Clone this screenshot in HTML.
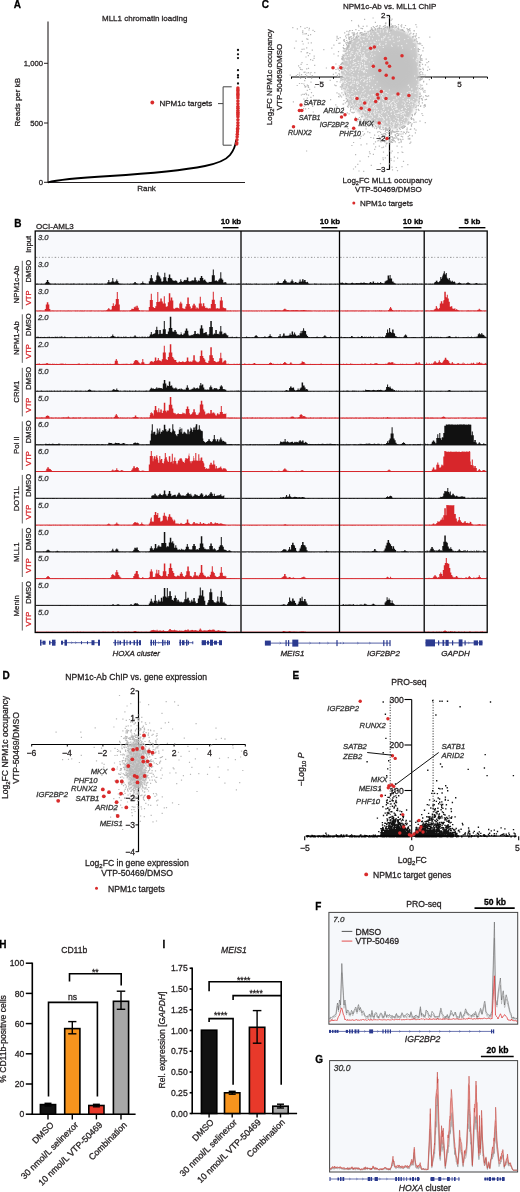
<!DOCTYPE html>
<html><head><meta charset="utf-8"><title>Figure</title>
<style>
html,body{margin:0;padding:0;background:#fff;}
body{width:520px;height:1192px;overflow:hidden;}
svg{display:block;font-family:"Liberation Sans", Arial, Helvetica, sans-serif;}
</style></head><body>
<svg width="520" height="1192" viewBox="0 0 520 1192">
<defs><filter id="blur3" x="-50%" y="-50%" width="200%" height="200%"><feGaussianBlur stdDeviation="3"/></filter><filter id="blur2" x="-50%" y="-50%" width="200%" height="200%"><feGaussianBlur stdDeviation="2"/></filter><filter id="blur1" x="-50%" y="-50%" width="200%" height="200%"><feGaussianBlur stdDeviation="1"/></filter></defs>
<rect width="520" height="1192" fill="#fff"/>
<text x="13.70" y="7.80" font-size="10" font-weight="bold" fill="#000" stroke="#000" stroke-width="0.28">A</text>
<text x="102.00" y="21.18" font-size="8" fill="#231f20" stroke="#231f20" stroke-width="0.28">MLL1 chromatin loading</text>
<line x1="48.00" y1="21.50" x2="48.00" y2="182.50" stroke="#231f20" stroke-width="1.1"/>
<line x1="47.50" y1="182.50" x2="245.00" y2="182.50" stroke="#231f20" stroke-width="1.1"/>
<line x1="44.00" y1="63.30" x2="48.00" y2="63.30" stroke="#231f20" stroke-width="1"/>
<text x="43.00" y="66.07" font-size="7.7" text-anchor="end" fill="#231f20" stroke="#231f20" stroke-width="0.28">1,000</text>
<line x1="44.00" y1="123.00" x2="48.00" y2="123.00" stroke="#231f20" stroke-width="1"/>
<text x="43.00" y="125.77" font-size="7.7" text-anchor="end" fill="#231f20" stroke="#231f20" stroke-width="0.28">500</text>
<line x1="44.00" y1="182.30" x2="48.00" y2="182.30" stroke="#231f20" stroke-width="1"/>
<text x="43.00" y="185.07" font-size="7.7" text-anchor="end" fill="#231f20" stroke="#231f20" stroke-width="0.28">0</text>
<text transform="translate(19.68,102.20) rotate(-90)" font-size="8" text-anchor="middle" fill="#231f20" stroke="#231f20" stroke-width="0.28">Reads per kB</text>
<text x="146.50" y="191.38" font-size="8" text-anchor="middle" fill="#231f20" stroke="#231f20" stroke-width="0.28">Rank</text>
<path d="M48,182.3 C60,179 80,177.8 110,176 C150,173.5 185,170 205,166 C218,163.3 226,160 230,155 C234,150 235.5,146 236.2,140" fill="none" stroke="#000" stroke-width="1.9"/>
<path d="M231.7,86.8 H223.1 V145.2 H231.7 M223.1,103.6 H218" fill="none" stroke="#444" stroke-width="1"/>
<circle cx="152.30" cy="102.50" r="1.9" fill="#d92b2b"/>
<text x="159.40" y="105.68" font-size="8" fill="#231f20" stroke="#231f20" stroke-width="0.28">NPM1c targets</text>
<circle cx="238.00" cy="50.00" r="1.15" fill="#111"/>
<circle cx="238.00" cy="54.30" r="1.15" fill="#111"/>
<circle cx="238.00" cy="58.10" r="1.15" fill="#111"/>
<circle cx="238.00" cy="70.20" r="1.15" fill="#111"/>
<circle cx="238.00" cy="75.20" r="1.15" fill="#111"/>
<circle cx="238.00" cy="77.40" r="1.15" fill="#111"/>
<circle cx="238.00" cy="83.50" r="1.15" fill="#111"/>
<circle cx="237.90" cy="88.00" r="1.75" fill="#d92b2b"/>
<circle cx="237.90" cy="89.67" r="1.75" fill="#d92b2b"/>
<circle cx="237.90" cy="91.08" r="1.75" fill="#d92b2b"/>
<circle cx="237.90" cy="93.07" r="1.75" fill="#d92b2b"/>
<circle cx="237.90" cy="94.58" r="1.75" fill="#d92b2b"/>
<circle cx="237.90" cy="95.91" r="1.75" fill="#d92b2b"/>
<circle cx="237.90" cy="97.92" r="1.75" fill="#d92b2b"/>
<circle cx="237.90" cy="100.95" r="1.75" fill="#d92b2b"/>
<circle cx="237.90" cy="103.75" r="1.75" fill="#d92b2b"/>
<circle cx="237.90" cy="106.48" r="1.75" fill="#d92b2b"/>
<circle cx="237.90" cy="108.13" r="1.75" fill="#d92b2b"/>
<circle cx="237.90" cy="110.40" r="1.75" fill="#d92b2b"/>
<circle cx="237.90" cy="112.15" r="1.75" fill="#d92b2b"/>
<circle cx="237.90" cy="113.70" r="1.75" fill="#d92b2b"/>
<circle cx="237.90" cy="115.11" r="1.75" fill="#d92b2b"/>
<circle cx="237.90" cy="116.74" r="1.75" fill="#d92b2b"/>
<circle cx="237.90" cy="119.80" r="1.75" fill="#d92b2b"/>
<circle cx="237.90" cy="122.65" r="1.75" fill="#d92b2b"/>
<circle cx="237.87" cy="125.47" r="1.75" fill="#d92b2b"/>
<circle cx="237.69" cy="128.27" r="1.75" fill="#d92b2b"/>
<circle cx="237.58" cy="129.85" r="1.75" fill="#d92b2b"/>
<circle cx="237.47" cy="131.67" r="1.75" fill="#d92b2b"/>
<circle cx="237.31" cy="134.13" r="1.75" fill="#d92b2b"/>
<circle cx="237.13" cy="136.79" r="1.75" fill="#d92b2b"/>
<circle cx="236.94" cy="139.70" r="1.75" fill="#d92b2b"/>
<circle cx="236.75" cy="142.66" r="1.75" fill="#d92b2b"/>
<circle cx="236.66" cy="144.04" r="1.75" fill="#d92b2b"/>
<text x="261.70" y="7.90" font-size="10" font-weight="bold" fill="#000" stroke="#000" stroke-width="0.28">C</text>
<text x="343.00" y="8.78" font-size="8" fill="#231f20" stroke="#231f20" stroke-width="0.28">NPM1c-Ab vs. MLL1 ChIP</text>
<line x1="389.50" y1="15.40" x2="389.50" y2="169.60" stroke="#000" stroke-width="1.2"/>
<line x1="291.00" y1="77.00" x2="487.50" y2="77.00" stroke="#000" stroke-width="1.2"/>
<line x1="291.50" y1="77.00" x2="291.50" y2="78.80" stroke="#000" stroke-width="1"/>
<line x1="305.50" y1="77.00" x2="305.50" y2="78.80" stroke="#000" stroke-width="1"/>
<line x1="319.50" y1="77.00" x2="319.50" y2="78.80" stroke="#000" stroke-width="1"/>
<line x1="333.50" y1="77.00" x2="333.50" y2="78.80" stroke="#000" stroke-width="1"/>
<line x1="347.50" y1="77.00" x2="347.50" y2="78.80" stroke="#000" stroke-width="1"/>
<line x1="361.50" y1="77.00" x2="361.50" y2="78.80" stroke="#000" stroke-width="1"/>
<line x1="375.50" y1="77.00" x2="375.50" y2="78.80" stroke="#000" stroke-width="1"/>
<line x1="389.50" y1="77.00" x2="389.50" y2="78.80" stroke="#000" stroke-width="1"/>
<line x1="403.50" y1="77.00" x2="403.50" y2="78.80" stroke="#000" stroke-width="1"/>
<line x1="417.50" y1="77.00" x2="417.50" y2="78.80" stroke="#000" stroke-width="1"/>
<line x1="431.50" y1="77.00" x2="431.50" y2="78.80" stroke="#000" stroke-width="1"/>
<line x1="445.50" y1="77.00" x2="445.50" y2="78.80" stroke="#000" stroke-width="1"/>
<line x1="459.50" y1="77.00" x2="459.50" y2="78.80" stroke="#000" stroke-width="1"/>
<line x1="473.50" y1="77.00" x2="473.50" y2="78.80" stroke="#000" stroke-width="1"/>
<line x1="487.50" y1="77.00" x2="487.50" y2="78.80" stroke="#000" stroke-width="1"/>
<line x1="386.50" y1="15.40" x2="389.50" y2="15.40" stroke="#000" stroke-width="1"/>
<line x1="386.50" y1="46.20" x2="389.50" y2="46.20" stroke="#000" stroke-width="1"/>
<line x1="386.50" y1="77.00" x2="389.50" y2="77.00" stroke="#000" stroke-width="1"/>
<line x1="386.50" y1="107.80" x2="389.50" y2="107.80" stroke="#000" stroke-width="1"/>
<line x1="386.50" y1="138.60" x2="389.50" y2="138.60" stroke="#000" stroke-width="1"/>
<line x1="386.50" y1="169.40" x2="389.50" y2="169.40" stroke="#000" stroke-width="1"/>
<g filter="url(#blur1)"><path d="M357,36.5 L376,29 L391.5,27 L407,32.7 L416.5,42 L418.5,60 L419,80 L418.5,100 L410.8,115 L407,123 L395,129 L384,127 L372,123 L361,115 L349,104 L343.5,88.5 L341.5,73 L343.5,57.7 L349,44 Z" fill="#c9c9c9"/></g>
<g filter="url(#blur3)"><ellipse cx="394" cy="69" rx="21" ry="23" fill="#c2c2c2"/></g>
<path d="M376.5 102.1h0M381.6 115.5h0M412.1 106.8h0M358.1 78.1h0M356.9 82.7h0M352.3 81.8h0M386.7 118.0h0M376.4 29.7h0M415.1 42.1h0M383.8 118.0h0M366.4 116.3h0M363.7 81.6h0M400.5 96.4h0M353.0 83.4h0M408.2 85.4h0M385.7 103.7h0M384.2 108.9h0M374.0 100.1h0M353.7 96.4h0M349.9 72.8h0M379.5 44.4h0M346.0 92.2h0M386.9 117.0h0M404.4 120.2h0M414.9 103.2h0M343.6 76.2h0M372.5 38.8h0M350.9 55.6h0M357.9 54.8h0M393.4 99.9h0M350.2 78.1h0M416.4 59.2h0M344.8 57.5h0M416.9 101.6h0M405.2 107.6h0M367.0 48.4h0M362.8 58.5h0M382.6 97.0h0M375.6 31.2h0M348.9 94.3h0M354.1 81.9h0M356.6 52.0h0M383.1 40.0h0M348.0 93.6h0M356.2 91.3h0M417.7 57.6h0M398.6 125.9h0M367.6 77.9h0M353.7 66.6h0M349.8 99.0h0M387.5 31.9h0M414.5 47.5h0M363.1 76.3h0M363.4 70.9h0M357.5 88.5h0M354.6 98.6h0M388.1 37.8h0M379.7 116.6h0M364.5 70.8h0M392.2 37.0h0M371.8 53.9h0M399.1 122.3h0M391.6 45.3h0M407.2 101.1h0M375.4 84.6h0M382.9 94.5h0M353.0 69.8h0M370.7 108.4h0M403.9 113.6h0M359.3 51.2h0M364.7 36.8h0M397.2 108.8h0M354.6 99.0h0M365.5 68.8h0M358.6 72.7h0M360.0 107.7h0M364.9 112.6h0M366.0 105.0h0M373.2 89.7h0M409.5 118.5h0M355.8 107.8h0M387.6 105.0h0M400.1 112.0h0M357.9 108.6h0M387.4 127.5h0M390.4 103.8h0M353.3 63.3h0M373.9 108.0h0M371.2 78.7h0M373.4 100.5h0M354.7 62.9h0M389.3 39.8h0M345.6 73.7h0M376.9 113.2h0M350.2 94.3h0M379.1 101.8h0M360.5 65.9h0M344.8 87.1h0M347.4 86.9h0M378.3 103.2h0M380.5 122.9h0M396.2 109.4h0M360.0 49.9h0M356.8 46.9h0M417.1 59.6h0M396.2 104.7h0M386.7 122.4h0M365.0 71.9h0M393.0 101.5h0M353.7 92.1h0M377.7 45.7h0M343.8 83.6h0M364.7 59.6h0M363.5 87.8h0M350.4 81.0h0M353.4 49.0h0M410.5 92.0h0M394.1 124.8h0M345.2 81.0h0M366.0 45.2h0M345.7 56.7h0M396.9 98.8h0M355.8 69.1h0M362.9 102.0h0M349.7 70.0h0M379.0 124.0h0M357.5 96.8h0M413.5 110.1h0M376.3 108.0h0M361.1 114.0h0M412.0 92.4h0M348.7 89.0h0M360.5 80.8h0M387.4 31.8h0M371.3 51.0h0M352.7 53.5h0M350.3 65.0h0M388.6 115.5h0M357.6 105.2h0M352.1 101.2h0M390.1 119.1h0M378.3 124.7h0M364.2 81.7h0M387.5 127.8h0M409.2 118.9h0M416.0 60.8h0M366.0 65.7h0M411.9 100.9h0M384.1 119.8h0M353.4 59.5h0M373.8 94.8h0M403.1 101.0h0M354.5 81.3h0M372.8 106.8h0M374.6 108.1h0M367.3 65.9h0M377.1 101.1h0M404.4 102.0h0M363.1 44.8h0M395.4 30.1h0M409.6 99.6h0M356.7 95.7h0M344.9 66.1h0M418.1 84.5h0M396.7 123.4h0M366.1 112.8h0M400.3 95.6h0M416.4 102.6h0M346.0 69.3h0M354.9 66.2h0M364.1 93.9h0M372.0 103.1h0M360.1 67.7h0M352.8 100.8h0M368.4 35.3h0M354.6 105.9h0M402.6 48.1h0M356.4 81.8h0M378.2 97.7h0M375.1 50.4h0M376.5 98.1h0M382.6 90.7h0M355.2 57.8h0M374.8 114.9h0M358.1 87.7h0M361.1 40.6h0M368.2 94.9h0M357.3 66.4h0M374.7 118.4h0M354.6 62.6h0M367.1 104.2h0M364.7 55.4h0M403.0 113.8h0M366.1 80.1h0M404.4 116.5h0M388.9 126.9h0M358.7 90.6h0M388.1 101.4h0M360.7 47.6h0M401.4 93.7h0M370.3 105.1h0M387.0 29.8h0M392.4 101.6h0M366.9 44.0h0M382.4 123.2h0M363.5 71.5h0M358.8 112.9h0M364.4 117.2h0M350.9 77.1h0M356.9 107.4h0M396.7 97.8h0M362.7 59.0h0M361.3 61.0h0M369.9 115.4h0M348.2 98.1h0M359.4 107.3h0M377.1 99.5h0M415.7 103.3h0M398.0 115.9h0M374.9 42.5h0M344.9 76.3h0M363.8 111.2h0M397.5 37.2h0M354.7 109.2h0M385.6 111.5h0M383.9 126.6h0M374.7 112.9h0M355.5 69.8h0M393.4 110.3h0M350.7 56.1h0M408.2 107.5h0M416.8 61.7h0M412.7 92.1h0M408.0 117.6h0M394.9 29.7h0M364.4 62.3h0M382.6 102.4h0M348.8 56.5h0M397.7 122.0h0M381.7 125.5h0M366.0 57.7h0M355.4 78.1h0M371.8 115.4h0M365.9 33.7h0M377.0 89.3h0M378.1 117.6h0M364.8 66.2h0M357.9 81.3h0M390.5 39.8h0M363.4 98.7h0M383.0 121.0h0M348.0 61.0h0M365.9 59.5h0M361.6 59.3h0M367.2 58.6h0M405.4 107.4h0M361.0 61.8h0M408.2 104.4h0M395.1 103.5h0M379.7 122.2h0M379.4 101.7h0M399.0 112.8h0M418.9 64.2h0M411.8 88.7h0M355.7 62.6h0M369.0 39.0h0M347.7 54.2h0M389.2 104.7h0M374.8 110.3h0M360.6 85.5h0M406.7 43.3h0M350.7 46.5h0M372.4 87.4h0M387.3 114.0h0M390.4 128.4h0M378.2 33.4h0M365.9 99.2h0M394.1 123.5h0M378.9 40.3h0M379.0 116.4h0M354.7 98.3h0M375.8 104.7h0M360.7 77.2h0M357.2 66.5h0M346.4 93.2h0M401.4 114.5h0M380.2 45.3h0M359.1 37.0h0M372.6 56.4h0M368.4 51.2h0M383.4 30.8h0M388.8 100.6h0M393.9 94.9h0M357.1 109.1h0M379.2 122.0h0M357.7 53.7h0M404.8 96.9h0M383.4 99.4h0M370.5 55.9h0M352.8 51.7h0M356.1 68.4h0M349.4 103.7h0M359.2 103.6h0M355.1 97.8h0M361.9 55.9h0M402.4 108.6h0M391.4 102.6h0M363.1 57.1h0M386.1 106.0h0M368.4 95.7h0M383.4 118.3h0M367.6 37.0h0M382.6 98.3h0M396.2 106.1h0M379.1 116.8h0M365.5 109.4h0M395.6 120.6h0M364.1 50.6h0M349.6 96.0h0M400.8 126.7h0M361.6 98.5h0M363.7 52.7h0M352.6 98.1h0M363.0 101.2h0M404.3 105.6h0M387.5 105.1h0M372.4 121.7h0M396.4 108.4h0M350.9 59.5h0M355.6 56.8h0M380.6 117.6h0M387.8 93.5h0M353.0 86.0h0M358.7 106.2h0M384.0 123.0h0M413.1 101.8h0M391.5 111.5h0M352.8 89.6h0M369.0 33.7h0M363.1 78.8h0M367.4 79.6h0M366.8 68.5h0M414.0 109.8h0M401.3 112.7h0M345.4 91.6h0M386.5 117.1h0M364.8 45.7h0M359.1 38.1h0M357.0 95.5h0M369.8 90.1h0M385.3 126.8h0M352.7 79.8h0M370.1 76.8h0M402.3 119.5h0M367.3 84.9h0M411.3 49.1h0M374.2 75.4h0M363.7 55.9h0M346.6 57.0h0M362.3 45.0h0M383.9 36.7h0M364.4 63.8h0M390.6 122.8h0M363.8 36.8h0M387.6 98.7h0M408.4 111.4h0M345.6 81.6h0M385.8 44.2h0M354.4 97.5h0M353.7 72.5h0M405.3 113.9h0M371.9 94.8h0M369.7 118.6h0M360.3 66.4h0M388.3 110.2h0M361.4 99.9h0M376.6 40.4h0M374.7 114.2h0M364.0 39.8h0M383.3 32.0h0M401.4 109.4h0M359.2 50.7h0M365.8 42.6h0M364.7 80.7h0M366.5 72.6h0M369.8 81.1h0M370.3 113.5h0M362.3 98.3h0M376.4 31.0h0M362.0 70.5h0M367.3 82.0h0M372.7 117.4h0M387.4 30.6h0M401.2 121.6h0M365.1 67.7h0M400.7 95.8h0M354.7 58.6h0M378.3 50.1h0M354.0 99.3h0M385.6 111.6h0M416.6 86.3h0M391.2 111.8h0M379.2 35.8h0M390.1 124.5h0M401.0 114.8h0M351.1 69.0h0M367.6 104.1h0M403.4 115.2h0M358.7 63.4h0M403.1 98.4h0M353.6 59.0h0M365.3 92.8h0M355.4 104.3h0M394.3 111.9h0M382.9 124.8h0M362.4 91.3h0M347.2 50.7h0M345.0 90.8h0M413.5 109.0h0M370.9 120.7h0M364.9 58.5h0M399.2 110.3h0M389.3 90.0h0M399.6 123.3h0M377.1 33.0h0M348.4 93.6h0M369.4 100.2h0M396.9 127.9h0M402.4 111.3h0M415.9 91.1h0M357.6 99.5h0M369.5 32.4h0M386.0 104.0h0M373.5 106.4h0M366.8 37.2h0M401.4 45.7h0M379.9 43.3h0M370.5 89.7h0M398.5 121.8h0M370.8 35.6h0M357.0 96.3h0M399.9 95.1h0M354.3 83.3h0M381.8 113.2h0M360.6 112.2h0M363.0 110.7h0M352.1 96.5h0M367.1 34.2h0M369.4 38.0h0M360.1 64.0h0M352.9 63.8h0M343.4 80.3h0M358.8 83.4h0M416.6 79.7h0M358.7 41.9h0M386.3 100.7h0M368.6 113.7h0M350.3 85.4h0M344.7 83.3h0M348.8 47.8h0M347.0 76.0h0M393.4 28.7h0M354.0 77.6h0M370.7 104.0h0M366.3 106.1h0M360.3 103.0h0M363.1 52.5h0M350.0 54.9h0M386.7 121.4h0M366.6 58.7h0M398.8 97.0h0M345.9 93.9h0M404.5 117.5h0M363.4 39.4h0M359.0 49.4h0M386.1 41.4h0M399.0 93.4h0M346.7 82.4h0M370.9 42.2h0M352.0 91.4h0M360.2 51.4h0M400.4 126.7h0M394.0 107.5h0M412.4 104.3h0M348.0 91.6h0M368.0 108.4h0M363.6 90.9h0M360.7 36.5h0M356.9 87.0h0M361.9 68.8h0M363.2 96.7h0M342.9 70.2h0M357.9 102.5h0M348.2 84.1h0M361.7 111.3h0M351.1 84.6h0M367.1 98.6h0M410.3 104.9h0M365.1 98.2h0M405.8 106.0h0M379.5 101.6h0M359.4 44.9h0M391.4 105.9h0M367.6 68.8h0M360.7 39.8h0M380.3 32.0h0M405.8 110.6h0M362.9 114.6h0M367.3 68.4h0M379.3 113.9h0M398.5 118.5h0M409.6 100.7h0M383.1 45.5h0M394.9 113.8h0M411.7 113.7h0M387.2 121.2h0M369.0 106.0h0M392.9 122.6h0M367.4 33.4h0M356.9 43.2h0M380.3 30.0h0M362.5 43.7h0M383.7 124.1h0M413.5 109.4h0M370.6 119.5h0M360.2 96.8h0M355.9 64.5h0M346.5 70.3h0M401.1 112.9h0M382.4 93.1h0M356.2 45.9h0M387.6 123.0h0M383.6 109.6h0M382.3 117.1h0M399.0 123.3h0M393.6 126.0h0M383.5 105.0h0M407.3 92.6h0M372.7 33.9h0M365.3 57.6h0M368.6 111.6h0M347.8 71.1h0M375.7 106.9h0M394.0 42.6h0M374.1 105.4h0M377.2 81.9h0M407.1 101.3h0M393.4 126.9h0M357.9 42.4h0M377.3 33.8h0M403.5 122.8h0M369.3 61.9h0M403.8 111.6h0M375.2 101.1h0M364.0 72.3h0M348.2 99.1h0M407.5 118.1h0M372.1 108.1h0M367.4 42.6h0M397.7 121.2h0M351.1 52.4h0M353.1 77.0h0M387.0 127.0h0M385.2 103.9h0M373.5 35.7h0M357.9 61.2h0M365.0 105.4h0M371.1 118.0h0M379.8 100.9h0M362.2 43.7h0M351.7 51.8h0M357.1 84.2h0M394.8 122.4h0M390.9 103.1h0M350.4 60.2h0M355.7 54.8h0M381.5 39.9h0M364.6 56.8h0M402.2 104.1h0M407.9 99.5h0M351.8 43.6h0M399.4 36.9h0M401.7 125.9h0M391.4 114.3h0M375.0 114.2h0M406.0 117.4h0M383.9 107.1h0M417.5 102.4h0M369.5 34.0h0M360.2 95.2h0M378.8 97.9h0M397.2 118.5h0M376.7 111.6h0M412.3 104.8h0M396.5 106.8h0M346.3 82.6h0M359.9 69.1h0M372.5 50.3h0M389.6 100.8h0M364.6 76.1h0M414.8 42.8h0M364.8 80.0h0M358.0 100.9h0M415.8 93.4h0M369.6 77.3h0M353.5 61.8h0M356.0 52.9h0M367.4 105.3h0M382.9 91.0h0M345.3 69.4h0M390.5 111.9h0M412.1 108.9h0M349.3 96.2h0M394.9 95.2h0M382.3 117.6h0M362.5 64.3h0M398.5 113.1h0M370.6 98.2h0M359.4 55.7h0M402.1 109.5h0M409.5 102.6h0M369.1 95.6h0M381.9 38.9h0M356.6 110.6h0M404.6 112.8h0M361.7 93.9h0M363.6 57.9h0M393.2 124.3h0M344.9 67.1h0M409.1 91.6h0M390.1 127.1h0M370.8 46.1h0M417.5 66.8h0M346.0 90.9h0M393.0 36.1h0M348.2 63.0h0M368.2 102.8h0M384.9 37.1h0M360.4 48.8h0M389.6 117.6h0M376.7 111.1h0M387.7 106.4h0M379.0 101.4h0M402.8 113.8h0M347.3 54.5h0M390.7 121.2h0M343.6 81.6h0M378.8 115.6h0M346.1 94.6h0M391.7 107.1h0M392.5 108.6h0M397.1 109.2h0M374.1 41.9h0M364.4 112.0h0M408.2 38.4h0M373.7 112.7h0M358.1 76.6h0M361.4 58.2h0M367.3 35.0h0M369.2 108.3h0M353.0 78.8h0M392.1 105.6h0M349.6 50.5h0M384.2 119.6h0M368.8 118.1h0M346.7 89.7h0M345.1 72.8h0M396.9 102.4h0M380.1 114.4h0M401.3 112.0h0M408.7 85.1h0M399.0 113.5h0M383.0 111.6h0M412.4 104.4h0M372.0 60.0h0M369.0 77.6h0M352.3 76.9h0M394.9 99.9h0M344.0 75.2h0M356.5 82.8h0M357.0 103.0h0M360.3 109.0h0M367.3 106.7h0M418.0 52.2h0M404.7 39.6h0M404.7 104.6h0M392.1 46.4h0M369.1 39.3h0M357.0 99.6h0M411.8 89.4h0M391.1 125.7h0M383.2 106.7h0M351.0 53.8h0M361.8 57.5h0M357.6 84.6h0M378.6 114.1h0M414.7 76.0h0M378.7 35.0h0M406.5 108.4h0M384.8 112.5h0M393.0 127.1h0M349.1 81.5h0M348.9 76.3h0M372.3 116.4h0M352.2 96.9h0M353.1 41.2h0M360.3 65.4h0M367.1 52.0h0M375.1 48.7h0M388.2 102.2h0M345.7 83.5h0M366.3 109.2h0M357.9 52.4h0M392.1 95.8h0M373.4 94.7h0M353.1 104.9h0M395.0 103.8h0M370.6 114.7h0M371.3 77.0h0M411.0 101.4h0M388.9 37.2h0M347.0 60.4h0M376.9 120.2h0M363.3 101.5h0M362.2 43.4h0M393.2 39.1h0M362.5 62.5h0M366.5 110.8h0M395.5 106.9h0M394.8 105.6h0M364.8 56.9h0M403.9 118.4h0M350.1 99.2h0M384.9 126.3h0M351.0 85.3h0M351.6 69.3h0M363.5 115.6h0M372.0 44.8h0M368.2 101.8h0M377.1 108.3h0M367.6 96.7h0M393.7 124.7h0M360.9 108.9h0M343.7 65.9h0M362.3 64.9h0M376.8 108.9h0M396.2 117.3h0M362.8 36.6h0M382.2 123.9h0M364.8 89.7h0M383.2 91.3h0M369.2 108.7h0M414.9 93.2h0M391.9 104.7h0M361.7 112.7h0M390.1 34.7h0M412.9 102.0h0M352.0 69.5h0M372.4 87.2h0M371.6 67.3h0M347.8 98.3h0M368.2 118.7h0M358.3 101.0h0M413.7 99.5h0M345.1 85.3h0M370.3 49.1h0M361.3 79.5h0M351.9 93.5h0M402.0 45.8h0M381.5 95.7h0M345.7 60.3h0M398.5 119.8h0M358.0 66.1h0M381.5 122.6h0M401.8 109.3h0M346.6 67.1h0M399.4 40.7h0M371.7 46.4h0M358.1 82.6h0M406.3 33.8h0M397.8 94.3h0M398.2 101.0h0M391.6 111.2h0M394.4 114.5h0M416.0 98.3h0M384.0 90.7h0M347.5 51.1h0M382.1 112.3h0M375.1 97.2h0M344.8 72.0h0M350.6 47.2h0M352.1 74.7h0M349.3 48.4h0M358.7 61.4h0M381.2 110.8h0M380.3 87.5h0M362.9 53.2h0M371.4 112.1h0M383.7 38.4h0M365.3 65.7h0M351.3 84.1h0M373.5 78.8h0M384.2 37.3h0M351.4 105.4h0M357.9 75.3h0M374.3 111.3h0M364.4 65.4h0M378.3 110.5h0M369.5 79.3h0M343.7 79.0h0M347.7 88.0h0M362.6 58.5h0M413.3 58.1h0M385.8 99.1h0M346.9 88.7h0M352.2 91.0h0M343.1 70.7h0M350.1 103.7h0M394.0 119.2h0M360.4 53.3h0M373.9 95.8h0M379.2 97.5h0M401.0 116.7h0M417.6 98.7h0M373.6 62.7h0M367.1 82.6h0M362.5 45.7h0M362.7 67.3h0M374.8 55.2h0M398.0 41.2h0M361.3 54.9h0M383.3 47.5h0M418.4 101.4h0M409.5 87.0h0M391.5 121.4h0M366.3 85.2h0M346.8 79.9h0M347.9 97.2h0M358.6 38.1h0M386.7 96.2h0M392.3 108.5h0M410.4 93.5h0M415.1 97.3h0M395.3 109.3h0M401.5 123.6h0M369.9 81.7h0M357.8 49.5h0M354.5 55.6h0M385.6 35.8h0M353.5 104.3h0M395.8 115.4h0M364.6 70.7h0M361.2 111.3h0M389.5 105.4h0M362.9 86.8h0M418.7 86.6h0M385.9 92.6h0M345.4 59.7h0M369.3 119.3h0M359.9 38.1h0M413.3 42.3h0M366.0 60.6h0M399.3 123.9h0M351.2 71.4h0M382.6 104.1h0M378.5 29.4h0M398.0 113.3h0M417.5 90.2h0M364.5 98.0h0M360.0 109.2h0M406.0 117.1h0M358.3 46.9h0M389.6 32.6h0M350.7 45.0h0M364.6 54.2h0M394.3 102.2h0M386.0 43.4h0M386.4 92.6h0M383.2 103.5h0M386.3 31.8h0M382.8 107.5h0M381.7 38.6h0M345.2 77.2h0M379.6 51.5h0M369.5 85.9h0M359.0 70.0h0M367.1 47.7h0M403.1 124.9h0M361.6 106.0h0M398.2 45.8h0M350.6 45.7h0M355.5 90.5h0M405.4 103.1h0M396.9 113.4h0M352.3 67.1h0M354.7 95.7h0M352.8 70.6h0M347.2 66.5h0M352.7 102.7h0M397.7 113.7h0" fill="none" stroke="#f2f2f2" stroke-width="1.0" stroke-linecap="square"/>
<path d="M410.9 33.2h0M334.6 85.0h0M402.0 166.7h0M387.6 27.3h0M363.2 26.4h0M417.4 41.9h0M415.5 36.8h0M369.2 123.8h0M371.0 122.9h0M388.6 131.3h0M385.8 134.6h0M415.0 113.3h0M395.9 27.5h0M351.2 41.1h0M397.3 131.2h0M384.9 141.6h0M385.2 25.6h0M340.4 77.1h0M418.2 49.6h0M339.3 65.9h0M348.2 107.1h0M358.8 26.7h0M355.5 117.3h0M338.2 69.1h0M349.7 30.5h0M341.0 79.1h0M420.5 79.2h0M389.8 131.8h0M369.6 123.6h0M410.1 30.8h0M333.9 54.0h0M410.8 142.2h0M366.8 143.9h0M419.7 62.5h0M397.3 131.7h0M368.9 124.5h0M338.2 55.8h0M375.4 22.3h0M342.2 77.4h0M416.2 109.9h0M422.9 74.6h0M343.5 104.2h0M342.0 72.9h0M345.0 92.2h0M432.6 77.3h0M400.4 30.0h0M383.4 26.5h0M421.6 98.7h0M348.2 46.8h0M378.9 28.8h0M418.3 48.7h0M365.0 123.4h0M407.2 128.2h0M416.2 109.3h0M420.3 58.1h0M414.3 31.0h0M353.6 136.7h0M371.3 29.5h0M347.5 106.3h0M337.9 76.6h0M429.6 69.3h0M428.6 61.7h0M398.3 27.1h0M384.0 129.1h0M344.6 41.5h0M375.3 29.4h0M338.0 68.0h0M405.3 126.3h0M407.0 131.1h0M379.3 127.5h0M390.8 158.6h0M402.0 152.0h0M412.1 118.8h0M351.8 106.9h0M359.4 117.5h0M411.0 118.5h0M338.6 96.5h0M380.5 163.6h0M333.4 74.3h0M426.5 99.3h0M419.4 99.0h0M408.1 124.5h0M422.1 60.3h0M420.0 121.2h0M399.3 128.0h0M422.8 115.5h0M343.2 47.6h0M422.9 89.8h0M340.7 96.0h0M427.0 62.6h0M348.7 42.9h0M375.6 146.9h0M390.9 27.0h0M342.7 62.6h0M350.2 106.0h0M355.6 154.6h0M420.0 66.4h0M385.3 131.7h0M416.5 106.0h0M413.3 34.2h0M342.2 68.2h0M416.7 27.0h0M341.1 64.7h0M335.9 64.0h0M429.8 37.2h0M415.4 113.7h0M362.1 33.0h0M350.7 109.5h0M423.6 91.8h0M326.4 68.0h0M412.9 37.7h0M420.7 69.3h0M372.4 29.1h0M345.4 51.1h0M353.6 142.5h0M403.1 128.1h0M396.3 26.6h0M369.8 132.7h0M412.4 115.6h0M394.1 161.0h0M361.1 136.4h0M419.7 64.7h0M341.8 84.8h0M427.2 96.3h0M393.8 27.1h0M366.9 26.2h0M343.3 94.8h0M347.7 48.8h0M375.2 28.7h0M363.3 34.7h0M422.8 88.0h0M391.1 132.9h0M348.0 101.5h0M422.4 100.2h0M340.4 86.9h0M376.2 26.5h0M343.2 83.9h0M425.5 64.8h0M422.0 85.4h0M364.5 133.9h0M390.9 152.8h0M342.3 56.7h0M360.1 119.8h0M413.7 33.5h0M341.0 80.5h0M345.3 102.9h0M395.1 132.3h0M420.8 79.6h0M372.8 126.8h0M341.3 79.0h0M399.1 142.7h0M343.7 40.6h0M376.8 127.9h0M341.4 63.8h0M370.0 31.2h0M372.5 124.6h0M391.8 131.2h0M364.5 120.3h0M385.5 133.8h0M421.0 89.4h0M354.2 32.9h0M422.7 88.4h0M419.8 43.1h0M386.1 140.7h0M416.5 38.8h0M367.2 119.8h0M402.6 29.7h0M344.2 51.2h0M401.7 30.0h0M392.0 142.4h0M342.8 67.5h0M405.5 25.5h0M360.8 119.2h0M360.9 122.1h0M343.6 55.8h0M339.0 73.7h0M344.2 48.5h0M398.5 24.6h0M424.8 104.7h0M349.3 43.4h0M385.9 130.1h0M409.8 28.6h0M389.0 128.6h0M420.0 77.9h0M375.3 125.9h0M364.1 123.0h0M425.4 106.1h0M387.3 27.7h0M373.3 26.6h0M385.8 129.6h0M419.8 76.8h0M367.8 131.9h0M345.9 53.7h0M360.1 33.7h0M348.8 44.9h0M414.1 30.6h0M337.0 81.7h0M401.2 131.6h0M392.8 26.5h0M369.0 121.3h0M387.3 17.1h0M398.6 135.5h0M368.1 31.7h0M374.6 128.0h0M335.7 112.2h0M368.1 121.7h0M341.8 58.6h0M376.1 126.3h0M350.6 107.8h0M347.7 47.3h0M392.1 19.2h0M424.9 90.5h0M347.3 112.9h0M408.0 30.2h0M401.6 29.8h0M374.3 27.5h0M364.0 119.3h0M420.7 62.7h0M358.4 119.6h0M412.8 36.6h0M341.8 89.1h0M420.5 85.0h0M403.2 30.6h0M420.5 106.4h0M348.4 105.2h0M341.4 69.3h0M411.5 126.1h0M418.5 51.3h0M411.4 125.0h0M419.8 98.1h0M342.8 57.9h0M421.2 95.9h0M424.1 107.1h0M401.7 24.8h0M385.8 23.6h0M428.6 95.8h0M362.5 28.7h0M385.8 22.9h0M375.7 29.8h0M353.1 112.9h0M356.4 36.7h0M386.1 130.1h0M355.9 29.6h0M361.5 32.9h0M347.4 100.3h0M361.1 144.8h0M379.3 27.7h0M343.0 58.0h0M341.0 66.9h0M355.9 37.8h0M404.3 132.4h0M359.0 171.0h0M369.5 151.8h0M415.0 39.3h0M418.3 109.4h0M402.2 30.4h0M343.1 104.1h0M350.4 43.3h0M357.5 32.9h0M342.2 63.0h0M416.0 122.2h0M377.9 140.8h0M414.6 114.6h0M423.5 47.9h0M350.6 41.7h0M396.6 131.6h0M409.8 139.1h0M342.9 79.7h0M373.1 18.0h0M425.2 99.7h0M386.3 128.2h0M351.3 39.0h0M341.2 68.3h0M352.0 40.3h0M416.0 112.1h0M370.6 124.8h0M411.4 117.6h0M410.2 129.5h0M425.0 92.2h0M344.6 49.0h0M416.4 33.8h0M380.0 25.5h0M419.5 62.1h0M353.5 169.0h0M397.2 129.3h0M398.8 29.1h0M340.8 64.7h0M353.8 39.6h0M387.2 26.5h0M346.3 98.6h0M407.0 129.5h0M383.1 127.3h0M425.3 122.6h0M419.1 54.6h0M409.6 30.0h0M335.8 104.9h0M372.3 30.6h0M348.2 43.3h0M419.7 65.1h0M391.0 20.3h0M347.6 99.9h0M396.3 167.5h0M422.1 45.5h0M423.7 81.4h0M349.9 37.6h0M330.2 80.4h0M403.5 161.4h0M379.1 131.5h0M342.0 69.5h0M420.3 96.5h0M348.9 102.8h0M392.1 25.8h0M363.7 171.3h0M361.8 32.7h0M422.9 68.4h0M391.5 132.4h0M380.5 127.8h0M362.2 35.0h0M396.8 137.1h0M361.1 28.4h0M342.2 85.9h0M343.6 45.4h0M419.7 69.2h0M363.3 135.2h0M422.4 102.9h0M372.9 126.1h0M337.4 75.4h0M361.2 121.0h0M421.9 79.1h0M350.4 110.9h0M341.5 63.4h0M421.7 60.2h0M343.9 88.3h0M374.7 149.4h0M408.0 124.3h0M400.2 129.4h0M423.3 97.0h0M419.9 80.4h0M419.8 72.5h0M366.6 33.5h0M385.1 27.5h0M338.9 93.9h0M422.0 98.9h0M373.9 124.4h0M356.5 37.1h0M371.5 29.3h0M422.6 72.9h0M416.0 35.6h0M408.3 31.9h0M420.9 74.6h0M364.8 31.3h0M340.1 95.1h0M342.1 59.5h0M373.0 126.7h0M365.8 119.1h0M356.9 33.7h0M394.4 157.2h0M342.6 85.8h0M418.9 110.3h0M341.9 87.6h0M407.1 28.6h0M353.4 108.8h0M412.2 114.5h0M368.6 121.8h0M420.0 93.2h0M422.2 88.3h0M344.1 55.2h0M396.4 131.3h0M346.9 47.9h0M419.8 61.7h0M426.2 59.1h0M340.9 77.4h0M378.1 127.0h0M392.3 27.4h0M426.3 96.0h0M342.3 69.5h0M379.9 26.1h0M357.8 164.3h0M391.2 24.2h0M391.5 26.6h0M342.7 112.0h0M341.9 86.4h0M358.1 118.8h0M390.1 17.9h0M364.3 33.9h0M420.5 55.9h0M429.4 79.7h0M330.6 99.6h0M421.8 58.7h0M385.5 23.6h0M336.1 85.6h0M339.0 96.9h0M416.5 41.0h0M427.5 70.4h0M420.0 94.4h0M401.0 25.9h0M403.9 125.5h0M386.9 128.7h0M366.4 122.4h0M389.2 129.1h0M398.0 28.7h0M348.4 46.3h0M421.0 71.7h0M337.1 106.8h0M426.7 84.1h0M390.1 128.7h0M361.6 34.7h0M381.3 28.5h0M373.2 30.5h0M422.5 64.4h0M341.6 97.0h0M428.1 67.0h0M415.9 107.4h0M404.1 27.6h0M404.1 31.7h0M425.6 95.6h0M416.0 130.1h0M333.9 45.1h0M357.1 121.7h0M335.8 85.7h0M342.2 56.9h0M414.1 122.3h0M419.6 49.5h0M419.3 101.1h0M420.2 57.1h0M425.1 105.2h0M413.9 120.1h0M423.4 69.7h0M341.7 71.8h0M424.1 77.5h0M346.6 101.7h0M412.0 123.8h0M345.6 94.5h0M343.3 51.0h0M402.8 152.5h0M413.5 119.0h0M358.3 36.4h0M409.1 123.2h0M345.6 36.1h0M340.6 67.7h0M424.1 105.5h0M395.1 25.6h0M398.4 139.8h0M370.5 30.7h0M336.0 69.5h0M418.2 51.1h0M351.9 145.5h0M383.3 159.6h0M404.5 126.5h0M366.2 126.6h0M337.0 92.9h0M408.9 121.9h0M348.7 45.9h0M363.3 123.5h0M407.8 29.8h0M361.9 116.8h0M402.3 126.3h0M422.0 113.7h0M360.0 161.1h0M371.3 165.4h0M339.4 70.7h0M342.0 86.4h0M349.2 104.2h0M371.7 29.3h0M418.9 102.4h0M364.6 19.4h0M371.4 27.9h0M414.0 36.2h0M392.9 25.7h0M347.5 47.3h0M419.6 73.2h0M384.9 133.5h0M418.9 37.6h0M419.1 101.1h0M404.4 127.5h0M411.4 119.3h0M339.5 74.9h0M382.7 128.0h0M370.1 153.6h0M351.9 112.4h0M340.2 82.0h0M397.5 170.6h0M384.0 28.5h0M343.1 59.8h0M420.7 87.0h0M422.9 50.9h0M354.2 112.4h0M351.9 107.4h0M385.6 27.3h0M341.9 92.8h0M342.8 63.3h0M355.5 166.8h0M390.0 134.2h0M419.4 43.9h0M418.0 43.6h0M348.2 47.3h0M383.0 157.9h0M364.2 119.4h0M377.6 28.8h0M379.6 127.0h0M419.7 75.0h0M390.1 27.1h0M408.0 123.0h0M365.8 33.8h0M418.4 105.6h0M343.0 58.1h0M419.2 103.9h0M362.1 116.3h0M420.7 43.8h0M380.2 126.4h0M355.8 130.4h0M401.6 27.0h0M410.8 129.2h0M346.3 96.0h0M368.6 123.9h0M420.2 59.0h0M419.5 88.5h0M343.1 63.8h0M425.1 75.0h0M341.0 78.6h0M343.4 57.8h0M363.2 34.1h0M419.9 79.5h0M351.2 36.7h0M420.4 60.2h0M423.6 81.9h0M345.3 93.7h0M351.9 38.4h0M410.5 122.7h0M420.7 105.9h0M419.5 96.7h0M395.3 135.5h0M390.0 141.2h0M422.3 78.0h0M401.0 127.1h0M409.8 34.1h0M348.5 34.0h0M379.7 28.3h0M360.7 32.8h0M378.3 125.9h0M349.1 113.9h0M342.1 58.6h0M345.7 93.7h0M384.3 26.0h0M343.9 100.5h0M414.8 40.3h0M338.5 51.7h0M392.5 169.9h0M421.4 55.2h0M404.3 31.5h0M335.9 72.9h0M348.7 37.2h0M377.4 25.9h0M380.6 132.4h0M418.1 105.6h0M361.4 116.9h0M407.8 164.6h0M340.0 43.1h0M342.7 84.0h0M343.6 107.5h0M308.2 86.8h0M308.6 108.5h0M310.3 74.0h0M305.0 72.1h0M300.6 26.6h0M312.9 102.9h0M307.1 27.5h0M323.8 49.6h0M305.0 33.9h0M306.0 93.4h0M305.7 105.0h0M294.5 48.1h0M313.4 95.6h0M307.6 52.7h0M308.4 55.7h0M310.0 102.7h0M308.4 43.0h0M293.4 101.8h0M302.1 49.4h0M301.9 83.5h0M314.8 72.7h0M302.3 41.3h0M303.9 84.0h0M314.1 58.4h0M310.6 34.7h0M305.5 74.5h0M311.0 72.5h0M306.9 73.0h0M300.5 78.5h0M304.0 49.1h0M298.6 65.8h0M301.1 64.4h0M302.0 62.6h0M304.7 80.6h0M312.7 106.4h0M312.3 75.7h0M296.1 41.2h0M306.4 77.5h0M307.1 64.5h0M309.8 53.7h0M307.3 98.2h0M314.7 65.4h0M297.7 74.5h0M309.4 28.3h0M305.2 87.1h0M303.9 99.1h0M305.0 28.4h0M312.3 50.2h0M311.5 92.7h0M304.1 72.3h0M311.3 42.8h0M312.8 60.3h0M310.9 97.3h0M292.8 27.6h0M299.5 83.5h0M305.8 86.7h0M301.2 51.7h0M302.7 32.4h0M301.6 74.7h0M299.7 76.6h0M308.4 35.3h0M308.5 72.7h0M299.5 73.0h0M308.5 95.2h0M302.8 30.8h0M309.7 89.3h0M301.9 110.0h0M301.4 95.0h0M304.5 94.4h0M306.7 68.8h0M304.6 85.6h0M306.7 47.9h0M297.4 28.9h0M307.3 90.3h0M314.7 87.2h0M308.2 85.6h0M303.6 108.7h0M306.8 38.8h0M305.0 102.6h0M303.0 34.0h0M307.8 39.4h0M308.6 87.5h0M306.4 33.6h0M304.2 106.2h0M302.9 94.4h0M308.5 68.3h0M310.6 59.7h0M303.2 44.0h0M309.0 30.0h0M314.2 56.2h0M302.1 69.7h0M311.6 78.3h0M306.9 52.8h0M306.7 75.8h0M306.6 94.6h0M313.0 30.4h0M299.9 67.7h0M296.3 75.6h0M307.3 85.2h0M290.2 75.2h0M300.4 110.4h0M300.6 69.3h0M297.2 85.5h0M305.4 77.8h0M314.6 31.5h0M305.6 108.8h0M306.0 57.0h0M299.6 75.2h0M311.0 82.2h0M313.3 112.0h0M389.9 131.1h0M391.2 160.3h0M389.8 140.2h0M408.7 132.3h0M389.2 151.0h0M408.2 136.6h0M392.0 167.1h0M381.1 129.5h0M389.7 163.9h0M382.6 134.9h0M392.6 142.5h0M386.3 143.9h0M397.6 158.2h0M387.4 130.4h0M398.7 139.2h0M373.6 138.2h0M387.8 137.6h0M386.9 137.3h0M377.7 132.2h0M385.7 146.0h0M379.3 146.2h0M386.9 132.5h0M384.6 135.6h0M409.3 135.5h0M402.9 139.3h0M385.6 127.9h0M391.8 139.6h0M412.3 135.9h0M384.4 138.5h0M397.1 146.1h0M384.7 133.6h0M362.7 131.5h0M388.2 136.9h0M379.6 128.6h0M380.8 140.0h0M408.3 138.8h0M396.0 138.2h0M409.9 143.3h0M389.6 142.4h0M381.0 142.0h0M380.1 139.3h0M385.9 139.4h0M394.2 140.6h0M395.7 136.2h0M393.0 132.2h0M405.7 133.7h0M415.4 132.9h0M409.5 138.9h0M383.3 133.9h0M395.8 138.0h0M389.6 136.5h0M390.3 137.9h0M386.4 143.2h0M385.6 130.4h0M394.1 137.5h0M379.8 137.6h0M393.5 140.1h0M383.4 135.9h0M376.5 128.6h0M398.6 135.1h0M394.9 132.5h0M375.5 141.8h0M403.3 132.0h0M372.2 126.0h0M390.4 132.0h0M397.8 138.8h0M366.1 128.8h0M392.9 138.8h0M368.5 156.7h0M390.5 137.6h0M390.9 136.7h0M382.7 135.7h0M389.0 129.5h0M399.0 133.9h0M386.4 143.4h0M399.6 128.3h0M380.4 141.1h0M395.2 134.5h0M385.3 129.0h0M390.0 144.0h0M383.1 140.8h0M398.4 135.5h0M383.2 129.7h0M392.5 137.3h0M393.8 131.9h0M385.3 157.9h0M392.2 151.2h0M401.9 127.7h0M394.1 138.3h0M391.6 141.6h0M403.0 133.9h0M392.6 130.3h0M381.4 134.4h0M402.5 128.5h0M403.7 126.9h0M393.8 140.8h0M402.6 136.8h0M383.5 152.2h0M401.0 134.1h0M385.2 136.5h0M390.3 129.7h0M388.9 139.3h0M378.7 135.8h0M401.3 136.3h0M397.6 135.5h0M394.1 140.6h0M406.8 132.3h0M387.3 129.6h0M391.6 133.8h0M382.6 139.9h0M387.4 155.3h0M389.1 136.5h0M401.1 140.1h0M373.8 143.9h0M392.4 140.3h0M390.9 142.2h0M382.0 147.7h0M396.8 133.7h0M370.9 137.5h0M414.5 128.8h0M398.0 152.6h0M401.1 142.2h0M398.7 131.3h0M373.4 154.4h0M388.4 133.3h0M400.4 139.3h0M409.6 135.4h0M401.8 146.8h0M390.0 134.2h0M397.5 133.6h0M383.5 147.2h0M387.2 143.1h0M394.5 131.9h0M392.2 136.6h0M384.8 142.0h0M374.6 135.2h0M393.1 131.5h0M392.9 131.8h0M396.1 131.3h0M389.5 141.0h0M395.3 141.9h0M378.7 140.4h0M409.8 138.3h0M401.2 141.7h0M358.5 25.4h0M360.3 32.7h0M344.0 39.6h0M353.2 33.0h0M346.4 49.8h0M350.6 37.0h0M342.8 55.0h0M352.4 30.5h0M353.4 37.9h0M349.6 41.6h0M354.8 34.1h0M353.3 35.6h0M347.8 42.1h0M353.9 35.9h0M347.1 47.7h0M348.9 31.9h0M357.1 35.1h0M344.4 39.9h0M336.6 40.4h0M344.7 32.9h0M351.3 43.0h0M346.6 44.6h0M348.4 45.2h0M337.1 37.8h0M354.0 36.2h0M354.9 39.1h0M349.6 37.4h0M346.7 40.5h0M354.1 34.7h0M331.8 48.2h0M349.6 39.6h0M338.9 43.4h0M344.0 40.4h0M349.1 38.9h0M347.0 34.9h0M347.6 46.5h0M350.4 41.4h0M346.3 37.8h0M351.6 20.6h0M337.1 36.4h0M338.3 38.7h0M349.0 34.4h0M345.6 43.0h0M350.0 42.9h0M346.7 42.8h0M348.7 38.8h0M348.0 45.8h0M340.2 37.7h0M358.9 30.5h0M350.0 30.7h0M357.0 37.5h0M346.1 48.7h0M352.2 32.8h0M346.9 31.4h0M351.3 41.2h0M347.3 45.8h0M348.5 34.8h0M349.2 38.6h0M343.6 48.7h0M353.3 34.4h0M354.5 102.0h0M320.1 81.7h0M391.0 30.7h0M396.0 127.7h0M415.9 24.7h0M408.7 29.6h0M360.2 138.4h0M344.3 127.0h0M306.6 151.0h0M348.1 128.7h0" fill="none" stroke="#b8b8b8" stroke-width="1.2" stroke-linecap="square"/>
<text x="319.50" y="87.38" font-size="8" text-anchor="middle" fill="#231f20" stroke="#231f20" stroke-width="0.28">−5</text>
<text x="459.50" y="87.38" font-size="8" text-anchor="middle" fill="#231f20" stroke="#231f20" stroke-width="0.28">5</text>
<text x="385.50" y="18.28" font-size="8" text-anchor="end" fill="#231f20" stroke="#231f20" stroke-width="0.28">2</text>
<text x="385.50" y="141.48" font-size="8" text-anchor="end" fill="#231f20" stroke="#231f20" stroke-width="0.28">−2</text>
<text x="385.50" y="172.28" font-size="8" text-anchor="end" fill="#231f20" stroke="#231f20" stroke-width="0.28">−3</text>
<text transform="translate(272.28,77.20) rotate(-90)" font-size="8" text-anchor="middle" fill="#231f20" stroke="#231f20" stroke-width="0.28">Log<tspan font-size="5.5" dy="2">2</tspan><tspan dy="-2">FC NPM1c occupancy</tspan></text>
<text transform="translate(282.08,77.00) rotate(-90)" font-size="8" text-anchor="middle" fill="#231f20" stroke="#231f20" stroke-width="0.28">VTP-50469/DMSO</text>
<text x="342.50" y="183.38" font-size="8" fill="#231f20" stroke="#231f20" stroke-width="0.28">Log<tspan font-size="5.5" dy="2">2</tspan><tspan dy="-2">FC MLL1 occupancy</tspan></text>
<text x="388.40" y="191.68" font-size="8" text-anchor="middle" fill="#231f20" stroke="#231f20" stroke-width="0.28">VTP-50469/DMSO</text>
<circle cx="353.80" cy="203.00" r="1.5" fill="#d92b2b"/>
<text x="360.00" y="206.08" font-size="8" fill="#231f20" stroke="#231f20" stroke-width="0.28">NPM1c targets</text>
<circle cx="333.00" cy="67.70" r="1.75" fill="#d92b2b"/>
<circle cx="340.80" cy="67.70" r="1.75" fill="#d92b2b"/>
<circle cx="370.60" cy="48.30" r="1.75" fill="#d92b2b"/>
<circle cx="374.40" cy="47.00" r="1.75" fill="#d92b2b"/>
<circle cx="402.00" cy="55.80" r="1.75" fill="#d92b2b"/>
<circle cx="385.40" cy="58.50" r="1.75" fill="#d92b2b"/>
<circle cx="386.80" cy="63.00" r="1.75" fill="#d92b2b"/>
<circle cx="389.50" cy="66.30" r="1.75" fill="#d92b2b"/>
<circle cx="373.30" cy="66.30" r="1.75" fill="#d92b2b"/>
<circle cx="379.80" cy="70.60" r="1.75" fill="#d92b2b"/>
<circle cx="386.20" cy="75.20" r="1.75" fill="#d92b2b"/>
<circle cx="393.20" cy="77.90" r="1.75" fill="#d92b2b"/>
<circle cx="381.40" cy="91.40" r="1.75" fill="#d92b2b"/>
<circle cx="377.40" cy="94.60" r="1.75" fill="#d92b2b"/>
<circle cx="378.20" cy="98.00" r="1.75" fill="#d92b2b"/>
<circle cx="386.00" cy="98.60" r="1.75" fill="#d92b2b"/>
<circle cx="375.70" cy="101.60" r="1.75" fill="#d92b2b"/>
<circle cx="398.00" cy="94.00" r="1.75" fill="#d92b2b"/>
<circle cx="408.90" cy="95.40" r="1.75" fill="#d92b2b"/>
<circle cx="357.00" cy="98.60" r="1.75" fill="#d92b2b"/>
<circle cx="364.70" cy="103.00" r="1.75" fill="#d92b2b"/>
<circle cx="361.20" cy="108.30" r="1.75" fill="#d92b2b"/>
<circle cx="369.30" cy="109.70" r="1.75" fill="#d92b2b"/>
<circle cx="341.50" cy="117.00" r="1.75" fill="#d92b2b"/>
<circle cx="345.00" cy="114.80" r="1.75" fill="#d92b2b"/>
<circle cx="355.80" cy="119.60" r="1.75" fill="#d92b2b"/>
<circle cx="379.20" cy="122.90" r="1.75" fill="#d92b2b"/>
<circle cx="353.70" cy="128.20" r="1.75" fill="#d92b2b"/>
<circle cx="387.00" cy="138.40" r="1.75" fill="#d92b2b"/>
<circle cx="301.00" cy="105.00" r="1.75" fill="#d92b2b"/>
<circle cx="299.40" cy="110.60" r="1.75" fill="#d92b2b"/>
<circle cx="301.80" cy="110.60" r="1.75" fill="#d92b2b"/>
<circle cx="293.50" cy="126.80" r="1.75" fill="#d92b2b"/>
<text x="303.70" y="104.82" font-size="7.0" font-style="italic" fill="#333" stroke="#333" stroke-width="0.28">SATB2</text>
<text x="298.80" y="119.82" font-size="7.0" font-style="italic" fill="#333" stroke="#333" stroke-width="0.28">SATB1</text>
<text x="288.00" y="135.22" font-size="7.0" font-style="italic" fill="#333" stroke="#333" stroke-width="0.28">RUNX2</text>
<text x="323.60" y="112.52" font-size="7.0" font-style="italic" fill="#333" stroke="#333" stroke-width="0.28">ARID2</text>
<text x="319.80" y="126.52" font-size="7.0" font-style="italic" fill="#333" stroke="#333" stroke-width="0.28">IGF2BP2</text>
<text x="358.60" y="126.32" font-size="7.0" font-style="italic" fill="#333" stroke="#333" stroke-width="0.28">MKX</text>
<text x="339.20" y="135.72" font-size="7.0" font-style="italic" fill="#333" stroke="#333" stroke-width="0.28">PHF10</text>
<text x="2.50" y="678.80" font-size="10" font-weight="bold" fill="#000" stroke="#000" stroke-width="0.28">D</text>
<text x="65.30" y="679.90" font-size="8.6" fill="#231f20" stroke="#231f20" stroke-width="0.28">NPM1c-Ab ChIP vs. gene expression</text>
<line x1="138.50" y1="691.00" x2="138.50" y2="851.90" stroke="#000" stroke-width="1.2"/>
<line x1="31.30" y1="744.50" x2="245.50" y2="744.50" stroke="#000" stroke-width="1.2"/>
<line x1="31.70" y1="744.50" x2="31.70" y2="746.50" stroke="#000" stroke-width="1"/>
<line x1="67.30" y1="744.50" x2="67.30" y2="746.50" stroke="#000" stroke-width="1"/>
<line x1="102.90" y1="744.50" x2="102.90" y2="746.50" stroke="#000" stroke-width="1"/>
<line x1="138.50" y1="744.50" x2="138.50" y2="746.50" stroke="#000" stroke-width="1"/>
<line x1="174.10" y1="744.50" x2="174.10" y2="746.50" stroke="#000" stroke-width="1"/>
<line x1="209.70" y1="744.50" x2="209.70" y2="746.50" stroke="#000" stroke-width="1"/>
<line x1="245.30" y1="744.50" x2="245.30" y2="746.50" stroke="#000" stroke-width="1"/>
<line x1="135.50" y1="690.90" x2="138.50" y2="690.90" stroke="#000" stroke-width="1"/>
<line x1="135.50" y1="717.70" x2="138.50" y2="717.70" stroke="#000" stroke-width="1"/>
<line x1="135.50" y1="744.50" x2="138.50" y2="744.50" stroke="#000" stroke-width="1"/>
<line x1="135.50" y1="771.30" x2="138.50" y2="771.30" stroke="#000" stroke-width="1"/>
<line x1="135.50" y1="798.10" x2="138.50" y2="798.10" stroke="#000" stroke-width="1"/>
<line x1="135.50" y1="824.90" x2="138.50" y2="824.90" stroke="#000" stroke-width="1"/>
<line x1="135.50" y1="851.70" x2="138.50" y2="851.70" stroke="#000" stroke-width="1"/>
<g filter="url(#blur2)"><ellipse cx="136" cy="765" rx="9" ry="24" fill="#cdcdcd"/></g>
<path d="M127.8 743.8h0M141.6 722.0h0M135.5 722.7h0M144.9 769.5h0M146.8 756.0h0M139.6 760.2h0M131.1 768.4h0M127.2 758.9h0M141.8 766.7h0M133.5 807.2h0M137.0 754.5h0M137.8 755.7h0M133.7 758.9h0M151.8 766.0h0M137.9 778.4h0M151.7 761.4h0M131.9 812.6h0M125.7 758.6h0M141.6 809.0h0M129.5 719.5h0M141.6 755.7h0M133.7 774.4h0M138.3 771.1h0M133.4 790.1h0M147.9 766.2h0M133.2 779.5h0M140.2 745.8h0M133.1 785.5h0M135.9 759.4h0M138.2 765.0h0M136.6 728.9h0M149.7 769.4h0M130.0 784.2h0M138.9 765.9h0M144.5 808.6h0M140.8 795.7h0M152.8 746.2h0M132.7 780.3h0M123.8 760.5h0M146.3 785.4h0M140.9 729.6h0M154.2 776.1h0M142.4 775.0h0M123.7 738.3h0M127.5 802.0h0M130.4 761.0h0M134.7 776.4h0M140.4 770.7h0M127.1 706.0h0M137.8 770.7h0M145.8 763.6h0M132.0 773.4h0M124.9 745.8h0M129.1 771.1h0M152.3 780.1h0M145.2 770.1h0M138.7 757.1h0M134.5 719.4h0M127.6 741.1h0M142.9 778.2h0M145.2 795.2h0M134.3 785.7h0M151.3 765.4h0M144.8 762.5h0M124.5 767.9h0M130.4 767.7h0M133.1 771.7h0M120.6 805.2h0M146.8 758.9h0M129.8 765.7h0M141.7 773.6h0M139.6 728.2h0M128.1 791.1h0M138.4 736.7h0M130.1 738.1h0M128.9 788.0h0M134.9 787.1h0M138.0 736.7h0M131.7 809.7h0M130.8 745.4h0M146.0 767.3h0M136.6 794.0h0M123.2 773.7h0M128.5 738.4h0M130.4 787.9h0M135.5 730.0h0M128.1 795.2h0M144.4 744.4h0M155.2 758.5h0M127.5 762.9h0M143.8 796.9h0M144.5 757.3h0M132.3 737.3h0M136.0 754.0h0M138.5 741.0h0M132.6 748.5h0M127.4 742.6h0M128.8 742.6h0M141.0 767.5h0M126.5 775.6h0M138.8 794.0h0M135.1 761.5h0M131.3 768.0h0M140.4 769.0h0M134.7 776.6h0M137.3 770.4h0M129.4 769.6h0M129.0 749.2h0M137.8 806.5h0M144.2 765.7h0M135.2 784.8h0M147.2 789.3h0M135.2 769.3h0M134.1 760.0h0M130.0 760.8h0M120.1 742.3h0M139.9 747.6h0M140.7 740.5h0M133.8 773.3h0M128.6 751.7h0M155.6 752.4h0M131.2 754.5h0M136.9 765.1h0M144.1 781.0h0M133.5 758.7h0M125.7 736.5h0M130.9 779.8h0M137.5 781.2h0M143.8 762.4h0M152.7 755.4h0M131.8 757.3h0M145.3 762.9h0M130.9 774.0h0M145.3 763.4h0M134.7 786.7h0M144.1 784.0h0M130.7 771.1h0M139.4 730.7h0M145.8 767.5h0M134.0 809.6h0M137.7 751.6h0M136.1 776.6h0M142.8 764.5h0M130.0 752.1h0M130.3 745.2h0M136.4 756.1h0M137.0 749.6h0M130.0 762.0h0M133.9 787.9h0M129.7 769.6h0M136.3 740.2h0M142.2 768.9h0M120.5 777.3h0M143.8 750.2h0M149.6 768.6h0M127.8 776.5h0M133.8 739.6h0M120.2 770.4h0M131.0 778.1h0M139.6 755.5h0M132.5 799.9h0M149.7 780.2h0M133.9 746.6h0M133.6 797.8h0M140.1 760.0h0M127.2 768.8h0M129.9 765.8h0M142.3 786.3h0M137.7 759.0h0M138.3 800.5h0M139.5 738.5h0M148.5 770.5h0M135.9 759.9h0M139.5 754.4h0M125.3 728.4h0M135.7 755.7h0M132.2 806.6h0M142.7 786.7h0M132.8 771.4h0M135.0 761.7h0M142.3 777.3h0M138.9 768.5h0M125.6 751.3h0M139.5 758.5h0M130.7 772.5h0M129.6 752.6h0M143.3 758.7h0M147.5 775.7h0M142.8 787.4h0M120.1 764.1h0M126.8 756.7h0M135.8 789.6h0M136.3 797.3h0M132.6 764.5h0M137.3 783.8h0M136.2 753.7h0M134.1 738.6h0M146.2 780.0h0M139.9 770.9h0M132.0 757.8h0M142.7 750.4h0M130.7 796.0h0M148.4 771.2h0M140.6 769.2h0M147.4 757.1h0M137.2 774.9h0M147.5 760.8h0M138.4 756.2h0M131.6 753.0h0M137.2 782.6h0M131.4 754.1h0M133.5 772.4h0M141.9 741.6h0M139.3 746.5h0M142.0 747.2h0M128.4 752.0h0M136.1 746.6h0M138.2 768.4h0M137.2 770.8h0M143.2 751.7h0M136.6 765.0h0M121.1 773.0h0M130.8 751.9h0M133.2 767.5h0M139.1 774.8h0M131.4 778.9h0M139.7 758.1h0M136.4 780.9h0M139.9 778.9h0M137.4 787.3h0M153.3 774.3h0M124.6 798.5h0M132.3 739.3h0M118.8 773.7h0M144.8 784.7h0M133.7 793.1h0M136.0 754.4h0M137.1 769.7h0M137.0 773.2h0M120.2 795.4h0M132.3 778.0h0M130.6 768.7h0M135.3 735.6h0M139.5 777.7h0M128.2 725.8h0M131.8 749.6h0M137.4 765.3h0M148.7 777.9h0M134.7 768.7h0M115.0 748.4h0M129.7 763.5h0M139.0 769.7h0M143.6 752.5h0M138.9 763.1h0M136.7 771.7h0M134.5 769.6h0M136.3 785.0h0M135.8 771.4h0M156.1 777.5h0M140.4 786.1h0M129.1 779.1h0M142.2 773.9h0M143.9 780.5h0M145.5 753.4h0M139.8 755.3h0M145.9 768.2h0M126.9 767.7h0M129.1 784.2h0M134.1 724.1h0M133.7 785.0h0M139.1 753.6h0M141.4 776.5h0M147.6 782.7h0M139.3 750.7h0M138.7 771.3h0M136.7 773.6h0M127.7 776.4h0M136.7 772.4h0M135.9 759.9h0M138.5 780.4h0M134.2 771.8h0M130.9 773.5h0M136.7 741.4h0M145.3 748.8h0M137.2 740.8h0M123.7 778.0h0M126.2 726.4h0M135.0 736.3h0M135.1 800.1h0M133.7 772.4h0M140.8 770.3h0M135.7 794.0h0M136.0 772.3h0M137.4 741.4h0M139.0 766.7h0M141.4 778.6h0M148.3 729.8h0M132.5 756.7h0M130.2 773.4h0M136.0 768.2h0M124.5 747.6h0M136.1 757.2h0M132.1 763.4h0M134.5 745.6h0M149.0 752.9h0M141.4 776.8h0M143.8 754.8h0M129.2 773.8h0M138.5 721.3h0M117.2 755.4h0M133.7 760.6h0M139.7 747.4h0M156.2 782.5h0M146.2 770.7h0M121.2 770.0h0M132.5 773.9h0M135.7 778.2h0M130.1 758.8h0M136.6 751.5h0M133.2 777.1h0M150.9 761.6h0M142.7 744.3h0M133.2 771.8h0M140.9 746.4h0M141.0 768.3h0M146.3 783.2h0M140.6 758.2h0M138.5 749.5h0M130.5 731.0h0M127.0 741.8h0M135.8 767.5h0M126.7 763.7h0M139.6 782.9h0M135.9 769.7h0M133.8 782.9h0M125.0 770.0h0M119.4 797.6h0M143.4 726.1h0M132.7 739.1h0M123.5 757.8h0M130.0 785.0h0M132.7 744.7h0M136.0 773.1h0M142.6 774.9h0M125.5 750.1h0M135.2 749.7h0M142.0 759.0h0M136.0 758.4h0M136.8 737.3h0M152.0 754.8h0M131.1 732.1h0M135.9 739.6h0M138.9 787.7h0M141.0 757.1h0M145.9 761.8h0M136.1 766.5h0M133.0 773.2h0M127.4 732.2h0M145.3 751.6h0M133.9 771.6h0M133.0 743.2h0M135.0 747.6h0M140.5 757.0h0M134.6 779.7h0M125.1 737.5h0M141.9 789.0h0M137.2 752.1h0M145.5 775.0h0M144.0 731.4h0M135.5 746.1h0M128.4 776.1h0M141.9 756.5h0M134.6 791.0h0M141.3 763.0h0M140.2 767.4h0M127.2 755.7h0M138.6 776.9h0M127.6 750.3h0M132.2 737.0h0M144.6 773.8h0M146.1 724.5h0M130.5 799.3h0M126.1 731.2h0M138.1 794.7h0M141.2 747.4h0M140.6 773.0h0M138.4 772.6h0M142.6 787.0h0M146.6 785.2h0M135.4 730.8h0M140.5 737.3h0M153.3 743.7h0M122.9 730.8h0M139.4 771.0h0M141.3 770.7h0M130.7 780.5h0M131.4 737.2h0M143.2 775.3h0M129.6 760.6h0M144.1 782.8h0M128.6 786.1h0M117.4 767.0h0M139.3 763.1h0M137.3 735.3h0M135.5 774.7h0M129.6 767.9h0M135.3 723.2h0M132.0 776.2h0M125.0 765.8h0M139.0 741.5h0M134.7 782.1h0M141.8 746.8h0M144.0 771.8h0M137.4 793.7h0M141.9 772.3h0M143.6 777.9h0M145.9 763.3h0M123.4 794.6h0M142.5 775.3h0M136.9 763.8h0M137.3 747.7h0M142.3 767.1h0M129.5 770.4h0M134.1 764.9h0M140.6 816.0h0M128.7 773.2h0M141.8 773.5h0M147.6 757.5h0M134.1 765.3h0M126.4 786.2h0M127.4 775.8h0M145.4 749.9h0M135.3 761.7h0M149.3 770.5h0M123.5 785.7h0M144.2 728.1h0M116.4 814.6h0M137.2 725.6h0M144.4 792.2h0M118.9 789.5h0M141.8 765.1h0M131.4 772.8h0M130.5 768.5h0M134.7 757.2h0M140.6 784.0h0M143.2 773.9h0M149.1 741.8h0M137.1 769.1h0M145.6 723.0h0M133.3 759.6h0M138.0 808.2h0M138.3 763.8h0M139.8 784.1h0M135.3 797.2h0M127.6 789.1h0M141.8 784.3h0M148.1 761.0h0M139.7 770.5h0M132.1 751.2h0M130.8 781.5h0M119.6 741.4h0M137.2 790.2h0M135.8 789.4h0M136.1 755.5h0M125.0 769.1h0M149.5 767.3h0M128.8 776.6h0M126.4 744.0h0M144.9 773.3h0M143.8 770.1h0M135.7 768.9h0M134.2 785.4h0M127.0 729.9h0M130.3 782.6h0M132.6 722.1h0M157.8 748.0h0M135.2 776.5h0M139.3 762.4h0M125.0 775.4h0M129.3 762.2h0M142.2 758.3h0M123.2 754.2h0M141.1 779.1h0M126.9 766.5h0M138.8 785.8h0M139.6 768.6h0M134.3 774.5h0M142.3 762.6h0M134.5 798.4h0M136.3 750.8h0M141.6 742.2h0M128.5 782.8h0M136.8 780.5h0M142.4 751.3h0M140.3 758.5h0M138.2 770.3h0M136.0 741.3h0M138.8 765.9h0M140.5 745.8h0M138.1 761.7h0M133.4 760.6h0M134.7 739.9h0M132.6 756.9h0M140.1 762.7h0M147.1 776.9h0M138.9 769.5h0M126.1 772.4h0M145.9 746.6h0M146.4 777.1h0M138.7 757.6h0M136.8 750.9h0M136.5 766.6h0M137.1 742.7h0M143.5 753.3h0M139.5 776.6h0M135.1 811.5h0M137.5 773.4h0M134.8 771.8h0M127.3 777.6h0M133.9 756.0h0M142.2 782.5h0M133.5 746.5h0M121.8 747.0h0M140.2 777.5h0M127.3 766.5h0M144.3 751.4h0M132.5 748.7h0M139.6 730.3h0M135.6 774.3h0M136.2 783.4h0M141.1 756.1h0M129.2 745.9h0M140.2 763.0h0M137.4 748.5h0M145.1 781.8h0M142.1 744.8h0M155.7 781.3h0M128.6 783.6h0M135.7 751.0h0M131.0 774.8h0M138.9 769.5h0M135.0 746.5h0M138.4 760.6h0M135.1 777.0h0M149.0 753.9h0M143.7 751.9h0M142.8 777.6h0M136.9 770.0h0M130.9 759.4h0M143.6 779.9h0M153.1 746.9h0M133.2 767.5h0M137.0 756.3h0M133.6 763.8h0M146.0 763.7h0M131.1 771.4h0M117.5 749.5h0M132.0 771.3h0M119.9 761.7h0M128.8 783.8h0M142.4 757.4h0M140.0 744.0h0M138.2 770.4h0M144.4 757.6h0M120.9 780.4h0M128.7 755.6h0M134.0 796.3h0M136.3 787.0h0M137.1 739.7h0M140.0 775.2h0M132.5 736.7h0M157.4 805.1h0M139.6 774.2h0M143.5 776.6h0M125.8 740.0h0M142.6 790.8h0M144.4 781.0h0M136.5 783.4h0M147.9 775.4h0M145.8 788.0h0M131.4 787.4h0M131.0 748.7h0M148.4 735.2h0M135.2 782.4h0M139.5 758.5h0M129.8 775.1h0M140.5 764.1h0M129.5 739.2h0M136.6 764.7h0M142.7 759.9h0M143.3 743.3h0M124.0 782.9h0M133.5 750.1h0M135.6 743.2h0M134.1 740.1h0M137.9 754.9h0M136.2 765.6h0M139.9 734.0h0M137.8 760.8h0M128.2 760.8h0M140.3 774.3h0M151.1 759.6h0M137.6 801.2h0M132.3 750.4h0M133.3 754.8h0M136.4 768.3h0M131.1 744.7h0M136.2 743.1h0M130.7 772.1h0M135.9 747.3h0M126.2 747.3h0M125.9 775.5h0M142.0 771.2h0M138.9 756.6h0M137.8 766.7h0M137.0 756.6h0M128.8 770.9h0M139.4 745.2h0M134.9 765.0h0M140.2 734.5h0M126.4 740.3h0M127.6 745.8h0M142.8 744.4h0M152.1 770.6h0M141.6 764.8h0M142.9 772.6h0M142.4 776.3h0M141.1 772.7h0M144.5 766.0h0M132.9 794.8h0M133.1 773.0h0M151.8 754.0h0M134.6 753.3h0M129.9 777.6h0M135.1 768.0h0M124.3 774.5h0M131.4 730.3h0M131.4 736.2h0M148.1 734.8h0M138.7 746.6h0M130.7 742.1h0M145.4 745.4h0M132.0 769.9h0M133.9 778.3h0M131.3 736.0h0M139.9 787.5h0M140.4 750.3h0M145.1 780.1h0M133.9 773.7h0M136.4 767.8h0M141.3 781.7h0M137.3 766.9h0M118.7 750.8h0M140.0 751.0h0M139.3 762.1h0M137.1 767.4h0M146.1 774.9h0M137.0 744.0h0M139.3 745.9h0M145.6 752.9h0M132.1 762.9h0M129.4 774.7h0M139.0 753.3h0M132.8 799.2h0M145.0 775.8h0M138.7 793.2h0M133.8 760.9h0M135.7 746.3h0M130.2 799.4h0M137.8 749.5h0M134.9 756.8h0M133.5 764.7h0M126.0 732.9h0M135.2 761.5h0M128.2 763.8h0M132.6 769.4h0M135.2 786.0h0M146.7 777.9h0M136.9 781.3h0M142.0 774.3h0M142.3 759.0h0M142.3 775.5h0M139.6 762.8h0M133.8 776.5h0M133.1 746.4h0M148.8 787.5h0M131.2 791.1h0M122.1 776.8h0M141.6 770.5h0M135.3 780.1h0M140.5 745.4h0M131.5 784.1h0M142.1 745.3h0M126.1 773.9h0M130.9 752.8h0M133.0 770.1h0M122.3 780.2h0M134.1 782.6h0M128.6 750.3h0M140.3 784.0h0M136.4 760.1h0M146.4 785.7h0M138.9 761.6h0M145.8 778.7h0M134.2 792.7h0M144.7 770.1h0M140.2 780.1h0M133.5 744.3h0M145.3 736.6h0M126.0 740.5h0M140.3 784.9h0M132.2 789.7h0M148.5 791.0h0M127.6 789.8h0M153.3 749.7h0M125.2 789.4h0M140.6 765.4h0M136.4 735.0h0M130.8 769.6h0M140.2 782.9h0M143.5 757.6h0M136.2 792.0h0M127.0 775.6h0M130.7 770.0h0M150.1 773.4h0M133.6 753.7h0M126.7 765.7h0M120.5 764.7h0M137.7 749.6h0M131.1 787.8h0M145.8 803.4h0M145.1 771.9h0M135.3 788.6h0M141.7 769.4h0M149.8 763.3h0M138.1 786.2h0M140.3 767.6h0M144.3 816.7h0M134.5 778.9h0M139.9 769.3h0M148.9 764.7h0M149.1 748.3h0M137.8 751.3h0M139.5 778.8h0M140.9 770.3h0M135.0 743.9h0M143.0 766.7h0M145.2 735.5h0M135.0 735.0h0M144.7 752.8h0M129.3 782.2h0M136.2 770.7h0M136.1 786.6h0M138.8 770.9h0M136.7 783.8h0M145.0 759.8h0M143.0 738.8h0M131.1 756.4h0M131.5 776.0h0M126.8 737.7h0M138.2 750.2h0M137.2 767.7h0M131.9 758.7h0M143.0 766.2h0M137.3 778.4h0M131.5 744.0h0M134.2 795.8h0M141.2 806.8h0M144.0 782.9h0M133.2 736.0h0M121.5 768.7h0M128.7 744.5h0M140.8 771.4h0M127.4 770.7h0M146.8 783.2h0M131.7 783.3h0M122.4 760.6h0M133.5 788.6h0M128.0 748.5h0M134.3 779.8h0M126.6 770.4h0M134.1 757.6h0M127.5 773.7h0M137.8 773.9h0M138.0 763.9h0M130.3 765.7h0M142.4 768.5h0M140.6 781.9h0M139.2 761.5h0M129.7 789.1h0M135.5 762.8h0M137.4 780.9h0M143.0 753.0h0M136.2 787.3h0M132.4 766.6h0M130.6 739.3h0M127.4 769.0h0M139.0 718.4h0M134.9 761.9h0M125.6 764.7h0M131.1 790.8h0M129.6 785.0h0M128.2 747.0h0M147.1 752.1h0M133.6 736.9h0M137.9 791.6h0M134.7 761.0h0M136.7 752.0h0M127.5 766.7h0M134.4 733.7h0M119.2 774.5h0M127.5 774.2h0M143.2 764.7h0M132.4 719.3h0M147.8 782.3h0M131.2 746.3h0M140.3 729.1h0M141.8 783.1h0M127.9 746.1h0M149.7 756.8h0M137.9 759.5h0M121.8 784.4h0M148.5 755.0h0M130.2 793.8h0M125.7 760.0h0M126.8 736.7h0M132.2 716.4h0M127.9 766.5h0M131.3 745.2h0M154.7 780.2h0M132.9 785.9h0M141.3 768.8h0M142.0 759.0h0M132.5 798.7h0M137.2 793.8h0M122.1 748.7h0M130.0 768.1h0M136.2 783.6h0M140.4 765.6h0M140.5 778.9h0M138.7 720.6h0M133.1 777.0h0M133.8 791.4h0M132.9 766.9h0M130.7 763.4h0M144.7 791.8h0M143.0 778.1h0M137.5 741.9h0M141.2 753.8h0M138.7 763.7h0M142.8 753.4h0M142.4 765.9h0M148.5 763.5h0M135.5 731.0h0M143.0 766.3h0M120.5 774.5h0M140.2 759.7h0M146.1 763.7h0M135.6 773.0h0M128.5 775.8h0M130.4 770.3h0M144.7 758.6h0M132.0 796.4h0M136.9 785.5h0M141.0 774.1h0M147.0 765.1h0M125.5 761.4h0M132.3 745.2h0M133.8 773.6h0M140.3 767.4h0M135.7 767.1h0M133.5 750.3h0M137.3 782.0h0M131.5 766.2h0M141.8 748.1h0M139.5 769.0h0M144.2 749.7h0M133.6 794.6h0M151.7 776.9h0M146.8 754.7h0M144.1 771.8h0M141.8 743.8h0M138.0 779.0h0M145.0 774.6h0M140.0 784.3h0M149.4 740.7h0M123.5 767.3h0M148.7 800.0h0M142.3 749.3h0M141.4 755.1h0M143.2 763.5h0M149.3 749.0h0M147.7 753.4h0M142.0 772.4h0M127.4 731.1h0M135.7 760.7h0M132.6 779.9h0M139.1 777.5h0M129.4 763.7h0M135.8 785.1h0M158.7 751.2h0M140.0 702.2h0M169.9 773.0h0M147.8 772.3h0M137.9 719.2h0M126.8 743.1h0M136.8 735.5h0M143.2 779.8h0M142.7 767.2h0M174.7 743.7h0M130.6 784.4h0M134.9 807.2h0M130.4 763.4h0M165.3 722.8h0M155.5 770.9h0M143.5 799.1h0M131.6 779.6h0M133.0 796.2h0M122.3 762.0h0M132.4 735.9h0M154.8 753.4h0M148.6 704.6h0M125.2 738.6h0M145.4 722.9h0M145.0 787.9h0M141.3 767.1h0M134.5 741.2h0M139.5 768.6h0M161.8 768.1h0M129.5 784.3h0M124.9 711.9h0M136.4 745.2h0M149.1 761.5h0M120.8 744.4h0M132.3 815.6h0M121.4 736.5h0M157.9 800.2h0M134.8 797.7h0M138.5 739.7h0M138.3 785.8h0M161.4 757.4h0M120.6 768.6h0M133.1 745.8h0M146.0 768.3h0M122.0 745.3h0M160.3 757.6h0M166.2 701.6h0M123.9 763.2h0M125.4 767.1h0M140.8 728.6h0M166.5 807.7h0M115.0 755.5h0M120.5 752.4h0M133.0 756.7h0M156.1 793.5h0M135.0 773.7h0M149.6 723.0h0M140.9 737.0h0M156.7 794.9h0M144.4 800.3h0M135.6 743.0h0M159.6 763.1h0M144.6 729.1h0M150.4 760.8h0M137.7 735.0h0M128.5 751.9h0M141.9 795.1h0M113.9 727.0h0M125.6 744.0h0M127.3 732.9h0M129.7 773.8h0M133.5 739.2h0M148.5 766.3h0M125.1 793.3h0M129.9 737.5h0M145.0 741.5h0M124.8 797.5h0M132.8 737.9h0M142.3 758.8h0M110.7 751.0h0M146.7 750.9h0M146.1 732.6h0M151.9 753.4h0M128.6 730.6h0M153.2 761.2h0M133.6 771.2h0M137.3 753.5h0M144.5 750.7h0M153.0 821.9h0M114.5 763.0h0M133.3 778.6h0M110.6 817.1h0M151.2 815.3h0M156.4 736.2h0M137.2 804.5h0M156.2 743.0h0M143.4 797.6h0M158.9 753.2h0M145.6 776.7h0M136.4 756.7h0M154.1 762.8h0M138.8 792.9h0M156.8 777.4h0M133.7 742.3h0M123.6 747.0h0M144.4 729.6h0M127.1 737.0h0M142.6 752.1h0M162.3 796.8h0M140.6 759.8h0M155.8 740.6h0M154.0 730.8h0M134.3 771.6h0M141.8 721.9h0M127.9 766.4h0M116.5 808.5h0M129.6 766.7h0M181.0 756.4h0M144.0 778.0h0M137.7 737.1h0M117.1 769.0h0M136.7 797.2h0M142.6 780.2h0M124.4 754.9h0M146.2 753.7h0M149.7 752.4h0M135.7 772.9h0M122.6 829.5h0M121.1 800.3h0M162.5 756.7h0M146.0 787.9h0M145.3 779.7h0M135.0 776.1h0M131.8 734.0h0M136.7 781.9h0M144.2 772.6h0M134.1 766.5h0M128.2 759.8h0M141.2 742.3h0M162.0 713.3h0M149.3 754.6h0M154.9 749.9h0M152.1 743.3h0M128.4 757.5h0M140.3 737.7h0M157.1 735.4h0M136.2 765.4h0M137.8 789.4h0M126.0 787.6h0M156.4 763.6h0M168.6 722.4h0M131.0 725.9h0M143.8 734.6h0M104.1 764.3h0M120.4 751.4h0M131.8 798.5h0M103.7 767.1h0M189.5 762.4h0M143.9 760.2h0M151.8 773.1h0M148.5 733.2h0M139.3 774.6h0M139.6 776.2h0M155.0 796.3h0M142.8 777.3h0M133.8 753.2h0M150.5 730.0h0M157.0 733.5h0M138.2 742.2h0M126.6 774.5h0M113.8 798.6h0M114.9 780.8h0M135.4 754.7h0M144.4 795.7h0M142.3 744.2h0M139.6 787.9h0M124.5 769.5h0M157.9 746.4h0M137.2 786.1h0M130.7 761.9h0M135.3 768.6h0M122.9 719.1h0M155.9 741.8h0M125.2 784.7h0M130.8 757.1h0M122.6 755.0h0M144.9 789.2h0M150.7 730.7h0M134.3 779.5h0M126.6 738.5h0M134.6 790.6h0M122.0 782.8h0M150.1 745.2h0M120.9 754.7h0M134.0 745.7h0M140.3 821.4h0M153.5 793.7h0M138.5 792.8h0M129.0 768.4h0M156.5 821.0h0M147.7 766.1h0M138.6 737.6h0M148.4 804.9h0M149.8 760.6h0M135.6 737.4h0M159.8 762.1h0M157.1 739.1h0M150.6 783.3h0M137.2 748.2h0M178.7 804.5h0M158.9 745.2h0M161.1 778.3h0M165.7 759.4h0M136.1 735.3h0M116.5 718.8h0M133.7 762.6h0M162.2 813.3h0M130.8 703.7h0M143.8 772.4h0M133.1 737.5h0M129.0 767.0h0M141.8 717.4h0M137.2 735.4h0M124.6 764.1h0M126.6 767.6h0M101.9 775.5h0M142.2 749.3h0M126.3 720.3h0M122.0 807.7h0M144.9 759.0h0M129.2 744.6h0M121.1 769.5h0M153.1 734.3h0M148.3 749.9h0M143.9 737.8h0M150.7 805.3h0M130.1 753.9h0M153.3 743.8h0M119.5 695.5h0M130.9 791.5h0M127.8 756.5h0M101.5 748.2h0M135.8 743.3h0M131.2 729.8h0M124.4 791.1h0M121.0 794.5h0M118.3 794.0h0M136.9 777.9h0M135.9 774.4h0M174.6 701.9h0M130.0 772.3h0M161.2 728.3h0M140.1 784.8h0M131.6 762.8h0M143.3 788.0h0M145.7 772.5h0M129.6 749.2h0M172.6 729.0h0M133.8 744.3h0M140.4 739.0h0M150.4 742.7h0M130.7 722.1h0M132.2 721.1h0M134.9 775.1h0M114.0 810.9h0M151.5 767.5h0M133.7 788.7h0M145.9 751.0h0M141.9 765.6h0M126.7 798.0h0M118.9 773.6h0M125.5 760.6h0M136.0 766.7h0M162.9 750.1h0M147.9 772.7h0M143.3 732.3h0M139.4 719.2h0M156.6 800.9h0M142.1 776.1h0M139.1 714.8h0M134.8 786.9h0M138.4 741.0h0M95.6 790.1h0M164.3 807.9h0M178.2 705.3h0M139.9 779.9h0M131.1 768.7h0M157.0 747.2h0M149.1 737.3h0M102.1 763.2h0M147.2 775.7h0M152.0 735.4h0M142.4 727.3h0M139.8 730.6h0M142.2 785.2h0M155.9 748.1h0M160.7 770.1h0M160.6 761.1h0M123.1 764.0h0M125.5 736.3h0M197.0 791.5h0M224.9 739.2h0M219.5 758.3h0M197.2 748.9h0M175.9 772.9h0M172.5 802.9h0M228.0 769.8h0M152.9 744.8h0M167.4 743.3h0M184.3 738.2h0M207.5 774.3h0M224.9 783.1h0M225.0 738.9h0M150.8 751.6h0M175.9 754.8h0M157.6 764.5h0M241.5 751.2h0M216.1 739.4h0M233.1 748.0h0M187.9 746.4h0M242.8 770.5h0M228.3 757.7h0M211.7 745.2h0M176.7 783.7h0M221.4 738.3h0M156.0 752.0h0M236.4 789.9h0M178.5 752.3h0M219.2 777.4h0M183.4 775.7h0M195.4 758.9h0M191.9 767.3h0M173.2 767.9h0M162.4 775.0h0M152.7 766.6h0M235.4 759.6h0M190.5 774.4h0M198.8 773.7h0M155.9 758.5h0M179.0 760.0h0M218.1 766.9h0M189.2 751.3h0M240.6 757.0h0M174.0 768.9h0M232.8 745.7h0M239.7 782.7h0M209.7 767.3h0M181.5 780.1h0M196.1 723.7h0M216.0 728.1h0M81.3 755.3h0M56.1 732.1h0M94.2 747.3h0M71.7 758.9h0M79.4 762.5h0M117.5 751.5h0M81.4 737.4h0M96.5 760.8h0M80.8 732.2h0M62.6 759.7h0M95.2 727.8h0M68.5 759.4h0" fill="none" stroke="#b9b9b9" stroke-width="1.2" stroke-linecap="square"/>
<text x="31.30" y="755.70" font-size="8.6" text-anchor="middle" fill="#231f20" stroke="#231f20" stroke-width="0.28">−6</text>
<text x="67.00" y="755.70" font-size="8.6" text-anchor="middle" fill="#231f20" stroke="#231f20" stroke-width="0.28">−4</text>
<text x="102.50" y="755.70" font-size="8.6" text-anchor="middle" fill="#231f20" stroke="#231f20" stroke-width="0.28">−2</text>
<text x="174.10" y="755.70" font-size="8.6" text-anchor="middle" fill="#231f20" stroke="#231f20" stroke-width="0.28">2</text>
<text x="209.70" y="755.70" font-size="8.6" text-anchor="middle" fill="#231f20" stroke="#231f20" stroke-width="0.28">4</text>
<text x="245.30" y="755.70" font-size="8.6" text-anchor="middle" fill="#231f20" stroke="#231f20" stroke-width="0.28">6</text>
<text x="135.00" y="694.00" font-size="8.6" text-anchor="end" fill="#231f20" stroke="#231f20" stroke-width="0.28">2</text>
<text x="135.00" y="720.80" font-size="8.6" text-anchor="end" fill="#231f20" stroke="#231f20" stroke-width="0.28">1</text>
<text x="135.00" y="801.20" font-size="8.6" text-anchor="end" fill="#231f20" stroke="#231f20" stroke-width="0.28">−2</text>
<text x="135.00" y="828.00" font-size="8.6" text-anchor="end" fill="#231f20" stroke="#231f20" stroke-width="0.28">−3</text>
<text x="135.00" y="854.80" font-size="8.6" text-anchor="end" fill="#231f20" stroke="#231f20" stroke-width="0.28">−4</text>
<text transform="translate(8.30,747.50) rotate(-90)" font-size="8.6" text-anchor="middle" fill="#231f20" stroke="#231f20" stroke-width="0.28">Log<tspan font-size="6" dy="2">2</tspan><tspan dy="-2">FC NPM1c occupancy</tspan></text>
<text transform="translate(19.00,748.00) rotate(-90)" font-size="8.6" text-anchor="middle" fill="#231f20" stroke="#231f20" stroke-width="0.28">VTP-50469/DMSO</text>
<text x="85.00" y="866.10" font-size="8.6" fill="#231f20" stroke="#231f20" stroke-width="0.28">Log<tspan font-size="6" dy="2">2</tspan><tspan dy="-2">FC in gene expression</tspan></text>
<text x="137.00" y="876.10" font-size="8.6" text-anchor="middle" fill="#231f20" stroke="#231f20" stroke-width="0.28">VTP-50469/DMSO</text>
<circle cx="96.50" cy="888.30" r="1.5" fill="#d92b2b"/>
<text x="108.00" y="891.60" font-size="8.6" fill="#231f20" stroke="#231f20" stroke-width="0.28">NPM1c targets</text>
<circle cx="144.00" cy="735.40" r="1.9" fill="#d92b2b"/>
<circle cx="133.20" cy="749.80" r="1.9" fill="#d92b2b"/>
<circle cx="137.00" cy="749.00" r="1.9" fill="#d92b2b"/>
<circle cx="142.70" cy="748.00" r="1.9" fill="#d92b2b"/>
<circle cx="149.00" cy="751.50" r="1.9" fill="#d92b2b"/>
<circle cx="152.50" cy="752.70" r="1.9" fill="#d92b2b"/>
<circle cx="132.30" cy="759.30" r="1.9" fill="#d92b2b"/>
<circle cx="142.70" cy="757.30" r="1.9" fill="#d92b2b"/>
<circle cx="147.60" cy="761.30" r="1.9" fill="#d92b2b"/>
<circle cx="143.30" cy="761.60" r="1.9" fill="#d92b2b"/>
<circle cx="150.50" cy="765.00" r="1.9" fill="#d92b2b"/>
<circle cx="128.30" cy="766.00" r="1.9" fill="#d92b2b"/>
<circle cx="134.60" cy="775.80" r="1.9" fill="#d92b2b"/>
<circle cx="137.00" cy="777.00" r="1.9" fill="#d92b2b"/>
<circle cx="144.70" cy="776.00" r="1.9" fill="#d92b2b"/>
<circle cx="137.50" cy="782.40" r="1.9" fill="#d92b2b"/>
<circle cx="148.50" cy="796.80" r="1.9" fill="#d92b2b"/>
<circle cx="113.20" cy="769.30" r="1.9" fill="#d92b2b"/>
<circle cx="117.00" cy="781.50" r="1.9" fill="#d92b2b"/>
<circle cx="121.80" cy="781.50" r="1.9" fill="#d92b2b"/>
<circle cx="102.80" cy="789.40" r="1.9" fill="#d92b2b"/>
<circle cx="109.00" cy="792.20" r="1.9" fill="#d92b2b"/>
<circle cx="103.80" cy="796.30" r="1.9" fill="#d92b2b"/>
<circle cx="121.00" cy="793.60" r="1.9" fill="#d92b2b"/>
<circle cx="58.20" cy="800.80" r="1.9" fill="#d92b2b"/>
<circle cx="116.60" cy="802.20" r="1.9" fill="#d92b2b"/>
<circle cx="126.30" cy="807.40" r="1.9" fill="#d92b2b"/>
<circle cx="117.70" cy="816.00" r="1.9" fill="#d92b2b"/>
<circle cx="148.80" cy="797.40" r="1.9" fill="#d92b2b"/>
<text x="90.70" y="774.17" font-size="7.7" font-style="italic" fill="#333" stroke="#333" stroke-width="0.28">MKX</text>
<text x="73.70" y="782.77" font-size="7.7" font-style="italic" fill="#333" stroke="#333" stroke-width="0.28">PHF10</text>
<text x="71.00" y="791.47" font-size="7.7" font-style="italic" fill="#333" stroke="#333" stroke-width="0.28">RUNX2</text>
<text x="75.50" y="800.77" font-size="7.7" font-style="italic" fill="#333" stroke="#333" stroke-width="0.28">SATB1</text>
<text x="36.30" y="796.77" font-size="7.7" font-style="italic" fill="#333" stroke="#333" stroke-width="0.28">IGF2BP2</text>
<text x="95.20" y="810.17" font-size="7.7" font-style="italic" fill="#333" stroke="#333" stroke-width="0.28">ARID2</text>
<text x="99.70" y="826.07" font-size="7.7" font-style="italic" fill="#333" stroke="#333" stroke-width="0.28">MEIS1</text>
<text x="292.40" y="678.80" font-size="10" font-weight="bold" fill="#000" stroke="#000" stroke-width="0.28">E</text>
<text x="391.30" y="684.50" font-size="8.6" fill="#231f20" stroke="#231f20" stroke-width="0.28">PRO-seq</text>
<line x1="390.20" y1="699.50" x2="390.20" y2="836.00" stroke="#333" stroke-width="1.0" stroke-dasharray="1.1 1.5"/>
<line x1="433.10" y1="699.50" x2="433.10" y2="836.00" stroke="#333" stroke-width="1.0" stroke-dasharray="1.1 1.5"/>
<path d="M396.3 832.6h0M388.1 822.7h0M398.8 836.8h0M398.8 823.2h0M397.3 790.5h0M391.8 829.0h0M392.8 825.0h0M403.8 836.1h0M406.4 834.2h0M407.6 832.6h0M398.2 825.6h0M399.2 830.4h0M397.5 820.1h0M395.3 830.6h0M399.8 828.2h0M409.3 830.3h0M407.0 834.9h0M389.2 797.4h0M394.7 835.4h0M399.2 835.1h0M389.6 823.0h0M398.6 834.1h0M403.9 834.8h0M397.3 829.4h0M410.2 834.2h0M404.7 825.3h0M383.5 815.5h0M406.5 836.2h0M385.3 795.3h0M409.5 834.7h0M398.1 822.6h0M401.7 831.9h0M397.5 820.8h0M394.5 789.1h0M386.2 828.0h0M390.3 834.7h0M400.3 823.1h0M385.3 836.1h0M398.6 827.1h0M398.4 833.7h0M382.4 822.6h0M410.0 821.2h0M398.0 829.5h0M394.3 836.5h0M394.6 827.2h0M390.1 834.6h0M383.3 829.5h0M393.2 800.8h0M391.5 829.1h0M401.1 832.3h0M402.8 832.6h0M404.4 832.5h0M389.1 828.7h0M400.0 828.2h0M396.5 802.5h0M391.0 827.3h0M398.0 832.5h0M397.3 829.5h0M387.3 820.9h0M395.7 836.3h0M402.5 830.7h0M402.6 834.5h0M400.1 836.7h0M408.1 836.7h0M405.1 835.7h0M407.3 834.9h0M402.1 834.3h0M400.4 834.4h0M403.4 835.1h0M390.0 830.4h0M396.7 829.4h0M398.6 826.7h0M398.8 824.6h0M392.3 833.6h0M394.1 824.1h0M390.0 835.4h0M399.7 824.3h0M391.2 829.5h0M394.3 832.6h0M400.4 829.9h0M391.2 833.6h0M402.1 836.1h0M401.5 827.0h0M397.8 822.0h0M394.7 819.9h0M391.7 824.1h0M394.7 835.5h0M403.1 835.1h0M395.4 832.7h0M402.4 833.9h0M403.3 824.1h0M393.5 835.0h0M380.1 789.4h0M396.5 797.6h0M407.7 828.6h0M390.0 833.4h0M397.3 827.7h0M410.1 835.1h0M398.5 834.9h0M390.7 835.9h0M401.9 827.3h0M400.0 836.6h0M388.0 797.4h0M403.2 825.3h0M389.5 836.7h0M402.4 829.4h0M394.2 825.3h0M391.7 827.6h0M409.2 834.4h0M388.4 830.6h0M397.2 831.3h0M382.9 806.7h0M399.8 831.5h0M393.2 817.7h0M391.0 803.9h0M386.0 808.8h0M396.6 828.0h0M397.7 820.6h0M391.6 833.0h0M395.2 829.5h0M404.0 829.9h0M393.2 836.9h0M393.5 835.4h0M395.7 836.2h0M383.3 835.1h0M399.2 831.8h0M399.4 833.8h0M391.3 823.6h0M402.7 835.7h0M400.4 834.2h0M390.6 820.1h0M390.7 830.5h0M393.1 831.5h0M394.8 827.5h0M395.6 821.3h0M403.7 832.2h0M403.2 833.4h0M394.1 823.9h0M406.5 834.7h0M391.8 833.4h0M407.6 836.6h0M399.4 832.9h0M410.0 830.2h0M390.4 830.6h0M387.0 831.9h0M404.4 834.1h0M387.7 819.9h0M387.9 803.2h0M394.2 822.8h0M407.1 834.1h0M389.5 836.8h0M391.3 834.9h0M396.6 836.0h0M399.1 836.1h0M393.7 836.6h0M400.0 824.3h0M387.1 818.8h0M387.6 808.4h0M388.1 812.3h0M399.7 836.6h0M396.0 825.2h0M405.4 836.4h0M397.1 836.3h0M407.0 835.6h0M409.2 836.1h0M402.2 835.8h0M397.0 824.7h0M387.2 828.8h0M401.7 834.4h0M391.7 830.1h0M389.8 786.5h0M392.8 830.7h0M397.0 826.7h0M401.1 828.2h0M400.9 832.7h0M404.5 832.3h0M393.8 835.8h0M399.4 826.9h0M389.6 828.6h0M401.2 829.1h0M394.8 834.6h0M391.8 826.0h0M399.0 828.1h0M392.3 800.0h0M400.1 833.3h0M386.4 804.7h0M401.8 835.4h0M399.8 836.7h0M403.8 836.0h0M396.1 832.7h0M402.3 836.0h0M406.4 834.6h0M395.7 819.7h0M393.0 829.4h0M405.1 831.5h0M392.5 821.2h0M402.6 819.4h0M402.0 835.3h0M395.9 825.0h0M405.0 828.8h0M407.6 836.0h0M394.9 834.8h0M391.9 821.9h0M387.4 832.2h0M408.7 831.3h0M399.8 827.8h0M390.1 835.6h0M385.8 830.9h0M389.6 830.7h0M406.2 836.8h0M402.1 834.6h0M404.5 835.8h0M393.8 827.3h0M390.2 826.2h0M398.9 835.9h0M398.6 836.0h0M386.6 800.9h0M394.3 807.0h0M398.7 833.3h0M395.3 833.4h0M408.7 833.8h0M404.2 835.5h0M407.5 832.4h0M386.7 824.2h0M399.5 836.0h0M403.5 830.6h0M396.7 826.8h0M401.1 830.4h0M398.8 829.3h0M390.6 822.7h0M383.6 834.4h0M393.4 832.4h0M398.6 827.1h0M404.3 832.1h0M402.1 833.4h0M398.6 836.3h0M392.9 822.3h0M396.7 824.9h0M405.8 835.2h0M397.7 819.8h0M390.1 836.3h0M402.3 828.7h0M397.1 833.1h0M400.5 831.8h0M390.7 817.4h0M405.2 836.4h0M386.0 831.5h0M394.2 820.8h0M394.9 823.8h0M395.1 831.5h0M392.8 821.0h0M392.3 826.1h0M407.7 836.4h0M400.7 832.0h0M394.2 828.0h0M395.4 822.0h0M391.8 836.5h0M392.1 800.6h0M409.5 835.6h0M405.8 833.0h0M400.0 811.1h0M399.3 822.6h0M402.5 833.3h0M406.1 836.9h0M403.7 829.8h0M401.3 832.3h0M404.0 834.0h0M393.9 836.5h0M388.8 826.7h0M401.6 831.9h0M403.0 820.4h0M394.0 820.0h0M399.4 829.8h0M390.6 833.3h0M394.9 836.1h0M407.7 835.7h0M400.9 824.0h0M398.3 821.5h0M400.5 830.9h0M386.9 815.0h0M401.9 834.5h0M391.3 811.6h0M408.2 835.2h0M396.6 835.8h0M405.1 836.7h0M392.8 834.8h0M394.7 829.8h0M399.7 833.0h0M405.3 832.6h0M399.6 826.9h0M389.5 829.6h0M390.6 819.9h0M383.2 828.0h0M402.9 832.1h0M390.7 833.5h0M392.1 818.3h0M396.9 835.5h0M401.5 835.5h0M395.8 835.1h0M400.5 836.7h0M394.5 835.7h0M392.9 836.2h0M389.8 836.6h0M403.8 831.1h0M394.6 836.3h0M402.8 836.7h0M392.9 798.0h0M396.4 831.0h0M393.9 834.9h0M401.6 836.1h0M401.5 836.6h0M397.8 824.1h0M402.6 833.5h0M391.5 833.3h0M399.4 834.7h0M393.0 832.0h0M406.1 836.5h0M404.6 832.9h0M406.5 836.9h0M393.9 834.9h0M396.4 836.5h0M387.3 800.0h0M393.5 834.4h0M389.0 813.2h0M398.3 817.2h0M395.2 833.3h0M397.7 829.1h0M394.1 833.2h0M398.0 821.6h0M391.7 831.8h0M392.3 823.2h0M393.0 821.5h0M398.9 826.9h0M392.4 806.2h0M404.7 834.9h0M401.4 827.7h0M394.4 830.0h0M397.5 826.2h0M392.7 826.0h0M398.7 831.8h0M403.7 836.1h0M397.3 831.5h0M398.4 825.8h0M398.4 834.8h0M399.8 824.0h0M406.0 829.1h0M408.3 835.1h0M387.8 830.6h0M403.9 834.7h0M390.6 795.3h0M393.8 835.7h0M400.1 836.3h0M398.4 828.7h0M396.8 835.4h0M394.7 826.3h0M397.9 834.8h0M397.5 808.3h0M395.3 831.5h0M388.0 813.6h0M406.8 834.2h0M404.6 836.0h0M395.7 820.2h0M394.4 835.6h0M378.8 831.6h0M394.2 813.1h0M390.2 833.4h0M392.9 816.5h0M404.5 830.5h0M403.7 826.9h0M402.4 833.6h0M389.1 835.2h0M392.1 816.4h0M405.1 835.9h0M404.6 831.1h0M398.9 836.3h0M401.6 836.4h0M390.3 826.0h0M397.6 828.2h0M404.3 832.7h0M395.5 783.9h0M390.6 831.4h0M399.7 835.1h0M395.7 835.1h0M386.7 802.6h0M401.7 811.7h0M409.4 834.9h0M407.6 835.2h0M401.9 833.0h0M404.1 825.1h0M401.3 835.6h0M381.1 834.7h0M398.0 831.0h0M402.8 831.5h0M385.7 831.3h0M394.0 830.8h0M403.5 830.1h0M387.3 831.5h0M392.2 830.5h0M393.4 836.0h0M390.1 820.4h0M382.7 827.5h0M398.8 835.5h0M400.0 831.8h0M389.7 825.9h0M405.8 835.6h0M386.3 826.4h0M387.3 831.2h0M405.3 835.7h0M396.6 835.6h0M397.9 830.7h0M401.1 836.6h0M397.9 835.0h0M396.0 800.5h0M404.8 830.2h0M395.1 834.8h0M397.2 836.8h0M402.8 836.6h0M394.3 828.6h0M391.9 833.4h0M393.6 819.0h0M401.7 836.6h0M394.3 830.9h0M404.3 825.8h0M404.6 829.6h0M396.9 824.4h0M393.2 819.2h0M410.2 835.0h0M397.7 834.2h0M396.3 827.5h0M395.8 815.3h0M390.4 822.1h0M401.4 820.9h0M393.2 830.8h0M405.8 834.0h0M394.8 825.2h0M403.9 834.8h0M399.1 832.4h0M394.4 803.5h0M404.3 836.1h0M400.4 833.4h0M389.1 809.3h0M389.3 823.3h0M409.1 836.8h0M404.9 834.0h0M401.0 834.8h0M400.9 836.2h0M408.5 833.7h0M402.8 824.9h0M390.8 794.5h0M399.9 819.3h0M400.6 835.6h0M406.8 835.6h0M388.1 832.0h0M380.9 828.6h0M402.2 834.1h0M397.7 834.5h0M393.3 792.7h0M392.5 834.2h0M394.5 836.0h0M408.5 831.7h0M398.9 829.4h0M396.7 833.9h0M397.6 809.9h0M391.9 828.8h0M394.6 833.7h0M399.1 834.9h0M397.6 810.6h0M387.5 833.8h0M401.6 836.0h0M406.0 836.7h0M396.7 835.0h0M401.4 826.4h0M395.4 805.2h0M398.5 831.0h0M399.5 833.3h0M394.7 791.9h0M397.7 835.6h0M393.3 835.3h0M406.4 836.6h0M384.4 832.9h0M405.9 821.9h0M396.8 810.3h0M390.4 827.9h0M398.7 836.7h0M402.8 834.6h0M397.1 829.6h0M409.3 835.3h0M404.4 833.4h0M398.8 823.3h0M394.1 808.0h0M387.9 807.8h0M389.2 810.5h0M380.6 832.8h0M397.4 836.4h0M392.2 790.7h0M409.0 836.5h0M389.2 836.7h0M406.1 832.6h0M408.9 836.6h0M398.9 831.0h0M400.7 831.0h0M395.5 833.1h0M403.8 835.0h0M397.2 833.1h0M407.5 828.1h0M408.7 831.4h0M394.0 796.5h0M402.0 835.1h0M391.0 819.8h0M391.1 831.5h0M400.5 814.5h0M401.5 833.3h0M405.6 828.6h0M395.8 795.8h0M404.5 832.6h0M398.3 836.3h0M409.2 832.9h0M390.8 836.1h0M392.7 790.4h0M402.5 834.4h0M395.0 815.3h0M388.3 828.3h0M389.5 830.5h0M405.2 835.4h0M404.1 834.7h0M397.2 827.8h0M390.3 834.7h0M403.6 835.7h0M403.7 836.1h0M389.9 835.7h0M399.4 836.7h0M391.8 827.3h0M389.3 817.7h0M401.1 825.9h0M388.8 828.3h0M410.2 834.2h0M386.4 828.9h0M387.0 826.4h0M392.5 834.4h0M400.7 825.7h0M399.4 836.7h0M398.7 833.6h0M383.6 833.0h0M396.3 833.9h0M403.4 834.1h0M391.5 824.4h0M401.0 836.2h0M403.3 817.5h0M398.0 832.2h0M399.7 827.1h0M394.4 836.8h0M397.1 831.2h0M410.2 832.7h0M389.9 831.3h0M405.1 827.9h0M392.4 834.2h0M399.3 829.5h0M395.1 836.6h0M389.1 824.5h0M400.4 836.3h0M396.1 818.7h0M389.1 825.6h0M401.3 830.3h0M377.4 818.1h0M395.2 814.1h0M391.3 835.1h0M406.6 835.3h0M398.9 825.9h0M385.2 813.1h0M404.4 835.9h0M390.0 831.7h0M394.2 834.6h0M393.6 817.7h0M400.5 818.8h0M385.6 828.1h0M386.3 832.9h0M396.2 830.5h0M395.2 832.1h0M389.0 836.0h0M407.7 835.3h0M400.4 835.0h0M394.1 833.6h0M399.2 836.0h0M403.0 835.6h0M405.5 835.7h0M393.7 823.7h0M394.7 827.2h0M386.7 833.7h0M396.9 830.1h0M404.0 832.6h0M402.3 836.6h0M402.5 828.4h0M391.8 826.1h0M403.3 835.3h0M388.3 833.1h0M403.4 828.4h0M397.5 831.4h0M392.1 831.9h0M386.9 815.4h0M399.9 831.7h0M398.7 822.3h0M405.7 829.1h0M395.7 831.2h0M406.3 830.5h0M396.5 834.8h0M387.0 823.9h0M390.3 832.0h0M385.5 823.3h0M406.2 820.3h0M390.9 832.4h0M407.0 836.8h0M402.0 834.4h0M407.3 834.8h0M401.9 829.9h0M399.2 830.8h0M399.5 831.1h0M394.7 832.9h0M397.7 832.7h0M401.3 835.5h0M404.7 836.4h0M391.9 836.2h0M401.7 832.7h0M396.4 835.2h0M389.9 801.4h0M391.8 811.7h0M404.0 836.6h0M397.7 834.2h0M403.6 836.3h0M404.4 835.5h0M395.9 805.8h0M393.4 828.9h0M388.5 833.5h0M393.5 819.5h0M376.7 803.0h0M394.3 824.1h0M398.8 826.4h0M395.8 802.0h0M389.3 831.2h0M396.6 827.0h0M401.2 834.9h0M395.5 835.2h0M385.1 832.1h0M395.7 832.8h0M397.9 831.2h0M402.8 834.1h0M393.3 835.2h0M408.9 836.2h0M391.7 836.0h0M388.3 834.4h0M382.7 830.3h0M389.2 835.2h0M409.0 834.0h0M388.7 828.0h0M404.4 836.3h0M381.9 832.2h0M396.2 832.2h0M405.9 834.1h0M390.9 833.6h0M405.6 836.4h0M392.2 829.3h0M406.2 836.9h0M407.8 831.5h0M398.9 834.7h0M381.5 833.6h0M402.6 832.6h0M410.2 835.7h0M390.1 836.2h0M409.3 834.3h0M400.8 824.5h0M407.3 831.2h0M399.0 831.1h0M397.4 833.0h0M400.8 836.0h0M397.2 831.2h0M400.3 836.0h0M398.2 836.5h0M401.1 833.9h0M394.5 833.7h0M401.9 836.8h0M409.5 835.4h0M404.6 833.9h0M402.6 831.9h0M392.9 833.1h0M389.0 834.3h0M397.9 835.6h0M408.4 831.3h0M395.8 836.5h0M383.5 833.8h0M392.2 834.9h0M406.6 810.0h0M405.4 835.3h0M381.4 836.4h0M395.8 834.6h0M403.1 827.8h0M398.3 836.8h0M396.6 836.9h0M389.8 829.8h0M384.1 836.7h0M390.7 835.6h0M396.6 835.6h0M401.4 836.4h0M392.2 836.6h0M382.4 836.7h0M382.4 836.1h0M407.8 832.1h0M394.9 831.7h0M395.5 833.4h0M407.8 833.0h0M395.4 825.4h0M410.1 836.6h0M390.7 827.8h0M398.1 832.5h0M394.0 835.1h0M396.8 833.7h0M409.4 835.6h0M388.9 835.8h0M396.6 835.8h0M399.9 833.2h0M388.7 825.9h0M396.5 836.1h0M400.5 836.7h0M403.3 833.8h0M392.6 835.9h0M405.0 836.5h0M405.1 834.4h0M402.9 829.3h0M393.9 835.4h0M397.8 836.7h0M389.1 832.0h0M399.7 832.4h0M402.4 836.0h0M403.6 836.1h0M392.7 833.3h0M389.2 836.5h0M388.1 834.6h0M399.3 834.4h0M397.7 836.1h0M398.8 833.2h0M389.6 828.2h0M404.6 829.1h0M387.1 832.5h0M381.9 836.4h0M387.8 828.8h0M406.7 833.7h0M382.9 835.7h0M385.5 828.6h0M397.7 836.3h0M404.0 830.7h0M398.0 835.5h0M397.4 827.7h0M402.9 836.8h0M382.8 835.5h0M399.1 823.8h0M402.1 836.6h0M384.6 835.9h0M403.8 827.2h0M403.6 828.8h0M400.6 835.6h0M404.0 834.1h0M394.1 835.1h0M395.6 835.6h0M386.0 827.4h0M388.5 830.9h0M408.2 835.9h0M404.3 836.3h0M382.3 828.6h0M383.8 834.0h0M406.9 834.9h0M408.6 828.6h0M402.6 835.7h0M382.9 836.1h0M383.6 835.6h0M391.0 836.5h0M384.3 835.1h0M400.3 833.2h0M393.1 835.9h0M406.6 833.9h0M409.5 829.7h0M400.3 836.2h0M400.8 836.5h0M401.1 834.1h0M398.5 835.5h0M401.8 834.5h0M387.7 834.9h0M388.1 834.6h0M406.8 836.2h0M385.7 834.6h0M399.2 834.3h0M385.8 835.2h0M399.8 835.3h0M409.9 834.1h0M396.4 834.5h0M397.2 834.6h0M389.6 836.2h0M381.9 836.4h0M385.2 836.2h0M387.3 835.8h0M408.0 834.2h0M386.0 830.3h0M384.9 823.2h0M408.7 835.2h0M407.1 831.9h0M397.2 832.1h0M387.2 812.8h0M390.7 829.6h0M394.4 836.6h0M384.5 836.5h0M407.8 830.7h0M402.1 833.1h0M409.4 836.0h0M389.6 836.7h0M395.5 827.2h0M404.0 832.6h0M388.7 833.5h0M388.1 832.7h0M409.8 836.1h0M394.7 824.6h0M404.0 833.8h0M406.5 830.3h0M397.4 834.3h0M390.9 836.4h0M389.2 831.2h0M385.4 835.7h0M403.5 836.2h0M384.3 834.9h0M399.0 834.3h0M390.1 835.5h0M400.5 831.8h0M387.8 835.6h0M408.1 827.7h0M389.2 833.7h0M398.5 825.7h0M397.8 836.0h0M407.3 835.4h0M392.9 835.3h0M382.9 833.2h0M397.0 833.1h0M392.9 833.5h0M395.9 834.3h0M396.0 830.6h0M404.7 831.5h0M401.6 830.3h0M408.1 834.6h0M397.4 832.5h0M404.4 835.8h0M406.4 834.0h0M393.6 836.9h0M405.1 836.1h0M382.6 834.8h0M393.9 835.7h0M391.2 831.0h0M390.8 836.9h0M397.5 834.5h0M408.9 831.4h0M401.0 835.7h0M392.2 833.8h0M395.9 830.0h0M395.2 835.4h0M408.4 834.1h0M399.7 834.2h0M400.2 836.9h0M409.1 836.3h0M407.5 830.2h0M393.5 835.9h0M389.7 833.4h0M408.4 832.0h0M403.6 816.1h0M406.1 835.7h0M403.0 829.9h0M386.6 833.8h0M405.9 834.9h0M390.0 836.7h0M383.6 830.4h0M383.3 832.7h0M392.4 824.0h0M402.5 835.6h0M406.7 836.2h0M387.2 836.5h0M388.7 835.1h0M384.9 831.9h0M390.4 830.3h0M409.0 835.8h0M399.6 834.9h0M390.9 829.5h0M388.9 827.6h0M390.1 835.3h0M395.6 832.0h0M386.7 835.3h0M400.0 833.5h0M403.6 829.4h0M410.2 833.2h0M396.2 836.1h0M393.8 834.6h0M382.4 829.3h0M393.3 829.7h0M384.7 836.2h0M386.3 830.6h0M381.6 831.9h0M398.9 836.1h0M391.4 836.0h0M388.4 833.9h0M386.4 835.3h0M401.5 828.7h0M391.1 835.2h0M394.0 834.9h0M391.7 834.3h0M402.0 823.2h0M384.7 831.9h0M402.2 836.1h0M389.1 830.8h0M391.4 836.0h0M389.4 834.3h0M399.4 833.8h0M397.3 833.2h0M388.5 822.7h0M407.0 833.9h0M382.9 833.1h0M393.5 830.2h0M409.3 831.4h0M392.2 833.8h0M401.3 833.5h0M406.6 834.3h0M402.8 827.5h0M387.0 834.6h0M388.4 835.2h0M395.1 836.3h0M385.5 831.8h0M388.3 836.6h0M386.6 836.8h0M393.9 834.5h0M408.5 835.0h0M384.6 833.4h0M401.1 831.0h0M400.0 828.9h0M398.7 836.6h0M382.2 836.6h0M402.9 831.7h0M406.9 834.1h0M385.4 833.8h0M400.2 831.9h0M386.4 833.8h0M392.1 835.5h0M398.5 820.0h0M382.2 836.9h0M404.6 836.0h0M387.3 836.1h0M405.3 831.8h0M405.4 823.6h0M397.1 828.9h0M386.6 836.1h0M387.5 835.0h0M403.8 836.7h0M389.9 834.0h0M401.5 830.6h0M404.5 834.8h0M407.7 835.4h0M384.7 834.4h0M405.8 835.9h0M391.6 835.7h0M384.6 836.7h0M385.1 833.5h0M386.5 835.3h0M408.2 836.2h0M392.1 836.8h0M407.1 831.5h0M384.9 830.1h0M386.0 834.0h0M384.9 832.7h0M394.1 834.9h0M409.5 836.5h0M403.0 834.7h0M406.7 824.5h0M393.6 832.2h0M384.4 836.0h0M384.6 825.8h0M402.5 836.4h0M387.1 829.2h0M387.2 835.0h0M392.8 836.5h0M403.5 835.0h0M388.7 836.5h0M383.4 836.8h0M382.2 835.9h0M386.6 830.9h0M382.7 834.7h0M390.0 835.7h0M386.2 836.5h0M384.7 833.7h0M408.4 827.0h0M401.1 836.6h0M402.8 836.8h0M402.1 832.5h0M381.7 833.4h0M385.6 830.8h0M389.6 835.2h0M403.0 836.3h0M394.4 836.1h0M388.9 835.5h0M393.5 834.1h0M392.1 836.3h0M402.8 832.8h0M404.1 833.0h0M382.4 835.1h0M382.5 833.5h0M383.0 834.3h0M388.5 832.9h0M404.6 834.3h0M393.5 834.7h0M391.2 828.5h0M387.3 831.0h0M406.1 832.6h0M392.1 827.1h0M410.2 836.2h0M382.0 835.2h0M389.8 833.7h0M398.7 834.9h0M394.0 822.1h0M394.8 831.4h0M401.5 832.5h0M392.8 832.1h0M384.8 836.6h0M382.3 833.6h0M402.7 834.7h0M407.4 836.0h0M386.0 832.5h0M385.2 836.3h0M407.1 835.2h0M395.9 832.5h0M401.6 832.2h0M393.4 835.7h0M387.5 836.6h0M393.1 836.1h0M409.0 834.6h0M395.2 833.6h0M399.4 827.6h0M387.6 836.3h0M410.1 825.6h0M398.4 836.5h0M405.1 832.7h0M405.1 835.2h0M390.7 835.4h0M391.4 826.5h0M387.3 833.4h0M392.2 835.6h0M391.7 833.2h0M393.3 834.5h0M388.5 836.1h0M389.6 823.4h0M409.2 835.9h0M381.8 836.6h0M386.6 833.8h0M408.2 833.4h0M410.0 830.3h0M401.5 827.9h0M384.3 836.4h0M398.6 836.3h0M388.3 836.5h0M408.1 836.4h0M385.4 835.9h0M400.9 834.8h0M394.3 835.0h0M382.9 835.4h0M396.5 829.9h0M403.2 836.2h0M386.1 835.5h0M384.5 830.8h0M399.5 835.5h0M407.3 829.6h0M397.5 835.4h0M405.1 836.0h0M385.0 836.4h0M394.2 833.4h0M395.2 834.4h0M398.8 836.1h0M386.5 828.9h0M393.9 835.9h0M383.9 836.1h0M405.3 833.4h0M386.2 833.9h0M407.1 823.4h0M405.7 835.4h0M381.7 831.4h0M388.4 836.6h0M385.6 835.1h0M409.9 831.4h0M383.4 836.7h0M397.1 828.8h0M400.6 835.6h0M387.7 834.8h0M381.4 830.1h0M385.4 832.6h0M404.6 832.8h0M393.5 834.6h0M393.9 835.6h0M404.5 828.4h0M399.6 836.5h0M382.0 834.4h0M390.7 835.4h0M405.9 835.5h0M386.2 835.8h0M383.9 835.6h0M384.3 836.2h0M397.4 836.4h0M405.9 834.3h0M399.7 834.2h0M404.0 835.6h0M400.9 828.9h0M407.9 835.0h0M385.6 833.9h0M402.8 816.3h0M407.1 836.4h0M409.7 834.9h0M385.4 835.7h0M402.0 831.3h0M408.0 836.8h0M391.1 836.6h0M395.0 836.3h0M392.9 830.2h0M397.1 835.8h0M392.2 832.7h0M408.6 835.9h0M399.4 834.4h0M402.3 833.1h0M402.9 828.6h0M400.1 836.0h0M408.0 836.4h0M404.0 829.4h0M398.2 834.8h0M382.5 825.0h0M388.1 835.9h0M400.8 834.4h0M402.8 835.4h0M404.1 835.9h0M388.6 833.6h0M397.4 834.6h0M392.5 832.8h0M409.6 830.4h0M396.9 835.4h0M382.5 831.9h0M400.1 836.8h0M420.4 834.8h0M435.4 835.6h0M423.7 828.3h0M427.2 831.2h0M425.7 832.8h0M450.3 835.5h0M430.3 831.7h0M434.5 809.7h0M445.5 834.2h0M425.3 835.0h0M434.0 825.6h0M440.9 836.5h0M419.8 832.3h0M431.7 819.5h0M419.4 835.6h0M439.8 828.1h0M428.7 830.9h0M428.4 831.2h0M434.3 817.3h0M438.4 831.0h0M434.1 828.6h0M439.2 829.7h0M425.4 835.2h0M438.6 827.2h0M427.3 830.1h0M428.3 833.9h0M456.0 835.7h0M427.6 827.6h0M428.1 820.2h0M435.3 808.6h0M434.5 793.4h0M416.2 834.5h0M424.0 825.0h0M417.1 830.6h0M428.6 830.4h0M437.9 825.0h0M418.2 830.0h0M447.9 818.4h0M415.0 836.3h0M427.4 824.2h0M447.1 821.2h0M447.6 831.7h0M436.3 829.1h0M444.5 817.9h0M448.8 827.9h0M443.6 827.6h0M429.9 831.6h0M416.4 835.8h0M428.4 834.5h0M431.6 819.7h0M434.3 815.6h0M434.1 831.6h0M417.0 832.8h0M428.3 833.7h0M431.0 818.9h0M430.6 833.4h0M424.6 828.1h0M424.5 833.9h0M423.5 826.5h0M425.4 826.8h0M436.4 801.3h0M448.1 832.6h0M440.0 788.9h0M454.0 834.7h0M434.9 833.3h0M423.3 828.2h0M425.5 832.1h0M449.0 826.7h0M442.0 817.9h0M442.0 831.5h0M435.5 833.3h0M430.1 824.3h0M421.6 836.2h0M418.6 829.6h0M438.2 817.5h0M415.7 829.9h0M428.5 833.8h0M432.2 836.7h0M429.0 834.2h0M445.1 832.3h0M439.3 826.6h0M436.6 825.6h0M434.8 833.5h0M429.6 836.2h0M444.7 819.8h0M424.6 826.2h0M454.1 830.4h0M431.4 827.3h0M416.4 835.8h0M441.0 831.9h0M431.0 831.1h0M448.2 834.2h0M422.5 834.4h0M441.9 822.8h0M439.4 813.9h0M418.2 835.5h0M448.4 824.8h0M417.5 836.8h0M446.4 804.7h0M440.2 817.9h0M417.7 836.4h0M430.3 828.5h0M438.3 824.1h0M431.0 818.8h0M425.2 835.1h0M422.9 829.5h0M450.7 828.7h0M421.3 830.2h0M434.9 820.5h0M421.4 834.5h0M431.1 824.5h0M431.3 823.4h0M434.7 832.5h0M432.0 834.5h0M430.2 828.9h0M424.1 832.0h0M418.8 834.6h0M448.1 825.4h0M425.5 835.5h0M421.6 821.6h0M431.1 830.3h0M417.6 833.6h0M429.8 829.9h0M435.0 810.0h0M455.5 833.0h0M432.0 834.5h0M422.5 825.0h0M450.2 822.9h0M428.5 830.4h0M435.0 815.9h0M418.4 835.6h0M443.3 823.3h0M422.3 836.8h0M436.9 829.8h0M445.4 797.1h0M420.6 836.1h0M418.1 834.2h0M425.1 821.6h0M422.0 835.3h0M428.6 836.1h0M430.7 836.2h0M438.2 831.6h0M446.8 817.3h0M440.1 836.3h0M416.1 833.5h0M436.0 812.5h0M415.1 832.4h0M415.1 834.8h0M416.9 836.5h0M425.6 834.1h0M455.2 831.6h0M442.4 811.9h0M419.3 834.3h0M426.7 835.2h0M430.8 835.3h0M418.3 836.6h0M428.0 828.9h0M439.5 836.5h0M437.3 828.5h0M446.6 829.7h0M451.1 808.7h0M422.1 827.3h0M434.4 833.2h0M415.8 822.4h0M429.6 826.2h0M442.2 788.7h0M434.7 814.6h0M427.2 834.5h0M435.1 820.3h0M440.5 832.3h0M451.4 818.2h0M428.2 831.0h0M423.5 831.1h0M429.4 828.3h0M429.6 830.7h0M437.5 825.0h0M422.5 835.7h0M432.9 829.4h0M424.0 833.2h0M432.3 830.7h0M417.9 821.6h0M433.0 805.2h0M441.1 835.6h0M434.3 800.5h0M433.1 829.4h0M426.5 821.2h0M422.0 832.5h0M420.7 835.1h0M434.9 835.0h0M439.2 830.4h0M433.9 811.6h0M431.9 818.1h0M434.9 829.9h0M421.8 832.9h0M433.1 829.2h0M422.1 832.7h0M436.4 836.8h0M422.7 834.0h0M435.9 824.9h0M426.6 835.8h0M429.0 836.0h0M445.8 827.2h0M421.9 829.6h0M425.5 824.2h0M427.7 825.8h0M448.8 822.4h0M419.4 831.4h0M423.5 830.0h0M429.0 826.4h0M446.4 827.0h0M438.4 826.0h0M425.3 831.2h0M425.6 829.4h0M426.9 836.0h0M419.5 831.9h0M428.6 820.8h0M438.7 803.7h0M430.2 831.1h0M427.9 821.3h0M430.9 834.4h0M429.4 834.6h0M440.0 831.9h0M427.9 833.3h0M443.8 814.4h0M453.6 829.4h0M420.8 831.5h0M429.1 832.5h0M416.0 836.3h0M431.8 832.6h0M415.4 833.9h0M448.1 800.4h0M438.7 788.4h0M443.4 812.6h0M441.8 834.5h0M425.7 835.2h0M426.6 836.7h0M427.0 830.3h0M451.4 811.5h0M437.0 812.8h0M429.9 816.7h0M425.3 835.6h0M423.2 833.6h0M425.2 829.4h0M437.0 824.0h0M430.6 830.4h0M437.6 820.6h0M423.2 823.9h0M417.8 831.9h0M415.4 833.9h0M437.3 831.5h0M436.2 821.3h0M440.0 816.6h0M426.5 836.3h0M443.6 822.4h0M416.2 831.0h0M436.8 836.2h0M437.4 793.6h0M429.6 799.9h0M432.6 835.3h0M439.7 802.2h0M432.2 820.2h0M426.7 833.6h0M432.5 832.8h0M421.1 834.2h0M428.1 830.3h0M422.1 832.5h0M434.3 830.7h0M419.4 833.5h0M415.7 836.6h0M435.2 834.6h0M441.7 807.5h0M433.6 826.9h0M415.3 832.3h0M417.8 835.7h0M433.3 834.1h0M444.1 822.4h0M440.4 818.0h0M436.1 833.3h0M441.5 833.6h0M445.3 800.0h0M415.9 834.7h0M416.4 834.9h0M430.8 808.0h0M434.7 834.0h0M452.7 824.6h0M443.1 823.0h0M446.2 832.1h0M422.5 835.1h0M422.0 835.5h0M417.5 835.9h0M427.3 824.4h0M430.8 826.8h0M439.2 824.3h0M442.4 835.4h0M416.0 835.1h0M439.1 818.7h0M434.9 824.0h0M468.9 830.1h0M441.0 836.8h0M431.7 831.2h0M434.5 832.7h0M438.2 834.8h0M428.4 835.7h0M443.4 823.8h0M447.2 787.7h0M425.6 836.1h0M426.8 816.7h0M424.3 832.6h0M427.8 835.8h0M417.1 836.5h0M438.4 829.1h0M417.3 836.8h0M450.0 817.9h0M433.9 831.7h0M422.5 836.8h0M416.4 832.8h0M452.4 802.5h0M428.0 832.2h0M426.9 825.2h0M427.7 828.4h0M428.2 835.3h0M432.9 831.5h0M441.6 805.7h0M425.2 835.5h0M430.8 833.7h0M438.9 814.9h0M424.6 829.6h0M437.9 829.0h0M442.9 808.4h0M419.6 834.5h0M421.7 814.6h0M438.2 798.0h0M419.6 836.6h0M425.9 823.3h0M422.5 835.9h0M424.0 833.0h0M428.8 834.3h0M422.8 832.9h0M429.7 836.3h0M431.0 832.4h0M428.3 836.7h0M420.8 835.6h0M437.1 833.5h0M429.4 836.7h0M437.5 828.0h0M417.5 833.1h0M429.2 830.2h0M454.1 832.3h0M439.0 833.1h0M437.6 822.9h0M443.6 830.8h0M430.9 828.3h0M432.6 824.0h0M436.8 819.2h0M436.4 821.4h0M451.8 816.8h0M455.1 816.8h0M419.0 834.6h0M456.2 828.5h0M451.2 833.8h0M428.8 835.7h0M432.4 814.7h0M436.2 827.2h0M420.8 833.7h0M432.5 830.9h0M429.3 819.5h0M420.0 828.7h0M443.0 833.9h0M417.9 834.9h0M436.4 826.3h0M422.5 835.6h0M435.4 831.5h0M422.4 827.8h0M432.1 831.3h0M431.7 831.1h0M439.1 816.3h0M437.9 808.2h0M447.8 835.6h0M422.0 834.5h0M428.6 824.3h0M431.8 833.6h0M434.0 833.4h0M415.2 835.8h0M424.3 836.8h0M433.2 831.0h0M432.1 821.2h0M439.1 817.8h0M429.0 824.7h0M432.3 833.8h0M445.4 799.3h0M441.5 832.3h0M420.4 833.6h0M424.8 834.1h0M432.4 814.1h0M433.1 819.1h0M437.4 834.1h0M445.0 815.0h0M419.2 833.8h0M442.6 835.5h0M416.9 836.7h0M424.4 836.6h0M428.9 805.1h0M448.0 827.4h0M441.6 831.9h0M417.9 834.8h0M437.9 827.5h0M420.8 830.9h0M438.1 827.0h0M440.5 824.4h0M428.0 831.8h0M423.0 833.4h0M442.4 823.8h0M422.3 833.7h0M436.5 831.1h0M427.5 833.4h0M456.8 834.9h0M430.4 832.9h0M430.1 829.4h0M434.8 836.3h0M422.7 818.0h0M442.1 825.6h0M431.8 793.4h0M426.1 834.5h0M437.2 830.8h0M445.0 825.4h0M449.1 815.8h0M428.4 817.0h0M446.6 832.7h0M439.4 818.9h0M428.6 813.3h0M423.0 834.0h0M436.6 829.7h0M443.9 836.0h0M424.4 835.9h0M421.5 836.6h0M428.9 822.7h0M420.3 834.8h0M451.6 833.6h0M416.6 829.6h0M440.3 824.7h0M430.9 834.0h0M444.1 829.7h0M433.1 808.3h0M431.1 822.9h0M431.6 836.5h0M445.8 808.8h0M418.0 834.9h0M419.9 834.4h0M434.8 835.9h0M422.4 836.2h0M438.5 836.0h0M426.7 830.8h0M438.7 816.4h0M439.2 833.1h0M420.8 827.4h0M442.7 804.5h0M459.0 830.1h0M437.5 834.7h0M430.5 836.6h0M441.7 822.3h0M436.7 825.8h0M433.1 823.1h0M426.3 834.1h0M445.4 818.2h0M426.8 835.8h0M438.6 833.7h0M426.4 832.9h0M432.9 830.2h0M421.7 832.2h0M431.1 831.9h0M436.4 821.4h0M427.8 828.4h0M424.3 825.6h0M429.0 836.5h0M424.5 810.2h0M428.8 825.5h0M422.7 832.1h0M424.1 830.1h0M423.6 834.0h0M423.9 828.8h0M437.3 811.4h0M429.9 834.3h0M435.1 820.4h0M430.0 820.2h0M432.2 831.1h0M447.2 825.6h0M438.3 811.4h0M441.1 804.4h0M416.1 835.5h0M435.5 824.2h0M419.3 835.9h0M428.0 821.1h0M428.0 835.3h0M417.5 830.9h0M422.3 826.6h0M427.3 804.6h0M432.8 833.1h0M438.2 829.0h0M422.7 832.6h0M416.8 834.1h0M425.7 835.6h0M426.3 823.1h0M430.0 835.1h0M421.6 834.8h0M441.8 801.8h0M433.5 830.8h0M421.7 830.1h0M415.8 835.7h0M430.0 829.3h0M418.1 835.3h0M418.4 830.8h0M433.0 834.1h0M439.6 799.0h0M438.3 828.3h0M436.0 821.7h0M428.1 832.9h0M426.4 827.7h0M434.4 817.2h0M435.3 836.9h0M437.0 813.8h0M434.3 832.0h0M418.9 828.1h0M436.7 836.4h0M434.8 825.0h0M441.2 834.7h0M418.3 836.6h0M436.5 831.8h0M452.8 836.7h0M439.8 834.4h0M425.1 831.2h0M425.9 834.0h0M444.8 829.9h0M430.2 835.1h0M417.2 832.7h0M433.2 823.8h0M423.8 833.8h0M428.4 830.4h0M449.2 826.6h0M425.8 825.9h0M432.2 831.7h0M422.1 829.4h0M424.0 832.2h0M438.1 835.8h0M428.7 834.5h0M462.4 823.3h0M440.2 826.3h0M431.3 833.2h0M456.3 834.0h0M421.6 836.1h0M447.7 825.2h0M421.9 836.6h0M447.3 818.5h0M432.0 830.6h0M426.7 833.5h0M438.4 829.5h0M422.6 834.6h0M423.8 835.3h0M417.6 836.2h0M420.2 830.3h0M426.3 835.8h0M424.8 825.2h0M434.2 835.8h0M435.3 816.9h0M430.6 833.8h0M431.3 829.8h0M425.0 824.5h0M431.9 824.9h0M429.6 834.3h0M440.3 836.6h0M424.4 830.1h0M425.5 824.5h0M427.2 833.4h0M438.9 827.9h0M441.2 831.2h0M434.1 835.6h0M439.3 827.4h0M416.7 836.6h0M429.5 818.2h0M420.6 832.1h0M432.1 827.8h0M448.8 829.9h0M433.7 835.2h0M421.8 836.6h0M424.5 835.8h0M425.4 836.5h0M432.3 816.9h0M422.4 824.9h0M434.2 804.7h0M424.1 830.9h0M444.3 830.8h0M418.1 835.2h0M438.1 835.5h0M425.6 836.6h0M422.4 821.2h0M427.8 836.8h0M417.5 833.7h0M441.1 809.7h0M418.2 824.3h0M416.5 830.8h0M422.4 832.8h0M424.5 835.3h0M430.6 831.5h0M443.9 829.0h0M456.9 833.5h0M446.4 826.5h0M423.1 828.3h0M442.1 793.0h0M419.0 835.1h0M415.8 835.1h0M416.4 836.5h0M454.6 832.8h0M444.3 835.9h0M418.0 835.3h0M433.0 834.8h0M424.3 835.4h0M426.3 836.2h0M434.6 836.0h0M422.8 827.6h0M448.8 835.2h0M435.4 836.5h0M416.3 834.4h0M451.0 836.6h0M432.6 831.4h0M416.0 833.8h0M425.4 832.0h0M446.4 829.4h0M444.8 836.6h0M440.2 834.0h0M426.9 836.1h0M433.3 835.0h0M430.8 826.2h0M424.2 830.1h0M421.0 832.8h0M432.2 835.1h0M433.5 836.4h0M423.8 835.0h0M422.8 830.3h0M441.5 833.4h0M441.6 836.3h0M416.0 836.6h0M448.7 834.5h0M452.0 835.5h0M430.0 833.2h0M447.3 834.9h0M433.7 835.3h0M424.5 828.6h0M449.5 834.9h0M420.8 829.7h0M433.0 832.1h0M431.2 836.6h0M443.5 836.5h0M450.7 836.2h0M428.4 836.9h0M423.8 833.2h0M419.0 836.5h0M417.9 836.8h0M434.9 836.0h0M443.8 832.9h0M434.5 827.7h0M451.9 835.6h0M444.6 832.7h0M422.6 831.5h0M416.9 833.0h0M449.5 833.2h0M441.7 833.1h0M431.0 836.5h0M429.7 835.6h0M446.0 829.5h0M451.9 835.5h0M449.1 828.7h0M416.4 834.1h0M419.2 836.6h0M432.2 832.6h0M422.3 835.5h0M433.7 834.1h0M420.2 836.2h0M416.1 835.5h0M452.6 836.2h0M443.9 833.2h0M447.8 831.2h0M417.9 835.5h0M446.8 833.2h0M447.6 836.8h0M447.0 835.1h0M445.1 833.8h0M428.9 834.3h0M416.5 827.3h0M448.3 833.2h0M439.8 832.2h0M432.0 835.9h0M439.9 822.4h0M448.1 831.3h0M421.8 835.6h0M426.1 834.0h0M449.3 833.5h0M437.5 834.9h0M422.2 835.8h0M452.4 828.5h0M440.0 832.8h0M424.0 836.8h0M416.5 836.8h0M423.2 823.0h0M437.2 836.0h0M419.0 836.8h0M416.1 836.4h0M428.2 836.3h0M424.1 833.4h0M420.4 836.4h0M444.5 835.7h0M439.1 835.7h0M441.7 836.8h0M425.7 829.9h0M426.5 833.3h0M423.5 836.5h0M431.5 834.7h0M416.9 834.2h0M431.4 835.3h0M444.0 829.2h0M430.8 835.6h0M444.4 831.9h0M434.8 833.5h0M428.4 832.4h0M437.2 830.0h0M426.8 836.6h0M448.0 833.8h0M445.6 832.1h0M444.5 835.3h0M448.0 833.5h0M430.8 836.2h0M419.2 836.0h0M427.6 835.5h0M438.8 825.6h0M436.7 833.1h0M416.0 832.7h0M435.6 831.6h0M428.7 833.3h0M434.7 831.6h0M431.8 830.8h0M448.1 834.2h0M434.4 832.6h0M435.0 824.6h0M450.6 834.5h0M441.3 836.5h0M449.5 833.5h0M416.6 836.8h0M447.2 831.5h0M438.7 835.1h0M424.7 834.6h0M449.6 833.4h0M417.2 836.1h0M418.8 829.9h0M447.3 827.8h0M431.7 835.5h0M417.9 835.8h0M428.5 835.2h0M428.3 832.3h0M447.7 835.2h0M446.2 835.7h0M425.6 831.3h0M418.9 836.6h0M452.8 834.6h0M430.9 831.7h0M448.9 835.3h0M445.8 836.4h0M448.9 835.0h0M430.0 836.8h0M418.2 835.1h0M419.9 833.1h0M452.9 835.7h0M443.8 833.8h0M438.8 831.6h0M433.7 830.7h0M421.5 832.9h0M435.4 836.1h0M424.2 826.5h0M439.4 834.5h0M434.3 830.3h0M439.3 836.0h0M450.7 830.3h0M444.8 832.5h0M440.8 835.5h0M452.2 832.5h0M421.7 831.1h0M431.6 836.7h0M448.6 836.0h0M431.4 836.5h0M435.1 834.2h0M446.4 826.1h0M448.7 833.0h0M430.6 827.1h0M424.1 835.5h0M436.7 835.3h0M436.8 836.4h0M424.8 836.8h0M431.7 835.9h0M446.1 835.8h0M422.8 832.5h0M422.9 830.5h0M435.4 836.3h0M441.8 816.2h0M427.1 834.0h0M436.0 826.4h0M452.6 836.7h0M429.9 831.1h0M431.3 834.4h0M436.8 836.8h0M417.0 828.9h0M430.4 834.8h0M436.5 832.0h0M449.0 836.6h0M439.2 836.9h0M436.0 831.0h0M433.5 835.3h0M447.6 832.7h0M449.8 834.1h0M427.2 832.7h0M433.9 836.9h0M420.4 825.7h0M439.8 836.8h0M443.8 831.9h0M417.4 821.0h0M422.1 834.4h0M442.2 834.5h0M428.6 834.6h0M439.2 826.2h0M448.6 821.0h0M445.7 834.6h0M428.9 828.4h0M450.1 835.6h0M445.0 835.4h0M417.7 834.6h0M449.2 834.2h0M446.1 830.4h0M445.4 835.6h0M449.7 836.6h0M434.5 836.6h0M429.9 829.3h0M446.0 819.7h0M436.6 834.3h0M421.8 834.6h0M449.5 835.4h0M447.6 835.6h0M445.6 836.1h0M451.7 836.4h0M418.6 833.9h0M444.7 832.5h0M430.8 832.5h0M423.2 835.5h0M426.4 836.0h0M417.2 836.0h0M435.9 833.6h0M428.1 833.6h0M428.0 831.1h0M416.1 831.7h0M449.3 833.8h0M439.5 822.8h0M421.0 836.5h0M434.6 832.4h0M435.7 834.6h0M431.8 834.7h0M448.4 836.6h0M440.1 836.5h0M447.2 835.8h0M445.5 835.5h0M439.3 834.4h0M451.4 834.6h0M434.8 834.4h0M425.0 827.0h0M428.4 836.3h0M423.4 832.4h0M449.4 833.7h0M451.4 836.0h0M448.8 831.8h0M423.6 836.5h0M431.4 835.0h0M433.9 832.4h0M424.1 835.8h0M428.0 836.3h0M432.1 833.7h0M425.8 836.4h0M442.9 836.6h0M447.7 833.5h0M424.1 836.8h0M447.2 836.8h0M443.8 834.2h0M441.4 836.1h0M443.0 835.8h0M437.7 825.2h0M437.9 836.3h0M424.7 835.0h0M446.7 831.3h0M430.2 833.8h0M428.8 834.5h0M427.4 826.7h0M429.5 835.5h0M438.9 836.0h0M419.8 834.8h0M446.5 835.3h0M426.2 835.7h0M438.2 835.8h0M435.6 834.4h0M417.1 835.5h0M446.3 836.0h0M443.7 836.6h0M433.9 835.0h0M439.9 836.9h0M420.2 835.1h0M450.0 834.4h0M447.8 834.2h0M452.5 836.6h0M448.1 835.8h0M423.8 834.3h0M431.2 818.2h0M450.6 832.4h0M424.8 835.9h0M432.1 835.5h0M423.8 836.1h0M425.5 835.6h0M419.7 835.6h0M451.2 830.5h0M438.7 825.9h0M450.7 836.5h0M417.3 835.5h0M435.5 815.8h0M416.6 832.7h0M445.3 835.8h0M444.3 829.8h0M419.1 833.1h0M433.3 831.7h0M421.2 833.1h0M416.0 836.8h0M431.8 835.4h0M431.8 836.0h0M452.9 835.0h0M434.2 835.3h0M448.6 836.2h0M450.5 836.1h0M448.4 834.9h0M438.0 835.9h0M446.2 836.0h0M445.0 833.1h0M449.2 821.1h0M445.6 836.2h0M446.1 836.5h0M445.9 827.9h0M420.7 836.7h0M445.9 835.4h0M441.0 830.9h0M450.8 834.3h0M447.1 828.4h0M444.5 835.3h0M449.9 835.0h0M449.3 835.2h0M433.8 836.7h0M419.5 827.7h0M432.7 832.3h0M433.3 832.3h0M435.2 836.3h0M427.4 833.3h0M421.5 826.9h0M417.9 834.0h0M448.2 832.3h0M421.0 836.5h0M442.1 835.0h0M419.2 836.4h0M440.5 836.8h0M426.4 827.0h0M425.0 830.2h0M416.6 836.1h0M417.4 832.3h0M436.8 831.8h0M446.1 832.4h0M419.6 834.7h0M416.8 831.3h0M429.7 834.7h0M449.0 820.4h0M438.2 835.2h0M448.3 830.4h0M423.6 834.8h0M451.1 822.4h0M449.8 834.5h0M421.7 829.1h0M423.3 833.6h0M430.1 830.3h0M429.3 835.2h0M447.4 832.3h0M453.0 836.4h0M420.5 832.9h0M434.2 829.0h0M433.0 836.7h0M433.4 835.9h0M445.5 831.1h0M447.9 836.5h0M436.7 836.1h0M452.2 836.3h0M440.0 832.5h0M423.1 833.8h0M420.1 836.7h0M426.2 836.6h0M432.1 832.9h0M450.2 835.8h0M433.4 832.8h0M427.4 835.6h0M429.4 830.6h0M429.1 831.8h0M421.1 835.6h0M426.5 836.0h0M421.5 835.1h0M446.1 833.1h0M452.8 835.5h0M427.0 835.9h0M434.0 836.4h0M445.7 834.9h0M417.2 834.4h0M431.7 836.1h0M426.9 833.0h0M453.0 833.6h0M425.2 836.8h0M427.7 835.9h0M431.4 834.8h0M426.1 836.2h0M450.4 826.5h0M442.7 827.6h0M436.9 832.1h0M432.1 833.1h0M447.3 832.6h0M445.4 833.6h0M428.5 831.2h0M449.2 835.9h0M421.8 836.8h0M424.7 836.2h0M423.1 836.2h0M427.5 836.2h0M451.6 836.6h0M416.1 828.0h0M429.9 832.0h0M427.5 836.8h0M417.0 827.9h0M417.4 834.8h0M425.4 833.3h0M429.7 831.1h0M423.6 834.2h0M452.3 834.2h0M451.3 836.7h0M448.6 835.1h0M452.9 832.7h0M425.2 831.7h0M421.9 834.2h0M443.3 836.2h0M417.8 830.4h0M422.7 831.9h0M433.2 836.1h0M447.8 835.2h0M425.4 828.9h0M452.6 835.5h0M452.1 836.5h0M445.3 833.8h0M424.7 835.1h0M427.5 833.0h0M431.4 834.9h0M440.6 835.4h0M418.7 834.5h0M448.0 835.9h0M425.7 828.3h0M421.7 825.6h0M426.9 836.1h0M442.7 829.1h0M433.1 835.8h0M420.4 836.8h0M442.0 832.2h0M427.4 834.6h0M444.2 832.7h0M441.1 828.1h0M424.7 824.2h0M439.1 835.5h0M441.1 835.6h0M431.0 830.8h0M445.8 833.7h0M445.8 829.8h0M430.2 836.6h0M450.8 836.7h0M432.2 836.5h0M435.7 831.6h0M416.9 834.5h0M430.7 833.0h0M449.2 833.0h0M417.8 835.4h0M433.0 836.3h0M447.8 835.3h0M429.0 836.0h0M435.7 831.1h0M419.8 834.5h0M426.7 836.6h0M430.5 833.3h0M438.6 818.0h0M441.9 827.6h0M442.8 832.8h0M449.2 829.9h0M443.9 835.5h0M426.2 829.9h0M416.5 835.1h0M447.0 835.7h0M434.2 835.4h0M439.5 830.7h0M417.8 835.0h0M447.6 835.0h0M452.2 835.8h0M434.5 836.2h0M448.1 834.6h0M446.5 832.8h0M425.4 830.2h0M312.0 835.3h0M368.6 836.7h0M352.1 836.6h0M343.7 835.1h0M342.5 836.4h0M310.2 836.8h0M344.3 836.5h0M380.5 836.4h0M376.9 836.4h0M380.3 836.6h0M308.7 836.0h0M358.4 836.7h0M323.7 836.5h0M377.7 836.2h0M340.8 836.4h0M334.2 836.6h0M321.1 836.2h0M308.6 836.4h0M313.7 836.8h0M366.7 835.7h0M346.9 834.9h0M362.7 836.4h0M354.6 836.9h0M314.3 836.0h0M336.3 834.9h0M327.0 836.7h0M323.4 835.3h0M349.8 836.7h0M311.8 836.4h0M307.9 835.7h0M319.2 836.0h0M374.8 836.7h0M352.9 836.2h0M342.7 836.6h0M376.5 836.7h0M351.4 836.9h0M351.6 834.8h0M337.9 836.1h0M332.5 836.6h0M337.7 835.6h0M332.4 836.8h0M349.9 836.4h0M354.5 836.5h0M330.1 836.1h0M326.4 836.7h0M320.8 836.8h0M323.0 836.2h0M338.0 836.5h0M324.9 836.7h0M360.9 835.2h0M317.8 836.2h0M382.5 836.4h0M377.3 836.8h0M368.7 836.8h0M323.8 836.8h0M306.9 836.0h0M334.3 836.6h0M364.6 836.7h0M374.5 836.8h0M383.8 835.6h0M346.2 835.2h0M373.4 835.1h0M330.0 836.6h0M330.6 836.5h0M350.5 835.7h0M332.6 836.4h0M328.5 836.5h0M310.7 836.4h0M355.3 836.3h0M375.3 836.4h0M328.5 835.1h0M338.5 836.7h0M346.9 836.1h0M327.8 836.7h0M313.3 836.4h0M336.3 835.9h0M319.3 836.3h0M318.5 836.7h0M315.6 836.3h0M364.5 836.5h0M371.9 835.9h0M375.1 836.3h0M342.1 836.6h0M369.6 836.7h0M325.9 833.2h0M380.6 836.2h0M372.4 836.8h0M367.8 836.3h0M330.0 836.7h0M360.2 835.4h0M365.6 836.8h0M352.9 836.6h0M324.6 836.8h0M352.4 836.7h0M333.2 836.5h0M377.5 836.7h0M352.1 836.3h0M366.2 835.7h0M324.6 835.7h0M312.6 836.5h0M364.8 835.5h0M334.1 836.2h0M361.9 836.8h0M366.0 835.8h0M317.7 836.6h0M340.9 835.2h0M382.3 836.8h0M337.9 836.8h0M310.9 836.7h0M380.6 835.5h0M322.5 836.3h0M357.0 836.5h0M373.6 836.8h0M328.2 836.8h0M378.6 835.9h0M342.3 836.8h0M374.1 836.0h0M375.3 835.2h0M359.2 836.5h0M370.0 836.8h0M372.9 836.7h0M341.4 835.6h0M307.2 836.6h0M371.0 836.6h0M378.0 836.1h0M324.7 836.5h0M334.7 836.2h0M363.0 836.5h0M312.6 835.7h0M320.8 836.3h0M371.8 836.5h0M310.6 836.4h0M314.5 836.8h0M323.1 836.8h0M352.3 836.0h0M341.5 835.0h0M312.4 836.6h0M332.2 836.4h0M359.6 836.7h0M340.3 836.6h0M333.6 836.8h0M365.7 836.9h0M340.0 836.7h0M339.7 836.1h0M369.7 835.7h0M356.1 836.7h0M307.5 836.8h0M376.6 836.6h0M336.6 836.6h0M333.2 836.7h0M328.9 836.5h0M342.7 836.8h0M315.5 836.9h0M343.7 836.3h0M376.3 836.6h0M354.5 836.0h0M349.0 836.4h0M318.4 836.2h0M364.1 836.7h0M358.9 836.7h0M315.2 836.6h0M349.9 836.6h0M326.5 834.9h0M362.0 836.7h0M312.3 836.1h0M379.5 836.1h0M360.8 834.8h0M361.6 836.8h0M343.9 836.6h0M352.3 836.8h0M489.6 833.2h0M464.7 833.9h0M469.8 833.5h0M478.4 827.2h0M478.3 836.7h0M450.5 833.4h0M452.2 832.5h0M480.3 835.6h0M474.3 831.3h0M483.4 835.3h0M478.7 834.3h0M477.5 833.2h0M474.3 835.9h0M454.1 835.1h0M458.4 836.2h0M457.8 835.6h0M509.4 834.7h0M465.1 834.9h0M477.8 836.7h0M502.3 834.8h0M515.0 833.9h0M462.8 824.7h0M453.5 836.3h0M455.8 836.4h0M455.0 829.9h0M455.7 834.9h0M455.8 835.8h0M452.0 835.5h0M465.4 833.0h0M515.0 836.2h0M478.3 834.0h0M514.8 836.7h0M491.6 835.3h0M480.8 833.3h0M494.3 835.4h0M502.7 834.3h0M461.9 836.2h0M459.6 831.9h0M506.1 836.3h0M487.0 836.6h0M450.0 833.5h0M484.6 835.2h0M476.1 835.1h0M472.1 835.9h0M511.1 836.7h0M487.0 836.3h0M471.2 836.7h0M455.7 834.0h0M447.9 835.3h0M488.5 834.3h0M452.8 835.2h0M468.5 832.0h0M506.2 834.2h0M500.6 835.3h0M514.1 833.1h0M508.0 836.3h0M494.3 833.6h0M494.3 830.1h0M461.6 836.5h0M484.9 836.1h0M513.5 829.6h0M479.3 831.9h0M488.7 829.5h0M484.2 836.2h0M515.1 835.9h0M453.6 832.3h0M491.3 830.9h0M461.1 829.2h0M503.8 833.8h0M446.8 832.5h0M471.8 836.4h0M468.6 828.0h0M467.8 835.0h0M508.8 833.1h0M471.7 835.7h0M484.0 834.6h0M496.4 833.8h0M458.4 830.7h0M501.7 834.8h0M455.8 835.1h0M506.1 835.9h0M468.1 833.3h0M497.5 831.5h0M473.4 832.9h0M461.8 836.7h0M494.0 836.1h0M507.1 835.7h0M469.5 831.3h0M447.6 826.4h0M468.7 836.8h0M469.2 836.5h0M463.3 834.8h0M484.9 836.2h0M515.5 836.4h0M453.1 835.9h0M445.7 830.6h0M456.6 836.8h0M489.1 835.6h0M454.0 835.0h0M458.5 836.6h0M481.2 836.1h0M469.9 834.8h0M515.2 834.1h0M485.5 835.8h0M477.9 835.9h0M504.9 828.9h0M504.2 835.3h0M496.0 835.8h0M501.1 827.8h0M457.8 836.6h0M383.2 702.0h0M385.4 714.2h0M385.9 738.4h0M383.2 752.7h0M367.1 761.7h0M387.7 768.8h0M432.7 700.7h0M439.9 701.2h0M442.1 701.2h0M447.5 701.2h0M460.1 706.7h0M490.5 702.0h0M435.9 715.0h0M485.2 754.6h0M440.5 764.0h0M442.1 766.7h0M427.8 770.2h0M468.2 769.4h0M484.4 768.0h0M487.1 775.6h0M513.4 775.6h0M388.7 760.7h0M386.7 775.7h0M436.7 780.7h0M445.7 785.7h0M432.7 790.7h0M398.7 795.7h0M392.7 800.7h0M447.7 790.7h0M455.7 797.7h0" fill="none" stroke="#111" stroke-width="1.35" stroke-linecap="square"/>
<line x1="411.70" y1="699.50" x2="411.70" y2="836.20" stroke="#000" stroke-width="1.1"/>
<line x1="305.60" y1="836.20" x2="516.50" y2="836.20" stroke="#000" stroke-width="1.2"/>
<line x1="304.70" y1="836.20" x2="304.70" y2="840.20" stroke="#000" stroke-width="1.1"/>
<line x1="411.70" y1="836.20" x2="411.70" y2="840.20" stroke="#000" stroke-width="1.1"/>
<line x1="518.70" y1="836.20" x2="518.70" y2="840.20" stroke="#000" stroke-width="1.1"/>
<line x1="404.50" y1="699.50" x2="411.70" y2="699.50" stroke="#000" stroke-width="1.1"/>
<text x="403.80" y="702.60" font-size="8.6" text-anchor="end" fill="#231f20" stroke="#231f20" stroke-width="0.28">300</text>
<line x1="404.50" y1="745.00" x2="411.70" y2="745.00" stroke="#000" stroke-width="1.1"/>
<text x="403.80" y="748.10" font-size="8.6" text-anchor="end" fill="#231f20" stroke="#231f20" stroke-width="0.28">200</text>
<line x1="404.50" y1="790.50" x2="411.70" y2="790.50" stroke="#000" stroke-width="1.1"/>
<text x="403.80" y="793.60" font-size="8.6" text-anchor="end" fill="#231f20" stroke="#231f20" stroke-width="0.28">100</text>
<text x="305.00" y="850.80" font-size="8.6" text-anchor="middle" fill="#231f20" stroke="#231f20" stroke-width="0.28">−5</text>
<text x="411.70" y="850.80" font-size="8.6" text-anchor="middle" fill="#231f20" stroke="#231f20" stroke-width="0.28">0</text>
<text x="517.50" y="850.80" font-size="8.6" text-anchor="middle" fill="#231f20" stroke="#231f20" stroke-width="0.28">5</text>
<text transform="translate(303.90,769.50) rotate(-90)" font-size="8.6" text-anchor="middle" fill="#231f20" stroke="#231f20" stroke-width="0.28">−Log<tspan font-size="6" dy="2">10</tspan><tspan dy="-2" font-style="italic"> P</tspan></text>
<text x="397.70" y="863.40" font-size="8.6" fill="#231f20" stroke="#231f20" stroke-width="0.28">Log<tspan font-size="6" dy="2">2</tspan><tspan dy="-2">FC</tspan></text>
<circle cx="366.20" cy="874.40" r="1.9" fill="#d92b2b"/>
<text x="373.00" y="877.70" font-size="8.6" fill="#231f20" stroke="#231f20" stroke-width="0.28">NPM1c target genes</text>
<circle cx="360.20" cy="701.30" r="1.7" fill="#d92b2b"/>
<circle cx="387.90" cy="718.80" r="1.7" fill="#d92b2b"/>
<circle cx="392.50" cy="755.70" r="1.7" fill="#d92b2b"/>
<circle cx="395.20" cy="758.40" r="1.7" fill="#d92b2b"/>
<circle cx="389.00" cy="785.60" r="1.7" fill="#d92b2b"/>
<circle cx="391.80" cy="785.00" r="1.7" fill="#d92b2b"/>
<circle cx="393.70" cy="786.40" r="1.7" fill="#d92b2b"/>
<circle cx="381.50" cy="795.80" r="1.7" fill="#d92b2b"/>
<circle cx="388.30" cy="787.70" r="1.7" fill="#d92b2b"/>
<circle cx="402.70" cy="814.60" r="1.7" fill="#d92b2b"/>
<circle cx="403.70" cy="827.00" r="1.7" fill="#d92b2b"/>
<circle cx="399.80" cy="833.00" r="1.7" fill="#d92b2b"/>
<circle cx="409.40" cy="834.80" r="1.7" fill="#d92b2b"/>
<circle cx="411.30" cy="835.50" r="1.7" fill="#d92b2b"/>
<circle cx="419.00" cy="820.40" r="1.7" fill="#d92b2b"/>
<circle cx="421.00" cy="827.00" r="1.7" fill="#d92b2b"/>
<circle cx="417.00" cy="832.00" r="1.7" fill="#d92b2b"/>
<circle cx="414.00" cy="834.00" r="1.7" fill="#d92b2b"/>
<circle cx="423.00" cy="832.00" r="1.7" fill="#d92b2b"/>
<circle cx="420.00" cy="830.00" r="1.7" fill="#d92b2b"/>
<text x="327.30" y="710.77" font-size="7.7" font-style="italic" fill="#333" stroke="#333" stroke-width="0.28">IGF2BP2</text>
<text x="359.60" y="727.57" font-size="7.7" font-style="italic" fill="#333" stroke="#333" stroke-width="0.28">RUNX2</text>
<text x="343.00" y="748.57" font-size="7.7" font-style="italic" fill="#333" stroke="#333" stroke-width="0.28">SATB2</text>
<text x="343.00" y="758.77" font-size="7.7" font-style="italic" fill="#333" stroke="#333" stroke-width="0.28">ZEB2</text>
<text x="370.80" y="782.17" font-size="7.7" font-style="italic" fill="#333" stroke="#333" stroke-width="0.28">MKX</text>
<text x="358.70" y="791.07" font-size="7.7" font-style="italic" fill="#333" stroke="#333" stroke-width="0.28">MEIS1</text>
<text x="356.00" y="804.47" font-size="7.7" font-style="italic" fill="#333" stroke="#333" stroke-width="0.28">PHF10</text>
<text x="441.40" y="748.57" font-size="7.7" font-style="italic" fill="#333" stroke="#333" stroke-width="0.28">SATB1</text>
<text x="441.40" y="758.47" font-size="7.7" font-style="italic" fill="#333" stroke="#333" stroke-width="0.28">ARID2</text>
<line x1="367.20" y1="752.50" x2="392.00" y2="755.20" stroke="#111" stroke-width="1"/>
<line x1="438.70" y1="752.50" x2="395.00" y2="785.00" stroke="#111" stroke-width="1"/>
<text x="315.30" y="910.30" font-size="10" font-weight="bold" fill="#000" stroke="#000" stroke-width="0.28">F</text>
<text x="406.30" y="907.10" font-size="8.6" fill="#231f20" stroke="#231f20" stroke-width="0.28">PRO-seq</text>
<text x="484.00" y="904.50" font-size="8.6" font-weight="bold" fill="#000" stroke="#000" stroke-width="0.28">50 kb</text>
<line x1="474.50" y1="908.10" x2="514.70" y2="908.10" stroke="#000" stroke-width="1.6"/>
<rect x="328.90" y="912.40" width="188.80" height="111.80" fill="#f6f8fb" stroke="#444" stroke-width="1"/>
<polyline points="329.5,1019.5 330.0,1019.5 330.5,1018.1 331.0,1019.5 331.5,1019.5 332.0,1018.8 332.5,1018.6 333.0,1017.5 333.5,1017.1 334.0,1017.5 334.5,1017.3 335.0,1015.8 335.5,1016.8 336.0,1015.5 336.5,1011.4 337.0,1008.5 337.5,1005.9 338.0,1008.1 338.5,1011.9 339.0,1006.6 339.5,1004.8 340.0,1005.3 340.5,1008.7 341.0,993.8 341.5,981.0 341.8,972.7 342.0,975.2 342.5,984.4 342.9,990.4 343.0,992.6 343.5,1000.4 344.0,1008.3 344.5,1004.9 345.0,1003.6 345.5,1006.5 346.0,1012.1 346.5,1014.8 347.0,1013.1 347.5,1012.3 348.0,1012.1 348.5,1013.0 349.0,1015.3 349.5,1014.6 350.0,1016.4 350.5,1015.3 351.0,1013.8 351.5,1013.1 351.8,1013.7 352.0,1012.6 352.5,1015.5 353.0,1015.8 353.5,1013.4 354.0,1012.2 354.5,1012.2 355.0,1010.4 355.5,1009.3 355.7,1009.0 356.0,1010.0 356.5,1012.4 357.0,1013.7 357.5,1012.0 358.0,1009.8 358.5,1007.3 359.0,1009.1 359.5,1011.4 360.0,1011.2 360.5,1010.2 360.6,1010.5 361.0,1010.7 361.5,1013.4 362.0,1015.6 362.5,1014.2 363.0,1013.2 363.5,1014.4 364.0,1013.7 364.5,1015.8 365.0,1016.9 365.5,1017.4 366.0,1018.7 366.5,1018.0 367.0,1017.8 367.5,1016.6 368.0,1018.9 368.5,1016.2 369.0,1017.0 369.3,1015.5 369.5,1015.0 370.0,1016.5 370.5,1019.0 370.9,1019.3 371.0,1018.0 371.5,1015.6 371.9,1013.3 372.0,1012.9 372.5,1016.5 373.0,1017.0 373.1,1018.0 373.5,1018.4 374.0,1018.4 374.1,1019.0 374.5,1016.0 375.0,1014.7 375.0,1014.4 375.5,1014.3 376.0,1015.0 376.4,1015.4 376.5,1016.5 377.0,1016.4 377.5,1018.1 378.0,1017.0 378.5,1018.0 378.7,1018.5 379.0,1017.7 379.5,1016.8 380.0,1016.7 380.3,1015.1 380.5,1014.4 381.0,1014.8 381.5,1014.3 381.6,1015.3 382.0,1017.5 382.5,1017.6 382.9,1018.4 383.0,1018.2 383.5,1017.4 384.0,1018.3 384.0,1017.3 384.5,1016.0 385.0,1014.5 385.0,1013.4 385.5,1015.0 386.0,1015.7 386.5,1017.1 386.5,1017.9 387.0,1016.2 387.5,1016.2 388.0,1016.9 388.1,1017.7 388.5,1017.7 389.0,1016.5 389.1,1016.6 389.5,1016.1 390.0,1017.3 390.5,1017.5 390.7,1018.2 391.0,1016.7 391.5,1018.0 391.9,1018.9 392.0,1016.5 392.5,1018.0 393.0,1017.9 393.1,1017.2 393.5,1017.4 394.0,1017.5 394.5,1017.2 394.9,1018.7 395.0,1017.3 395.5,1017.3 396.0,1015.7 396.2,1014.7 396.5,1014.4 397.0,1018.2 397.5,1017.6 397.6,1018.2 398.0,1016.9 398.5,1017.5 399.0,1017.9 399.0,1017.6 399.5,1018.6 400.0,1017.2 400.5,1018.1 400.8,1016.9 401.0,1017.7 401.5,1015.4 402.0,1013.8 402.2,1015.1 402.5,1016.0 403.0,1016.3 403.5,1016.3 403.8,1017.8 404.0,1017.1 404.5,1017.2 404.9,1017.6 405.0,1016.6 405.5,1016.6 406.0,1015.9 406.5,1016.4 406.7,1018.2 407.0,1016.2 407.5,1015.2 408.0,1015.6 408.5,1016.2 408.5,1017.0 409.0,1017.0 409.5,1017.2 409.8,1017.7 410.0,1016.9 410.5,1015.2 410.8,1013.6 411.0,1013.0 411.5,1015.9 412.0,1018.4 412.4,1017.1 412.5,1017.4 413.0,1018.2 413.5,1019.0 413.7,1017.9 414.0,1019.5 414.5,1017.6 414.8,1018.8 415.0,1017.3 415.5,1017.4 415.8,1018.8 416.0,1017.6 416.5,1016.6 417.0,1017.5 417.5,1018.1 417.6,1018.4 418.0,1017.2 418.5,1018.3 418.8,1018.5 419.0,1018.1 419.5,1014.6 420.0,1011.0 420.4,1009.2 420.5,1010.6 421.0,1013.4 421.4,1016.9 421.5,1016.8 422.0,1016.3 422.5,1015.8 422.8,1016.1 423.0,1015.0 423.5,1017.1 424.0,1015.9 424.2,1017.4 424.5,1016.9 425.0,1017.0 425.2,1017.7 425.5,1015.6 426.0,1013.6 426.1,1012.6 426.5,1012.2 427.0,1012.7 427.4,1013.1 427.5,1013.7 428.0,1013.7 428.5,1017.8 429.0,1016.7 429.1,1016.6 429.5,1017.0 430.0,1017.3 430.5,1017.0 430.9,1017.6 431.0,1017.7 431.5,1015.4 431.8,1014.2 432.0,1014.4 432.5,1014.8 433.0,1014.9 433.0,1015.1 433.5,1014.9 434.0,1016.9 434.5,1017.2 434.7,1017.6 435.0,1018.0 435.5,1017.9 435.8,1017.2 436.0,1017.2 436.5,1018.2 436.8,1017.8 437.0,1019.5 437.5,1017.1 438.0,1017.6 438.4,1018.4 438.5,1019.1 439.0,1017.2 439.2,1017.3 439.5,1016.1 440.0,1014.9 440.5,1011.0 440.8,1010.8 441.0,1012.7 441.5,1013.1 442.0,1014.5 442.1,1015.0 442.5,1016.2 443.0,1017.8 443.5,1017.6 443.6,1017.0 444.0,1017.5 444.5,1019.5 445.0,1017.6 445.1,1018.5 445.5,1017.0 446.0,1018.8 446.2,1018.3 446.5,1017.8 447.0,1016.4 447.3,1015.5 447.5,1016.8 448.0,1017.8 448.2,1019.3 448.5,1017.5 449.0,1019.5 449.5,1017.6 449.5,1016.9 450.0,1016.2 450.5,1013.8 451.0,1013.4 451.0,1014.7 451.5,1013.3 452.0,1014.6 452.3,1014.3 452.5,1014.7 453.0,1015.7 453.5,1016.6 453.5,1016.5 454.0,1015.5 454.5,1015.0 455.0,1014.4 455.3,1014.4 455.5,1013.4 456.0,1016.7 456.5,1017.0 456.9,1017.9 457.0,1018.7 457.5,1017.8 458.0,1017.7 458.1,1019.5 458.5,1018.8 459.0,1018.2 459.4,1018.1 459.5,1017.6 460.0,1015.6 460.5,1013.1 460.6,1013.5 461.0,1014.8 461.5,1017.7 461.8,1017.3 462.0,1018.3 462.5,1016.9 463.0,1018.6 463.3,1018.8 463.5,1017.0 464.0,1015.2 464.4,1015.5 464.5,1015.9 465.0,1012.9 465.5,1013.1 465.6,1011.1 466.0,1011.7 466.5,1012.2 466.9,1014.1 467.0,1013.4 467.5,1015.1 468.0,1014.0 468.4,1015.6 468.5,1015.4 469.0,1015.6 469.5,1016.3 470.0,1015.8 470.5,1016.4 471.0,1017.2 471.5,1018.1 471.7,1017.2 472.0,1017.0 472.5,1015.3 473.0,1015.9 473.4,1016.8 473.5,1014.7 474.0,1016.1 474.5,1016.9 474.8,1015.7 475.0,1013.7 475.5,1014.0 475.6,1014.5 476.0,1015.4 476.5,1015.7 476.7,1018.8 477.0,1017.1 477.5,1017.2 477.6,1018.9 478.0,1016.0 478.5,1016.8 479.0,1016.2 479.5,1013.6 480.0,1013.1 480.5,1010.9 480.8,1010.3 481.0,1011.3 481.5,1013.0 482.0,1014.8 482.5,1012.9 483.0,1011.6 483.5,1009.9 484.0,1006.8 484.5,1007.0 484.8,1004.4 485.0,1005.4 485.5,1011.0 486.0,1013.9 486.5,1014.2 487.0,1016.3 487.5,1015.5 488.0,1016.4 488.5,1018.2 489.0,1017.1 489.5,1016.0 490.0,1017.6 490.5,1015.8 491.0,1016.8 491.5,1014.1 492.0,1015.2 492.5,997.2 493.0,982.1 493.5,965.5 494.0,949.5 494.4,938.2 494.5,942.4 495.0,973.6 495.5,1003.4 496.0,1004.3 496.5,1006.4 497.0,1007.2 497.5,1002.5 498.0,998.8 498.5,995.3 499.0,991.7 499.5,989.3 500.0,986.8 500.4,985.3 500.5,987.8 501.0,994.4 501.5,1004.1 502.0,1000.5 502.5,998.6 503.0,996.4 503.3,996.0 503.5,998.0 504.0,1002.8 504.5,1007.5 505.0,1007.4 505.5,1002.3 506.0,999.8 506.2,998.9 506.5,1000.3 507.0,1001.5 507.3,1003.7 507.5,1003.2 508.0,1006.1 508.5,1007.4 509.0,1009.8 509.5,1011.1 510.0,1013.2 510.5,1014.8 511.0,1015.3 511.5,1018.3 512.0,1019.5 512.5,1018.5 513.0,1019.5 513.5,1017.6 514.0,1019.5 514.5,1018.5 515.0,1018.9 515.5,1019.5 516.0,1019.5 516.5,1018.9 517.0,1018.4 517.3,1019.3" fill="none" stroke="#9a9a9a" stroke-width="0.5"/>
<polyline points="329.5,1019.0 330.0,1018.0 330.5,1017.3 331.0,1017.2 331.5,1017.7 332.0,1017.2 332.5,1016.8 333.0,1017.0 333.5,1016.3 334.0,1015.6 334.5,1015.0 335.0,1014.8 335.5,1014.5 336.0,1014.0 336.5,1009.8 337.0,1005.9 337.5,1003.0 338.0,1005.7 338.5,1010.0 339.0,1004.4 339.5,1000.0 340.0,1002.3 340.5,1005.0 341.0,988.7 341.5,973.0 341.8,963.5 342.0,967.0 342.5,976.8 342.9,985.0 343.0,986.5 343.5,995.3 344.0,1005.0 344.5,1001.4 345.0,1000.0 345.5,1003.5 346.0,1008.3 346.5,1013.0 347.0,1011.9 347.5,1010.2 348.0,1010.0 348.5,1011.1 349.0,1012.1 349.5,1013.0 350.0,1015.0 350.5,1013.4 351.0,1012.4 351.5,1010.3 351.8,1010.8 352.0,1011.0 352.5,1012.4 353.0,1014.0 353.5,1012.4 354.0,1010.3 354.5,1009.9 355.0,1008.8 355.5,1007.3 355.7,1007.0 356.0,1007.6 356.5,1009.7 357.0,1012.0 357.5,1009.2 358.0,1006.0 358.5,1004.6 359.0,1006.7 359.5,1010.0 360.0,1009.2 360.5,1007.5 360.6,1008.5 361.0,1009.2 361.5,1011.4 362.0,1013.0 362.5,1011.8 363.0,1010.8 363.5,1011.8 364.0,1012.6 364.5,1014.2 365.0,1016.0 365.5,1016.1 366.0,1016.0 366.5,1016.7 367.0,1017.0 367.5,1016.1 368.0,1015.8 368.5,1015.1 369.0,1014.5 369.3,1014.4 369.5,1014.0 370.0,1015.1 370.5,1016.0 370.9,1016.7 371.0,1015.6 371.5,1012.8 371.9,1010.4 372.0,1010.7 372.5,1013.0 373.0,1016.3 373.1,1017.0 373.5,1016.7 374.0,1016.5 374.1,1017.3 374.5,1015.4 375.0,1013.5 375.0,1013.3 375.5,1012.7 376.0,1013.0 376.4,1013.2 376.5,1012.8 377.0,1014.6 377.5,1016.5 378.0,1016.3 378.5,1016.6 378.7,1017.8 379.0,1016.4 379.5,1015.6 380.0,1014.1 380.3,1013.6 380.5,1013.1 381.0,1013.0 381.5,1013.3 381.6,1013.6 382.0,1014.4 382.5,1016.1 382.9,1017.5 383.0,1016.8 383.5,1016.7 384.0,1017.1 384.0,1015.9 384.5,1014.1 385.0,1012.4 385.0,1011.3 385.5,1013.7 386.0,1014.9 386.5,1016.4 386.5,1016.7 387.0,1015.1 387.5,1014.8 388.0,1015.4 388.1,1015.7 388.5,1015.1 389.0,1015.6 389.1,1015.7 389.5,1014.4 390.0,1015.2 390.5,1015.7 390.7,1015.7 391.0,1015.8 391.5,1015.7 391.9,1016.5 392.0,1015.8 392.5,1015.8 393.0,1016.0 393.1,1016.7 393.5,1016.7 394.0,1016.8 394.5,1016.7 394.9,1017.6 395.0,1017.0 395.5,1015.5 396.0,1014.0 396.2,1013.7 396.5,1013.5 397.0,1015.2 397.5,1016.1 397.6,1016.5 398.0,1015.7 398.5,1016.5 399.0,1016.7 399.0,1017.1 399.5,1016.4 400.0,1016.4 400.5,1016.2 400.8,1016.4 401.0,1015.1 401.5,1014.3 402.0,1012.7 402.2,1012.9 402.5,1013.6 403.0,1014.7 403.5,1015.3 403.8,1016.7 404.0,1016.2 404.5,1015.5 404.9,1016.2 405.0,1016.0 405.5,1015.5 406.0,1014.8 406.5,1013.8 406.7,1014.2 407.0,1013.9 407.5,1013.8 408.0,1013.9 408.5,1014.4 408.5,1014.1 409.0,1015.1 409.5,1015.6 409.8,1017.0 410.0,1015.6 410.5,1013.6 410.8,1012.2 411.0,1011.7 411.5,1013.8 412.0,1015.1 412.4,1016.7 412.5,1016.2 413.0,1016.7 413.5,1016.8 413.7,1017.4 414.0,1017.3 414.5,1016.5 414.8,1017.1 415.0,1016.6 415.5,1015.0 415.8,1015.7 416.0,1015.6 416.5,1015.2 417.0,1015.9 417.5,1016.7 417.6,1016.8 418.0,1016.1 418.5,1016.9 418.8,1017.7 419.0,1016.6 419.5,1013.0 420.0,1009.4 420.4,1006.7 420.5,1007.4 421.0,1011.4 421.4,1015.4 421.5,1013.4 422.0,1013.7 422.5,1014.0 422.8,1013.9 423.0,1013.9 423.5,1015.1 424.0,1015.1 424.2,1016.5 424.5,1016.1 425.0,1016.1 425.2,1016.0 425.5,1013.6 426.0,1010.3 426.1,1010.7 426.5,1010.4 427.0,1011.5 427.4,1011.9 427.5,1011.4 428.0,1012.7 428.5,1013.8 429.0,1015.3 429.1,1016.1 429.5,1015.6 430.0,1015.7 430.5,1016.3 430.9,1016.8 431.0,1015.8 431.5,1013.5 431.8,1012.3 432.0,1011.4 432.5,1012.2 433.0,1012.5 433.0,1012.7 433.5,1013.1 434.0,1014.2 434.5,1016.0 434.7,1017.0 435.0,1016.7 435.5,1016.6 435.8,1016.7 436.0,1016.5 436.5,1016.6 436.8,1017.0 437.0,1016.5 437.5,1016.5 438.0,1016.1 438.4,1016.4 438.5,1016.3 439.0,1016.1 439.2,1016.5 439.5,1014.0 440.0,1012.3 440.5,1009.5 440.8,1008.2 441.0,1008.2 441.5,1010.8 442.0,1012.7 442.1,1013.7 442.5,1014.1 443.0,1014.9 443.5,1015.8 443.6,1016.1 444.0,1016.3 444.5,1016.8 445.0,1016.9 445.1,1017.5 445.5,1016.5 446.0,1016.3 446.2,1017.1 446.5,1016.3 447.0,1015.1 447.3,1014.5 447.5,1015.2 448.0,1016.3 448.2,1017.7 448.5,1016.9 449.0,1017.1 449.5,1017.1 449.5,1016.5 450.0,1014.9 450.5,1012.4 451.0,1011.0 451.0,1010.4 451.5,1011.6 452.0,1012.4 452.3,1013.4 452.5,1013.7 453.0,1014.0 453.5,1015.9 453.5,1015.2 454.0,1014.8 454.5,1013.8 455.0,1012.0 455.3,1012.5 455.5,1012.3 456.0,1014.4 456.5,1015.6 456.9,1017.2 457.0,1017.1 457.5,1016.6 458.0,1017.0 458.1,1017.4 458.5,1016.8 459.0,1017.1 459.4,1017.4 459.5,1016.4 460.0,1013.6 460.5,1011.9 460.6,1011.8 461.0,1013.0 461.5,1015.4 461.8,1016.7 462.0,1016.5 462.5,1016.3 463.0,1015.9 463.3,1016.1 463.5,1014.9 464.0,1013.9 464.4,1014.0 464.5,1013.4 465.0,1011.1 465.5,1009.1 465.6,1008.8 466.0,1009.9 466.5,1010.7 466.9,1012.9 467.0,1012.4 467.5,1013.2 468.0,1013.0 468.4,1014.3 468.5,1014.1 469.0,1014.5 469.5,1014.7 470.0,1014.9 470.5,1015.1 471.0,1015.7 471.5,1015.4 471.7,1016.6 472.0,1015.5 472.5,1014.5 473.0,1014.5 473.4,1014.1 473.5,1013.6 474.0,1014.3 474.5,1014.1 474.8,1014.8 475.0,1012.8 475.5,1011.5 475.6,1011.8 476.0,1012.8 476.5,1015.1 476.7,1016.7 477.0,1016.6 477.5,1016.1 477.6,1016.9 478.0,1015.2 478.5,1014.2 479.0,1013.1 479.5,1011.7 480.0,1010.6 480.5,1008.4 480.8,1008.6 481.0,1009.3 481.5,1011.6 482.0,1014.0 482.5,1011.4 483.0,1009.0 483.5,1006.7 484.0,1004.1 484.5,1001.7 484.8,1001.2 485.0,1002.3 485.5,1007.0 486.0,1012.0 486.5,1012.3 487.0,1013.2 487.5,1014.0 488.0,1015.0 488.5,1014.9 489.0,1015.1 489.5,1015.1 490.0,1016.0 490.5,1014.6 491.0,1013.8 491.5,1012.2 492.0,1012.0 492.5,992.4 493.0,974.1 493.5,955.3 494.0,936.5 494.4,922.0 494.5,928.6 495.0,964.3 495.5,1000.0 496.0,1001.0 496.5,1003.2 497.0,1005.0 497.5,999.5 498.0,993.8 498.5,990.0 499.0,986.7 499.5,983.3 500.0,980.4 500.4,978.0 500.5,979.6 501.0,989.6 501.5,1000.0 502.0,997.1 502.5,994.5 503.0,991.8 503.3,990.8 503.5,993.1 504.0,998.4 504.5,1005.0 505.0,1001.7 505.5,998.1 506.0,995.4 506.2,994.8 506.5,996.0 507.0,997.9 507.3,1000.0 507.5,1000.2 508.0,1001.8 508.5,1005.0 509.0,1007.1 509.5,1009.2 510.0,1012.0 510.5,1012.8 511.0,1013.6 511.5,1016.2 512.0,1018.0 512.5,1017.6 513.0,1018.2 513.5,1017.1 514.0,1017.3 514.5,1018.2 515.0,1018.0 515.5,1018.3 516.0,1018.4 516.5,1018.7 517.0,1017.9 517.3,1019.0" fill="none" stroke="#5a5a5a" stroke-width="0.55"/>
<polyline points="329.5,1021.5 330.0,1020.8 330.5,1021.3 331.0,1020.3 331.5,1019.7 332.0,1020.7 332.5,1019.7 333.0,1020.8 333.5,1020.5 334.0,1020.7 334.5,1020.0 335.0,1020.4 335.5,1019.8 336.0,1020.5 336.5,1020.0 337.0,1020.5 337.5,1019.2 338.0,1017.7 338.5,1016.5 339.0,1016.0 339.5,1015.0 340.0,1013.3 340.5,1011.0 341.0,1009.4 341.5,1007.9 341.6,1008.0 342.0,1008.8 342.5,1011.0 343.0,1013.0 343.5,1015.0 344.0,1015.6 344.5,1017.7 345.0,1020.0 345.5,1019.5 346.0,1019.7 346.5,1020.2 347.0,1020.3 347.5,1019.5 348.0,1020.5 348.5,1019.8 349.0,1020.4 349.5,1020.0 350.0,1019.9 350.5,1020.2 351.0,1020.3 351.5,1020.3 352.0,1019.5 352.5,1019.8 353.0,1020.4 353.5,1020.2 354.0,1020.1 354.5,1020.3 355.0,1020.0 355.5,1019.9 356.0,1019.9 356.5,1019.5 357.0,1020.3 357.5,1020.1 358.0,1020.2 358.5,1020.1 359.0,1020.0 359.5,1020.3 360.0,1020.0 360.5,1019.9 361.0,1020.2 361.5,1020.1 362.0,1019.7 362.5,1019.1 363.0,1019.8 363.5,1019.6 364.0,1019.6 364.5,1020.0 365.0,1019.9 365.5,1019.7 366.0,1020.0 366.5,1020.2 367.0,1019.9 367.5,1020.2 368.0,1019.7 368.5,1019.5 369.0,1019.7 369.5,1020.1 370.0,1019.7 370.5,1020.2 371.0,1019.2 371.5,1020.0 372.0,1019.9 372.5,1020.1 373.0,1020.0 373.5,1019.7 374.0,1020.1 374.5,1019.7 375.0,1019.6 375.5,1019.7 376.0,1019.4 376.5,1019.9 377.0,1019.8 377.5,1019.8 378.0,1019.9 378.5,1019.9 379.0,1019.4 379.5,1019.4 380.0,1019.4 380.5,1019.7 381.0,1019.8 381.5,1019.8 382.0,1019.8 382.5,1019.9 383.0,1020.0 383.5,1019.7 384.0,1020.1 384.5,1019.7 385.0,1020.0 385.5,1019.8 386.0,1019.8 386.5,1020.0 387.0,1019.9 387.5,1019.6 388.0,1019.6 388.5,1019.6 389.0,1020.0 389.5,1019.9 390.0,1020.0 390.5,1019.9 391.0,1019.6 391.5,1020.0 392.0,1019.5 392.5,1019.4 393.0,1019.7 393.5,1019.9 394.0,1019.4 394.5,1019.8 395.0,1019.4 395.5,1019.3 396.0,1019.8 396.5,1019.4 397.0,1019.4 397.5,1019.6 398.0,1020.0 398.5,1019.5 399.0,1019.8 399.5,1019.6 400.0,1019.5 400.5,1018.9 401.0,1019.4 401.5,1019.8 402.0,1019.5 402.5,1019.7 403.0,1019.7 403.5,1019.6 404.0,1019.2 404.5,1019.9 405.0,1019.9 405.5,1019.4 406.0,1019.9 406.5,1019.4 407.0,1019.7 407.5,1019.1 408.0,1019.3 408.5,1019.2 409.0,1019.7 409.5,1019.6 410.0,1019.7 410.5,1019.7 411.0,1019.0 411.5,1019.4 412.0,1019.5 412.5,1019.4 413.0,1019.3 413.5,1018.7 414.0,1019.4 414.5,1018.6 415.0,1019.1 415.5,1019.7 416.0,1019.7 416.5,1019.6 417.0,1019.5 417.5,1019.2 418.0,1019.7 418.5,1019.2 419.0,1019.7 419.5,1019.5 420.0,1019.5 420.5,1019.0 421.0,1019.2 421.5,1018.9 422.0,1018.7 422.5,1019.2 423.0,1019.1 423.5,1018.8 424.0,1019.3 424.5,1019.6 425.0,1019.7 425.5,1018.8 426.0,1019.3 426.5,1018.9 427.0,1019.2 427.5,1019.2 428.0,1019.5 428.5,1019.4 429.0,1019.4 429.5,1018.4 430.0,1019.6 430.5,1018.9 431.0,1019.2 431.5,1019.4 432.0,1019.2 432.5,1019.2 433.0,1019.4 433.5,1018.6 434.0,1019.5 434.5,1019.1 435.0,1019.1 435.5,1019.2 436.0,1019.5 436.5,1019.5 437.0,1019.1 437.5,1018.2 438.0,1019.2 438.5,1019.3 439.0,1019.3 439.5,1019.2 440.0,1019.3 440.5,1019.1 441.0,1018.8 441.5,1019.4 442.0,1019.5 442.5,1019.5 443.0,1018.4 443.5,1019.3 444.0,1019.0 444.5,1019.0 445.0,1019.1 445.5,1019.1 446.0,1019.2 446.5,1018.9 447.0,1019.3 447.5,1019.1 448.0,1019.4 448.5,1019.4 449.0,1019.3 449.5,1019.2 450.0,1019.4 450.5,1019.3 451.0,1019.4 451.5,1019.3 452.0,1018.9 452.5,1019.0 453.0,1019.2 453.5,1018.5 454.0,1019.3 454.5,1019.0 455.0,1019.1 455.5,1019.1 456.0,1019.2 456.5,1018.9 457.0,1018.9 457.5,1018.8 458.0,1019.1 458.5,1019.2 459.0,1019.2 459.5,1019.3 460.0,1018.9 460.5,1019.3 461.0,1019.1 461.5,1019.2 462.0,1018.8 462.5,1019.3 463.0,1018.8 463.5,1018.9 464.0,1019.2 464.5,1018.8 465.0,1019.2 465.5,1019.2 466.0,1019.0 466.5,1018.7 467.0,1019.1 467.5,1019.0 468.0,1019.0 468.5,1017.8 469.0,1018.9 469.5,1018.2 470.0,1018.4 470.5,1018.7 471.0,1019.1 471.5,1018.7 472.0,1018.9 472.5,1019.2 473.0,1019.2 473.5,1019.2 474.0,1018.3 474.5,1018.7 475.0,1018.7 475.5,1019.0 476.0,1019.0 476.5,1018.7 477.0,1019.1 477.5,1018.8 478.0,1018.6 478.5,1019.0 479.0,1018.0 479.5,1018.2 480.0,1019.1 480.5,1018.9 481.0,1018.1 481.5,1018.7 482.0,1018.8 482.5,1018.9 483.0,1018.1 483.5,1018.3 484.0,1018.1 484.5,1018.1 485.0,1018.5 485.5,1018.5 486.0,1018.6 486.5,1018.7 487.0,1018.5 487.5,1018.5 488.0,1018.3 488.5,1018.1 489.0,1018.7 489.5,1018.4 490.0,1018.5 490.5,1018.9 491.0,1018.6 491.5,1018.6 492.0,1019.0 492.5,1009.8 493.0,1000.6 493.5,991.9 494.0,982.8 494.4,975.8 494.5,978.4 495.0,996.6 495.5,1015.0 496.0,1015.4 496.5,1016.5 497.0,1016.9 497.5,1017.4 498.0,1019.0 498.5,1017.7 499.0,1016.8 499.5,1015.7 500.0,1014.6 500.4,1013.8 500.5,1013.8 501.0,1015.2 501.5,1016.1 502.0,1018.0 502.5,1016.8 503.0,1016.4 503.5,1016.3 504.0,1015.5 504.5,1014.6 505.0,1015.0 505.5,1015.8 506.0,1016.2 506.5,1016.8 507.0,1017.6 507.5,1019.0 508.0,1020.0 508.5,1020.0 509.0,1020.0 509.5,1020.2 510.0,1020.2 510.5,1020.4 511.0,1020.4 511.5,1019.0 512.0,1020.2 512.5,1020.4 513.0,1020.6 513.5,1020.8 514.0,1020.2 514.5,1020.9 515.0,1020.9 515.5,1020.8 516.0,1020.3 516.5,1021.3 517.0,1021.3 517.3,1021.5" fill="none" stroke="#e03a3a" stroke-width="0.8"/>
<text x="333.30" y="922.28" font-size="8" font-style="italic" fill="#333" stroke="#333" stroke-width="0.28">7.0</text>
<line x1="341.70" y1="931.40" x2="352.30" y2="931.40" stroke="#444" stroke-width="0.9"/>
<text x="355.50" y="934.50" font-size="8.6" fill="#231f20" stroke="#231f20" stroke-width="0.28">DMSO</text>
<line x1="341.70" y1="941.10" x2="352.30" y2="941.10" stroke="#e03a3a" stroke-width="0.9"/>
<text x="355.50" y="944.30" font-size="8.6" fill="#231f20" stroke="#231f20" stroke-width="0.28">VTP-50469</text>
<line x1="329.00" y1="1031.40" x2="494.00" y2="1031.40" stroke="#2b3a8f" stroke-width="0.7"/>
<rect x="329.00" y="1029.90" width="2.00" height="3.00" fill="#2b3a8f"/>
<rect x="332.00" y="1029.90" width="1.50" height="3.00" fill="#2b3a8f"/>
<rect x="334.50" y="1029.90" width="1.50" height="3.00" fill="#2b3a8f"/>
<rect x="336.50" y="1029.90" width="2.00" height="3.00" fill="#2b3a8f"/>
<rect x="345.80" y="1029.90" width="2.20" height="3.00" fill="#2b3a8f"/>
<rect x="349.00" y="1029.40" width="1.50" height="4.00" fill="#2b3a8f"/>
<rect x="351.50" y="1029.40" width="1.50" height="4.00" fill="#2b3a8f"/>
<rect x="354.50" y="1029.40" width="2.00" height="4.00" fill="#2b3a8f"/>
<rect x="357.50" y="1029.40" width="1.70" height="4.00" fill="#2b3a8f"/>
<rect x="369.20" y="1029.40" width="3.90" height="4.00" fill="#2b3a8f"/>
<rect x="382.40" y="1029.40" width="1.20" height="4.00" fill="#2b3a8f"/>
<rect x="385.00" y="1029.40" width="1.20" height="4.00" fill="#2b3a8f"/>
<rect x="387.40" y="1029.40" width="1.20" height="4.00" fill="#2b3a8f"/>
<rect x="389.80" y="1029.40" width="1.20" height="4.00" fill="#2b3a8f"/>
<rect x="491.00" y="1029.40" width="1.20" height="4.00" fill="#2b3a8f"/>
<rect x="493.00" y="1029.40" width="1.20" height="4.00" fill="#2b3a8f"/>
<path d="M364.2,1030.4 L365.4,1031.4 L364.2,1032.4" fill="none" stroke="#2b3a8f" stroke-width="0.5"/>
<path d="M377.2,1030.4 L378.4,1031.4 L377.2,1032.4" fill="none" stroke="#2b3a8f" stroke-width="0.5"/>
<path d="M399.2,1030.4 L400.4,1031.4 L399.2,1032.4" fill="none" stroke="#2b3a8f" stroke-width="0.5"/>
<path d="M409.2,1030.4 L410.4,1031.4 L409.2,1032.4" fill="none" stroke="#2b3a8f" stroke-width="0.5"/>
<path d="M419.2,1030.4 L420.4,1031.4 L419.2,1032.4" fill="none" stroke="#2b3a8f" stroke-width="0.5"/>
<path d="M429.2,1030.4 L430.4,1031.4 L429.2,1032.4" fill="none" stroke="#2b3a8f" stroke-width="0.5"/>
<path d="M439.2,1030.4 L440.4,1031.4 L439.2,1032.4" fill="none" stroke="#2b3a8f" stroke-width="0.5"/>
<path d="M449.2,1030.4 L450.4,1031.4 L449.2,1032.4" fill="none" stroke="#2b3a8f" stroke-width="0.5"/>
<path d="M459.2,1030.4 L460.4,1031.4 L459.2,1032.4" fill="none" stroke="#2b3a8f" stroke-width="0.5"/>
<path d="M469.2,1030.4 L470.4,1031.4 L469.2,1032.4" fill="none" stroke="#2b3a8f" stroke-width="0.5"/>
<path d="M479.2,1030.4 L480.4,1031.4 L479.2,1032.4" fill="none" stroke="#2b3a8f" stroke-width="0.5"/>
<text x="422.50" y="1042.40" font-size="8.6" text-anchor="middle" font-style="italic" fill="#231f20" stroke="#231f20" stroke-width="0.28">IGF2BP2</text>
<text x="315.20" y="1063.40" font-size="10" font-weight="bold" fill="#000" stroke="#000" stroke-width="0.28">G</text>
<text x="486.60" y="1053.30" font-size="8.6" font-weight="bold" fill="#000" stroke="#000" stroke-width="0.28">20 kb</text>
<line x1="480.90" y1="1056.50" x2="513.70" y2="1056.50" stroke="#000" stroke-width="1.6"/>
<rect x="329.60" y="1060.60" width="188.00" height="111.40" fill="#f6f8fb" stroke="#444" stroke-width="1"/>
<polygon points="330.0,1169.0 330.5,1169.2 331.0,1167.8 331.5,1167.7 332.0,1168.3 332.5,1166.5 333.0,1167.0 333.5,1167.3 334.0,1167.6 334.5,1166.0 335.0,1167.7 335.5,1166.8 336.0,1167.4 336.5,1167.8 337.0,1166.9 337.5,1167.0 338.0,1167.2 338.5,1167.8 339.0,1167.1 339.5,1167.3 340.0,1166.9 340.5,1167.3 341.0,1167.7 341.5,1167.5 342.0,1168.8 342.5,1168.0 343.0,1167.4 343.5,1168.0 344.0,1167.8 344.5,1167.8 345.0,1168.0 345.5,1169.1 346.0,1168.5 346.5,1168.8 347.0,1168.6 347.5,1167.7 348.0,1169.2 348.3,1168.9 348.5,1168.5 349.0,1167.6 349.5,1168.8 349.8,1169.0 350.0,1169.1 350.5,1167.8 351.0,1168.3 351.5,1167.3 352.0,1167.2 352.2,1166.9 352.5,1168.3 353.0,1167.9 353.5,1168.2 353.6,1169.6 354.0,1167.7 354.5,1167.8 355.0,1168.6 355.5,1168.1 356.0,1167.7 356.5,1168.0 357.0,1168.9 357.5,1168.5 358.0,1167.4 358.0,1167.3 358.5,1168.5 359.0,1168.0 359.5,1169.1 360.0,1168.9 360.4,1169.5 360.5,1170.2 361.0,1169.6 361.5,1168.6 362.0,1168.8 362.4,1169.0 362.5,1169.1 363.0,1168.7 363.5,1169.0 364.0,1168.2 364.3,1167.4 364.5,1168.3 365.0,1168.6 365.5,1166.8 365.5,1168.3 366.0,1168.0 366.5,1168.3 367.0,1167.6 367.3,1169.1 367.5,1168.4 368.0,1168.1 368.5,1168.9 369.0,1168.2 369.5,1168.2 369.6,1168.6 370.0,1168.6 370.5,1168.2 371.0,1169.9 371.5,1168.0 371.7,1168.9 372.0,1168.4 372.5,1167.7 373.0,1166.8 373.0,1166.4 373.5,1167.5 374.0,1167.0 374.5,1168.5 374.6,1168.3 375.0,1168.1 375.5,1167.5 376.0,1167.8 376.1,1169.0 376.5,1168.1 377.0,1168.3 377.4,1168.3 377.5,1168.6 378.0,1169.1 378.5,1169.4 379.0,1169.2 379.0,1169.5 379.5,1169.1 380.0,1169.2 380.2,1168.6 380.5,1168.8 381.0,1169.5 381.5,1169.7 382.0,1168.2 382.1,1169.3 382.5,1169.3 383.0,1169.1 383.5,1168.6 383.6,1168.6 384.0,1168.2 384.5,1167.4 384.9,1167.8 385.0,1167.2 385.5,1167.6 386.0,1168.1 386.5,1168.3 387.0,1168.8 387.1,1169.4 387.5,1168.7 388.0,1169.0 388.5,1169.5 389.0,1168.1 389.0,1168.5 389.5,1169.7 390.0,1168.8 390.4,1169.0 390.5,1168.4 391.0,1167.5 391.5,1165.8 392.0,1162.7 392.5,1160.4 393.0,1156.2 393.1,1158.6 393.5,1161.7 394.0,1161.0 394.5,1163.9 395.0,1166.5 395.5,1167.0 396.0,1165.8 396.5,1166.4 397.0,1165.6 397.5,1165.3 398.0,1166.1 398.5,1166.5 399.0,1165.0 399.5,1165.9 400.0,1166.7 400.5,1166.7 401.0,1166.4 401.5,1167.4 402.0,1165.7 402.5,1166.8 403.0,1167.0 403.5,1167.2 404.0,1166.3 404.5,1167.3 405.0,1166.2 405.5,1165.4 406.0,1166.4 406.5,1166.0 407.0,1166.5 407.5,1165.5 408.0,1165.9 408.5,1166.5 409.0,1166.7 409.5,1165.7 410.0,1165.2 410.5,1163.8 411.0,1161.9 411.5,1159.6 411.7,1160.0 412.0,1159.5 412.5,1162.3 413.0,1162.5 413.5,1156.9 414.0,1148.6 414.3,1147.2 414.5,1148.5 415.0,1159.2 415.5,1162.6 416.0,1164.6 416.5,1165.6 417.0,1165.9 417.5,1167.0 418.0,1165.0 418.5,1166.0 419.0,1165.7 419.5,1164.3 420.0,1163.6 420.2,1162.6 420.5,1165.2 421.0,1166.2 421.5,1168.8 422.0,1169.4 422.5,1168.9 423.0,1168.5 423.5,1168.7 424.0,1169.1 424.5,1169.2 425.0,1169.3 425.5,1168.9 426.0,1169.1 426.5,1169.2 427.0,1169.0 427.5,1169.3 428.0,1169.9 428.5,1155.0 429.0,1145.2 429.5,1130.7 430.0,1120.8 430.3,1108.6 430.5,1121.1 431.0,1131.6 431.5,1154.2 431.8,1165.9 432.0,1163.3 432.5,1159.2 433.0,1155.8 433.5,1154.0 434.0,1148.1 434.5,1143.4 434.7,1144.6 435.0,1127.4 435.5,1108.0 435.6,1098.4 436.0,1095.2 436.5,1090.4 437.0,1088.4 437.4,1072.1 437.5,1083.1 438.0,1078.9 438.5,1108.2 439.0,1123.2 439.5,1141.1 440.0,1155.5 440.5,1148.9 441.0,1136.2 441.4,1132.1 441.5,1125.7 442.0,1132.6 442.3,1130.7 442.5,1136.8 443.0,1130.9 443.3,1128.2 443.5,1136.0 444.0,1143.0 444.5,1150.2 445.0,1162.3 445.3,1166.0 445.5,1164.1 446.0,1159.1 446.5,1157.2 447.0,1149.6 447.5,1148.7 448.0,1134.9 448.2,1138.0 448.5,1133.5 449.0,1130.1 449.5,1120.6 450.0,1118.7 450.1,1114.4 450.5,1102.0 451.0,1096.8 451.3,1089.4 451.5,1090.8 452.0,1096.9 452.5,1106.8 453.0,1113.2 453.5,1123.3 454.0,1136.8 454.5,1141.8 454.9,1144.2 455.0,1146.8 455.5,1150.1 456.0,1155.2 456.5,1157.1 457.0,1158.1 457.5,1160.2 457.8,1163.9 458.0,1161.8 458.5,1155.2 459.0,1145.0 459.5,1130.2 459.7,1130.3 460.0,1136.7 460.5,1138.4 461.0,1141.9 461.5,1142.8 461.7,1144.0 462.0,1148.3 462.5,1159.0 463.0,1161.7 463.1,1162.9 463.5,1160.6 464.0,1154.9 464.5,1150.6 464.6,1153.4 465.0,1152.8 465.5,1150.0 466.0,1149.0 466.5,1146.1 467.0,1136.0 467.5,1122.7 468.0,1108.3 468.5,1083.7 468.9,1083.5 469.0,1076.1 469.5,1090.6 470.0,1110.3 470.4,1116.6 470.5,1123.2 471.0,1131.8 471.5,1142.1 472.0,1155.8 472.4,1165.3 472.5,1162.2 473.0,1148.1 473.5,1127.7 474.0,1122.8 474.3,1108.0 474.5,1112.2 475.0,1105.4 475.5,1098.7 476.0,1081.0 476.3,1092.7 476.5,1097.9 477.0,1107.9 477.5,1124.2 477.7,1131.7 478.0,1131.5 478.5,1143.2 478.9,1153.3 479.0,1147.6 479.5,1115.4 480.0,1135.8 480.4,1148.9 480.5,1145.5 481.0,1138.8 481.5,1110.4 481.6,1110.3 482.0,1119.8 482.5,1139.1 483.0,1145.2 483.5,1152.8 484.0,1158.3 484.5,1163.1 485.0,1160.4 485.5,1160.0 485.9,1157.2 486.0,1156.9 486.5,1161.0 487.0,1165.4 487.4,1168.1 487.5,1167.3 488.0,1165.5 488.5,1161.7 488.8,1162.4 489.0,1162.8 489.5,1166.7 489.8,1168.1 490.0,1165.7 490.5,1160.0 491.0,1158.6 491.5,1155.7 491.7,1153.6 492.0,1151.2 492.5,1146.9 493.0,1148.4 493.5,1144.7 494.0,1137.9 494.1,1141.3 494.5,1131.5 495.0,1122.4 495.5,1118.6 495.6,1107.2 496.0,1113.2 496.5,1130.6 497.0,1140.3 497.5,1146.6 498.0,1149.7 498.5,1156.9 499.0,1160.9 499.5,1160.7 500.0,1158.7 500.5,1156.4 500.9,1157.8 501.0,1158.7 501.5,1153.5 502.0,1153.3 502.5,1152.3 502.8,1149.6 503.0,1149.7 503.5,1157.4 504.0,1161.8 504.3,1166.6 504.5,1165.3 505.0,1165.4 505.5,1162.7 506.0,1160.4 506.5,1158.9 507.0,1158.6 507.2,1156.2 507.5,1154.1 508.0,1158.7 508.5,1161.3 508.6,1163.4 509.0,1163.6 509.5,1162.8 510.0,1163.7 510.5,1162.7 511.0,1165.5 511.5,1166.3 512.0,1167.8 512.5,1169.2 513.0,1170.2 513.5,1170.2 514.0,1170.2 514.5,1170.2 515.0,1170.2 515.5,1170.2 516.0,1170.2 516.5,1170.2 517.0,1170.2 517.3,1170.2 517.3,1170.2 517.0,1170.2 516.5,1170.2 516.0,1170.2 515.5,1170.2 515.0,1170.2 514.5,1170.2 514.0,1170.2 513.5,1170.2 513.0,1170.2 512.5,1169.6 512.0,1169.3 511.5,1167.4 511.0,1166.7 510.5,1166.1 510.0,1165.5 509.5,1165.8 509.0,1165.0 508.6,1163.5 508.5,1166.2 508.0,1165.0 507.5,1161.8 507.2,1161.7 507.0,1161.3 506.5,1163.7 506.0,1165.3 505.5,1165.3 505.0,1165.5 504.5,1166.7 504.3,1167.0 504.0,1167.1 503.5,1159.9 503.0,1157.2 502.8,1155.0 502.5,1157.7 502.0,1159.3 501.5,1160.3 501.0,1162.1 500.9,1160.7 500.5,1163.7 500.0,1163.6 499.5,1162.9 499.0,1164.3 498.5,1161.1 498.0,1157.9 497.5,1154.1 497.0,1149.7 496.5,1145.2 496.0,1130.6 495.6,1140.9 495.5,1141.2 495.0,1143.7 494.5,1144.1 494.1,1153.2 494.0,1151.5 493.5,1156.5 493.0,1156.5 492.5,1158.3 492.0,1159.3 491.7,1154.3 491.5,1159.7 491.0,1160.7 490.5,1166.3 490.0,1167.6 489.8,1169.1 489.5,1167.7 489.0,1166.1 488.8,1165.4 488.5,1166.6 488.0,1168.0 487.5,1168.2 487.4,1169.2 487.0,1166.8 486.5,1165.1 486.0,1161.4 485.9,1160.0 485.5,1163.5 485.0,1165.2 484.5,1166.0 484.0,1162.9 483.5,1160.9 483.0,1154.2 482.5,1151.9 482.0,1137.6 481.6,1136.5 481.5,1130.1 481.0,1135.4 480.5,1154.7 480.4,1153.3 480.0,1148.5 479.5,1136.0 479.0,1158.6 478.9,1157.9 478.5,1156.8 478.0,1148.6 477.7,1146.8 477.5,1142.0 477.0,1132.7 476.5,1124.3 476.3,1120.6 476.0,1129.6 475.5,1124.5 475.0,1115.8 474.5,1129.7 474.3,1130.3 474.0,1136.8 473.5,1145.2 473.0,1154.0 472.5,1163.4 472.4,1166.4 472.0,1161.1 471.5,1153.0 471.0,1142.0 470.5,1144.3 470.4,1141.2 470.0,1130.5 469.5,1131.7 469.0,1109.4 468.9,1111.8 468.5,1128.8 468.0,1124.2 467.5,1140.9 467.0,1146.1 466.5,1154.4 466.0,1157.3 465.5,1158.5 465.0,1158.2 464.6,1158.1 464.5,1157.3 464.0,1159.8 463.5,1163.9 463.1,1167.1 463.0,1165.6 462.5,1163.9 462.0,1159.3 461.7,1152.3 461.5,1154.5 461.0,1152.7 460.5,1146.8 460.0,1146.4 459.7,1144.5 459.5,1144.4 459.0,1154.2 458.5,1162.4 458.0,1163.4 457.8,1167.1 457.5,1165.0 457.0,1165.0 456.5,1161.1 456.0,1161.7 455.5,1156.1 455.0,1152.6 454.9,1155.0 454.5,1151.5 454.0,1144.7 453.5,1137.4 453.0,1131.5 452.5,1125.1 452.0,1114.6 451.5,1119.5 451.3,1126.7 451.0,1121.6 450.5,1132.2 450.1,1132.4 450.0,1131.3 449.5,1137.6 449.0,1142.3 448.5,1145.8 448.2,1152.5 448.0,1152.9 447.5,1149.4 447.0,1154.3 446.5,1161.4 446.0,1162.7 445.5,1166.9 445.3,1168.5 445.0,1165.3 444.5,1158.4 444.0,1151.4 443.5,1142.5 443.3,1145.4 443.0,1150.3 442.5,1149.3 442.3,1146.6 442.0,1151.7 441.5,1148.2 441.4,1139.7 441.0,1148.3 440.5,1160.3 440.0,1160.6 439.5,1152.0 439.0,1150.1 438.5,1134.2 438.0,1124.4 437.5,1095.6 437.4,1106.1 437.0,1097.5 436.5,1125.7 436.0,1127.7 435.6,1134.5 435.5,1130.6 435.0,1147.3 434.7,1153.7 434.5,1151.9 434.0,1157.9 433.5,1159.2 433.0,1161.9 432.5,1164.1 432.0,1166.9 431.8,1168.1 431.5,1160.9 431.0,1151.1 430.5,1132.8 430.3,1133.8 430.0,1134.0 429.5,1141.6 429.0,1152.8 428.5,1161.8 428.0,1169.6 427.5,1169.7 427.0,1170.2 426.5,1169.8 426.0,1170.2 425.5,1169.7 425.0,1168.9 424.5,1169.9 424.0,1168.7 423.5,1169.5 423.0,1168.8 422.5,1169.1 422.0,1169.3 421.5,1169.6 421.0,1167.8 420.5,1167.9 420.2,1166.7 420.0,1165.9 419.5,1167.4 419.0,1167.2 418.5,1167.2 418.0,1168.8 417.5,1167.4 417.0,1168.0 416.5,1167.5 416.0,1167.0 415.5,1167.4 415.0,1161.5 414.5,1156.3 414.3,1158.3 414.0,1155.2 413.5,1162.5 413.0,1165.5 412.5,1163.5 412.0,1162.6 411.7,1164.4 411.5,1165.7 411.0,1163.4 410.5,1165.3 410.0,1167.4 409.5,1167.8 409.0,1169.1 408.5,1167.2 408.0,1168.7 407.5,1168.5 407.0,1167.3 406.5,1168.1 406.0,1166.6 405.5,1166.6 405.0,1167.6 404.5,1167.5 404.0,1167.8 403.5,1168.8 403.0,1168.6 402.5,1167.8 402.0,1168.0 401.5,1168.2 401.0,1168.1 400.5,1168.3 400.0,1168.5 399.5,1167.5 399.0,1168.4 398.5,1166.8 398.0,1167.6 397.5,1167.3 397.0,1167.5 396.5,1168.1 396.0,1167.9 395.5,1167.6 395.0,1167.6 394.5,1166.7 394.0,1163.9 393.5,1163.8 393.1,1162.5 393.0,1161.7 392.5,1166.1 392.0,1165.0 391.5,1167.4 391.0,1168.0 390.5,1168.7 390.4,1170.0 390.0,1170.2 389.5,1169.6 389.0,1169.0 389.0,1170.0 388.5,1170.0 388.0,1169.6 387.5,1169.1 387.1,1169.7 387.0,1169.8 386.5,1168.8 386.0,1169.0 385.5,1168.8 385.0,1168.5 384.9,1168.2 384.5,1168.7 384.0,1169.4 383.6,1169.9 383.5,1169.7 383.0,1169.6 382.5,1169.9 382.1,1169.4 382.0,1169.0 381.5,1169.5 381.0,1168.9 380.5,1169.6 380.2,1169.8 380.0,1169.4 379.5,1170.0 379.0,1170.2 379.0,1170.2 378.5,1169.5 378.0,1169.7 377.5,1168.6 377.4,1169.1 377.0,1168.5 376.5,1168.7 376.1,1168.7 376.0,1169.2 375.5,1168.6 375.0,1169.4 374.6,1169.2 374.5,1169.2 374.0,1168.8 373.5,1168.8 373.0,1168.2 373.0,1168.3 372.5,1168.8 372.0,1169.0 371.7,1169.8 371.5,1169.4 371.0,1169.2 370.5,1169.7 370.0,1169.1 369.6,1169.2 369.5,1168.7 369.0,1169.0 368.5,1168.6 368.0,1169.0 367.5,1169.6 367.3,1169.1 367.0,1168.2 366.5,1168.9 366.0,1169.3 365.5,1169.7 365.5,1168.6 365.0,1170.0 364.5,1169.6 364.3,1169.6 364.0,1167.7 363.5,1169.2 363.0,1170.2 362.5,1170.0 362.4,1169.6 362.0,1169.5 361.5,1169.7 361.0,1169.6 360.5,1169.3 360.4,1169.8 360.0,1170.0 359.5,1169.5 359.0,1169.6 358.5,1169.5 358.0,1168.5 358.0,1169.2 357.5,1169.5 357.0,1169.2 356.5,1168.7 356.0,1169.0 355.5,1170.2 355.0,1168.5 354.5,1169.4 354.0,1168.5 353.6,1168.9 353.5,1169.3 353.0,1168.7 352.5,1169.8 352.2,1168.8 352.0,1169.0 351.5,1168.6 351.0,1168.7 350.5,1168.8 350.0,1169.5 349.8,1169.8 349.5,1168.0 349.0,1168.8 348.5,1170.0 348.3,1170.0 348.0,1168.4 347.5,1169.4 347.0,1169.3 346.5,1169.1 346.0,1169.6 345.5,1168.8 345.0,1169.5 344.5,1169.7 344.0,1168.3 343.5,1169.6 343.0,1169.8 342.5,1169.1 342.0,1168.8 341.5,1169.2 341.0,1168.6 340.5,1168.1 340.0,1168.5 339.5,1169.3 339.0,1168.3 338.5,1167.9 338.0,1168.5 337.5,1168.8 337.0,1169.0 336.5,1168.5 336.0,1166.9 335.5,1168.4 335.0,1168.6 334.5,1168.0 334.0,1168.9 333.5,1168.3 333.0,1167.7 332.5,1168.8 332.0,1168.4 331.5,1168.7 331.0,1169.2 330.5,1169.1 330.0,1169.7" fill="#f3c1bc" opacity="0.85"/>
<polyline points="330.0,1169.7 330.5,1169.1 331.0,1169.2 331.5,1168.7 332.0,1168.4 332.5,1168.8 333.0,1167.7 333.5,1168.3 334.0,1168.9 334.5,1168.0 335.0,1168.6 335.5,1168.4 336.0,1166.9 336.5,1168.5 337.0,1169.0 337.5,1168.8 338.0,1168.5 338.5,1167.9 339.0,1168.3 339.5,1169.3 340.0,1168.5 340.5,1168.1 341.0,1168.6 341.5,1169.2 342.0,1168.8 342.5,1169.1 343.0,1169.8 343.5,1169.6 344.0,1168.3 344.5,1169.7 345.0,1169.5 345.5,1168.8 346.0,1169.6 346.5,1169.1 347.0,1169.3 347.5,1169.4 348.0,1168.4 348.3,1170.0 348.5,1170.0 349.0,1168.8 349.5,1168.0 349.8,1169.8 350.0,1169.5 350.5,1168.8 351.0,1168.7 351.5,1168.6 352.0,1169.0 352.2,1168.8 352.5,1169.8 353.0,1168.7 353.5,1169.3 353.6,1168.9 354.0,1168.5 354.5,1169.4 355.0,1168.5 355.5,1170.2 356.0,1169.0 356.5,1168.7 357.0,1169.2 357.5,1169.5 358.0,1169.2 358.0,1168.5 358.5,1169.5 359.0,1169.6 359.5,1169.5 360.0,1170.0 360.4,1169.8 360.5,1169.3 361.0,1169.6 361.5,1169.7 362.0,1169.5 362.4,1169.6 362.5,1170.0 363.0,1170.2 363.5,1169.2 364.0,1167.7 364.3,1169.6 364.5,1169.6 365.0,1170.0 365.5,1168.6 365.5,1169.7 366.0,1169.3 366.5,1168.9 367.0,1168.2 367.3,1169.1 367.5,1169.6 368.0,1169.0 368.5,1168.6 369.0,1169.0 369.5,1168.7 369.6,1169.2 370.0,1169.1 370.5,1169.7 371.0,1169.2 371.5,1169.4 371.7,1169.8 372.0,1169.0 372.5,1168.8 373.0,1168.3 373.0,1168.2 373.5,1168.8 374.0,1168.8 374.5,1169.2 374.6,1169.2 375.0,1169.4 375.5,1168.6 376.0,1169.2 376.1,1168.7 376.5,1168.7 377.0,1168.5 377.4,1169.1 377.5,1168.6 378.0,1169.7 378.5,1169.5 379.0,1170.2 379.0,1170.2 379.5,1170.0 380.0,1169.4 380.2,1169.8 380.5,1169.6 381.0,1168.9 381.5,1169.5 382.0,1169.0 382.1,1169.4 382.5,1169.9 383.0,1169.6 383.5,1169.7 383.6,1169.9 384.0,1169.4 384.5,1168.7 384.9,1168.2 385.0,1168.5 385.5,1168.8 386.0,1169.0 386.5,1168.8 387.0,1169.8 387.1,1169.7 387.5,1169.1 388.0,1169.6 388.5,1170.0 389.0,1170.0 389.0,1169.0 389.5,1169.6 390.0,1170.2 390.4,1170.0 390.5,1168.7 391.0,1168.0 391.5,1167.4 392.0,1165.0 392.5,1166.1 393.0,1161.7 393.1,1162.5 393.5,1163.8 394.0,1163.9 394.5,1166.7 395.0,1167.6 395.5,1167.6 396.0,1167.9 396.5,1168.1 397.0,1167.5 397.5,1167.3 398.0,1167.6 398.5,1166.8 399.0,1168.4 399.5,1167.5 400.0,1168.5 400.5,1168.3 401.0,1168.1 401.5,1168.2 402.0,1168.0 402.5,1167.8 403.0,1168.6 403.5,1168.8 404.0,1167.8 404.5,1167.5 405.0,1167.6 405.5,1166.6 406.0,1166.6 406.5,1168.1 407.0,1167.3 407.5,1168.5 408.0,1168.7 408.5,1167.2 409.0,1169.1 409.5,1167.8 410.0,1167.4 410.5,1165.3 411.0,1163.4 411.5,1165.7 411.7,1164.4 412.0,1162.6 412.5,1163.5 413.0,1165.5 413.5,1162.5 414.0,1155.2 414.3,1158.3 414.5,1156.3 415.0,1161.5 415.5,1167.4 416.0,1167.0 416.5,1167.5 417.0,1168.0 417.5,1167.4 418.0,1168.8 418.5,1167.2 419.0,1167.2 419.5,1167.4 420.0,1165.9 420.2,1166.7 420.5,1167.9 421.0,1167.8 421.5,1169.6 422.0,1169.3 422.5,1169.1 423.0,1168.8 423.5,1169.5 424.0,1168.7 424.5,1169.9 425.0,1168.9 425.5,1169.7 426.0,1170.2 426.5,1169.8 427.0,1170.2 427.5,1169.7 428.0,1169.6 428.5,1161.8 429.0,1152.8 429.5,1141.6 430.0,1134.0 430.3,1133.8 430.5,1132.8 431.0,1151.1 431.5,1160.9 431.8,1168.1 432.0,1166.9 432.5,1164.1 433.0,1161.9 433.5,1159.2 434.0,1157.9 434.5,1151.9 434.7,1153.7 435.0,1147.3 435.5,1130.6 435.6,1134.5 436.0,1127.7 436.5,1125.7 437.0,1097.5 437.4,1106.1 437.5,1095.6 438.0,1124.4 438.5,1134.2 439.0,1150.1 439.5,1152.0 440.0,1160.6 440.5,1160.3 441.0,1148.3 441.4,1139.7 441.5,1148.2 442.0,1151.7 442.3,1146.6 442.5,1149.3 443.0,1150.3 443.3,1145.4 443.5,1142.5 444.0,1151.4 444.5,1158.4 445.0,1165.3 445.3,1168.5 445.5,1166.9 446.0,1162.7 446.5,1161.4 447.0,1154.3 447.5,1149.4 448.0,1152.9 448.2,1152.5 448.5,1145.8 449.0,1142.3 449.5,1137.6 450.0,1131.3 450.1,1132.4 450.5,1132.2 451.0,1121.6 451.3,1126.7 451.5,1119.5 452.0,1114.6 452.5,1125.1 453.0,1131.5 453.5,1137.4 454.0,1144.7 454.5,1151.5 454.9,1155.0 455.0,1152.6 455.5,1156.1 456.0,1161.7 456.5,1161.1 457.0,1165.0 457.5,1165.0 457.8,1167.1 458.0,1163.4 458.5,1162.4 459.0,1154.2 459.5,1144.4 459.7,1144.5 460.0,1146.4 460.5,1146.8 461.0,1152.7 461.5,1154.5 461.7,1152.3 462.0,1159.3 462.5,1163.9 463.0,1165.6 463.1,1167.1 463.5,1163.9 464.0,1159.8 464.5,1157.3 464.6,1158.1 465.0,1158.2 465.5,1158.5 466.0,1157.3 466.5,1154.4 467.0,1146.1 467.5,1140.9 468.0,1124.2 468.5,1128.8 468.9,1111.8 469.0,1109.4 469.5,1131.7 470.0,1130.5 470.4,1141.2 470.5,1144.3 471.0,1142.0 471.5,1153.0 472.0,1161.1 472.4,1166.4 472.5,1163.4 473.0,1154.0 473.5,1145.2 474.0,1136.8 474.3,1130.3 474.5,1129.7 475.0,1115.8 475.5,1124.5 476.0,1129.6 476.3,1120.6 476.5,1124.3 477.0,1132.7 477.5,1142.0 477.7,1146.8 478.0,1148.6 478.5,1156.8 478.9,1157.9 479.0,1158.6 479.5,1136.0 480.0,1148.5 480.4,1153.3 480.5,1154.7 481.0,1135.4 481.5,1130.1 481.6,1136.5 482.0,1137.6 482.5,1151.9 483.0,1154.2 483.5,1160.9 484.0,1162.9 484.5,1166.0 485.0,1165.2 485.5,1163.5 485.9,1160.0 486.0,1161.4 486.5,1165.1 487.0,1166.8 487.4,1169.2 487.5,1168.2 488.0,1168.0 488.5,1166.6 488.8,1165.4 489.0,1166.1 489.5,1167.7 489.8,1169.1 490.0,1167.6 490.5,1166.3 491.0,1160.7 491.5,1159.7 491.7,1154.3 492.0,1159.3 492.5,1158.3 493.0,1156.5 493.5,1156.5 494.0,1151.5 494.1,1153.2 494.5,1144.1 495.0,1143.7 495.5,1141.2 495.6,1140.9 496.0,1130.6 496.5,1145.2 497.0,1149.7 497.5,1154.1 498.0,1157.9 498.5,1161.1 499.0,1164.3 499.5,1162.9 500.0,1163.6 500.5,1163.7 500.9,1160.7 501.0,1162.1 501.5,1160.3 502.0,1159.3 502.5,1157.7 502.8,1155.0 503.0,1157.2 503.5,1159.9 504.0,1167.1 504.3,1167.0 504.5,1166.7 505.0,1165.5 505.5,1165.3 506.0,1165.3 506.5,1163.7 507.0,1161.3 507.2,1161.7 507.5,1161.8 508.0,1165.0 508.5,1166.2 508.6,1163.5 509.0,1165.0 509.5,1165.8 510.0,1165.5 510.5,1166.1 511.0,1166.7 511.5,1167.4 512.0,1169.3 512.5,1169.6 513.0,1170.2 513.5,1170.2 514.0,1170.2 514.5,1170.2 515.0,1170.2 515.5,1170.2 516.0,1170.2 516.5,1170.2 517.0,1170.2 517.3,1170.2" fill="none" stroke="#a0a0a0" stroke-width="0.5"/>
<polyline points="330.0,1169.7 330.5,1169.7 331.0,1168.2 331.5,1169.7 332.0,1168.9 332.5,1167.4 333.0,1167.3 333.5,1168.2 334.0,1169.5 334.5,1168.0 335.0,1167.4 335.5,1167.7 336.0,1168.5 336.5,1167.6 337.0,1167.7 337.5,1168.0 338.0,1168.1 338.5,1167.8 339.0,1168.2 339.5,1167.3 340.0,1168.7 340.5,1167.9 341.0,1168.3 341.5,1168.6 342.0,1168.8 342.5,1168.6 343.0,1168.6 343.5,1168.2 344.0,1169.4 344.5,1168.5 345.0,1169.4 345.5,1168.9 346.0,1168.3 346.5,1168.7 347.0,1168.6 347.5,1167.6 348.0,1169.9 348.3,1169.6 348.5,1169.1 349.0,1169.6 349.5,1169.4 349.8,1169.4 350.0,1169.1 350.5,1169.1 351.0,1169.3 351.5,1168.5 352.0,1168.0 352.2,1169.1 352.5,1168.5 353.0,1168.3 353.5,1168.9 353.6,1168.7 354.0,1168.7 354.5,1168.0 355.0,1168.9 355.5,1168.0 356.0,1167.2 356.5,1168.5 357.0,1169.2 357.5,1168.7 358.0,1168.7 358.0,1169.2 358.5,1169.1 359.0,1168.9 359.5,1168.7 360.0,1169.8 360.4,1169.7 360.5,1169.7 361.0,1169.8 361.5,1169.6 362.0,1169.4 362.4,1169.3 362.5,1169.1 363.0,1169.1 363.5,1169.4 364.0,1168.6 364.3,1169.0 364.5,1168.5 365.0,1169.4 365.5,1168.7 365.5,1168.4 366.0,1168.2 366.5,1168.5 367.0,1167.6 367.3,1169.0 367.5,1168.9 368.0,1168.2 368.5,1168.6 369.0,1169.0 369.5,1169.2 369.6,1168.4 370.0,1169.6 370.5,1169.7 371.0,1169.0 371.5,1169.4 371.7,1169.3 372.0,1169.3 372.5,1168.1 373.0,1168.7 373.0,1166.9 373.5,1167.9 374.0,1168.8 374.5,1168.4 374.6,1168.9 375.0,1168.4 375.5,1168.5 376.0,1169.7 376.1,1169.1 376.5,1169.2 377.0,1168.6 377.4,1168.8 377.5,1168.6 378.0,1168.9 378.5,1169.8 379.0,1170.2 379.0,1169.7 379.5,1170.2 380.0,1169.8 380.2,1169.5 380.5,1169.5 381.0,1169.6 381.5,1169.4 382.0,1169.6 382.1,1169.3 382.5,1169.3 383.0,1169.6 383.5,1168.8 383.6,1168.5 384.0,1168.5 384.5,1168.8 384.9,1168.7 385.0,1168.0 385.5,1168.6 386.0,1169.3 386.5,1168.0 387.0,1169.4 387.1,1169.2 387.5,1169.1 388.0,1169.2 388.5,1169.7 389.0,1169.6 389.0,1170.0 389.5,1169.6 390.0,1170.2 390.4,1169.9 390.5,1168.9 391.0,1168.2 391.5,1166.4 392.0,1165.7 392.5,1162.7 393.0,1163.3 393.1,1159.9 393.5,1162.7 394.0,1165.3 394.5,1166.0 395.0,1167.9 395.5,1167.6 396.0,1168.8 396.5,1167.1 397.0,1167.8 397.5,1166.9 398.0,1167.9 398.5,1167.7 399.0,1167.7 399.5,1166.8 400.0,1167.7 400.5,1166.8 401.0,1168.1 401.5,1167.1 402.0,1167.6 402.5,1167.7 403.0,1168.6 403.5,1168.4 404.0,1167.6 404.5,1167.7 405.0,1167.7 405.5,1166.8 406.0,1167.3 406.5,1166.1 407.0,1165.8 407.5,1168.1 408.0,1166.8 408.5,1166.8 409.0,1168.4 409.5,1167.5 410.0,1165.7 410.5,1164.4 411.0,1164.3 411.5,1162.8 411.7,1161.3 412.0,1164.8 412.5,1163.7 413.0,1165.2 413.5,1159.1 414.0,1152.6 414.3,1155.3 414.5,1156.3 415.0,1160.6 415.5,1166.2 416.0,1166.4 416.5,1168.5 417.0,1167.2 417.5,1166.9 418.0,1168.2 418.5,1169.2 419.0,1168.1 419.5,1166.9 420.0,1165.8 420.2,1165.8 420.5,1165.5 421.0,1168.2 421.5,1169.4 422.0,1169.1 422.5,1170.0 423.0,1169.0 423.5,1168.4 424.0,1170.0 424.5,1169.0 425.0,1169.7 425.5,1169.4 426.0,1169.2 426.5,1170.0 427.0,1169.5 427.5,1169.4 428.0,1168.9 428.5,1159.9 429.0,1151.1 429.5,1141.1 430.0,1129.3 430.3,1129.0 430.5,1135.9 431.0,1145.1 431.5,1157.1 431.8,1166.7 432.0,1166.5 432.5,1162.0 433.0,1161.0 433.5,1158.7 434.0,1154.5 434.5,1151.3 434.7,1148.6 435.0,1136.5 435.5,1127.9 435.6,1121.5 436.0,1127.3 436.5,1105.0 437.0,1105.9 437.4,1094.5 437.5,1096.8 438.0,1115.6 438.5,1132.0 439.0,1138.7 439.5,1154.2 440.0,1159.1 440.5,1149.5 441.0,1146.8 441.4,1136.0 441.5,1139.4 442.0,1143.7 442.3,1144.6 442.5,1142.1 443.0,1139.6 443.3,1147.9 443.5,1145.9 444.0,1150.7 444.5,1156.7 445.0,1164.2 445.3,1168.5 445.5,1167.0 446.0,1161.9 446.5,1160.6 447.0,1156.5 447.5,1153.0 448.0,1150.3 448.2,1147.0 448.5,1145.2 449.0,1146.6 449.5,1132.2 450.0,1130.1 450.1,1134.2 450.5,1132.0 451.0,1122.2 451.3,1115.8 451.5,1114.4 452.0,1112.6 452.5,1121.4 453.0,1128.8 453.5,1134.2 454.0,1145.5 454.5,1149.7 454.9,1154.2 455.0,1150.4 455.5,1154.2 456.0,1156.9 456.5,1159.2 457.0,1163.3 457.5,1164.8 457.8,1166.5 458.0,1162.3 458.5,1158.0 459.0,1151.9 459.5,1147.6 459.7,1139.2 460.0,1146.3 460.5,1148.3 461.0,1152.2 461.5,1152.8 461.7,1152.5 462.0,1155.4 462.5,1160.1 463.0,1166.1 463.1,1166.2 463.5,1162.0 464.0,1159.8 464.5,1156.2 464.6,1156.5 465.0,1153.9 465.5,1155.5 466.0,1153.6 466.5,1153.0 467.0,1146.5 467.5,1127.8 468.0,1123.1 468.5,1106.8 468.9,1099.6 469.0,1115.1 469.5,1114.3 470.0,1131.3 470.4,1126.6 470.5,1134.8 471.0,1141.3 471.5,1154.3 472.0,1160.4 472.4,1166.6 472.5,1163.4 473.0,1153.8 473.5,1144.1 474.0,1129.8 474.3,1129.0 474.5,1128.2 475.0,1121.4 475.5,1116.9 476.0,1122.9 476.3,1118.4 476.5,1114.8 477.0,1125.8 477.5,1138.9 477.7,1139.5 478.0,1143.2 478.5,1148.6 478.9,1159.9 479.0,1151.6 479.5,1145.0 480.0,1150.1 480.4,1151.7 480.5,1152.4 481.0,1142.7 481.5,1132.3 481.6,1125.4 482.0,1136.6 482.5,1142.2 483.0,1156.1 483.5,1154.4 484.0,1160.5 484.5,1165.7 485.0,1163.6 485.5,1163.7 485.9,1158.1 486.0,1160.1 486.5,1164.0 487.0,1165.5 487.4,1169.5 487.5,1168.7 488.0,1165.7 488.5,1165.4 488.8,1163.5 489.0,1164.1 489.5,1167.2 489.8,1168.5 490.0,1167.4 490.5,1163.4 491.0,1159.5 491.5,1158.4 491.7,1154.1 492.0,1159.1 492.5,1152.6 493.0,1155.3 493.5,1152.7 494.0,1148.7 494.1,1153.8 494.5,1141.1 495.0,1138.5 495.5,1125.4 495.6,1128.4 496.0,1135.7 496.5,1141.8 497.0,1149.0 497.5,1152.6 498.0,1153.9 498.5,1161.9 499.0,1166.7 499.5,1164.6 500.0,1164.2 500.5,1160.9 500.9,1161.3 501.0,1159.7 501.5,1158.6 502.0,1157.3 502.5,1156.9 502.8,1154.7 503.0,1154.9 503.5,1160.8 504.0,1166.7 504.3,1168.6 504.5,1166.3 505.0,1166.3 505.5,1162.7 506.0,1161.8 506.5,1162.7 507.0,1161.4 507.2,1159.6 507.5,1159.8 508.0,1161.3 508.5,1163.8 508.6,1165.2 509.0,1163.5 509.5,1163.4 510.0,1164.5 510.5,1166.2 511.0,1165.2 511.5,1167.4 512.0,1168.4 512.5,1169.1 513.0,1170.2 513.5,1170.2 514.0,1170.2 514.5,1170.2 515.0,1170.2 515.5,1170.2 516.0,1170.2 516.5,1170.2 517.0,1170.2 517.3,1170.2" fill="none" stroke="#909090" stroke-width="0.5"/>
<polyline points="330.0,1169.3 330.5,1168.1 331.0,1168.6 331.5,1168.5 332.0,1167.6 332.5,1167.1 333.0,1167.4 333.5,1167.9 334.0,1167.0 334.5,1166.9 335.0,1168.4 335.5,1167.6 336.0,1167.7 336.5,1167.3 337.0,1166.9 337.5,1167.8 338.0,1167.8 338.5,1167.4 339.0,1166.9 339.5,1166.9 340.0,1168.0 340.5,1166.5 341.0,1168.2 341.5,1167.9 342.0,1168.3 342.5,1168.1 343.0,1168.7 343.5,1168.2 344.0,1168.5 344.5,1168.3 345.0,1169.2 345.5,1169.1 346.0,1168.5 346.5,1168.4 347.0,1168.0 347.5,1168.4 348.0,1169.6 348.3,1169.2 348.5,1168.3 349.0,1168.8 349.5,1168.2 349.8,1168.3 350.0,1168.4 350.5,1168.2 351.0,1167.6 351.5,1167.8 352.0,1166.7 352.2,1168.5 352.5,1167.8 353.0,1168.2 353.5,1169.1 353.6,1168.3 354.0,1168.0 354.5,1168.4 355.0,1167.7 355.5,1169.2 356.0,1168.0 356.5,1167.9 357.0,1168.8 357.5,1168.6 358.0,1168.3 358.0,1168.8 358.5,1169.1 359.0,1168.5 359.5,1168.1 360.0,1168.9 360.4,1169.3 360.5,1168.9 361.0,1169.6 361.5,1169.6 362.0,1169.2 362.4,1169.7 362.5,1169.4 363.0,1169.3 363.5,1168.7 364.0,1169.2 364.3,1169.6 364.5,1168.4 365.0,1168.7 365.5,1168.3 365.5,1168.5 366.0,1167.9 366.5,1169.0 367.0,1169.0 367.3,1168.6 367.5,1167.7 368.0,1168.1 368.5,1167.9 369.0,1168.4 369.5,1168.8 369.6,1168.6 370.0,1168.8 370.5,1169.1 371.0,1168.1 371.5,1168.8 371.7,1169.3 372.0,1169.2 372.5,1167.9 373.0,1165.8 373.0,1167.1 373.5,1166.2 374.0,1168.1 374.5,1168.5 374.6,1169.4 375.0,1168.5 375.5,1168.3 376.0,1169.6 376.1,1168.5 376.5,1168.1 377.0,1167.9 377.4,1169.7 377.5,1169.5 378.0,1169.2 378.5,1170.1 379.0,1169.6 379.0,1170.0 379.5,1169.1 380.0,1169.0 380.2,1169.0 380.5,1168.8 381.0,1168.8 381.5,1169.1 382.0,1169.9 382.1,1169.1 382.5,1169.0 383.0,1169.5 383.5,1169.0 383.6,1168.6 384.0,1168.8 384.5,1168.0 384.9,1168.7 385.0,1167.9 385.5,1167.0 386.0,1167.6 386.5,1168.2 387.0,1168.6 387.1,1169.2 387.5,1169.2 388.0,1168.7 388.5,1169.3 389.0,1169.7 389.0,1168.9 389.5,1168.7 390.0,1168.9 390.4,1169.0 390.5,1168.9 391.0,1167.2 391.5,1166.6 392.0,1163.6 392.5,1161.9 393.0,1159.5 393.1,1160.3 393.5,1160.2 394.0,1164.3 394.5,1167.0 395.0,1166.4 395.5,1167.0 396.0,1167.9 396.5,1166.2 397.0,1166.5 397.5,1167.5 398.0,1167.2 398.5,1167.0 399.0,1164.9 399.5,1167.2 400.0,1167.0 400.5,1166.4 401.0,1166.7 401.5,1167.2 402.0,1166.6 402.5,1168.5 403.0,1167.4 403.5,1168.0 404.0,1166.2 404.5,1165.6 405.0,1166.5 405.5,1166.1 406.0,1166.7 406.5,1166.6 407.0,1166.2 407.5,1168.0 408.0,1166.1 408.5,1167.7 409.0,1166.3 409.5,1166.3 410.0,1165.5 410.5,1164.8 411.0,1162.1 411.5,1163.9 411.7,1160.7 412.0,1162.6 412.5,1163.7 413.0,1164.7 413.5,1159.5 414.0,1152.4 414.3,1149.3 414.5,1151.6 415.0,1160.5 415.5,1162.9 416.0,1165.1 416.5,1166.5 417.0,1167.5 417.5,1166.3 418.0,1166.9 418.5,1167.2 419.0,1166.1 419.5,1164.6 420.0,1164.4 420.2,1166.0 420.5,1165.0 421.0,1168.0 421.5,1169.2 422.0,1169.5 422.5,1168.5 423.0,1168.2 423.5,1169.6 424.0,1169.5 424.5,1169.6 425.0,1170.2 425.5,1169.6 426.0,1169.3 426.5,1169.4 427.0,1169.9 427.5,1169.5 428.0,1169.4 428.5,1157.8 429.0,1150.1 429.5,1140.0 430.0,1129.7 430.3,1113.7 430.5,1123.1 431.0,1145.1 431.5,1156.6 431.8,1166.9 432.0,1165.9 432.5,1161.2 433.0,1158.3 433.5,1153.3 434.0,1148.9 434.5,1149.3 434.7,1145.6 435.0,1130.3 435.5,1117.6 435.6,1115.1 436.0,1106.6 436.5,1093.3 437.0,1098.3 437.4,1076.8 437.5,1087.9 438.0,1098.8 438.5,1121.5 439.0,1125.1 439.5,1145.9 440.0,1157.1 440.5,1149.0 441.0,1137.4 441.4,1132.3 441.5,1140.5 442.0,1143.7 442.3,1143.1 442.5,1140.2 443.0,1133.0 443.3,1138.5 443.5,1137.9 444.0,1148.4 444.5,1154.0 445.0,1162.6 445.3,1166.9 445.5,1165.1 446.0,1162.2 446.5,1154.8 447.0,1151.5 447.5,1149.4 448.0,1146.1 448.2,1142.0 448.5,1138.9 449.0,1133.4 449.5,1130.0 450.0,1116.0 450.1,1121.1 450.5,1118.2 451.0,1105.1 451.3,1098.4 451.5,1099.9 452.0,1110.9 452.5,1116.9 453.0,1126.6 453.5,1129.8 454.0,1134.4 454.5,1146.0 454.9,1148.9 455.0,1148.2 455.5,1152.0 456.0,1155.5 456.5,1156.9 457.0,1161.6 457.5,1163.5 457.8,1164.7 458.0,1161.4 458.5,1153.6 459.0,1152.3 459.5,1137.2 459.7,1140.6 460.0,1138.9 460.5,1144.8 461.0,1145.7 461.5,1151.0 461.7,1150.2 462.0,1152.6 462.5,1157.5 463.0,1163.7 463.1,1165.4 463.5,1163.4 464.0,1159.7 464.5,1155.6 464.6,1154.4 465.0,1150.7 465.5,1154.0 466.0,1151.0 466.5,1150.1 467.0,1135.5 467.5,1128.4 468.0,1114.8 468.5,1101.9 468.9,1091.3 469.0,1085.3 469.5,1108.7 470.0,1118.4 470.4,1125.0 470.5,1133.9 471.0,1133.8 471.5,1145.7 472.0,1158.3 472.4,1165.4 472.5,1163.6 473.0,1148.1 473.5,1130.8 474.0,1118.9 474.3,1108.5 474.5,1104.0 475.0,1106.7 475.5,1107.5 476.0,1107.1 476.3,1085.3 476.5,1119.4 477.0,1102.4 477.5,1130.3 477.7,1132.4 478.0,1139.5 478.5,1147.4 478.9,1156.1 479.0,1150.1 479.5,1126.5 480.0,1138.0 480.4,1152.9 480.5,1141.4 481.0,1139.6 481.5,1123.5 481.6,1118.1 482.0,1131.9 482.5,1139.4 483.0,1150.5 483.5,1157.8 484.0,1160.4 484.5,1165.3 485.0,1162.1 485.5,1158.1 485.9,1159.6 486.0,1158.9 486.5,1161.7 487.0,1166.3 487.4,1168.1 487.5,1167.8 488.0,1164.6 488.5,1165.0 488.8,1163.3 489.0,1165.6 489.5,1166.7 489.8,1168.7 490.0,1167.3 490.5,1164.6 491.0,1159.2 491.5,1157.1 491.7,1155.8 492.0,1151.4 492.5,1148.1 493.0,1152.1 493.5,1153.4 494.0,1147.6 494.1,1145.1 494.5,1136.3 495.0,1129.6 495.5,1125.5 495.6,1120.7 496.0,1127.4 496.5,1137.7 497.0,1143.0 497.5,1149.6 498.0,1153.4 498.5,1157.9 499.0,1163.0 499.5,1164.1 500.0,1161.0 500.5,1160.1 500.9,1157.4 501.0,1159.8 501.5,1156.3 502.0,1151.2 502.5,1152.0 502.8,1153.3 503.0,1153.9 503.5,1158.6 504.0,1163.5 504.3,1166.6 504.5,1165.5 505.0,1165.4 505.5,1164.7 506.0,1163.2 506.5,1160.5 507.0,1158.1 507.2,1158.7 507.5,1156.6 508.0,1161.4 508.5,1162.6 508.6,1162.7 509.0,1163.1 509.5,1163.3 510.0,1164.3 510.5,1164.2 511.0,1166.3 511.5,1166.1 512.0,1168.1 512.5,1169.4 513.0,1170.2 513.5,1170.2 514.0,1170.2 514.5,1170.2 515.0,1170.0 515.5,1170.2 516.0,1170.2 516.5,1170.2 517.0,1170.2 517.3,1170.2" fill="none" stroke="#e67770" stroke-width="0.5"/>
<polyline points="330.0,1169.0 330.5,1169.2 331.0,1167.8 331.5,1167.7 332.0,1168.3 332.5,1166.5 333.0,1167.0 333.5,1167.3 334.0,1167.6 334.5,1166.0 335.0,1167.7 335.5,1166.8 336.0,1167.4 336.5,1167.8 337.0,1166.9 337.5,1167.0 338.0,1167.2 338.5,1167.8 339.0,1167.1 339.5,1167.3 340.0,1166.9 340.5,1167.3 341.0,1167.7 341.5,1167.5 342.0,1168.8 342.5,1168.0 343.0,1167.4 343.5,1168.0 344.0,1167.8 344.5,1167.8 345.0,1168.0 345.5,1169.1 346.0,1168.5 346.5,1168.8 347.0,1168.6 347.5,1167.7 348.0,1169.2 348.3,1168.9 348.5,1168.5 349.0,1167.6 349.5,1168.8 349.8,1169.0 350.0,1169.1 350.5,1167.8 351.0,1168.3 351.5,1167.3 352.0,1167.2 352.2,1166.9 352.5,1168.3 353.0,1167.9 353.5,1168.2 353.6,1169.6 354.0,1167.7 354.5,1167.8 355.0,1168.6 355.5,1168.1 356.0,1167.7 356.5,1168.0 357.0,1168.9 357.5,1168.5 358.0,1167.4 358.0,1167.3 358.5,1168.5 359.0,1168.0 359.5,1169.1 360.0,1168.9 360.4,1169.5 360.5,1170.2 361.0,1169.6 361.5,1168.6 362.0,1168.8 362.4,1169.0 362.5,1169.1 363.0,1168.7 363.5,1169.0 364.0,1168.2 364.3,1167.4 364.5,1168.3 365.0,1168.6 365.5,1166.8 365.5,1168.3 366.0,1168.0 366.5,1168.3 367.0,1167.6 367.3,1169.1 367.5,1168.4 368.0,1168.1 368.5,1168.9 369.0,1168.2 369.5,1168.2 369.6,1168.6 370.0,1168.6 370.5,1168.2 371.0,1169.9 371.5,1168.0 371.7,1168.9 372.0,1168.4 372.5,1167.7 373.0,1166.8 373.0,1166.4 373.5,1167.5 374.0,1167.0 374.5,1168.5 374.6,1168.3 375.0,1168.1 375.5,1167.5 376.0,1167.8 376.1,1169.0 376.5,1168.1 377.0,1168.3 377.4,1168.3 377.5,1168.6 378.0,1169.1 378.5,1169.4 379.0,1169.2 379.0,1169.5 379.5,1169.1 380.0,1169.2 380.2,1168.6 380.5,1168.8 381.0,1169.5 381.5,1169.7 382.0,1168.2 382.1,1169.3 382.5,1169.3 383.0,1169.1 383.5,1168.6 383.6,1168.6 384.0,1168.2 384.5,1167.4 384.9,1167.8 385.0,1167.2 385.5,1167.6 386.0,1168.1 386.5,1168.3 387.0,1168.8 387.1,1169.4 387.5,1168.7 388.0,1169.0 388.5,1169.5 389.0,1168.1 389.0,1168.5 389.5,1169.7 390.0,1168.8 390.4,1169.0 390.5,1168.4 391.0,1167.5 391.5,1165.8 392.0,1162.7 392.5,1160.4 393.0,1156.2 393.1,1158.6 393.5,1161.7 394.0,1161.0 394.5,1163.9 395.0,1166.5 395.5,1167.0 396.0,1165.8 396.5,1166.4 397.0,1165.6 397.5,1165.3 398.0,1166.1 398.5,1166.5 399.0,1165.0 399.5,1165.9 400.0,1166.7 400.5,1166.7 401.0,1166.4 401.5,1167.4 402.0,1165.7 402.5,1166.8 403.0,1167.0 403.5,1167.2 404.0,1166.3 404.5,1167.3 405.0,1166.2 405.5,1165.4 406.0,1166.4 406.5,1166.0 407.0,1166.5 407.5,1165.5 408.0,1165.9 408.5,1166.5 409.0,1166.7 409.5,1165.7 410.0,1165.2 410.5,1163.8 411.0,1161.9 411.5,1159.6 411.7,1160.0 412.0,1159.5 412.5,1162.3 413.0,1162.5 413.5,1156.9 414.0,1148.6 414.3,1147.2 414.5,1148.5 415.0,1159.2 415.5,1162.6 416.0,1164.6 416.5,1165.6 417.0,1165.9 417.5,1167.0 418.0,1165.0 418.5,1166.0 419.0,1165.7 419.5,1164.3 420.0,1163.6 420.2,1162.6 420.5,1165.2 421.0,1166.2 421.5,1168.8 422.0,1169.4 422.5,1168.9 423.0,1168.5 423.5,1168.7 424.0,1169.1 424.5,1169.2 425.0,1169.3 425.5,1168.9 426.0,1169.1 426.5,1169.2 427.0,1169.0 427.5,1169.3 428.0,1169.9 428.5,1155.0 429.0,1145.2 429.5,1130.7 430.0,1120.8 430.3,1108.6 430.5,1121.1 431.0,1131.6 431.5,1154.2 431.8,1165.9 432.0,1163.3 432.5,1159.2 433.0,1155.8 433.5,1154.0 434.0,1148.1 434.5,1143.4 434.7,1144.6 435.0,1127.4 435.5,1108.0 435.6,1098.4 436.0,1095.2 436.5,1090.4 437.0,1088.4 437.4,1072.1 437.5,1083.1 438.0,1078.9 438.5,1108.2 439.0,1123.2 439.5,1141.1 440.0,1155.5 440.5,1148.9 441.0,1136.2 441.4,1132.1 441.5,1125.7 442.0,1132.6 442.3,1130.7 442.5,1136.8 443.0,1130.9 443.3,1128.2 443.5,1136.0 444.0,1143.0 444.5,1150.2 445.0,1162.3 445.3,1166.0 445.5,1164.1 446.0,1159.1 446.5,1157.2 447.0,1149.6 447.5,1148.7 448.0,1134.9 448.2,1138.0 448.5,1133.5 449.0,1130.1 449.5,1120.6 450.0,1118.7 450.1,1114.4 450.5,1102.0 451.0,1096.8 451.3,1089.4 451.5,1090.8 452.0,1096.9 452.5,1106.8 453.0,1113.2 453.5,1123.3 454.0,1136.8 454.5,1141.8 454.9,1144.2 455.0,1146.8 455.5,1150.1 456.0,1155.2 456.5,1157.1 457.0,1158.1 457.5,1160.2 457.8,1163.9 458.0,1161.8 458.5,1155.2 459.0,1145.0 459.5,1130.2 459.7,1130.3 460.0,1136.7 460.5,1138.4 461.0,1141.9 461.5,1142.8 461.7,1144.0 462.0,1148.3 462.5,1159.0 463.0,1161.7 463.1,1162.9 463.5,1160.6 464.0,1154.9 464.5,1150.6 464.6,1153.4 465.0,1152.8 465.5,1150.0 466.0,1149.0 466.5,1146.1 467.0,1136.0 467.5,1122.7 468.0,1108.3 468.5,1083.7 468.9,1083.5 469.0,1076.1 469.5,1090.6 470.0,1110.3 470.4,1116.6 470.5,1123.2 471.0,1131.8 471.5,1142.1 472.0,1155.8 472.4,1165.3 472.5,1162.2 473.0,1148.1 473.5,1127.7 474.0,1122.8 474.3,1108.0 474.5,1112.2 475.0,1105.4 475.5,1098.7 476.0,1081.0 476.3,1092.7 476.5,1097.9 477.0,1107.9 477.5,1124.2 477.7,1131.7 478.0,1131.5 478.5,1143.2 478.9,1153.3 479.0,1147.6 479.5,1115.4 480.0,1135.8 480.4,1148.9 480.5,1145.5 481.0,1138.8 481.5,1110.4 481.6,1110.3 482.0,1119.8 482.5,1139.1 483.0,1145.2 483.5,1152.8 484.0,1158.3 484.5,1163.1 485.0,1160.4 485.5,1160.0 485.9,1157.2 486.0,1156.9 486.5,1161.0 487.0,1165.4 487.4,1168.1 487.5,1167.3 488.0,1165.5 488.5,1161.7 488.8,1162.4 489.0,1162.8 489.5,1166.7 489.8,1168.1 490.0,1165.7 490.5,1160.0 491.0,1158.6 491.5,1155.7 491.7,1153.6 492.0,1151.2 492.5,1146.9 493.0,1148.4 493.5,1144.7 494.0,1137.9 494.1,1141.3 494.5,1131.5 495.0,1122.4 495.5,1118.6 495.6,1107.2 496.0,1113.2 496.5,1130.6 497.0,1140.3 497.5,1146.6 498.0,1149.7 498.5,1156.9 499.0,1160.9 499.5,1160.7 500.0,1158.7 500.5,1156.4 500.9,1157.8 501.0,1158.7 501.5,1153.5 502.0,1153.3 502.5,1152.3 502.8,1149.6 503.0,1149.7 503.5,1157.4 504.0,1161.8 504.3,1166.6 504.5,1165.3 505.0,1165.4 505.5,1162.7 506.0,1160.4 506.5,1158.9 507.0,1158.6 507.2,1156.2 507.5,1154.1 508.0,1158.7 508.5,1161.3 508.6,1163.4 509.0,1163.6 509.5,1162.8 510.0,1163.7 510.5,1162.7 511.0,1165.5 511.5,1166.3 512.0,1167.8 512.5,1169.2 513.0,1170.2 513.5,1170.2 514.0,1170.2 514.5,1170.2 515.0,1170.2 515.5,1170.2 516.0,1170.2 516.5,1170.2 517.0,1170.2 517.3,1170.2" fill="none" stroke="#c0443c" stroke-width="0.55"/>
<text x="333.70" y="1071.30" font-size="8.6" font-style="italic" fill="#333" stroke="#333" stroke-width="0.28">30.0</text>
<line x1="329.80" y1="1179.00" x2="505.00" y2="1179.00" stroke="#2b3a8f" stroke-width="0.7"/>
<rect x="329.50" y="1177.00" width="1.00" height="4.00" fill="#2b3a8f"/>
<rect x="337.50" y="1177.50" width="1.50" height="3.00" fill="#2b3a8f"/>
<rect x="340.00" y="1177.00" width="1.50" height="4.00" fill="#2b3a8f"/>
<rect x="342.50" y="1177.00" width="1.70" height="4.00" fill="#2b3a8f"/>
<rect x="367.70" y="1177.00" width="2.30" height="4.00" fill="#2b3a8f"/>
<rect x="370.50" y="1177.00" width="1.60" height="4.00" fill="#2b3a8f"/>
<rect x="374.60" y="1177.00" width="3.30" height="4.00" fill="#2b3a8f"/>
<rect x="395.20" y="1177.00" width="1.80" height="4.00" fill="#2b3a8f"/>
<rect x="398.00" y="1177.00" width="1.50" height="4.00" fill="#2b3a8f"/>
<rect x="400.50" y="1177.00" width="1.40" height="4.00" fill="#2b3a8f"/>
<rect x="403.50" y="1177.00" width="0.80" height="4.00" fill="#2b3a8f"/>
<rect x="406.30" y="1177.00" width="0.80" height="4.00" fill="#2b3a8f"/>
<rect x="409.60" y="1177.50" width="1.40" height="3.00" fill="#2b3a8f"/>
<rect x="412.00" y="1177.00" width="2.00" height="4.00" fill="#2b3a8f"/>
<rect x="415.00" y="1177.50" width="1.00" height="3.00" fill="#2b3a8f"/>
<rect x="417.00" y="1177.00" width="2.00" height="4.00" fill="#2b3a8f"/>
<rect x="419.50" y="1177.50" width="1.70" height="3.00" fill="#2b3a8f"/>
<rect x="430.60" y="1177.00" width="3.80" height="4.00" fill="#2b3a8f"/>
<rect x="438.30" y="1177.00" width="2.90" height="4.00" fill="#2b3a8f"/>
<rect x="447.00" y="1177.00" width="2.80" height="4.00" fill="#2b3a8f"/>
<rect x="451.70" y="1177.00" width="0.80" height="4.00" fill="#2b3a8f"/>
<rect x="454.00" y="1177.00" width="1.60" height="4.00" fill="#2b3a8f"/>
<rect x="458.50" y="1177.00" width="0.80" height="4.00" fill="#2b3a8f"/>
<rect x="484.40" y="1177.50" width="1.60" height="3.00" fill="#2b3a8f"/>
<rect x="486.50" y="1177.50" width="2.00" height="3.00" fill="#2b3a8f"/>
<rect x="489.00" y="1177.00" width="2.00" height="4.00" fill="#2b3a8f"/>
<rect x="492.00" y="1177.50" width="3.00" height="3.00" fill="#2b3a8f"/>
<rect x="496.90" y="1177.00" width="1.60" height="4.00" fill="#2b3a8f"/>
<rect x="499.50" y="1177.50" width="1.50" height="3.00" fill="#2b3a8f"/>
<rect x="502.00" y="1177.00" width="2.60" height="4.00" fill="#2b3a8f"/>
<path d="M349.2,1178.0 L350.4,1179.0 L349.2,1180.0" fill="none" stroke="#2b3a8f" stroke-width="0.5"/>
<path d="M356.2,1178.0 L357.4,1179.0 L356.2,1180.0" fill="none" stroke="#2b3a8f" stroke-width="0.5"/>
<path d="M362.2,1178.0 L363.4,1179.0 L362.2,1180.0" fill="none" stroke="#2b3a8f" stroke-width="0.5"/>
<path d="M379.2,1178.0 L380.4,1179.0 L379.2,1180.0" fill="none" stroke="#2b3a8f" stroke-width="0.5"/>
<path d="M386.2,1178.0 L387.4,1179.0 L386.2,1180.0" fill="none" stroke="#2b3a8f" stroke-width="0.5"/>
<path d="M424.2,1178.0 L425.4,1179.0 L424.2,1180.0" fill="none" stroke="#2b3a8f" stroke-width="0.5"/>
<path d="M443.2,1178.0 L444.4,1179.0 L443.2,1180.0" fill="none" stroke="#2b3a8f" stroke-width="0.5"/>
<path d="M469.2,1178.0 L470.4,1179.0 L469.2,1180.0" fill="none" stroke="#2b3a8f" stroke-width="0.5"/>
<path d="M476.2,1178.0 L477.4,1179.0 L476.2,1180.0" fill="none" stroke="#2b3a8f" stroke-width="0.5"/>
<rect x="420" y="1177" width="10" height="4" fill="#fff"/>
<rect x="460" y="1177" width="24" height="4" fill="#fff"/>
<text x="398.80" y="1191.10" font-size="8.6" fill="#231f20" stroke="#231f20" stroke-width="0.28"><tspan font-style="italic">HOXA</tspan> cluster</text>
<text x="-0.70" y="947.60" font-size="10" font-weight="bold" fill="#000" stroke="#000" stroke-width="0.28">H</text>
<text x="61.20" y="952.50" font-size="8.6" fill="#231f20" stroke="#231f20" stroke-width="0.28">CD11b</text>
<line x1="32.30" y1="962.60" x2="32.30" y2="1114.80" stroke="#000" stroke-width="1.6"/>
<line x1="31.50" y1="1114.20" x2="135.60" y2="1114.20" stroke="#000" stroke-width="1.6"/>
<line x1="25.80" y1="1114.20" x2="32.30" y2="1114.20" stroke="#000" stroke-width="1.5"/>
<text x="24.20" y="1117.30" font-size="8.6" text-anchor="end" fill="#231f20" stroke="#231f20" stroke-width="0.28">0</text>
<line x1="25.80" y1="1084.00" x2="32.30" y2="1084.00" stroke="#000" stroke-width="1.5"/>
<text x="24.20" y="1087.10" font-size="8.6" text-anchor="end" fill="#231f20" stroke="#231f20" stroke-width="0.28">20</text>
<line x1="25.80" y1="1053.80" x2="32.30" y2="1053.80" stroke="#000" stroke-width="1.5"/>
<text x="24.20" y="1056.90" font-size="8.6" text-anchor="end" fill="#231f20" stroke="#231f20" stroke-width="0.28">40</text>
<line x1="25.80" y1="1023.60" x2="32.30" y2="1023.60" stroke="#000" stroke-width="1.5"/>
<text x="24.20" y="1026.70" font-size="8.6" text-anchor="end" fill="#231f20" stroke="#231f20" stroke-width="0.28">60</text>
<line x1="25.80" y1="993.40" x2="32.30" y2="993.40" stroke="#000" stroke-width="1.5"/>
<text x="24.20" y="996.50" font-size="8.6" text-anchor="end" fill="#231f20" stroke="#231f20" stroke-width="0.28">80</text>
<line x1="25.80" y1="963.20" x2="32.30" y2="963.20" stroke="#000" stroke-width="1.5"/>
<text x="24.20" y="966.30" font-size="8.6" text-anchor="end" fill="#231f20" stroke="#231f20" stroke-width="0.28">100</text>
<line x1="48.00" y1="1114.20" x2="48.00" y2="1119.40" stroke="#000" stroke-width="1.4"/>
<line x1="72.30" y1="1114.20" x2="72.30" y2="1119.40" stroke="#000" stroke-width="1.4"/>
<line x1="96.40" y1="1114.20" x2="96.40" y2="1119.40" stroke="#000" stroke-width="1.4"/>
<line x1="121.00" y1="1114.20" x2="121.00" y2="1119.40" stroke="#000" stroke-width="1.4"/>
<rect x="40.40" y="1104.60" width="15.20" height="9.60" fill="#111" stroke="#000" stroke-width="1.6"/>
<line x1="48.00" y1="1103.30" x2="48.00" y2="1106.00" stroke="#000" stroke-width="1.4"/>
<line x1="44.50" y1="1103.30" x2="51.50" y2="1103.30" stroke="#000" stroke-width="1.4"/>
<line x1="44.50" y1="1106.00" x2="51.50" y2="1106.00" stroke="#000" stroke-width="1.4"/>
<rect x="64.70" y="1028.60" width="15.20" height="85.60" fill="#f7941d" stroke="#000" stroke-width="1.6"/>
<line x1="72.30" y1="1021.60" x2="72.30" y2="1033.80" stroke="#000" stroke-width="1.4"/>
<line x1="68.20" y1="1021.60" x2="76.40" y2="1021.60" stroke="#000" stroke-width="1.4"/>
<line x1="68.20" y1="1033.80" x2="76.40" y2="1033.80" stroke="#000" stroke-width="1.4"/>
<rect x="88.80" y="1105.50" width="15.20" height="8.70" fill="#e8392a" stroke="#000" stroke-width="1.6"/>
<line x1="96.40" y1="1104.30" x2="96.40" y2="1106.80" stroke="#000" stroke-width="1.4"/>
<line x1="92.90" y1="1104.30" x2="99.90" y2="1104.30" stroke="#000" stroke-width="1.4"/>
<line x1="92.90" y1="1106.80" x2="99.90" y2="1106.80" stroke="#000" stroke-width="1.4"/>
<rect x="113.40" y="1001.30" width="15.20" height="112.90" fill="#a8a8a8" stroke="#000" stroke-width="1.6"/>
<line x1="121.00" y1="991.20" x2="121.00" y2="1009.30" stroke="#000" stroke-width="1.4"/>
<line x1="116.75" y1="991.20" x2="125.25" y2="991.20" stroke="#000" stroke-width="1.4"/>
<line x1="116.75" y1="1009.30" x2="125.25" y2="1009.30" stroke="#000" stroke-width="1.4"/>
<path d="M48.5,1096.5 V1002.4 H97.4 V1096.5" fill="none" stroke="#000" stroke-width="1.6"/>
<text x="72.50" y="999.70" font-size="8.6" text-anchor="middle" fill="#231f20" stroke="#231f20" stroke-width="0.28">ns</text>
<path d="M69.5,981.4 V973.8 H121.2 V985.5" fill="none" stroke="#000" stroke-width="1.6"/>
<text x="95.30" y="974.50" font-size="8.6" text-anchor="middle" fill="#231f20" stroke="#231f20" stroke-width="0.28">**</text>
<text transform="translate(6.10,1039.00) rotate(-90)" font-size="8.6" text-anchor="middle" fill="#231f20" stroke="#231f20" stroke-width="0.28">% CD11b-positive cells</text>
<text transform="translate(54.50,1125.50) rotate(-45)" font-size="8.9" text-anchor="end" fill="#231f20" stroke="#231f20" stroke-width="0.28">DMSO</text>
<text transform="translate(78.80,1125.50) rotate(-45)" font-size="8.9" text-anchor="end" fill="#231f20" stroke="#231f20" stroke-width="0.28">30 nmol/L selinexor</text>
<text transform="translate(102.90,1125.50) rotate(-45)" font-size="8.9" text-anchor="end" fill="#231f20" stroke="#231f20" stroke-width="0.28">10 nmol/L VTP-50469</text>
<text transform="translate(127.50,1125.50) rotate(-45)" font-size="8.9" text-anchor="end" fill="#231f20" stroke="#231f20" stroke-width="0.28">Combination</text>
<text x="162.50" y="947.90" font-size="10" font-weight="bold" fill="#000" stroke="#000" stroke-width="0.28">I</text>
<text x="221.00" y="952.50" font-size="8.6" font-style="italic" fill="#231f20" stroke="#231f20" stroke-width="0.28">MEIS1</text>
<line x1="192.20" y1="967.60" x2="192.20" y2="1114.10" stroke="#000" stroke-width="1.6"/>
<line x1="191.40" y1="1113.50" x2="297.10" y2="1113.50" stroke="#000" stroke-width="1.6"/>
<line x1="189.60" y1="1113.50" x2="192.20" y2="1113.50" stroke="#000" stroke-width="1.6"/>
<text x="187.70" y="1116.60" font-size="8.6" text-anchor="end" fill="#231f20" stroke="#231f20" stroke-width="0.28">0.00</text>
<line x1="189.60" y1="1092.75" x2="192.20" y2="1092.75" stroke="#000" stroke-width="1.6"/>
<text x="187.70" y="1095.85" font-size="8.6" text-anchor="end" fill="#231f20" stroke="#231f20" stroke-width="0.28">0.25</text>
<line x1="189.60" y1="1072.00" x2="192.20" y2="1072.00" stroke="#000" stroke-width="1.6"/>
<text x="187.70" y="1075.10" font-size="8.6" text-anchor="end" fill="#231f20" stroke="#231f20" stroke-width="0.28">0.50</text>
<line x1="189.60" y1="1051.25" x2="192.20" y2="1051.25" stroke="#000" stroke-width="1.6"/>
<text x="187.70" y="1054.35" font-size="8.6" text-anchor="end" fill="#231f20" stroke="#231f20" stroke-width="0.28">0.75</text>
<line x1="189.60" y1="1030.50" x2="192.20" y2="1030.50" stroke="#000" stroke-width="1.6"/>
<text x="187.70" y="1033.60" font-size="8.6" text-anchor="end" fill="#231f20" stroke="#231f20" stroke-width="0.28">1.00</text>
<line x1="189.60" y1="1009.75" x2="192.20" y2="1009.75" stroke="#000" stroke-width="1.6"/>
<text x="187.70" y="1012.85" font-size="8.6" text-anchor="end" fill="#231f20" stroke="#231f20" stroke-width="0.28">1.25</text>
<line x1="189.60" y1="989.00" x2="192.20" y2="989.00" stroke="#000" stroke-width="1.6"/>
<text x="187.70" y="992.10" font-size="8.6" text-anchor="end" fill="#231f20" stroke="#231f20" stroke-width="0.28">1.50</text>
<line x1="189.60" y1="968.25" x2="192.20" y2="968.25" stroke="#000" stroke-width="1.6"/>
<text x="187.70" y="971.35" font-size="8.6" text-anchor="end" fill="#231f20" stroke="#231f20" stroke-width="0.28">1.75</text>
<line x1="209.10" y1="1113.50" x2="209.10" y2="1117.50" stroke="#000" stroke-width="1.4"/>
<line x1="232.20" y1="1113.50" x2="232.20" y2="1117.50" stroke="#000" stroke-width="1.4"/>
<line x1="257.10" y1="1113.50" x2="257.10" y2="1117.50" stroke="#000" stroke-width="1.4"/>
<line x1="280.50" y1="1113.50" x2="280.50" y2="1117.50" stroke="#000" stroke-width="1.4"/>
<rect x="201.40" y="1030.20" width="15.40" height="83.30" fill="#111" stroke="#000" stroke-width="1.6"/>
<rect x="224.50" y="1092.80" width="15.40" height="20.70" fill="#f7941d" stroke="#000" stroke-width="1.6"/>
<line x1="232.20" y1="1091.30" x2="232.20" y2="1094.20" stroke="#000" stroke-width="1.4"/>
<line x1="228.70" y1="1091.30" x2="235.70" y2="1091.30" stroke="#000" stroke-width="1.4"/>
<line x1="228.70" y1="1094.20" x2="235.70" y2="1094.20" stroke="#000" stroke-width="1.4"/>
<rect x="249.40" y="1027.30" width="15.40" height="86.20" fill="#e8392a" stroke="#000" stroke-width="1.6"/>
<line x1="257.10" y1="1010.60" x2="257.10" y2="1043.20" stroke="#000" stroke-width="1.4"/>
<line x1="252.80" y1="1010.60" x2="261.40" y2="1010.60" stroke="#000" stroke-width="1.4"/>
<line x1="252.80" y1="1043.20" x2="261.40" y2="1043.20" stroke="#000" stroke-width="1.4"/>
<rect x="272.80" y="1106.20" width="15.40" height="7.30" fill="#a8a8a8" stroke="#000" stroke-width="1.6"/>
<line x1="280.50" y1="1104.20" x2="280.50" y2="1108.00" stroke="#000" stroke-width="1.4"/>
<line x1="277.00" y1="1104.20" x2="284.00" y2="1104.20" stroke="#000" stroke-width="1.4"/>
<line x1="277.00" y1="1108.00" x2="284.00" y2="1108.00" stroke="#000" stroke-width="1.4"/>
<path d="M209.1,991.2 V981.7 H281.2 V1084.7" fill="none" stroke="#000" stroke-width="1.6"/>
<path d="M233.1,1000 V995.6 H281.2" fill="none" stroke="#000" stroke-width="1.6"/>
<path d="M209.1,1022.1 V1018.6 H233.1 V1084.7" fill="none" stroke="#000" stroke-width="1.6"/>
<text x="243.70" y="982.90" font-size="8.6" text-anchor="middle" fill="#231f20" stroke="#231f20" stroke-width="0.28">****</text>
<text x="256.10" y="996.30" font-size="8.6" text-anchor="middle" fill="#231f20" stroke="#231f20" stroke-width="0.28">****</text>
<text x="220.70" y="1018.40" font-size="8.6" text-anchor="middle" fill="#231f20" stroke="#231f20" stroke-width="0.28">****</text>
<text transform="translate(164.90,1040.00) rotate(-90)" font-size="8.6" text-anchor="middle" fill="#231f20" stroke="#231f20" stroke-width="0.28">Rel. expression [<tspan font-style="italic">GAPDH</tspan>]</text>
<text transform="translate(214.50,1122.80) rotate(-45)" font-size="8.9" text-anchor="end" fill="#231f20" stroke="#231f20" stroke-width="0.28">DMSO</text>
<text transform="translate(237.50,1122.80) rotate(-45)" font-size="8.9" text-anchor="end" fill="#231f20" stroke="#231f20" stroke-width="0.28">30 nmol/L selinexor</text>
<text transform="translate(261.50,1122.80) rotate(-45)" font-size="8.9" text-anchor="end" fill="#231f20" stroke="#231f20" stroke-width="0.28">10 nmol/L VTP-50469</text>
<text transform="translate(285.50,1122.80) rotate(-45)" font-size="8.9" text-anchor="end" fill="#231f20" stroke="#231f20" stroke-width="0.28">Combination</text>
<text x="14.20" y="226.70" font-size="10" font-weight="bold" fill="#000" stroke="#000" stroke-width="0.28">B</text>
<text x="36.00" y="228.78" font-size="8" fill="#231f20" stroke="#231f20" stroke-width="0.28">OCI-AML3</text>
<rect x="35.20" y="231.00" width="452.00" height="401.50" fill="#f8f9fc"/>
<path d="M35.8 284.5v-.7h1v.4h.5v-.7h.5v.9h.5v-.3h.5v.3h.5v.1h.5v-.1h.5v-.5h.5v.3h.5v-.7h.5v.4h.5v.5h.5v-.4h.5v.2h.5v.2h.5v-.2h.5v-1h1v-1.3h1v-1.8h1.5v1.8h1v1.3h1v.6h.5v-.1h.5v.7h.5v-.9h.5v1h1v-.2h.5v-.9h.5v.8h.5v-.7h.5v.1h.5v.7h.5v-.2h.5v.3h1v-.8h.5v.7h.5v-.4h.5v.2h.5v.4h.5v-.9h.5v.7h.5v-.1h.5v.1h.5v-.6h.5v.5h.5v-.5h.5v.4h.5v.3h.5v.1h.5v-.3h.5v-.6h.5v.1h.5v.7h.5v-.8h.5v.8h.5v-.6h.5v.7h.5v-.6h.5v.4h.5v-.5h1.5v.4h1v-.8h.5v.2h.5v.6h.5v-.7h.5v1h.5v-.2h.5v-.4h.5v.4h.5v-.2h.5v.3h.5v-.8h.5v.6h.5v.1h.5v-.9h.5v.3h.5v.7h.5v-.2h.5v-.3h.5v-.3h.5v.4h.5v-.2h.5v.6h.5v-.1h.5v.1h.5v.1h.5v-.2h1v-.7h1v.3h.5v-.2h.5v.7h.5v-.2h.5v-.4h1v.4h.5v-.6h.5v.3h.5v.6h.5v-.4h.5v.3h.5v-.3h.5v-.6h.5v-.1h1v.7h.5v-.4h.5v-.2h.5v.8h.5v-.7h.5v.6h.5v-.2h.5v-.1h.5v-.2h1v.3h.5v.3h.5v-.5h.5v-.4h.5v.3h.5v.8h1.5v-.2h.5v-.9h.5v.5h.5v-.1h.5v-.1h1v-1.5h1v-2.1h1v2.1h1v.1h1v-.9h1v-3.4h1v3.4h1v.9h1v-1h1v-1.8h1v1.8h1v1.6h1v1h.5v-.5h.5v.7h.5v-.7h.5v.7h.5v.4h.5v-.8h.5v.8h.5v-.6h.5v.6h.5v-.6h.5v.4h.5v.2h.5v-.2h.5v.1h1v-.9h.5v.7h.5v.3h.5v-.4h.5v-.1h.5v.3h.5v-.7h.5v.9h.5v-.8h.5v.7h.5v-.7h1v-.4h1v-1.3h1.5v1.3h1v.1h.5v.3h.5v.1h.5v.7h1v-.1h.5v-.4h.5v-.5h1v-.6h1v-1.4h1v1.4h1v.6h1v.1h.5v.1h.5v.5h.5v.1h.5v-.5h.5v.6h.5v-.5h.5v-2.7h1v-3h1v-3.3h1v3.3h1v3h1v1h.5v-.6h.5v.4h.5v-1.8h1v-4.6h1v-3.3h1v3.3h1v.9h1v2h1v3.1h1v.2h.5v-.8h.5v-3.7h1v-4.5h1v4.5h1v3.4h.5v.5h.5v.2h.5v-3.4h1v-3.5h1.5v3.5h1v.5h1v1.8h1v.5h.5v.1h.5v-.4h.5v.6h.5v-1h.5v.7h1v.4h.5v1.3h.5v.2h1v-.3h.5v-.4h.5v-.3h.5v-2.5h1v1.7h.5v.9h.5v.3h.5v-.4h.5v-.4h.5v-1h.5v-.2h.5v-.3h.5v.4h.5v.1h.5v-.4h.5v-2.4h1.5v3.4h.5v.3h.5v.4h.5v-.5h.5v.2h1v-.6h.5v-.6h.5v.1h.5v.7h.5v-.6h1v-2.8h1.5v2.8h1v1.7h.5v-.8h.5v-.7h.5v.1h.5v-.1h.5v.4h.5v-3h1v-1.9h1.5v1.9h1v2.6h.5v-.6h.5v-.4h1v1.3h.5v.5h.5v.8h.5v.3h.5v.1h1v-.1h.5v-.6h.5v.2h1v.1h.5v-.4h1v-6.4h1v-5.8h1v5.8h1v5.8h.5v-.4h.5v-.8h.5v.7h.5v.3h.5v.3h.5v.4h.5v-1.8h1v-1.3h1v-6.2h1v6.2h1v1.3h1v2.9h.5v-.4h.5v.1h.5v-.4h.5v.2h1v1.3h.5v.7h.5v-.3h.5v.6h.5v-.6h.5v.2h.5v.1h.5v-.1h.5v.1h.5v-.2h.5v-.4h.5v.6h.5v.3h.5v-.1h.5v-.7h.5v.7h1v.1h1v-.3h.5v-.2h1.5v-.6h1v.9h.5v-.7h.5v.8h.5v-.8h.5V284.5z" fill="#111"/>
<line x1="35.80" y1="284.14" x2="240.40" y2="284.14" stroke="#111" stroke-width="1.0"/>
<path d="M241.6 284.5v-.3h.5v.1h.5v-.5h.5v-.2h.5v.9h.5v-.7h.5v.7h.5v-.2h.5v-.7h1.5v.7h.5v-.4h.5v-.3h.5v.9h.5v-.7h.5v.1h.5v-.3h.5v.6h.5v-.2h.5v-.1h.5v.3h.5v-.3h.5v.5h.5v.1h.5v-.1h.5v-.8h.5v.6h.5v-.5h.5v-.1h.5v.1h.5v.4h.5v.3h.5v-.4h.5v-.1h1v.6h1.5v-.1h.5v-.1h1v-.4h1v.5h.5v-.1h.5v-.6h.5v.2h.5v.6h.5v-.2h.5v-.5h.5v.3h.5v.3h.5v-.2h.5v-.2h.5v.4h1v-.6h.5v.5h.5v-.1h.5v-.6h1v.7h.5v.2h.5v-.1h.5v-.8h.5v.3h.5v.5h.5v-1h1v-.3h1v-1.5h1v1.2h.5v.1h.5v.2h1v-.1h.5v.2h.5v-.2h.5v-.2h.5v-.2h.5v-1.6h1v-1.6h1.5v1.6h1v1.6h.5v-.4h.5v.5h.5v-.2h1v.2h.5v-.2h.5v-.1h.5v-1.2h1v-1.8h1v1.8h1v1.7h1v-.9h1.5v.4h.5v.1h.5v.3h.5v.3h.5v.1h.5v-1.5h1v-2.3h1v2.3h.5v-.3h1v-2.2h1.5v2.2h.5v-1.4h1.5v1.9h1v.5h.5v-.6h.5v.3h.5v1.3h1v.5h1v.4h.5v-.3h1v.5h1v-.4h.5v.4h1v-.9h1v.3h.5v-.3h.5v.3h.5v-.3h.5v.9h.5v-.2h1.5v.1h.5v-.1h.5v-.4h.5v-.3h.5v.1h.5v.6h.5v-.2h.5v.3h.5v-.1h.5v-.6h.5v.4h.5v.4h.5v-.3h.5v-.4h.5v.2h.5v.5h.5v-.2h1v.1h1v-.6h.5v.3h.5v-.3h.5v.5h.5v-.5h.5v.7h.5v-.2h.5v.1h1v-.5h.5v.5h.5v-.7h.5v.4h.5v-.4h.5v.8h1.5v-.9h.5v.6h.5v.3h.5V284.5z" fill="#111"/>
<line x1="241.60" y1="284.14" x2="339.00" y2="284.14" stroke="#111" stroke-width="1.0"/>
<path d="M340.1 284.5v-1.8h.5v.1h.5v.1h.5v-.3h.5v-.2h.5v.4h.5v.3h.5v.3h.5v.2h.5v-.2h.5v-.4h.5v-.4h.5v.3h.5v.2h.5v.2h.5v.1h1v.1h1v-.1h1v-.2h.5v-.3h.5v-.2h.5v-.1h.5v.4h.5v.2h1v.2h.5v-.2h.5v.2h.5v-.3h.5v-.2h1v.1h.5v.3h.5v-.3h.5v.2h1v-.1h.5v-.1h.5v-.4h.5v.3h.5v-.5h.5v.5h1v-.4h.5v.2h.5v-.1h.5v.2h.5v.1h.5v.2h.5v-.2h.5v.3h1v.1h.5v.2h1v-.7h1v-.8h1v.8h1v.1h.5v-1.4h1.5v1.4h1v-.1h.5v.3h1v.1h.5v-.6h1v.1h.5v.2h.5v.2h.5v-.1h.5v-1h1v.8h.5v.1h1v.4h.5v.1h.5v-.2h1v-1.6h1v-.8h1v-.6h1v-4.6h1.5v2.8h.5v-3.4h1v3.5h1.5v2.9h1v.1h.5v1.3h1v.5h1v.8h.5v.4h.5v-.1h.5v.1h.5v-.6h1v.2h.5v.3h.5v.1h.5v-.5h.5v.2h.5v.2h1v-.2h.5v-.7h.5v.2h.5v.5h.5v.3h.5v-.9h.5v.3h.5v.6h.5v-.1h.5v-.4h.5v-.6h1v1h.5v-1h.5v.6h.5v.4h.5v-.2h.5v.1h1v-.1h.5v-.6h.5v-.2h.5v.4h.5v.6h.5v-1.2h.5v1.3h.5v-1.3h.5v.7h.5v.6h.5v-1.1h.5v.3h.5v.3h.5v.3h.5v.2h.5v-.9h.5v.9h.5v-.1h.5v-.9h.5v-.1h.5v.8h.5v.3h.5v-.7h.5v.1h.5V284.5z" fill="#111"/>
<line x1="340.10" y1="284.14" x2="423.60" y2="284.14" stroke="#111" stroke-width="1.0"/>
<path d="M424.8 284.5v-.3h.5v-.6h.5v.7h.5v-.9h.5v1h1v-.1h.5v-.1h.5v-.6h.5v.6h.5v-.2h.5v-.5h.5v1h.5v-.5h.5v-.2h.5v-.1h.5v.8h.5v-.3h.5v-.9h.5v-.9h.5v-.3h1v-1.3h1v-.3h.5v1.3h.5v.4h1v-.1h.5v-1h.5v-.3h.5v-3.7h1v1.9h.5v-1.4h.5v-1.8h.5v-1.4h.5v-1.2h.5v-1.9h1v3h.5v.1h.5v-1.4h1v4.4h.5v1.1h.5v.3h.5v1h.5v-1.9h1v2.5h1v1.3h.5v-.2h.5v-.7h1v1h.5v.1h.5v-.3h1v.3h.5v1.8h.5v-.4h.5v1.1h.5v-.6h.5v-.1h.5v-.6h1v-.6h1v.6h1v.5h.5v.2h.5v-.3h.5v.8h.5v-.5h.5v-.4h.5v1.1h.5v-1.2h.5v1.2h.5v-.8h1v-.8h1v-.4h1.5v.4h1v.8h1v.4h.5v-.2h.5v.5h.5v-.2h.5v-.1h.5v.1h.5v-.6h.5v.5h.5v-.3h.5v-.5h.5v-.3h1.5v.8h1v.3h.5v-.2h.5v-.5h.5v.8h.5v-.4h.5v.5h.5v-.3h.5v.3h1v.1h1v.1h1v-1.2h.5v.5h.5v.6h.5v-.3h.5V284.5z" fill="#111"/>
<line x1="424.80" y1="284.14" x2="486.60" y2="284.14" stroke="#111" stroke-width="1.0"/>
<path d="M35.8 311.3v-.1h1v-.2h1v-.1h.5v.2h.5v.2h.5v-.6h.5v-.1h.5v.1h.5v.6h.5v-.6h.5v.4h1.5v-.1h.5v.1h1v-2.1h1v-4.4h1v-2.3h1.5v2.3h1v4.4h1v2.1h1v.2h.5v-.7h.5v.7h.5v-.8h.5v.4h.5v.4h.5v-.2h.5v.1h1v-.1h.5v-.1h.5v.3h.5v-.6h.5v.4h.5v.1h.5v.1h1v-.3h.5v-.4h.5v.7h1v-.2h.5v.2h.5v-.3h.5v.2h.5v-.4h.5v.4h.5v-.1h.5v-.1h.5v.2h.5v-.3h.5v.1h.5v-.2h.5v.5h.5v-.8h.5v.8h.5v-.4h.5v-.1h.5v.5h.5v-.3h.5v-.1h.5v.3h.5v.1h1v-.1h1v.1h.5v-.5h.5v-.1h.5v.4h.5v.1h.5v-.4h.5v-.1h.5v.6h.5v-.1h.5v-.2h.5v.1h.5v.2h.5v-.7h.5v.3h.5v-.2h.5v.1h.5v-.1h.5v.2h1.5v-.3h.5v.7h.5v-.1h1v-.1h.5v.2h.5v-.5h.5v.3h.5v.1h1v-.2h.5v-.4h.5v.4h.5v-.2h.5v-.2h.5v.7h1v-.1h1v-.1h.5v-.2h.5v.3h.5v-.1h1v.2h.5v-.1h.5v-.2h1v-.2h.5v.4h.5v-.1h.5v.2h.5v-.1h.5v-.4h.5v.1h1.5v.1h1v-.4h.5v.7h.5v-.6h1v.5h.5v-1.2h1v-.7h1v-1.4h1v1.4h1v.7h.5v-.4h1v-3.6h1v-2.7h1v2.7h1v-1.6h1v-5.4h1v-6.9h1v6.9h1v5.4h1v6.5h.5v-.1h.5v-.2h.5v.6h.5v-.3h1v-.3h.5v.2h.5v.2h.5v-.2h.5v-.1h.5v.4h.5v-.3h.5v.5h.5v-.6h.5v.3h.5v.3h.5v-.1h.5v-.4h.5v-.1h.5v-.1h.5v-.6h1v-1.2h1.5v.3h1v-1.8h1v-.7h1v1.1h.5v-1.9h1.5v1.9h1v2.4h1v.8h.5v.3h1v-.7h.5v.4h.5v-.2h.5v-.1h.5v.5h.5v.2h.5v-.1h.5v.1h.5v-.1h.5v-.3h1v.3h.5v-.3h.5v.1h1v-4h1v-7.1h1v-6.1h1v6.1h1v7.1h1v.9h.5v.1h.5v.1h.5v-1.9h1v-4.2h1v-9.9h1v9.9h1v-.4h1v-3.1h1.5v3.1h1v1.9h1v-7.2h1v7.2h1v3.2h1v-.5h1v-3.9h1v-9h1.5v7.2h.5v-3.1h1.5v3.1h1v8h1v.5h.5v-.4h.5v-.7h.5v-.3h.5v.4h.5v-.6h.5v.3h.5v.2h1v.8h.5v-5.1h1v-1.9h1v1.9h1v4.5h.5v.3h.5v.2h.5v-.2h.5v.3h.5v.2h.5v-2.3h1v-2.5h1v-6.7h1.5v6.7h1v2.5h1v2.3h.5v-1h1v-2.5h1v-1.6h1.5v1.6h1v3.4h.5v-1.2h.5v-.5h.5v.9h.5v.6h.5v-.1h.5v-5.1h1v-6.6h1v6.6h1v2.8h1v-2.9h1.5v2.9h1v1.7h1v-.4h.5v.7h.5v-.5h.5v.9h1v-.2h.5v-.4h.5v.4h.5v-.1h.5v-4.2h1v-4.4h1v-8h1v8h1v4.4h1v4.5h1v-.4h.5v-.1h.5v.3h.5v.1h1.5v-8h1v-3.5h1v3.5h1v7.1h.5v-.1h.5v.4h.5v.4h.5v-.3h.5v.3h.5v.2h.5v2.8h.5v-.3h.5v-.4h.5v.4h.5v-.3h.5v.5h.5v-.1h.5v-.5h1v.4h1v.3h1v-.3h.5v-.2h.5v.2h.5v.2h.5v-.7h.5v.4h.5v.2h.5v-.1h.5v.2h.5v-.4h.5v.2h.5v.3h2v-.6h.5V311.3z" fill="#d7262b"/>
<line x1="35.80" y1="310.91" x2="240.40" y2="310.91" stroke="#d7262b" stroke-width="1.0"/>
<path d="M241.6 311.3v-.6h.5v.6h1v-.2h.5v-.3h.5v.2h.5v.2h.5v-.1h.5v.1h.5v-.5h.5v.4h.5v.1h.5v-.2h.5v.1h.5v-.3h.5v.5h.5v-.5h.5v.4h.5v-.1h.5v-.3h.5v.5h.5v-.2h.5v-.1h1v.3h.5v-.4h.5v.1h.5v-.1h.5v.4h.5v-.6h.5v.2h.5v.2h.5v-.1h.5v.2h1v-.1h.5v-.2h.5v.4h1v-.5h1v.5h.5v-.3h.5v.2h1v-.3h.5v.2h.5v.1h.5v-.5h.5v.3h.5v.2h.5v-.2h.5v.3h.5v-.2h.5v.1h.5v.1h.5v-.3h.5v-.4h1.5v-.3h.5v.1h1v.1h.5v.2h.5v-.1h.5v-.2h.5v-.2h.5v-.1h.5v.4h.5v.1h1v-.2h2v.2h1v.1h1.5v-.1h1v-1.2h1v-.6h1.5v.6h1v.9h.5v-.3h.5v.1h.5v-.1h.5v.2h.5v.3h1v.1h.5v-.1h.5v-.2h.5v-.1h.5v.1h.5v-.1h.5v.1h.5v-.2h.5v.2h.5v.1h.5v-.2h.5v-.1h.5v.1h.5v-.1h1v.3h1.5v.3h.5v-.1h.5v-.2h.5v-.1h.5v-.1h1v.1h.5v-.1h.5v-.1h1v-.1h.5v.2h1v.3h1.5v.2h.5v.1h.5v-.1h.5v-.2h.5v.2h1v.1h.5v-.1h.5v.3h.5v-.2h.5v.1h.5v.4h1v-.1h.5v-.4h.5v.5h.5v-.5h.5v.4h.5v-.3h1v.3h.5v-.3h.5v.2h1v-.3h.5v.1h.5v-.1h.5v.4h.5v.1h.5v-.2h.5v-.2h.5v.2h.5v.2h.5v-.5h1v-.1h.5v.3h.5v.3h1v-.3h.5v.1h.5v-.3h.5v.5h.5v-.3h.5v.1h.5v-.4h.5v.3h.5v.2h.5v-.5h.5v.3h.5v-.3h1v.1h.5v.5h.5v-.2h.5v-.2h.5v.3h.5v.1h.5v-.5h.5v-.1h.5v.6h1v-.5h.5v.3h.5V311.3z" fill="#d7262b"/>
<line x1="241.60" y1="310.91" x2="339.00" y2="310.91" stroke="#d7262b" stroke-width="1.0"/>
<path d="M340.1 311.3v-.3h.5v.2h1.5v-.1h.5v-.1h1v.2h1v-.2h.5v-.1h.5v-.3h.5v.3h.5v.1h.5v-.3h.5v-.1h.5v.7h.5v-.3h.5v.2h.5v-.1h.5v.2h.5v-.5h.5v.5h.5v-.5h1v.4h.5v-.4h.5v.4h.5v-.2h.5v-.3h1v.5h.5v-.5h.5v.5h1.5v-.1h1v.1h.5v-.5h.5v.4h.5v-.1h.5v-.5h.5v.5h.5v-.4h.5v.7h.5v-.8h.5v.5h.5v.1h.5v-.3h.5v.1h.5v-.2h.5v.6h.5v-.5h.5v.4h.5v-.1h.5v-.3h.5v.1h.5v.3h.5v-.1h.5v.1h1v-.1h.5v.1h.5v-.1h.5v.2h.5v-.6h.5v.5h.5v.1h.5v-.2h.5v-.5h.5v.4h.5v.1h.5v.1h.5v.1h.5v-.7h.5v.4h.5v.3h.5v-.8h1v.4h.5v-.1h.5v-.2h.5v.1h.5v.6h.5v-.4h.5v.4h.5v-.4h1v.1h1v.2h1v-.1h.5v.2h1v-1.4h1v-1.5h1v-1.4h1v1.4h1v1.5h1v1.2h.5v-.5h.5v.4h.5v-.3h.5v.6h.5v-.8h.5v.2h.5v-.2h.5v.8h.5v-.5h1v-.2h1.5v.7h1v-.6h1v.6h.5v-.5h.5v.4h.5v-.6h.5v.2h.5v.3h.5v-.4h.5v.3h.5v.3h.5v-.2h.5v-.3h.5v.5h.5v-.3h1v-.1h.5v.1h.5v-.5h.5v.4h.5v-.2h.5v.3h.5v-.3h.5v.6h.5v-.1h.5v-.4h.5v.5h.5v-.3h.5v.1h.5v-.2h.5v.1h.5v-.3h.5v.3h.5v-.4h.5v.4h.5v.2h.5v.1h1v-.1h.5v.1h.5v-.4h1v.3h.5v-.4h.5v.5h.5V311.3z" fill="#d7262b"/>
<line x1="340.10" y1="310.91" x2="423.60" y2="310.91" stroke="#d7262b" stroke-width="1.0"/>
<path d="M424.8 311.3v-.2h.5v.1h.5v-.2h.5v-.6h.5v.1h.5v.7h.5v-.7h.5v.7h.5v-.1h.5v-.2h.5v.4h.5v-.7h2.5v.3h.5v-.5h.5v-.9h1v-.8h1v-2.6h1v1.4h.5v.8h.5v.7h.5v.2h.5v-1h.5v-.3h.5v-4.5h1v-2.1h1.5v2.1h1v-2.8h.5v-.7h.5v-8.1h1.5v5.1h.5v.5h.5v-2.7h1v3.7h1v3.4h1v4.9h1v-.4h1.5v2.3h1v.5h.5v-.6h.5v.2h.5v-.7h.5v1.9h.5v-.6h1.5v.6h1v.6h1v.6h.5v.1h1v-.4h.5v-.1h.5v.5h.5v-.5h.5v.3h.5v.3h.5v-.3h.5v.3h.5v-.1h1v-.1h.5v-.4h.5v.3h.5v-.4h.5v-.1h1v.1h.5v.4h.5v.1h.5v-.5h.5v.7h.5v-.6h.5v-.2h.5v.8h1v-.9h.5v.5h.5v-.3h.5v.5h.5v-.6h.5v.8h.5v-.2h.5v-.8h1v-.5h1v-1h1v1h1v.5h1v.9h.5v-.2h.5v.2h.5v.1h.5v-.5h.5v.1h.5v-.5h.5v.9h.5v-.6h.5v.6h.5V311.3z" fill="#d7262b"/>
<line x1="424.80" y1="310.91" x2="486.60" y2="310.91" stroke="#d7262b" stroke-width="1.0"/>
<path d="M35.8 338.1v-.4h.5v-.9h.5v1.2h.5v-1.3h.5v-.5h.5v.8h.5v.5h.5v.5h.5v-1.1h1v-.2h.5v1.3h.5v-.6h.5v-.4h.5v.8h.5v-.9h.5v.2h.5v-.3h.5v.7h.5v-.3h.5v.2h1v.6h.5v-1.1h.5v-.5h.5v1.5h.5v-1h.5v-.3h.5v.6h.5v.8h.5v.1h.5v-1.2h.5v-.1h.5v.6h.5v-.3h.5v-.2h.5v.5h.5v.5h.5v-1.5h.5v.3h.5v.5h.5v-.5h.5v.5h.5v-.7h.5v1.2h.5v.3h.5v-1.2h.5v1.1h.5v-1.6h.5v.6h.5v1.1h.5v-1.7h.5v-.1h.5v1.6h.5v.2h.5v-.5h.5v-.1h.5v-.8h1v.3h.5v1h.5v-.4h.5v.3h.5v-.6h.5v.9h.5v-.1h.5v-.4h.5v.2h.5v-.1h.5v-.8h.5v.8h.5v.1h.5v-.3h.5v.5h2v-.2h.5v-.5h.5v-.8h.5v1h.5v-.7h1v.6h.5v-.4h.5v.8h.5v-.6h.5v.5h.5v-.8h.5v.3h1v.6h.5v-1.2h.5v1.2h1v.1h.5v.2h.5v-1.6h.5v.8h.5v.6h1v.1h.5v.1h.5v-.2h.5v-1.3h.5v-.3h.5v1.8h.5v-.5h.5v-1.3h.5v1.1h.5v-1.1h.5v1.7h.5v.1h.5v-.3h.5v-.2h.5v.4h.5v-.5h.5v-.6h.5v.5h.5v.7h.5v-1.7h.5v1.6h.5v.1h.5v-.4h.5v-.3h.5v-1.2h.5v.6h.5v.8h.5v-.1h.5v-.6h.5v1h.5v-1.5h.5v1.1h1v.1h.5v.5h.5v-.1h.5v-.9h.5v-.2h.5v.3h1v.7h.5v.2h.5v-1.7h.5v1.4h.5v.1h1.5v-1h.5v-.5h.5v.4h.5v-.7h1v-1.5h1v1.5h1v.6h.5v-.2h.5v.3h.5v1.1h.5v-.5h.5v-.5h.5v-.5h.5v.4h1v-.2h.5v1.4h.5v-.2h.5v-.1h.5v-1.1h.5v.3h.5v.2h.5v.9h.5v-.6h.5v-1.1h.5v1.3h.5v-.6h.5v-.8h.5v.5h.5v1.4h.5v-1.6h.5v.7h.5v.4h.5v-.2h.5v-.5h.5v1.1h.5v-.1h.5v-1.1h1v-.3h.5v.7h.5v.7h.5v-1.1h.5v.2h.5v-.4h.5v.2h.5v-1.2h1.5v1.2h1.5v.2h.5v-.3h.5v1.1h.5v.1h.5v-1.3h.5v1.5h.5v-.3h.5v-1.1h.5v1.4h.5v-1.8h.5v.4h.5v.7h.5v.5h.5v-1.7h.5v.7h.5v.8h.5v-1.1h.5v1.3h.5v-.7h.5v.8h.5v-1.6h.5v.1h.5v.6h.5v-.6h.5v-.3h.5v-1.8h1v-2.3h1v2.3h1v-.4h.5v-.2h.5v.1h.5v-.7h.5v.1h.5v-3.2h1v-3.3h1v3.3h1v4.2h.5v-.2h.5v-4h1.5v3.8h.5v-.5h.5v.7h.5v-.7h.5v-4.2h1v-8.1h1v8.1h1v4.9h1v.1h.5v-.1h.5v-2.6h1v-3.6h1v-11.1h1.5v11.1h1v3.6h1v.3h1v-1.7h1.5v1.7h1v2.4h.5v-.4h.5v.4h1v.9h.5v-.5h.5v.1h.5v-.4h.5v-2.2h.5v1.6h.5v.7h.5v.6h.5v.1h.5v-1.3h.5v-.5h.5v.3h.5v-2.8h1v-2.3h1.5v2.3h1v3.7h.5v1.2h.5v-.1h.5v-.4h.5v.3h.5v.1h.5v-.6h.5v-.5h.5v.4h.5v.3h.5v-1.3h1v-2.8h1.5v2.8h1v-.1h.5v-.5h.5v1h.5v-.9h.5v.7h.5v.4h.5v-5.9h1v-3.3h1.5v3.3h1v4.7h.5v-.3h.5v-.3h.5v.4h.5v-1h1.5v2.4h1v1.3h.5v-1.4h.5v-.3h.5v-7.2h1v-5.8h1.5v5.8h1v7.5h1v-.7h.5v-.4h.5v.8h.5v-4h1.5v4h1v-.5h.5v.4h.5v.5h.5v-3h1v-5.6h1v5.6h1v2.7h.5v.1h.5v-.6h.5v-1h.5v.3h.5v.7h.5v-1h.5v.9h.5v.8h.5v.9h.5v.2h.5v-.2h.5v2.7h.5v-.3h.5v.2h.5v-1.2h.5v.9h.5v.4h.5v-1.2h.5v.4h.5v-.6h.5v1h.5v.4h1v-1h1v1h.5v-1.2h1v-.1h.5v1.3h1v.1h1v-.1h.5v-.4h.5v.4h.5V338.1z" fill="#111"/>
<line x1="35.80" y1="337.68" x2="240.40" y2="337.68" stroke="#111" stroke-width="1.0"/>
<path d="M241.6 338.1v-.2h.5v-.9h.5v.9h.5v.1h.5v-.3h.5v-.2h.5v.1h.5v-.2h.5v-.4h.5v-.4h1v.8h.5v-.3h.5v.5h.5v-.6h.5v.2h.5v.4h.5v.3h.5v.1h1v-.5h1v-.2h.5v.6h.5v-.6h1v-1.2h1v-1.2h1v1.2h1v1h.5v.2h.5v.5h.5v-.2h.5v.5h.5v-.2h.5v-.1h.5v-.8h.5v1h.5v-.5h.5v-.3h.5v-.3h1v-.3h1.5v.3h1v.9h.5v-.4h.5v-.7h1v-.6h1v-1.8h1v1.8h1v.6h1v1.2h.5v-.3h.5v-.1h.5v-.1h.5v.2h.5v.4h.5v-.9h.5v1h.5v-.9h.5v.8h.5v-.7h.5v-1h.5v-.1h1v-2.3h1v2.3h1v.7h.5v-1.2h1v-2.2h1.5v2.2h1v.1h.5v-.1h.5v.1h.5v-.3h.5v.5h.5v-.3h.5v-.5h1v-1.7h1v1.5h1v-3.4h1.5v2.8h1v-2h1v2h1v1.1h.5v.4h.5v.2h.5v-1h1v.3h1v-2.2h1v-2.1h1v2.1h.5v-2.5h1v-2.5h1v2.5h1v.4h1v3.4h1v1.5h1v1.3h1.5v-.1h.5v.7h.5v-.1h.5v-.7h.5v.7h.5v-.2h.5v-.3h1.5v.3h.5v-.5h.5v.3h.5v-.4h1v-.4h1v.6h.5v-.1h.5v.5h.5v-.6h.5v.7h.5v-.2h.5v.3h.5v.2h1v-.9h1v-.6h1v-1.1h1.5v1.1h1v.6h1v.4h.5v-.4h.5v.7h.5v-.8h.5v.1h.5v-.5h1v.5h1v.7h1v.1h.5v-.7h.5v.7h.5v-.5h.5v.4h.5v-.6h.5v.1h.5v.1h.5v.7h.5v-.2h.5v-.6h.5v.1h.5V338.1z" fill="#111"/>
<line x1="241.60" y1="337.68" x2="339.00" y2="337.68" stroke="#111" stroke-width="1.0"/>
<path d="M340.1 338.1v-1.4h.5v1.2h.5v-1.3h.5v.7h.5v.7h.5v.1h.5v-.3h.5v-.8h.5v-.1h1v.7h.5v-.6h.5v.8h.5v-.3h.5v-.4h.5v1h.5v-.2h.5v-.2h.5v-.8h.5v.6h.5v-.4h1v-1h1.5v1h1v.4h1v-.4h.5v1h.5v-.3h.5v.1h.5v-.4h.5v-.7h.5v.7h.5v-.8h1v.2h.5v.5h.5v-.3h.5v-.2h.5v-.8h1.5v1h1v-.1h.5v-.4h.5v.4h.5v-.3h.5v.3h.5v-.4h.5v1.4h.5v-1.1h.5v.2h.5v-.6h.5v.6h.5v-.1h.5v-.2h.5v-.2h1v.4h1v.6h1v-1.1h.5v.1h.5v1.3h.5v.2h.5v-.1h.5v-.2h.5v-.2h.5v.3h.5v-.1h.5v.2h.5v-.4h.5v-1h.5v.2h.5v.6h.5v.6h.5v-1.5h.5v1.1h.5v-.6h.5v-.4h.5v.5h.5v-.2h.5v.4h.5v.5h.5v-.4h.5v-2h1v-2.4h1v-3.5h1v3.5h.5v-.9h.5v-4h1v3.6h.5v.2h.5v.5h.5v.7h.5v-3.6h1.5v3.6h1v1h.5v1.9h.5v.2h.5v.4h1v.5h.5v.4h.5v.5h.5v-1h.5v.8h.5v-1.1h.5v.9h.5v.4h.5v-.4h.5v.1h.5v.4h.5v-.2h.5v-1.4h.5v1h.5v-2h1v-1.1h1v1.1h1v1.6h.5v.4h.5v.6h1v-.4h.5v.1h1v.3h.5v-1h.5v.9h.5v-.4h.5v-.3h.5v-.2h.5v.2h.5v.3h.5v-.5h.5v.4h.5v-.6h.5v1.1h.5v-.2h.5v.1h.5v-.2h.5v.2h.5v.2h.5v-.1h.5v-1h.5v1.1h.5v-.2h.5v-.5h.5v-.9h.5v.2h.5v1.1h.5v-.9h.5V338.1z" fill="#111"/>
<line x1="340.10" y1="337.68" x2="423.60" y2="337.68" stroke="#111" stroke-width="1.0"/>
<path d="M424.8 338.1h.5v-.1h.5v-1h.5v.3h1v.8h.5v-1h1v-.1h.5v-.6h.5v.8h.5v.6h.5v-1.4h.5v-.1h.5v1.4h.5v.3h.5v-1.3h.5v1h.5v-.8h.5v.5h.5v-1h.5v1.3h.5v-.4h.5v-.2h.5v-.6h.5v1.2h.5v-.6h.5v-.3h.5v1.2h.5v-.1h.5v-1h.5v-.2h.5v.2h.5v.1h.5v1.1h.5v-.6h.5v-.1h.5v.5h1v-.4h.5v.4h.5v.1h.5v-1.1h.5v.4h.5v-.7h.5v1h.5v-1h1v-.5h1v.5h1v.6h.5v.2h.5v.6h.5v-.5h.5v-.6h.5v1.1h1v-.4h.5v.1h.5v-.9h.5v-.6h.5v.8h.5v.7h.5v.3h.5v-.3h.5v-.9h.5v1.1h1v.1h.5v.1h.5v-.2h1v.1h.5v-.3h.5v-.7h.5v.2h.5v.6h.5v-.5h.5v.1h.5v.4h.5v-.8h.5v.3h.5v.2h.5v.3h.5v-1.6h.5v1.7h.5v-.2h.5v-.4h.5v-.2h.5v.1h.5v.2h.5v-1.2h.5v1h.5v.5h.5v-.1h.5v.1h.5v.2h.5v-1.2h.5v.2h.5v1.2h.5v-1.9h.5v1.3h.5v-1h1v-2.2h1v-1.1h1v1.1h1v.2h.5v-1.4h1v1.4h1v.6h1v1.1h1v.6h.5v.7h.5v.2h.5V338.1z" fill="#111"/>
<line x1="424.80" y1="337.68" x2="486.60" y2="337.68" stroke="#111" stroke-width="1.0"/>
<path d="M35.8 364.9v-.7h.5v-.1h.5v.6h.5v-.9h1v1h.5v-1.5h.5v.3h.5v.4h1v-.1h.5v.9h.5v-.6h1v-.7h.5v1.2h.5v-.4h.5v-.5h2v-.9h1.5v.8h.5v.1h.5v-.1h.5v.4h.5v-.6h.5v1.1h.5v.2h1v.1h.5v-1.4h.5v1.1h.5v-.5h.5v-.5h.5v1.3h.5v-.2h.5v-.7h.5v.7h.5v-1h.5v.4h.5v-.1h.5v.4h1v.2h.5v.2h.5v-1.3h.5v1.2h.5v-1.4h.5v.8h.5v-.8h.5v1.1h.5v-1.1h.5v1.2h.5v-.3h.5v.5h.5v.2h.5v-1.3h.5v1.3h.5v-.4h.5v-.6h.5v1h.5v-.2h.5v-.1h.5v-.7h.5v1h.5v-1h.5v.9h.5v-.3h.5v.1h.5v-.1h.5v-.5h.5v.7h.5v-.7h.5v.5h.5v-.5h.5v.9h.5v-.5h.5v-.3h.5v.4h.5v-.2h.5v.6h.5v-1.3h.5v.1h.5v-.2h.5v.1h.5v1.1h1v.1h.5v.1h.5v-1h1v1h.5v-.1h.5v-.5h1v-.3h.5v.7h.5v-1.2h.5v1.2h.5v-.1h.5v-1.2h.5v.9h.5v.6h.5v-.8h.5v.7h.5v-.4h.5v.1h.5v.2h.5v.1h.5v-.2h.5v-.9h.5v.9h.5v-1h.5v1.2h.5v-1h.5v.9h.5v.1h.5v-1.1h.5v.1h.5v.2h.5v.7h.5v.2h.5v-1.2h.5v1h.5v-.1h.5v-.1h.5v.3h.5v-.2h.5v-.5h.5v-.2h.5v1h.5v-1.3h.5v.4h.5v.4h.5v-.2h1v-.1h.5v.7h.5v.1h.5v-1.2h1v.4h.5v.8h.5v-.8h.5v.3h.5v-.8h.5v.5h.5v.4h.5v.2h1v-.6h.5v.7h.5v-.1h.5v-.9h1v-3.1h1v-1.8h1v1.8h1v3.1h1v.3h.5v.7h1v-.1h.5v-.5h.5v.5h.5v-1h.5v.7h.5v.1h.5v-.7h.5v.1h.5v1h.5v-1.4h.5v1.3h.5v-.9h.5v-.1h.5v-.3h.5v1.1h.5v.2h1v-.4h.5v.3h.5v.2h.5v-1.4h.5v.8h.5v-.7h.5v1.1h.5v.2h.5v-1.7h1v-2h1v-1h.5v-.3h1.5v.5h1.5v1.8h1v1h1v.6h1v-1.6h1v-3.3h1v3.3h1v1.5h.5v.1h.5v1.1h.5v-.1h1v-.1h.5v.1h.5v-.1h.5v-.3h.5v-.9h1v-1.7h1v-.9h1v.9h.5v-.6h.5v.9h.5v.1h.5v-1.3h1v-3.5h1.5v3.5h.5v-.6h1v-2.4h1v2.4h1v.5h.5v-.1h1v.7h.5v-2.1h1v-6.9h1v-6.7h1v6.7h1v6.9h1v.6h1v-2.8h1v-4.5h1v-8.4h1.5v8.4h1v4.5h1v1.4h1v1.5h1v-.1h1v2.2h1v.6h.5v-.4h1v-1h.5v.1h.5v.7h.5v-.2h1.5v-.2h.5v-.1h.5v-.5h.5v.8h1v.4h.5v-.3h1v-.7h1v-3.9h1.5v3.9h1v.7h.5v-.5h.5v-.1h.5v.1h.5v.2h.5v.2h.5v-1.5h1v-5.1h1.5v5.1h1v1.1h.5v-.1h.5v.9h.5v-.6h.5v.8h.5v-.5h.5v-.8h1v-5.3h1v-5.3h1.5v5.3h1v2h1v1.5h1v2.6h.5v.2h.5v.2h.5v.5h.5v-.2h.5v.3h.5v-2.2h1v-5.6h1v-8h1.5v8h1v2.7h1v3.1h1.5v.8h.5v.2h.5v.3h.5v-.1h.5v-.4h.5v-.3h.5v.2h.5v-.6h.5v-2.8h1v-5.6h1v5.6h1v4.3h.5v-.4h.5v-.8h.5v-.6h.5v-.2h.5v-.1h.5v-.5h.5v1.1h.5v3.4h.5v-.9h.5v1.2h.5v.1h.5v-1.4h.5v.7h.5v-.1h.5v-.1h.5v.5h.5v.3h.5v-.5h.5v.3h.5v.3h1.5v-1.3h.5v.8h1v-.1h.5v.4h.5v-.1h.5v-1h.5v.7h.5v-.3h.5v.6h.5v-.2h.5v-1h.5v1.4h.5v-.1h.5V364.9z" fill="#d7262b"/>
<line x1="35.80" y1="364.45" x2="240.40" y2="364.45" stroke="#d7262b" stroke-width="1.0"/>
<path d="M241.6 364.9v-.5h.5v.2h1v.3h.5v-.8h.5v-.5h1v.2h.5v.6h.5v.2h.5v.2h.5v.1h.5v-.5h.5v-.7h.5v1.2h.5v-1.2h.5v.4h.5v.4h.5v-.3h.5v.7h.5v-.7h1v-.5h1v-.8h1.5v.8h1v.5h1v.6h1v-.9h.5v.7h.5v-.7h.5v.7h.5v-.1h.5v-.3h.5v.3h.5v.4h.5v-.8h.5v.8h.5v-.5h.5v.2h.5v-.2h.5v.1h.5v.4h.5v-.2h.5v-.2h.5v.2h.5v-.2h.5v.1h.5v-.5h1v-1h1v-.7h1v.7h1v.7h.5v.3h.5v-.5h.5v.6h.5v.6h.5v-.1h.5v-.3h.5v.4h.5v-.2h.5v-.3h.5v.3h.5v-.8h.5v1h.5v-.7h.5v.7h1v-1.1h.5v.1h.5v.1h.5v.8h.5v-.6h1v-1.1h1v-1.1h1.5v1.1h1v1.1h.5v-.4h.5v1.1h.5v-.7h1v-.4h1v-1.3h1.5v1.3h1v.4h1v.5h.5v-.7h.5v.4h.5v.3h1v.1h1v.2h.5v-.8h.5v.6h.5v-.4h.5v-.2h.5v-.3h1v-.5h1v-1.8h1.5v.4h1.5v1.5h1v1h1v-.2h.5v.5h.5v-.6h.5v.7h.5v-.5h.5v.5h.5v-.4h.5v-.5h.5v-.2h.5v1h.5v-.2h.5v-.5h.5v.1h.5v.7h.5v-.7h.5v.1h.5v-.2h.5v.5h.5v-.3h.5v.7h.5v-.4h.5v.3h.5v.1h.5v-.4h.5v.1h.5v-.3h.5v-.3h1v-.6h1v.6h1v.6h.5v-.3h1v.6h.5v-.1h.5v.1h.5v-.8h.5v.2h.5v-.2h.5v.6h.5v-.4h.5v.6h.5v-.1h.5v-.4h.5v.3h1v.1h1v-.9h.5v1h.5v-.6h.5v.2h.5v-.6h.5v.3h.5v.7h.5v-.6h.5v.4h.5v-.9h.5v.2h.5v.5h.5v-.1h.5v-.5h.5v.8h.5V364.9z" fill="#d7262b"/>
<line x1="241.60" y1="364.45" x2="339.00" y2="364.45" stroke="#d7262b" stroke-width="1.0"/>
<path d="M340.1 364.9v-1.2h.5v.7h.5v.3h.5v-.1h.5v-.3h.5v.4h.5v-1.3h.5v.6h.5v.2h.5v-.1h.5v.3h.5v-.1h.5v-.2h.5v-.8h.5v.7h.5v.6h.5v-.2h.5v.1h.5v-.4h.5v.4h.5v-.9h.5v-.1h.5v.2h.5v.5h.5v.3h.5v-.8h.5v1h.5v-.4h.5v.2h.5v-.5h.5v.7h.5v-.5h.5v.7h1v-.5h.5v-.3h.5v.1h.5v.7h.5v-.1h.5v.1h.5v-.1h.5v-.4h.5v-.1h.5v-.8h.5v.3h.5v.3h.5v.5h.5v.1h.5v-.3h.5v-1.1h.5v.2h.5v1.1h.5v.2h.5v.1h.5v-.1h.5v.1h.5v-.3h.5v.2h.5v-.9h.5v.5h.5v-.8h.5v-.2h.5v1.5h.5v-1.3h.5v.8h.5v.1h1.5v-1.1h1v.1h.5v-.6h1v.6h1v.2h.5v.6h.5v-.3h.5v.3h.5v.6h.5v-.1h.5v-.3h.5v.4h.5v-.4h.5v.3h.5v-.1h.5v-.8h.5v.2h.5v.5h.5v.3h.5v-.9h.5v-.6h.5v.8h.5v-.4h1v-1h1v-.9h1v.9h1v-.2h1v-.7h1v.7h1v1.4h.5v-.5h1v.7h.5v-.5h.5v.5h.5v.2h1v.2h.5v-.7h.5v.7h.5v.2h.5v-.4h.5v.1h.5v-1.1h.5v1.4h.5v-.8h1v-.4h.5v.9h.5v.1h1.5v.3h.5v-.3h1v-1.2h.5v1.1h.5v.1h.5v-.6h.5v.7h.5v-.8h.5v.6h.5v.3h.5v-.4h.5v.2h.5v.3h.5v-.9h.5v.9h.5v-.1h.5v-.4h1v-.8h1v-1.2h1.5v1.2h.5v-.1h1v-1.6h1v1.6h1v.8h1v.5h.5v-.8h.5v-.1h.5v.6h.5V364.9z" fill="#d7262b"/>
<line x1="340.10" y1="364.45" x2="423.60" y2="364.45" stroke="#d7262b" stroke-width="1.0"/>
<path d="M424.8 364.9h.5v-1h.5v.1h.5v-1.5h.5v1h.5v1h.5v-.1h.5v.2h.5v-1.4h.5v.3h.5v1.3h.5v-.3h.5v.4h.5v-1.7h.5v1.7h.5v-1.2h.5v-.1h.5v-1.2h1v-1.2h1.5v1.2h1v.7h1v-.8h1v-2h1v2h1v.2h.5v.6h.5v-.1h.5v-.7h.5v-.8h.5v-.7h.5v-1h1v-2.1h1.5v1.8h.5v.3h.5v.1h1v1.4h1v1.6h.5v.3h.5v.5h.5v-.2h1v-1.6h1v1.6h1v.2h1v.3h.5v.8h.5v-.6h.5v.4h.5v-1.1h.5v-.3h.5v.2h.5v-.5h.5v.4h.5v1.6h.5v-.2h.5v-.4h.5v-.9h.5v1.2h.5v-.7h.5v-1.2h.5v1.3h.5v-1.4h.5v2.3h.5v-1.8h.5v1.7h.5v-.8h.5v.7h1v.2h.5v-1.3h.5v.2h.5v1h.5v.1h.5v-.9h.5v-.4h.5v1h.5v-1.4h.5v-.4h.5v1.6h.5v-.9h.5v-.5h.5v-.4h.5v.6h.5v1h.5v-.3h.5v.7h.5v-.5h.5v-1.5h.5v1.5h.5v-1.6h.5v.5h1v-1.1h1v.7h.5v.4h.5v1.1h.5v-1.3h.5v.1h.5v1.9h.5v-1.3h.5v1.4h.5v-.7h.5v-.7h.5v.3h.5v-.9h.5v-.2h.5v1.6h.5V364.9z" fill="#d7262b"/>
<line x1="424.80" y1="364.45" x2="486.60" y2="364.45" stroke="#d7262b" stroke-width="1.0"/>
<path d="M35.8 391.6h.5v-.7h.5v.4h.5v-.8h.5v.8h.5v-.1h.5v-.2h.5v.4h.5v.2h.5v-.4h.5v-.8h.5v.1h.5v1.1h.5v-.7h1v.7h.5v-.6h.5v.6h.5v-.4h.5v-.1h.5v.3h.5v-.1h.5v-.7h.5v.3h.5v.1h.5v.4h.5v.1h.5v-.8h1v.6h.5v-.1h.5v-.6h.5v.5h.5v.1h.5v.2h1v-.7h.5v-.1h.5v.4h.5v.4h.5v-.1h.5v.3h.5v-.9h1v.8h.5v-.4h1v.5h.5v-1.1h.5v.3h.5v.7h.5v-.1h.5v.2h.5v-.1h.5v-.3h.5v-.1h.5v-.6h.5v.7h.5v.4h.5v-1.1h.5v.8h.5v.3h.5v-.9h.5v.4h.5v.5h.5v-.9h.5v.5h.5v-.1h.5v.4h1v.1h.5v-.9h.5v-.1h.5v1h.5v-.1h.5v-.1h.5v.1h.5v-.5h.5v.1h.5v-.6h1v.4h.5v-.3h.5v.7h.5v-.6h.5v.8h.5v-.2h.5v-.5h.5v.5h.5v-.6h.5v-.3h.5v.9h.5v-.1h.5v.3h.5v-.2h1.5v.3h.5v-.4h.5v-.8h.5v.9h.5v-.3h1.5v-1h1v-.4h1.5v.4h1v1h.5v-.2h.5v.5h.5v-.7h.5v1h.5v-.8h.5v-.1h1v.7h.5v-.4h.5v.2h.5v.2h.5v.2h.5v-.4h.5v.2h.5v-.9h.5v.4h.5v.6h.5v-.7h.5v.1h1v.7h.5v-.5h.5v.3h.5v-.5h.5v.7h.5v-.8h.5v.7h.5v-.5h.5v.1h.5v.3h.5v-.3h.5v.2h.5v-.6h.5v.1h.5v.5h.5v-.1h.5v-.4h.5v.3h.5v.5h.5v-.9h1v-1h1v-.6h1v.6h1v.3h1v-1.4h1v1.4h1v.4h.5v.3h.5v.8h1v-.9h.5v1h.5v-.1h.5v.1h.5v-.2h.5v.1h.5v-.1h.5v-1.1h.5v1.2h.5v-.9h.5v.2h.5v.7h.5v-.1h.5v-.8h.5v.3h.5v.3h.5v.3h.5v-.3h.5v-.7h.5v.1h.5v.5h.5v.4h.5v-.1h.5v-.6h.5v.2h.5v-.2h.5v.7h.5v.1h.5v-.3h.5v-.3h.5v-.7h.5v.2h.5v.9h.5v-.2h.5v.1h.5v.1h.5v-.6h.5v.8h.5v-1.1h.5v1.1h1v-.8h.5v.5h.5v.3h.5v-.1h.5v-.8h.5v.4h.5v.4h.5v-.4h.5v-.3h.5v.1h.5v-.3h.5v.2h.5v-.4h.5v1.2h1.5v-1h1v-1.3h.5v-.6h.5v-1h.5v.1h.5v.9h.5v-.1h.5v-.4h.5v.3h.5v.4h.5v.1h.5v-.1h.5v-.3h1v-1.3h1v1.1h.5v-.2h.5v-.4h.5v.5h.5v-.6h.5v.3h.5v.2h.5v-.1h.5v-.2h.5v1h.5v-.5h.5v-4.9h1v-3.6h1.5v3.6h1v4.1h.5v-2h1v.3h1v-4.5h1.5v4.5h.5v-.3h1.5v1.8h1v1h.5v.2h.5v-.3h.5v.2h.5v-.9h1v.9h1v1.1h1v-.6h.5v-.1h.5v-.1h.5v-.2h.5v.8h.5v-.8h1v.6h1v.4h.5v.2h.5v-.3h.5v.1h.5v.1h.5v-.2h.5v-1.8h1v-2.5h1v2.5h1v1.9h.5v.4h.5v-.4h.5v.1h.5v-.1h.5v-.3h.5v-.5h.5v-.4h.5v.7h.5v-1.5h1.5v.7h.5v.4h.5v-.5h.5v.1h.5v-.4h.5v-.3h.5v1h.5v-.1h1v-3.1h1v-2.3h1v2.3h.5v-.8h1.5v2.8h1v2h1.5v.3h1v-.2h1v-.1h.5v.3h1v-2.4h1v-1.7h1v1.7h1v1.9h1v.1h.5v-1.2h1v.4h.5v-.6h.5v.6h.5v-.6h.5v.5h.5v.9h.5v.2h.5v-.1h.5v-.3h1v-2.6h1v-1.3h1v1.3h1v2.6h.5v-.2h.5v.5h.5v-.3h.5v.3h.5v.4h.5v-.1h.5v1.5h.5v-.2h.5v.3h1v-.4h1v.6h.5v-.1h.5v-.6h.5v.6h.5v-.6h.5v.8h.5v-.9h.5v.8h.5v-.3h.5v.4h.5v-.8h.5v.8h1v-1.1h.5v.9h.5v-1h.5v.9h.5v-.9h.5v.2h.5v.9h.5v-.6h.5v-.5h.5v.4h.5V391.6z" fill="#111"/>
<line x1="35.80" y1="391.22" x2="240.40" y2="391.22" stroke="#111" stroke-width="1.0"/>
<path d="M241.6 391.6h.5v-.1h.5v-.4h.5v.1h.5v.2h.5v-.2h.5v.4h.5v-.7h.5v.4h.5v-.2h.5v.3h.5v.1h.5v.1h.5v-.4h1.5v.3h1v-.3h1v-.2h.5v-.1h.5v.5h.5v-.1h.5v-.3h.5v-.1h.5v-.1h.5v.2h.5v.6h.5v-.1h.5v-.6h.5v.4h.5v-.1h.5v.2h.5v-.3h.5v.4h.5v-.2h.5v.3h1v-.4h.5v.3h.5v-.6h.5v.6h1v-.1h.5v-.2h.5v-.3h.5v.3h.5v-.1h.5v.5h.5v-.3h.5v.1h.5v.2h.5v-.1h1v.1h.5v-.4h.5v.3h.5v-.6h.5v.1h.5v-.1h.5v.5h.5v.1h.5v.1h.5v-.2h.5v.2h.5v-.3h1v.3h.5v-.3h1v.1h.5v.2h1v-.1h.5v-.1h.5v.2h.5v-.4h.5v.3h.5v-.2h.5v.3h.5v-.6h.5v.2h.5v.2h.5v.2h.5v-.6h1v-.5h1v-.4h1v.4h1v.2h1v-2.8h1v-1.4h1.5v1.4h1v-.3h1.5v2.1h1v1.1h.5v-.4h1v-.4h1v-1.4h1v1.4h1v-1.6h1v-.9h1v-4.9h1.5v3h1.5v2h1v2h.5v-.5h1v.5h1v1.4h1v.6h.5v-.6h.5v-.1h.5v.4h1v.2h1.5v-.4h.5v.1h.5v.1h1v.1h.5v.1h1v-.3h.5v.2h.5v-.3h.5v-.2h.5v.5h.5v-.3h.5v.5h.5v-.3h.5v.3h.5v-.2h.5v.1h.5v-.2h.5v.1h.5v.2h.5v-.2h.5v-.4h.5v.5h1v.1h.5v-.4h.5v.2h.5v.1h1v.1h.5v-.3h.5v-.2h.5v-.2h.5v.3h.5v.2h.5v-.3h.5v.4h.5v-.2h.5v.3h1v-.2h.5v.1h.5v.1h.5v-.4h.5v.4h.5v-.8h.5v.6h.5v-.5h.5v.6h.5v.1h.5v-.2h.5V391.6z" fill="#111"/>
<line x1="241.60" y1="391.22" x2="339.00" y2="391.22" stroke="#111" stroke-width="1.0"/>
<path d="M340.1 391.6v-.6h.5v-.1h.5v.7h.5v-.6h.5v.1h.5v.2h.5v-.2h.5v-.7h.5v.6h.5v.6h.5v-.7h.5v.7h.5v-1h.5v.3h.5v-.3h.5v.2h1v.2h1v.4h.5v.2h.5v-.3h.5v.1h.5v-.3h.5v-.3h.5v-.4h.5v.9h.5v-.8h.5v.6h.5v-.6h.5v.9h.5v-.7h.5v.5h.5v-.5h.5v.7h.5v.1h.5v-.6h.5v-.2h.5v.8h.5v.1h.5v-.3h.5v.1h.5v-.5h.5v.6h.5v.1h.5v-.8h.5v.3h.5v-.7h.5v.7h1v-1.4h.5v-.1h.5v.3h1v.1h.5v.1h1.5v-.1h.5v.2h.5v.1h.5v.2h1v-.2h.5v-.1h.5v-.3h.5v-.2h.5v.2h.5v.3h.5v-.3h.5v.5h.5v-.2h.5v.2h.5v-.2h.5v-.3h.5v.1h.5v-.2h.5v.4h.5v-.3h1v.1h.5v-.4h.5v.5h.5v.2h1v.4h.5v-.1h.5v.2h.5v-.1h.5v-.4h.5v-.2h.5v-.6h.5v-2.6h1v-2.5h1v2.5h1v.6h.5v-.9h1v1.4h.5v1h.5v-.4h1v.6h1v1h.5v-.3h.5v.1h.5v1h.5v.2h.5v-.9h.5v1.1h.5v-.5h.5v.6h.5v-1.1h.5v.4h.5v.2h.5v.5h.5v-.8h.5v.7h.5v-.4h.5v.1h1.5v.5h.5v-.1h.5v-.3h.5v-.5h.5v.6h.5v.3h.5v-.1h.5v-.9h.5v.4h.5v.3h.5v-.4h.5v.6h1v-.2h1v.1h.5v.1h.5v.1h.5v-.2h1v.2h.5v-.1h.5v-.1h.5v-.5h.5v-.5h.5v.1h.5v.8h.5v-.2h.5v-.3h.5v-.4h.5v1.1h.5v-.1h.5v.1h.5v-1.2h.5v.1h.5v.8h.5v.3h1v.1h.5v-.1h1V391.6z" fill="#111"/>
<line x1="340.10" y1="391.22" x2="423.60" y2="391.22" stroke="#111" stroke-width="1.0"/>
<path d="M424.8 391.6h1v-.4h.5v.1h.5v.3h1v-.2h.5v-.1h.5v.3h.5v-.1h.5v-.6h1.5v.2h.5v.4h.5v.1h.5v-.2h.5v-.2h.5v.2h.5v.1h.5v-.1h.5v.1h.5v-.4h.5v-.2h.5v.6h.5v-.5h.5v.5h.5v-.5h.5v.6h.5v-.4h.5v-.2h.5v-.1h.5v-.1h.5v.8h.5v-.6h.5v.6h.5v-.1h1v.1h.5v-.1h1v-.4h.5v.2h.5v.2h.5v-.3h.5v-.2h.5v-.5h1v-.4h1v.4h1v.7h1v.1h.5v-.1h1v.3h.5v-.5h.5v.5h.5v-.6h.5v.7h.5v-.1h.5v-.3h.5v.4h.5v-.3h.5v-.1h1v.4h.5v-.1h.5v-.1h1v-.4h1v.6h.5v-.3h.5v-.4h.5v.2h.5v.3h.5v.2h.5v-.7h.5v.6h.5v-.6h.5v.7h.5v-.5h.5v.3h.5v-.1h.5v.3h.5v-.5h.5v-.3h.5v.5h.5v-.3h.5v.2h.5v-.4h.5v.2h.5v.1h.5v.3h1v-.1h.5v.2h.5v-.1h.5v-.5h.5v.6h.5v-.2h.5v-.2h.5v.5h.5v-.6h.5v.6h.5v-.1h.5v.1h1v-.4h1v.4h.5v-.6h.5v.5h1v.1h.5v-.2h.5v.1h.5v-.7h.5v.5h.5v-.2h.5v.1h.5V391.6z" fill="#111"/>
<line x1="424.80" y1="391.22" x2="486.60" y2="391.22" stroke="#111" stroke-width="1.0"/>
<path d="M35.8 418.4v-.8h.5v-.2h1v.6h.5v-.3h.5v.5h.5v-.3h.5v-.4h.5v.5h.5v-.2h.5v-.3h.5v-.2h.5v.7h.5v-.7h.5v.6h.5v-.3h.5v.8h.5v-.9h.5v.3h.5v-.4h.5v-1.4h1v-.6h1.5v.6h1v1.8h1v.6h.5v-.9h.5v.1h.5v.6h.5v-.4h.5v-.1h.5v.3h.5v.3h.5v.1h.5v-.7h.5v-.1h.5v.8h.5v-.9h.5v.8h.5v-.2h.5v.1h.5v-.4h.5v-.4h.5v.7h.5v.3h.5v-.5h1v-.3h.5v.6h.5v-.8h1v-.1h.5v.3h.5v-.2h.5v.9h.5v-1h.5v.4h.5v-.4h.5v.1h1v-1h1v1h1v.5h1v.1h.5v.3h.5v-.3h.5v-.4h.5v.1h.5v-.4h.5v.3h.5v.3h.5v-.3h.5v.2h.5v.1h.5v-.4h.5v.3h.5v.6h.5v-.2h.5v-.7h.5v-.2h.5v.6h.5v-.4h.5v-.2h.5v1.1h1v-.6h.5v.6h.5v-.3h.5v-.1h.5v.2h.5v-.8h.5v.9h.5v-.8h.5v-.2h.5v.9h.5v-.7h.5v.8h.5v.1h.5v-.6h.5v.6h.5v-.7h.5v.6h.5v-1h.5v.6h.5v.4h.5v-.8h.5v.2h.5v.6h.5v-.5h.5v-.2h.5v.3h1v-.6h.5v.8h.5v-.5h.5v.3h.5v.4h.5v-.7h.5v.6h.5v.1h.5v-.9h1v.7h.5v.3h.5v-.9h.5v.8h.5v-.8h.5v.2h.5v.2h.5v-.3h.5v.6h.5v.1h.5v-.2h.5v-.5h.5v-.1h.5v.3h.5v.1h.5v.4h.5v-.8h.5v.2h.5v.5h1.5v-.9h.5v.4h.5v.6h1v-.1h1v-1.2h1v-1.6h1v-1.5h1v1.5h1v1.6h1v1.4h.5v-.3h.5v-.1h.5v-.7h.5v1.1h.5v-.7h.5v.3h.5v-.6h.5v.8h.5v-.2h.5v-.4h.5v.7h.5v-.2h1v.2h.5v-.2h.5v-.3h.5v-.4h.5v1h1v-.9h.5v.5h.5v.3h1v-.3h.5v.1h.5v.3h.5v-1h.5v-.1h1v-.4h1v-1.5h1.5v1.5h1v.4h1v.5h.5v.6h1v-.7h.5v.5h.5v-.4h.5v-.5h.5v.9h.5v-.3h1v.5h.5v-.9h.5v.6h.5v-.3h.5v.1h.5v.4h.5v-.8h.5v.7h.5v-.8h.5v.5h.5v.4h.5v-.9h.5v.1h.5v-2.6h.5v-1.9h.5v-.3h.5v-.6h.5v1.5h.5v-.6h.5v.8h.5v1.7h.5v-5.2h1v-4.3h1.5v4.3h1v1.9h1v-4h1v4h1v-2.8h1.5v3.5h.5v.2h.5v-2.4h1v-7.9h1.5v7.9h1v1.6h.5v-1.9h1v.1h1v-5.8h1v-7.6h1.5v7.6h1v3.7h1v4.4h.5v-.1h.5v.7h.5v-.5h.5v.6h.5v.9h.5v-.2h.5v-.3h.5v-.5h.5v.3h.5v-.8h.5v1.2h.5v-.1h.5v-.1h1v.3h.5v-.3h.5v-.1h.5v-1.3h.5v1.2h.5v-1h.5v.2h.5v.3h.5v1.1h.5v-.8h.5v-4.5h1v-2.6h1.5v2.6h1v4h.5v1.3h.5v.4h.5v-.3h.5v-.4h.5v-.6h.5v-1.1h1v-3.1h1.5v3.1h1v2.2h.5v.3h.5v.2h.5v-.1h.5v-1.4h.5v.9h.5v-1.9h1v-7.9h1v-3.9h1.5v3.9h1v4.8h1v2.2h1v3h.5v-.2h.5v-1h.5v.3h.5v-.4h.5v-.1h.5v-.5h.5v.9h.5v-.2h1v-3.5h1.5v3.5h.5v-.7h.5v-.3h.5v.1h.5v.1h.5v.8h.5v.2h.5v1.7h.5v.1h1v-1.3h.5v-1h.5v.1h.5v1.2h.5v-.4h.5v.6h.5v-2.7h1v-5.9h1v5.9h1v2.2h.5v-.1h.5v-.4h.5v.5h.5v-.4h.5v.2h.5v-.7h.5v5.2h.5v-.5h.5v.5h.5v-1.1h.5v.9h.5v-.4h.5v.2h.5v-.3h.5v.1h.5v.1h.5v-.3h.5v.4h.5v-.6h.5v.9h.5v-.1h.5v-.3h.5v-.4h.5v.8h.5v-.2h1v-.3h.5v.1h.5v.2h.5v.3h.5v-.4h.5v.1h.5v.2h.5v-.4h.5v.5h.5V418.4z" fill="#d7262b"/>
<line x1="35.80" y1="417.99" x2="240.40" y2="417.99" stroke="#d7262b" stroke-width="1.0"/>
<path d="M241.6 418.4v-.1h.5v-.8h.5v.9h.5v-.4h1v.3h.5v-.8h.5v.7h.5v-.3h.5v.5h.5v-.9h.5v.1h.5v.2h.5v.6h.5v-.4h.5v.4h.5v-.7h.5v.5h.5v-.4h.5v.3h.5v-.6h.5v.1h.5v-.1h.5v.8h1.5v-.2h.5v-.5h.5v.4h.5v.3h.5v-.4h.5v-.3h.5v.6h.5v.2h.5v-.3h.5v-.6h.5v.8h.5v-.2h.5v-.5h.5v.3h.5v.1h.5v-.1h.5v-.1h.5v.6h.5v-.6h.5v.6h.5v-.5h1v-.2h.5v-.2h.5v.9h.5v-.6h.5v.6h.5v-.2h.5v-.4h.5v.3h.5v-.1h.5v-.4h.5v.7h.5v-.5h1v.3h.5v.2h.5v-.6h.5v.5h1v.2h1v-.4h.5v.3h.5v-.7h.5v.7h.5v-.4h1v.3h.5v-.5h.5v.6h.5v-.2h.5v.3h.5v-.2h.5v-.6h.5v.2h1v.6h.5v-.6h1v.6h.5v-.7h.5v.5h.5v-.4h.5v-.3h.5v.2h.5v.6h.5v-.1h.5v-.2h.5v.3h.5v-.6h1v-.9h1v-.4h1.5v.4h1v.9h1.5v.4h.5v.3h.5v-1h.5v.3h.5v.1h.5v-.3h.5v-.6h1v-2h1v-.9h1v.9h1v1.7h.5v-.7h1.5v.7h1v.9h1v.3h.5v.4h1v-.1h1v-.1h.5v.3h.5v-.8h1v.5h.5v.2h.5v-.3h.5v.4h.5v-.5h.5v-.1h.5v.5h.5v.2h.5v-.3h.5v.1h.5v-.3h.5v.4h.5v-.1h.5v-.5h.5v.6h.5v-.1h.5v-.1h.5v-.6h.5v-.1h.5v.6h.5v-.3h.5v-.2h.5v.9h1v-.1h.5v-.7h.5v.1h.5v.6h.5v-.7h.5v.2h.5v.1h.5v.4h.5v-.3h.5v.4h.5v-.1h.5v-.4h1v-.3h.5v.8h.5v-.3h.5v.1h.5v-.5h1v.7h.5v-.2h.5v.1h.5v-.1h.5v-.7h.5v.8h.5v-.8h.5v.8h1v-.4h.5v.4h.5v-.1h.5v.1h.5V418.4z" fill="#d7262b"/>
<line x1="241.60" y1="417.99" x2="339.00" y2="417.99" stroke="#d7262b" stroke-width="1.0"/>
<path d="M340.1 418.4v-.5h.5v.5h.5v-.2h.5v-.1h.5v-.4h.5v.3h.5v-.3h.5v.7h.5v-.5h1v.4h.5v-.2h.5v-.5h.5v.6h.5v-.1h.5v-.4h.5v.4h.5v.2h.5v-.1h.5v-.5h.5v.5h.5v-.5h.5v.2h.5v-.2h.5v.7h.5v-.6h.5v.4h.5v-.1h.5v-.2h.5v.3h.5v-.6h.5v.6h.5v-.4h.5v-.1h.5v.7h.5v-.2h.5v-.1h.5v-.2h1v-.2h1v.6h.5v-.1h.5v.1h.5v-.3h.5v.4h.5v-.3h.5v-.3h.5v.2h.5v.3h1v-.8h.5v.6h.5v-.6h.5v.9h.5v-.4h.5v.3h.5v-.8h.5v.3h.5v-.2h.5v.8h.5v-.8h.5v.1h.5v.7h.5v-.8h.5v.8h.5v-.6h.5v.2h.5v.1h.5v-.1h.5v-.1h.5v.4h.5v-.8h.5v.8h.5v-.4h.5v.1h1.5v.2h.5v.1h.5v-.2h.5v.1h.5v-.1h.5v-.3h.5v.5h.5v-.4h.5v-.5h1v.9h.5v.1h.5v-.7h.5v.4h.5v-.4h1v-.8h1v.8h1v.3h.5v-.5h.5v.8h.5v-.5h.5v.5h.5v-.3h.5v.4h.5v-.5h.5v.5h.5v-.5h1v-.1h.5v.5h.5v.1h.5v-.2h1v-.3h.5v.5h.5v-.4h.5v-.4h.5v.1h.5v.4h.5v.2h.5v-.2h.5v-.5h.5v.7h.5v-.6h.5v.6h.5v-.4h.5v-.1h.5v.1h.5v.4h.5v-.7h.5v.1h1v.4h.5v.1h.5v-.2h.5v.2h.5v-.4h.5v-.3h.5v.9h.5v-.1h.5v-.9h.5v.8h.5v.2h.5v-.4h.5v.4h1.5v-.1h.5v-.8h.5v.3h.5v.3h.5v.2h.5v.1h.5v-.1h.5v-.3h.5v-.3h.5v.3h.5v-.1h.5v.3h.5v.2h.5v-.8h.5v.4h.5v-.4h.5v.7h.5v-.6h.5v.1h.5V418.4z" fill="#d7262b"/>
<line x1="340.10" y1="417.99" x2="423.60" y2="417.99" stroke="#d7262b" stroke-width="1.0"/>
<path d="M424.8 418.4v-.1h.5v-.8h.5v.2h.5v.7h.5v-.7h.5v-.1h.5v.4h.5v-.5h.5v.4h.5v.3h.5v-.2h.5v-.4h.5v.3h.5v-.4h.5v.5h.5v-.4h.5v.1h.5v.4h.5v-.2h.5v.4h.5v-.2h.5v.1h.5v-.4h.5v.4h.5v-.2h.5v-.2h.5v.3h.5v.2h.5v-.1h1v-.2h.5v.1h.5v-.1h.5v-.3h.5v-.7h1v-.6h1.5v.6h1v1h1v.2h.5v.2h.5v-.1h.5v-.2h.5v-.2h1.5v.3h.5v-.2h.5v-.2h.5v.6h.5v-.1h.5v-.4h.5v.5h.5v-.2h.5v-.1h.5v-.1h.5v.3h.5v-.2h1v-.1h.5v.2h.5v.2h.5v-.1h.5v-.8h.5v.4h.5v.5h2v-.1h.5v-.5h.5v.6h.5v-.6h.5v.3h.5v.2h.5v-.3h.5v-.4h.5v.7h.5v-.7h.5v.8h.5v-.1h1v-.4h1v.2h.5v-.1h.5v.2h.5v-.5h.5v.2h.5v.3h.5v-.3h.5v.5h.5v-.9h.5v.9h1v-.1h.5v-.5h.5v.2h.5v.1h.5v-.7h.5v.2h.5v.5h.5v-.2h.5v.3h.5v-.6h.5v.5h.5v.2h.5v-.8h.5v.7h.5v-.2h.5v-.1h.5v.1h.5v-.4h1v.4h.5v-.2h.5v-.3h.5v.4h.5v-.2h.5v.1h.5V418.4z" fill="#d7262b"/>
<line x1="424.80" y1="417.99" x2="486.60" y2="417.99" stroke="#d7262b" stroke-width="1.0"/>
<path d="M35.8 445.2v-.6h1v.6h.5v-.8h.5v.6h1v-.8h.5v.9h.5v.1h.5v-.9h.5v.2h.5v.6h.5v-.5h.5v.5h1v-.4h.5v.5h1v-1.2h.5v-.2h.5v-.2h.5v.4h1.5v-.1h.5v.2h.5v-.3h.5v-.1h.5v.3h.5v.2h.5v-.2h.5v.2h.5v-.4h1v-.4h.5v.5h.5v.1h1v.2h1v-.2h2v-.1h.5v-.3h1v.1h1v1.5h1.5v-1.1h.5v.9h.5v.2h.5v-.3h.5v-.4h.5v.5h.5v-.3h.5v.5h.5v-1.2h.5v1.2h.5v-.7h.5v.3h.5v-.7h.5v1.1h.5v-.2h.5v-.5h.5v.7h.5v-.1h1v-.6h.5v-.5h.5v1.2h.5v-.1h.5v-.6h.5v.4h.5v-.3h.5v-.3h.5v.2h.5v-.3h.5v.3h.5v.3h.5v.4h.5v-.3h.5v-.3h.5v.3h.5v.3h.5v-.8h.5v-.2h.5v.1h.5v-.2h.5v.9h.5v-1h.5v.1h.5v1.1h.5v-.9h.5v.7h.5v-.1h.5v-.9h.5v1h.5v-.9h.5v-.1h.5v1h.5v-.1h.5v.1h.5v-.8h.5v.9h.5v-1.1h1v1h.5v-.4h.5v.2h.5v-.5h.5v.5h.5v-.1h.5v-.7h.5v.5h.5v.3h.5v.2h1v-1h.5v.3h.5v-.2h.5v.2h1v.6h.5v-.7h.5v.9h1v-.1h.5v-1h.5v.1h.5v.2h.5v.1h1v.7h1v-.7h.5v.3h.5v.4h.5v.1h.5v-.2h.5v-.5h.5v.1h.5v-1.8h.5v.2h.5v-.2h.5v.3h.5v-.1h.5v-.1h1v.5h.5v.3h1v.1h.5v.1h.5v-.4h.5v-.5h.5v-.5h.5v.5h.5v-.1h.5v.2h.5v.2h.5v-.2h.5v-.1h.5v.1h.5v.2h.5v.6h.5v-.1h.5v.2h.5v-.2h.5v-.4h1v-.5h1.5v.7h.5v-.1h.5v1.4h.5v-.4h.5v-.5h.5v.9h.5v-.9h.5v1h.5v-.1h.5v.3h.5v-.2h1v-.8h.5v.6h.5v-.2h.5v.5h1v-.7h.5v-1.4h1v-.2h.5v-.4h1v.7h.5v.2h.5v-.5h1v.2h.5v.3h.5v.1h.5v1.6h.5v.2h.5v-.2h.5v.1h.5v-.1h1v-.5h.5v.5h.5v-.2h.5v.1h.5v.2h.5v.1h.5v-.2h1v-.7h.5v-.2h.5v1h.5v-.5h.5v-.2h.5v.7h.5v-.3h.5v-4.3h1v-6.7h.5v-3.4h.5v-6.1h1v9.1h.5v-1.4h.5v-.2h1.5v2.7h.5v.5h.5v-1.4h.5v-5h1v5h.5v-3.3h.5v1.5h.5v-3.2h1v5.2h.5v-2h1.5v-1.7h.5v.5h1v-5.9h1.5v4.6h.5v-.3h.5v2.5h.5v-.7h.5v.9h.5v-1.8h.5v1h.5v-2.3h1.5v3.5h1v.7h.5v-1.3h.5v-7.2h1v4.9h.5v1.4h.5v.6h1v2.7h.5v.8h.5v.8h.5v.8h.5v-2.4h1v-.2h.5v-4.1h.5v.2h.5v-2.8h.5v2h.5v3.3h.5v-3.7h1v5.2h1v-1.2h.5v-.8h.5v-.1h.5v1.1h.5v-.3h.5v1.2h.5v-.3h.5v.9h.5v-4.7h1.5v4.7h.5v-2.6h.5v-.7h.5v-3.6h.5v1.3h.5v-.5h.5v1.6h.5v2.1h.5v-1.8h.5v-2.6h1.5v2.5h.5v-3.4h.5v-2.3h1.5v5.6h.5v-.5h1v-4.1h1v4.1h1v1.3h1.5v.5h.5v7.3h.5v2.4h1v1h1v1.1h.5v-.9h.5v-.2h.5v-.3h.5v-.5h1v-1.9h1.5v1.9h1v.9h.5v-.3h.5v-.4h1v-2.1h1v-4.2h1v4.2h1v2.1h1v-2.1h1.5v2.4h1v-2h1v-2.1h1v2.1h1v1.6h.5v-.3h.5v-.1h.5v.2h.5v.9h.5v-.4h.5v.7h1v1.5h.5v.6h.5v-.1h1.5v.1h.5v-.3h.5v-.1h.5v.3h.5v-.1h1v.4h1v.5h.5v.2h.5v-1.2h.5v1h.5v.2h.5v-1.3h.5v.7h.5v.1h.5v.3h.5v-.5h.5v-.5h.5v.4h1v.5h.5v.3h.5v-.1h.5V445.2z" fill="#111"/>
<line x1="35.80" y1="444.76" x2="240.40" y2="444.76" stroke="#111" stroke-width="1.0"/>
<path d="M241.6 445.2v-.5h1v.3h.5v-.2h.5v.3h.5v.1h.5v-.2h.5v.2h.5v-1.2h.5v.8h1v-.2h.5v.5h1v-.2h.5v-.3h.5v-.3h.5v-.3h.5v.3h.5v.9h.5v-.2h1v-.4h.5v.5h.5v-1.1h.5v.5h.5v.4h.5v-.9h.5v1.1h.5v-.5h.5v.6h.5v-.8h1v.4h.5v.1h.5v-.5h.5v.2h.5v.2h.5v-.1h.5v.1h.5v-.1h1v.4h.5v-.2h.5v-.7h.5v.5h.5v.2h.5v-.9h.5v1.2h.5v-.9h.5v.2h.5v.6h.5v-.6h.5v.2h.5v-.5h.5v-.2h.5v1.1h.5v-.7h1.5v.2h.5v-.1h.5v.1h.5v.5h.5v-1h1v.2h.5v.8h.5v-.7h.5v-.5h.5v.9h.5v-.6h.5v-.1h.5v.5h.5v.1h.5v-.5h.5v-.9h.5v-1.9h.5v.1h.5v.5h.5v-.3h.5v.5h.5v-.4h.5v-.1h.5v-.1h.5v.2h.5v-2.9h1v2.9h1v.4h.5v-1h1v1h.5v-.3h.5v.6h.5v.1h.5v-.4h1v-.3h.5v-.1h1.5v1.1h.5v-.2h.5v-.9h.5v.5h1v-.5h1v.5h.5v-.2h.5v.1h.5v.2h.5v-1.2h1v-1.1h1v1.1h1v.9h.5v-1.5h1.5v2.1h1.5v-1h.5v.2h.5v.3h.5v.7h1v1.3h.5v-.3h1.5v-.1h.5v.2h1v.2h.5v-.2h.5v.1h.5v.1h.5v-.1h.5v.3h.5v-.1h1v-.3h.5v.1h.5v.1h.5v.1h.5v-.1h.5v-.1h.5v-.2h.5v-.2h.5v.2h.5v.2h.5v.2h.5v-.2h.5v-.2h.5v-.1h.5v-.2h.5v.3h.5v-.2h.5v.3h1v.1h.5v-.1h.5v-.1h1v-.1h1v.3h.5v.1h.5v-.4h.5v.1h.5v-.3h1v.3h.5v-.1h.5v.1h.5v.1h1.5v.2h.5v-.3h1v.4h.5v-.1h.5v1h.5v-.4h.5v-.5h.5v-.3h.5v1.1h1V445.2z" fill="#111"/>
<line x1="241.60" y1="444.76" x2="339.00" y2="444.76" stroke="#111" stroke-width="1.0"/>
<path d="M340.1 445.2v-.1h.5v-.6h.5v.4h.5v-.1h1v.2h.5v-.7h.5v.7h.5v.1h.5v-.1h.5v-.3h.5v.2h1v-1.1h.5v1.1h.5v-.4h.5v-.2h.5v.6h.5v.1h.5v-.9h.5v.5h.5v.6h.5v-.2h.5v.2h.5v-.5h.5v.5h.5v-.7h.5v.1h.5v-.4h.5v.2h.5v.1h.5v.1h.5v.4h.5v-.4h.5v.5h1v-.6h.5v-.6h.5v.9h.5v-1h1v.2h.5v.1h.5v-.3h.5v.1h.5v.3h1v-.1h.5v-.1h.5v-.1h.5v-.1h.5v.1h.5v-.3h.5v.1h1v.1h.5v-.2h.5v.2h.5v-.3h.5v-.1h.5v.5h.5v-.1h.5v.1h1v.2h1v-.2h.5v-.1h.5v-.1h.5v-.1h.5v.4h.5v-.1h.5v.4h.5v-.2h.5v-.2h.5v-.3h.5v.2h1v.3h.5v-.3h.5v1.2h.5v.1h.5v-1.3h.5v1.3h.5v-.1h.5v.2h.5v-.7h.5v-.1h.5v-.5h.5v.1h.5v-.1h.5v.2h.5v-1.1h1v-1.8h1v1.8h.5v-2.7h1v-1.9h1v-4.9h1v-6.3h1v6.3h1v4.9h1v1.8h1v2.5h1v1.2h1v.5h.5v.2h.5v.1h.5v.3h.5v-.2h1v-.7h1v-.3h.5v-.7h1v-.9h1v.9h1v1h1v.7h.5v.3h.5v-.1h.5v-.7h.5v.6h.5v.2h.5v-.7h.5v-.4h.5v.6h.5v.1h.5v.2h.5v.3h.5v-.1h.5v-.6h.5v-.2h.5v-.2h1v.8h.5v-.8h.5v1h.5v-.4h.5v.1h.5v-.7h.5v.2h1v-.2h.5v-.1h.5v.8h.5v-1h.5v.8h.5v.6h1v-.1h.5v.1h.5v-1h.5V445.2z" fill="#111"/>
<line x1="340.10" y1="444.76" x2="423.60" y2="444.76" stroke="#111" stroke-width="1.0"/>
<path d="M424.8 445.2v-.4h.5v-1.2h.5v.4h.5v1.2h.5v-.6h.5v-.9h.5v.5h.5v.5h.5v.5h.5v-.2h1v-.5h.5v-.8h1v-2h1v-1.1h1.5v1.1h1v1.5h1v-5.1h1v-3.8h1v3.8h1v-5.2h1v5.3h.5v.1h.5v1.6h.5v-2.7h1v.2h.5v-4.3h1v-7.4h1.5v-1.1h.5v-.1h1v.2h.5v-.1h.5v-.4h.5v.5h.5v-.4h.5v-.1h.5v.6h.5v-.4h.5v.2h.5v-.3h.5v.3h.5v.2h.5v-.3h.5v.3h.5v-.3h.5v.3h.5v-.2h.5v-.2h.5v.3h.5v.1h.5v-.6h.5v.2h.5v.3h.5v-.1h.5v-.1h.5v-.3h.5v.3h.5v-.1h1v-.2h.5v.6h.5v-.3h.5v-.3h.5v.3h.5v-.2h.5v.5h1v-.5h.5v.5h.5v-.1h1v-.1h.5v-.4h.5v.4h.5v-.2h.5v.4h.5v-.2h.5v.1h.5v10.5h.5v-3.8h1v3.8h1v6.8h.5v-2h1.5v2.6h1v1.6h1v-.7h1v-1.3h1v1.3h1v.7h1v.5h.5v-.4h.5v-.2h.5v-.9h1v1.1h1v-.2h.5v.3h.5v.6h.5V445.2z" fill="#111"/>
<line x1="424.80" y1="444.76" x2="486.60" y2="444.76" stroke="#111" stroke-width="1.0"/>
<path d="M35.8 471.9v-.8h.5v.1h.5v.4h.5v.1h1v-.7h.5v.8h.5v-.1h.5v-.3h.5v.5h.5v-.6h.5v.5h.5v-.5h.5v.3h1v.2h.5v-.4h.5v.3h.5v-.1h.5v-.8h1v-2.1h1v-1.4h1.5v1.4h1v.2h1v1.1h1v1.1h1v.3h.5v.1h.5v-.2h.5v.1h.5v-.4h.5v.8h.5v-.2h.5v-.1h.5v.3h.5v-.1h.5v.2h.5v-.3h.5v.1h.5v-.2h.5v.3h.5v-.4h.5v.1h.5v.4h.5v-.6h.5v-.2h.5v-.1h.5v.7h.5v.1h.5v.1h.5v-.3h.5v-.3h.5v-.3h.5v.8h.5v-.3h.5v-.2h.5v.3h.5v-.5h.5v.4h.5v.4h.5v-.4h.5v-.2h.5v-.1h.5v.2h.5v.5h1v-.7h.5v.3h.5v-.4h.5v.7h.5v-.7h.5v-.1h.5v.4h.5v.4h.5v-.7h.5v.3h.5v.1h.5v-.2h.5v.4h.5v-.7h.5v.5h.5v.1h.5v.1h.5v.1h.5v-.3h.5v-.4h.5v.5h.5v-.3h.5v.2h.5v.3h.5v-.1h.5v-.6h.5v-.1h.5v.3h.5v.3h.5v-.4h.5v.2h.5v-.2h1v.6h.5v-.5h.5v-.2h.5v.7h.5v-.8h.5v.5h.5v.4h.5v-.3h1v.2h.5v-.7h.5v-.1h.5v.2h.5v.3h.5v.1h.5v-.2h.5v-.2h.5v.3h.5v-.1h.5v.4h.5v.1h1v-.2h.5v.2h.5v-.7h.5v.2h.5v-.2h.5v.1h.5v-.1h.5v.6h.5v-.5h.5v.6h.5v-.3h.5v-.6h.5v.8h.5v-.7h.5v-.1h.5v.8h.5v-.1h.5v.1h.5v-.5h.5v-.1h.5v.3h.5v-.3h.5v-.6h1v-1.2h1v1.2h2v-.7h1v-1.6h1v1.6h1v.7h1v.9h.5v-.4h.5v-.6h1v-.6h1v.6h1v1h.5v-.4h.5v.3h.5v-.3h.5v.5h.5v.2h.5v-.1h.5v-.7h.5v.1h.5v.7h.5v-.2h.5v.3h.5v-.1h.5v-.8h1v.2h.5v-1.5h1v-1.5h1v-2h1.5v2h.5v-.2h1v-1.1h1.5v1.1h1v2.5h1v.8h.5v-.1h1v-.4h1v-.4h1v.4h1v.5h1.5v.4h.5v.2h1v-.1h1v.1h.5v-7.5h1v-8.5h1v-4.9h1v4.9h1v5.3h.5v-2.6h.5v-2.3h1.5v3h.5v-2.5h.5v-1.6h.5v.1h.5v2.5h.5v1.9h.5v3.1h1v-6.9h1v4.4h.5v-1.4h1.5v4.1h1v.4h.5v-2.2h.5v-2.5h.5v-5.6h1v4.4h.5v-.5h.5v2.6h.5v1.1h.5v1.1h.5v.3h.5v-5.8h1.5v6h.5v-.2h.5v-.7h.5v-7.6h1v9.7h.5v-2.5h.5v-.3h.5v-3.3h1v3.6h1v2.5h.5v1h.5v-1.2h.5v-2.3h.5v-1.1h.5v.8h.5v-1.6h.5v-1.1h.5v.8h.5v-.7h.5v.5h.5v1h.5v1.1h.5v1.4h.5v-.2h.5v-.5h.5v1.5h.5v-3.1h.5v-1.9h.5v.3h.5v.1h.5v.3h.5v.3h.5v-1h.5v-2.5h.5v-2h.5v2.9h.5v4.9h1v2h.5v-2.2h.5v.4h.5v-.4h.5v-.5h.5v-4.5h.5v2h.5v2.4h1v-7.3h1v7.3h1v.3h1v-6.5h1v6.5h.5v-2.5h.5v2.2h.5v-3h1.5v3.5h1v1.6h.5v1h.5v3.5h1v2h.5v-.6h.5v-.5h.5v.6h.5v.5h.5v-.4h.5v-.1h.5v.2h.5v-3.9h1v-2.1h1.5v2.1h.5v-.3h1v-3.9h1v3.9h1v4.1h.5v-2.7h1v2.7h.5v-.3h.5v.2h.5v-.7h.5v.3h.5v-.5h1v-1h1v1.6h1v1.2h.5v-.4h.5v-1h1v.6h.5v-.1h1v.7h.5v.5h.5v1.2h1v.3h1v-.3h1v.3h1v.5h.5v-.4h.5v.4h.5v-.5h.5v-.2h.5v.7h1.5v-.2h.5v.4h.5v-.9h.5v.8h.5v-.4h.5v.5h.5v-.4h.5v-.1h1v-.3h1v.3h.5V471.9z" fill="#d7262b"/>
<line x1="35.80" y1="471.53" x2="240.40" y2="471.53" stroke="#d7262b" stroke-width="1.0"/>
<path d="M241.6 471.9v-.3h.5v-.2h.5v.3h.5v-.3h.5v.1h.5v.4h.5v-.4h1.5v-.2h.5v.5h.5v.1h.5v-.1h.5v-.1h.5v-.6h.5v.1h.5v.5h.5v-.1h.5v-.2h.5v.4h.5v.1h.5v-.7h.5v.5h.5v.1h.5v.1h.5v-.4h.5v-.1h.5v.5h1v-.1h.5v-.4h.5v-.2h.5v.3h.5v.4h.5v-.8h.5v.6h.5v.1h.5v-.4h.5v.4h1v-.7h.5v.5h.5v.3h.5v-.1h.5v-.2h.5v-.4h.5v.2h.5v.3h.5v-.5h.5v.6h.5v-.5h.5v.4h.5v.1h.5v-.3h.5v-.4h.5v.4h.5v.3h.5v-.8h.5v-.3h.5v.1h.5v.1h.5v-.1h.5v.2h1v-.1h.5v.1h.5v.1h1.5v-.1h1v-.1h.5v.1h.5v-.2h.5v-.1h.5v.1h.5v.3h.5v.2h.5v-.1h1v.1h.5v-.6h1v-1.2h1v-1.1h1.5v1.1h1v1.1h.5v.1h1v.1h.5v.1h.5v.2h.5v.3h.5v-.3h.5v.1h.5v-.1h.5v-.1h.5v.2h1v.1h.5v-.1h1v-.1h.5v-.2h.5v-.2h1v.2h.5v.1h.5v.2h.5v-.2h.5v-.2h.5v.2h1v.1h.5v-.6h1v-.6h1v.6h1v.5h.5v.1h.5v-.1h.5v.8h.5v.1h.5v-.1h.5v-.4h.5v.3h.5v.1h.5v-.4h.5v.3h.5v-.4h.5v.3h.5v-.4h.5v.2h.5v-.1h.5v.3h.5v-.3h.5v.5h.5v-.1h.5v-.3h.5v.4h.5v-.7h.5v.2h.5v-.1h.5v.7h.5v-.8h1v.2h.5v.5h.5v-.1h.5v.1h.5v-.2h.5v.2h.5v-.6h.5v.3h.5v.2h.5v.1h1v-.4h.5v-.2h.5v.7h1.5v-.6h.5v.3h.5v.2h1v-.6h.5v.3h.5v.4h.5v-.3h1.5v-.3h.5v.3h.5v-.1h1v.4h1v-.2h.5v.2h.5v-.7h.5v.7h.5v-.5h.5v.3h.5v-.4h.5v.6h.5v-.1h.5v-.2h.5v.3h.5V471.9z" fill="#d7262b"/>
<line x1="241.60" y1="471.53" x2="339.00" y2="471.53" stroke="#d7262b" stroke-width="1.0"/>
<path d="M340.1 471.9v-.2h.5v.2h1.5v-.1h1v-.2h.5v-.4h1v.6h1v-.7h.5v.3h.5v-.1h.5v.4h.5v.2h.5v-.1h.5v-.1h1v.2h.5v-.1h.5v.1h.5v-.1h.5v-.5h.5v.2h.5v.3h.5v-.1h.5v.1h.5v.1h1v-.4h.5v.1h.5v-.4h.5v.3h.5v-.3h.5v.2h.5v-.1h.5v-.1h.5v.7h1v-.2h.5v-.5h.5v.2h.5v.5h.5v-.2h.5v-.6h.5v.5h.5v.2h.5v-.6h.5v.6h.5v-.1h.5v.1h.5v.1h.5v-.5h1v.2h.5v-.4h.5v.3h.5v.4h.5v-.2h2v-.1h.5v.1h.5v.2h1v-.6h.5v-.2h.5v.1h.5v.7h.5v-.4h.5v-.1h.5v-.1h.5v-.1h1v.3h.5v.1h1v-.1h.5v-.2h1.5v.6h.5v-.3h.5v.3h.5v-.1h.5v.1h.5v-.7h.5v.4h.5v-.3h.5v.2h1v-.5h1v-.8h1v-.8h1v.8h1v.8h1v.9h.5v-.2h.5v-.4h.5v-.1h.5v.3h.5v-.2h1v.6h.5v-.2h.5v-.3h1v.1h.5v.3h.5v-.7h.5v.6h.5v.2h1v-.1h.5v-.1h1v-.1h.5v.2h1v.1h.5v-.1h.5v-.5h.5v.5h.5v-.3h.5v-.3h.5v.7h.5v-.7h.5v.5h1v-.5h.5v.5h.5v-.2h.5v.3h.5v-.4h.5v.1h1.5v-.2h.5v.5h.5v-.5h.5v.5h.5v-.6h.5v.2h.5v.2h.5v-.5h.5v.8h.5v-.1h.5v.1h.5v-.8h.5v.8h.5v-.1h.5v.1h.5v-.6h.5v.6h.5v-.1h1v-.2h.5v.2h.5v-.2h.5v-.5h.5V471.9z" fill="#d7262b"/>
<line x1="340.10" y1="471.53" x2="423.60" y2="471.53" stroke="#d7262b" stroke-width="1.0"/>
<path d="M424.8 471.9v-.4h.5v.1h.5v-.5h.5v.8h1.5v-.1h1v-.8h.5v.2h.5v.2h.5v.5h.5v-.7h1v-1.6h1v-2h1.5v2h2v-4.9h1v-2.3h1v2.3h1v2.7h.5v.7h.5v-.9h.5v-.8h.5v-1.7h.5v-.3h.5v.9h.5v.3h.5v-9h1v-5.6h1.5v.8h.5v-.4h.5v.2h.5v.4h.5v-.6h.5v.3h.5v-.1h.5v.4h.5v-.3h.5v-.1h.5v-.1h.5v.2h1v.1h.5v.1h.5v-.2h.5v-.1h.5v.4h.5v-.4h.5v.1h.5v.1h.5v-.3h.5v.3h.5v.1h.5v-.3h.5v.3h.5v-.5h.5v.4h.5v.2h.5v-.1h1v-.2h.5v-.2h1v.1h.5v.1h.5v-.1h.5v.1h.5v-.1h.5v.3h.5v-.3h.5v-.1h.5v-.1h.5v.3h.5v-.2h.5v.4h.5v-.9h1v.7h.5v9.7h.5v3.6h1v-5.4h1v5.9h1v2.3h.5v-1.9h1.5v2.2h1v2.9h1v-.8h1v-1.3h1v1.3h1v1.1h1.5v-1h1v-.4h1v.4h1v1h1v.6h.5V471.9z" fill="#d7262b"/>
<line x1="424.80" y1="471.53" x2="486.60" y2="471.53" stroke="#d7262b" stroke-width="1.0"/>
<path d="M35.8 498.7v-.1h.5v-.5h.5v.4h.5v-.4h.5v.4h.5v-.5h.5v.7h.5v-.4h.5v.4h.5v-.4h.5v.3h1v-.5h.5v.3h.5v-.3h.5v-.2h.5v.1h.5v.1h.5v.4h.5v-.1h.5v.2h.5v-.3h1v-.3h.5v.4h.5v-.1h.5v.4h.5v-.4h.5v-.1h.5v-.2h.5v.7h.5v-.3h.5v-.3h1v.1h.5v-.1h.5v.2h.5v-.4h.5v.7h.5v.1h.5v-.1h.5v-.6h1v.5h.5v.2h.5v-.1h.5v.1h1v-.6h.5v.5h.5v.1h.5v-.1h.5v-.1h1v.2h.5v-.4h1v-.3h.5v-.1h.5v.7h.5v-.2h.5v-.2h.5v.4h.5v.1h.5v-.8h.5v.6h.5v.2h.5v-.1h.5v-.4h.5v.3h.5v-.6h.5v.3h.5v.2h.5v.1h.5v.1h.5v-.1h1v-.2h.5v-.1h.5v-.2h.5v.7h1v-.4h.5v.2h.5v-.6h.5v.4h.5v.3h.5v-.1h.5v-.4h.5v.2h.5v.3h.5v-.2h.5v.2h1v-.1h.5v-.3h.5v-.3h.5v.4h.5v-.2h.5v.5h.5v-.3h.5v.1h1v-.2h.5v.4h.5v-.3h.5v.1h.5v.3h.5v-.1h1v-.5h.5v.3h.5v.2h.5v-.2h1v.2h.5v-.2h.5v.2h.5v-.4h.5v.1h.5v.3h2v-.2h.5v-.5h.5v.4h1v.1h.5v-.4h.5v.1h.5v.5h.5v.1h.5v-.8h.5v.8h.5v-.1h.5v.1h.5v-.7h1v.5h1v.2h.5v-.5h.5v-.2h.5v.5h.5v-.2h.5v.3h.5v-.1h.5v-.3h.5v.2h.5v.3h.5v-.3h.5v-.1h.5v.1h.5v.3h1v-.2h.5v-.2h.5v.4h.5v-.1h.5v-.6h.5v.2h.5v.2h.5v-.4h1v-.1h.5v.8h.5v-.1h.5v-.6h.5v.3h.5v-.2h.5v.3h.5v.3h.5v-.4h.5v.1h.5v-.2h1v.2h.5v-.4h1v.5h.5v.1h1v.1h.5v-.2h.5v-.2h.5v-.3h.5v.7h.5v-.1h.5v-.6h1v.5h.5v-.4h.5v.1h.5v.5h1v-.1h.5v-.6h.5v.2h.5v.4h.5v-.1h.5v-.3h.5v.5h1v-.2h.5v-.4h.5v.2h.5v.3h.5v-.4h.5v.5h.5v-.6h.5v-.1h.5v.7h.5v-.1h.5v-.1h.5v.2h.5v-.6h.5v-.1h.5v-.1h.5v.8h.5v-.7h.5v.5h.5v.2h1v-.1h.5v-.4h1v.3h.5v-.4h.5v.1h.5v.2h.5v-2.5h.5v-.6h.5v.2h.5v-.1h.5v-.3h.5v.5h.5v-1.9h1.5v1.9h1v-.3h.5v.9h.5v.2h.5v-1.3h1v-1.4h1.5v1.4h1v.1h1v-1h1v-3.6h1.5v3.6h1v1.2h.5v.5h.5v-.4h.5v-1.7h1v-2.8h1.5v2.8h1v2.5h.5v-.2h.5v-.8h.5v.4h.5v-.6h.5v-.1h.5v-.3h1.5v1.9h.5v-.1h.5v-.9h.5v-1.1h1v-1.8h1.5v1.8h1v1.2h.5v-.1h.5v-.2h1v-.1h.5v.1h.5v.3h.5v.1h.5v.2h.5v-.7h.5v.5h.5v-1.8h1v-1.3h1.5v1.3h1v1.4h.5v-1.7h1v1.7h1v1.4h.5v-.2h.5v-.8h1v-1.6h1.5v.5h.5v.6h.5v-.5h.5v.4h.5v.8h.5v-.1h.5v-.2h.5v.4h.5v-1.7h1v-1.2h1.5v1.2h1v2.5h.5v-.4h.5v-.5h1v-1.3h1.5v1.3h1v-.7h.5v-.3h.5v.8h.5v-2.1h1v-1.4h1.5v1.4h1v2.2h1v-2.2h1v2.2h1v.1h.5v-.2h.5v-.5h.5v.3h.5v-.2h.5v-.2h.5v.4h.5v-.5h.5v.2h.5v-1.1h1v1.6h.5v.5h.5v-.1h.5v-.6h.5v.3h.5v-.7h.5v3.5h.5v-.6h.5v.2h.5v-.4h.5v.8h.5v-.5h.5v-.1h.5v.3h.5v.3h.5v-.2h.5v.2h.5v-.6h.5v.4h.5v.1h.5v-.6h.5v.6h.5v.1h.5v-.4h1v.3h.5v.1h.5v-.1h.5v-.4h.5v.4h1v-.6h.5v.3h.5v-.2h1v.5h.5v-.6h.5v.6h1V498.7z" fill="#111"/>
<line x1="35.80" y1="498.30" x2="240.40" y2="498.30" stroke="#111" stroke-width="1.0"/>
<path d="M241.6 498.7v-.2h.5v-.2h.5v.3h.5v.1h.5v-.5h.5v.5h.5v-.1h.5v-.4h.5v.1h.5v-.2h.5v-.2h.5v.4h.5v.1h.5v-.2h.5v-.3h.5v.1h.5v.1h.5v.1h.5v.1h.5v-.1h.5v.5h.5v-.2h.5v-.4h.5v.3h.5v.1h1v-.1h.5v-.2h.5v-.2h.5v.7h.5v-.3h.5v-.3h.5v-.1h.5v.7h1v-.6h1v-.1h.5v.4h.5v-.4h.5v.2h.5v.4h.5v-.2h.5v-.5h.5v.5h1v-.4h.5v.3h.5v.2h.5v-.1h.5v-.4h.5v.1h.5v.5h.5v-.5h.5v.1h.5v.3h.5v-.4h.5v.4h.5v-.5h.5v.1h.5v.1h.5v.5h.5v-.8h.5v.8h.5v-.3h.5v-.3h1v.3h.5v-.3h.5v.6h.5v-.5h.5v.4h.5v-.5h.5v.4h.5v-.3h.5v.1h.5v-.2h.5v-.9h.5v.3h1v.3h.5v-.3h.5v-.3h.5v-.2h.5v.2h.5v.2h1v-.7h1v-1.8h1v1.8h1v-.3h1v-2.1h1v2.1h1v.8h1v.2h.5v-.2h.5v.1h.5v-.2h.5v-.1h.5v-.4h.5v.4h.5v-.3h.5v.3h1v.2h.5v.4h.5v-.3h.5v-.1h.5v-.1h.5v.2h.5v.1h.5v-.1h.5v.2h.5v-.6h1v.2h1v.5h.5v-.1h.5v.1h.5v.7h1v.4h.5v-.2h.5v-.3h.5v.1h.5v-.2h.5v.1h.5v.4h.5v-.3h.5v-.1h.5v.5h.5v-.1h.5v.1h.5v-.5h.5v.5h.5v-.3h.5v-.5h.5v.8h.5v-.3h.5v.1h.5v.2h1v-.4h.5v.3h.5v-.2h.5v-.5h.5v.7h.5v-.1h.5v-.4h.5v.6h.5v-.2h.5v-.2h.5v-.3h.5v.3h.5v-.4h.5v.8h.5v-.3h.5v.1h.5v-.1h.5v.3h.5v-.1h.5v.1h.5v-.2h.5v.2h1v-.4h.5v-.3h.5v.7h1v-.1h.5v-.2h.5v.3h.5v-.1h.5v-.6h.5v.6h.5v.1h.5v-.6h.5v.4h.5v-.1h.5v.2h.5v-.5h.5v.5h.5v.1h1v-.3h.5v.1h.5v-.5h.5V498.7z" fill="#111"/>
<line x1="241.60" y1="498.30" x2="339.00" y2="498.30" stroke="#111" stroke-width="1.0"/>
<path d="M340.1 498.7v-.5h.5v.1h.5v-.1h.5v.3h.5v.1h1v-.1h.5v-.2h.5v.2h.5v-.4h.5v.5h.5v-.4h.5v-.2h.5v.6h.5v.1h1v-.1h1v-.6h1v.1h.5v.5h1v-.5h.5v.6h.5v-.4h.5v-.1h.5v-.3h.5v.2h.5v.5h.5v-.2h.5v.3h.5v-.1h.5v-.2h.5v-.4h1v.2h.5v.5h.5v-.5h.5v.4h.5v-.1h.5v.2h.5v-.1h.5v-.1h1v.1h.5v-.2h.5v.1h.5v.1h.5v-.1h.5v-.6h.5v.4h.5v-.1h.5v.3h.5v.1h.5v-.3h.5v-.1h.5v.5h1v-.5h.5v.2h.5v.2h.5v-.6h.5v.5h.5v-.4h.5v.1h.5v.4h1v-.2h.5v-.3h.5v.1h.5v.4h1v-.2h.5v-.4h1v.4h.5v-.2h.5v.1h.5v-.1h.5v.4h.5v.1h.5v-.3h.5v.2h.5v-.2h.5v.3h1v-.3h.5v.1h.5v-.4h1.5v-1.2h1v-.7h1v.7h1v-.6h1v-.6h1v.6h1v1.5h1v.8h.5v-.4h.5v.1h.5v.3h.5v-.4h.5v-.2h.5v.6h1v-.4h.5v.4h1v-.1h.5v.1h.5v-.3h.5v-.2h.5v.2h.5v.2h.5v-.2h.5v.1h.5v.2h.5v.1h.5v-.7h.5v.5h.5v-.5h.5v.4h.5v-.1h.5v-.1h.5v.2h.5v.3h.5v-.6h.5v.5h.5v-.1h.5v-.2h.5v.4h.5v-.7h.5v.3h.5v.4h1v-.2h.5v-.6h.5v.8h1v-.5h.5v-.1h.5v.3h.5v.3h.5v-.2h.5v-.6h.5v.8h.5v-.2h.5v-.3h.5v.1h.5v.2h.5v-.6h.5v.3h.5v.4h.5v-.1h1.5v.2h.5v-.2h.5V498.7z" fill="#111"/>
<line x1="340.10" y1="498.30" x2="423.60" y2="498.30" stroke="#111" stroke-width="1.0"/>
<path d="M424.8 498.7v-.6h.5v-.4h.5v1h.5v-.1h.5v-.2h.5v-.4h.5v.5h.5v-.7h.5v-.4h.5v.8h.5v-.5h.5v.2h1v-.2h.5v.3h.5v.3h1v-.3h.5v-.2h.5v.9h.5v-.4h.5v-.4h.5v.3h.5v.4h.5v-.2h1v-.1h.5v-.5h.5v.2h.5v-.3h.5v-.3h.5v-.7h1v.4h1v-.5h.5v-.3h.5v-2.9h1v-2.4h1.5v1.1h.5v-1.2h.5v.4h.5v-3.2h1v4h1v1.5h.5v-2.1h1v3.8h1.5v-1.6h1.5v1.6h1v.9h.5v.2h.5v-.7h1.5v.7h1v.6h.5v-.4h.5v.4h.5v-.3h1v-.4h.5v.3h.5v-.4h1v.8h.5v-.4h.5v.1h1.5v1.9h.5v-.2h.5v.3h.5v-.1h1v-1h.5v.9h.5v-.2h1v.1h1v.2h.5v-.2h.5v-.8h.5v1h.5v-.6h.5v-.2h.5v.9h.5v-1h.5v.5h.5v.4h.5v-.6h.5v.4h.5v-.9h.5v1.1h.5v-1.1h.5v1.2h.5v-.2h.5v-.7h.5v.8h.5v-.7h.5v-.4h.5v1.1h.5v-.2h.5v-1h.5v1.2h.5v-.1h.5v-.6h.5v-.1h.5v-.1h.5v.9h.5v-1.1h.5v.9h.5V498.7z" fill="#111"/>
<line x1="424.80" y1="498.30" x2="486.60" y2="498.30" stroke="#111" stroke-width="1.0"/>
<path d="M35.8 525.5h.5v-.5h.5v.3h1v.2h1v-.2h.5v.1h.5v-.2h.5v-.1h.5v-.2h.5v.4h.5v-.1h.5v-.3h.5v.6h.5v-.1h.5v-.2h.5v.2h.5v-.2h.5v-.3h.5v.6h1v-.7h.5v.6h.5v-.5h.5v.3h.5v-.2h.5v-.2h.5v.5h.5v-.2h.5v-.2h.5v.2h.5v.1h.5v.3h.5v-.2h.5v-.5h.5v.6h.5v-.1h.5v.1h.5v-.6h.5v.1h.5v.6h.5v-.3h.5v-.3h.5v.5h.5v-.2h1.5v-.4h.5v.3h.5v-.2h.5v.3h.5v-.2h.5v.4h.5v-.1h.5v-.1h1v.1h.5v-.5h.5v.7h.5v-.2h1v-.6h.5v.6h.5v-.4h.5v.4h1v.2h1v-.2h.5v.2h.5v-.1h.5v.1h.5v-.7h.5v.1h.5v.3h1.5v.1h.5v.1h.5v-.1h.5v.1h.5v-.3h.5v.3h.5v-.3h1v.2h.5v.2h.5v-.2h.5v-.2h.5v.4h.5v-.1h.5v-.2h.5v-.2h.5v-.1h.5v.5h.5v-.5h.5v-.2h.5v.7h.5v-.7h.5v.7h.5v-.3h1v-.3h.5v.2h.5v.3h.5v-.3h.5v-.1h.5v.5h.5v-.5h.5v.4h1v-.1h1v.2h.5v-.5h.5v-.1h.5v.6h.5v-.2h.5v-.1h.5v-.1h.5v-.1h.5v.1h.5v-.2h.5v.6h1v-.6h.5v.4h.5v-.1h.5v.2h.5v-.3h.5v.4h.5v-.1h1v-.4h.5v.2h.5v.3h.5v-.5h.5v.4h.5v-.3h.5v.2h.5v-.1h.5v-.3h.5v-.5h1v-.8h1v.8h1v.7h.5v.1h.5v.3h.5v-.2h1v.1h.5v.2h.5v-.7h.5v-.4h1v-.7h1v-1.2h1v1.2h1v.7h1v1.1h.5v-.2h1.5v-.3h1v.5h1v-.2h.5v-.5h.5v.2h.5v.3h.5v.1h.5v-.1h1v-.1h.5v-.3h.5v.3h.5v-.2h.5v-.3h.5v.6h.5v-.2h.5v.3h.5v-.3h.5v.4h.5v-.6h.5v-.4h.5v-.1h.5v-1.5h1v-.9h1.5v.9h.5v-.4h1.5v.8h1v1.4h1.5v-.6h1v-1.6h1v1.6h1v.6h1v.3h.5v.1h.5v.4h2v-.5h.5v.3h1v-1.9h1v-1.7h.5v-2.9h.5v-1.4h1v4.3h.5v-.4h.5v.8h.5v-.5h.5v-6.7h1v-2.8h1.5v2.8h1v-1.8h1v5h1v-.6h1v3.9h1v-.1h.5v-.6h.5v-.1h.5v-4.9h1v-3h1v3h1v.8h1v2.9h.5v1h.5v-3.7h1v-2.5h1.5v2.5h1v.8h1v1.9h1v1.9h.5v-.7h.5v-1h.5v.9h.5v3h1v-.1h.5v.1h.5v.2h.5v-.4h.5v.4h.5v.2h.5v.3h.5v-.7h.5v.1h.5v-.9h.5v.7h1v.6h1v.1h1v-.2h.5v-.3h.5v-.3h.5v-.5h1v-3.3h1.5v3.3h1v.7h.5v.6h.5v.2h.5v.2h.5v-.1h.5v-.2h.5v-.6h1v-1.5h1.5v1.5h1v-.4h.5v.2h.5v-.2h.5v.2h.5v.4h.5v.3h.5v-.3h1v-1.7h1v1.7h.5v-.1h1v.3h.5v-1h1.5v1h.5v-.5h.5v.4h.5v.3h1.5v-.3h.5v-.2h.5v-.4h.5v.2h.5v.2h.5v-.1h.5v-1.5h1.5v1.3h.5v.2h.5v.2h.5v.1h.5v-.5h1v-.9h1v.8h1v-.4h1v.6h.5v.2h1v.1h.5v-.3h.5v-.2h.5v.1h.5v.1h1v.6h.5v.1h.5v.1h1v.1h1v.4h1v.6h1.5v-.3h1.5v.2h.5v-.1h.5v-.1h.5v.3h.5v.1h.5v-.1h1v-.6h.5v.6h1v.1h.5v-.8h.5v.7h.5v-.3h.5v.4h.5v-.6h.5v.3h1v.1h.5v.1h.5v-.3h.5v-.1h.5v-.1h.5V525.5z" fill="#d7262b"/>
<line x1="35.80" y1="525.07" x2="240.40" y2="525.07" stroke="#d7262b" stroke-width="1.0"/>
<path d="M241.6 525.5v-.3h.5v-.2h.5v.5h1v-.3h.5v-.3h.5v.1h.5v.5h.5v-.1h.5v.1h.5v-.3h.5v-.1h.5v.3h.5v.1h.5v-.4h1.5v.3h.5v-.4h1v.1h1v.2h.5v-.4h.5v.6h.5v-.6h.5v.4h.5v-.2h.5v.1h.5v-.1h1v.1h.5v-.3h.5v.6h.5v-.3h.5v-.3h.5v.5h.5v-.2h.5v.3h.5v-.1h1v.1h1v-.5h.5v.3h.5v.1h.5v-.3h.5v.3h.5v-.3h.5v-.2h.5v.2h.5v.2h.5v-.4h.5v.6h.5v-.1h.5v.1h.5v-.5h.5v-.1h.5v.3h.5v.2h.5v-.2h1v.2h.5v-.3h.5v.4h.5v-.4h.5v.3h.5v-.1h.5v.2h.5v-.2h.5v.1h1.5v-.1h.5v-.1h.5v.1h1v.2h.5v-.6h1v.5h.5v-.2h1.5v-.4h1v-.8h1v.8h1v.4h.5v-.3h1v.6h.5v-.4h.5v.1h.5v.2h.5v-.3h.5v.4h.5v-.1h.5v-.1h.5v-.3h1v.1h.5v.1h.5v.2h.5v-.2h1v.2h.5v-.1h1v-.2h.5v.4h1v-.2h.5v-.1h.5v.1h.5v.2h.5v-.2h.5v-.2h1v.4h.5v-.2h.5v.2h.5v-.3h.5v.1h.5v-.4h.5v.6h.5v-.6h.5v.6h.5v-.1h.5v-.3h.5v.2h.5v.2h.5v-.6h.5v.4h.5v-.3h.5v-.1h.5v.6h1v-.2h.5v-.4h.5v.2h.5v.2h.5v.1h.5v-.4h.5v.3h.5v-.3h1v.5h.5v-.3h.5v-.3h.5v.3h.5v.2h.5v-.1h.5v.2h.5v-.3h.5v.2h.5v.1h.5v-.4h.5v.3h.5v.1h.5v-.6h.5v.2h.5v.1h.5v.3h1v-.1h1v.1h.5v-.3h.5v.2h.5v-.1h.5v-.3h.5v.4h1v-.4h.5v.4h.5v-.4h.5v.1h.5v-.2h.5v.2h.5v.4h.5v-.5h.5v.4h1.5v-.1h.5v-.2h.5v.3h.5v-.4h.5v.2h.5v.1h.5v.1h.5v-.2h.5V525.5z" fill="#d7262b"/>
<line x1="241.60" y1="525.07" x2="339.00" y2="525.07" stroke="#d7262b" stroke-width="1.0"/>
<path d="M340.1 525.5v-.5h.5v.3h.5v.2h.5v-.4h.5v.3h1v-.4h.5v.1h.5v.1h.5v-.2h.5v.5h.5v-.5h.5v.4h.5v-.3h.5v.2h.5v-.1h1v.3h1v-.4h.5v-.1h.5v.5h.5v-.6h.5v.3h.5v-.2h.5v-.1h1v.6h.5v-.3h.5v-.3h.5v.4h.5v-.4h.5v.5h1v.1h.5v-.4h.5v.1h.5v-.3h.5v.5h.5v-.1h.5v-.1h.5v.1h.5v.2h.5v-.5h.5v.5h.5v-.5h1v.2h.5v.1h1v.1h.5v.1h.5v-.4h.5v.3h.5v-.4h.5v-.1h1v.6h.5v-.6h.5v.6h1v-.4h.5v-.2h.5v.2h.5v.1h.5v.1h.5v.1h.5v-.1h.5v-.2h.5v.3h1v-.3h1v.2h1v.1h1v-.2h.5v.3h.5v-.1h.5v.1h.5v-.5h1v.1h.5v.1h1v.1h.5v-.1h.5v-.1h.5v.3h.5v-.4h.5v.4h.5v.1h.5v-.5h.5v.4h.5v.1h.5v-.3h.5v.1h.5v.1h.5v-.2h.5v-.2h.5v.4h.5v-.3h.5v.3h.5v-.1h.5v-.2h.5v.4h.5v-.1h.5v.1h1v-.2h.5v.2h1.5v-.2h.5v.2h.5v-.6h.5v.6h.5v-.5h.5v.3h1v.1h.5v-.5h.5v.6h.5v-.1h1v.1h.5v-.3h.5v.2h.5v-.5h.5v.4h.5v.1h.5v-.2h.5v.1h.5v.2h.5v-.2h1v.2h.5v-.3h.5v.3h.5v-.1h.5v-.5h.5v.6h1v-.5h.5v.2h.5v-.2h.5v.1h.5v.3h.5v.1h.5v-.2h.5v-.2h.5v.3h.5v-.3h.5v.4h.5v-.1h.5v-.4h.5v.2h1v-.2h.5v-.1h.5v.4h.5v.1h.5v-.4h.5v.5h.5v-.1h.5v-.2h.5V525.5z" fill="#d7262b"/>
<line x1="340.10" y1="525.07" x2="423.60" y2="525.07" stroke="#d7262b" stroke-width="1.0"/>
<path d="M424.8 525.5v-.8h.5v.6h1v-.4h.5v.4h1.5v-.1h.5v-.1h.5v-.5h.5v.3h.5v.4h.5v-.2h1v-.7h1v-.9h1.5v.9h1v-.1h1v-1.4h1v-1.7h1v.7h.5v-.6h.5v.4h.5v-.7h.5v-1.3h.5v.1h.5v-.3h.5v-2h1v2.3h.5v-4.5h1v-7h1.5v7h.5v-10.2h1v-.1h.5v.5h.5v-.4h.5v-.1h.5v.4h.5v-.4h.5v.5h.5v-.5h.5v.5h.5v-.2h.5v.2h.5v-.4h.5v.3h.5v-.3h.5v8.9h1.5v4.4h1v2.9h.5v.5h.5v-1.5h1v-3.4h1v3.4h1v1.3h.5v.5h.5v.5h.5v.3h.5v.2h.5v-.7h.5v.2h.5v-1.4h1.5v1.8h.5v-.1h.5v-.1h1v.2h.5v.3h.5v.1h.5v-.5h.5v-1.4h.5v.6h1v1.7h1v.6h1v.7h.5v.3h.5v-.1h.5v-.6h.5v.5h.5v-.1h.5v-.2h.5v-.1h1v-.2h1v-.6h1v.6h1v.6h1v-.4h.5v-.3h.5v.3h.5v.3h.5v-.5h.5v.6h.5v-.1h.5v.3h.5v-.4h.5v.4h.5V525.5z" fill="#d7262b"/>
<line x1="424.80" y1="525.07" x2="486.60" y2="525.07" stroke="#d7262b" stroke-width="1.0"/>
<path d="M35.8 552.2h.5v-.5h.5v.5h.5v-.5h.5v.3h.5v-.1h.5v.1h.5v.1h.5v-.1h.5v.1h.5v-.1h.5v-.1h.5v.3h.5v-.1h.5v-.4h.5v-.1h1v.5h.5v.1h.5v-.8h1v-1h1v-.7h1.5v.7h1v1h1v.8h.5v-.4h.5v.1h1v.1h.5v-.2h.5v.1h.5v.3h.5v-.5h1v-.3h1v-.7h1v.7h1v.3h1v.3h1v.2h.5v-.1h.5v-.5h.5v.5h.5v.1h.5v-.2h.5v-.4h1v.1h.5v.4h.5v-.3h.5v-.1h.5v.2h.5v-.3h.5v.6h.5v-.3h.5v.2h.5v-.5h.5v.5h.5v.1h.5v-.5h.5v.3h1.5v.1h.5v-.1h.5v-.2h.5v.1h.5v-.1h.5v.3h1v.1h.5v-.6h.5v.3h.5v.3h.5v-.1h.5v-.4h.5v-.1h.5v.6h.5v-.3h.5v-.1h.5v.3h.5v.1h.5v-.5h.5v.5h.5v-.4h1v.2h.5v.1h.5v.1h.5v-.5h.5v.1h1v.3h.5v.1h.5v-.3h.5v.1h.5v.2h.5v-.3h.5v.1h.5v.1h.5v-.2h.5v.2h.5v.1h.5v-.4h.5v.4h.5v-.2h.5v-.1h1v.1h.5v-.3h.5v.1h1v.3h.5v.1h.5v-.6h1v.2h.5v.4h.5v-.3h.5v-.3h.5v.4h.5v.2h.5v-.3h.5v.2h.5v.1h.5v-.3h1v-.2h.5v.5h.5v-.3h1v-.2h.5v.1h.5v.3h1v.1h.5v-.6h1v-.1h1v-1.1h1v-1.7h1v1.7h1v.9h1v-1.7h1v-1h1v1h1v1.7h1v.8h.5v-.2h.5v-.1h.5v.4h.5v-.1h.5v-.3h1v.4h.5v-.3h1v.2h.5v-.1h.5v.1h.5v-.4h.5v.5h1.5v-.1h.5v.1h.5v-.2h1v-.4h.5v.5h2v-.8h1v-1.5h1v-2.1h1.5v.7h.5v-.8h1.5v2.4h1v1.3h1v.8h1v.1h1.5v-.3h.5v.3h.5v-.1h.5v.1h1v-.3h.5v-.2h.5v.4h1v-.3h.5v.4h.5v-.4h.5v.3h.5v-.9h1v-3h1v-2h1v2h1v1.5h.5v.1h.5v-1.5h1v-4.2h1.5v4.2h1v-1.7h1v-1.4h1v1.4h1v.1h1v-3.7h1.5v-.1h1v-11h1.5v11h1v4.3h.5v-1h1v.4h1v-4.2h1v-4.7h1.5v4.7h1v-1.2h1v2.2h1v4.3h1v-2.5h1v2.5h1v1.7h.5v.3h1v-.5h.5v.1h.5v.7h.5v.1h.5v-1.4h1v1.1h.5v-.3h.5v-.3h.5v.5h.5v.4h.5v.1h.5v-.9h.5v-.1h.5v-2.4h1v-2.7h1v2.7h1v2.5h1.5v.1h.5v.3h.5v-.4h.5v.3h.5v-3.6h1v-1.9h1.5v1.9h1v4.1h.5v-.9h.5v-.3h.5v.3h.5v.2h.5v.3h.5v-1.8h1v-4.5h1v-7.2h1.5v7.2h1v3.8h1v1.6h1v-.1h.5v.8h.5v-.2h1v.1h.5v-.3h.5v.2h.5v.4h.5v-3.6h1v-2.7h1.5v2.7h1v3.1h1v-1h1v1h1v1.4h.5v-.1h.5v.1h.5v-.7h.5v.1h.5v-.6h.5v-2.7h1v-1.4h1v-8.3h1v8.3h1v1.4h1v2.8h.5v.2h.5v-.3h.5v.7h.5v.1h1v.7h1v-.2h1v-.5h1v.5h1v.9h1v.6h.5v-.1h.5v.1h.5v-.3h.5v.2h.5v-.3h.5v.1h.5v.1h1v.2h.5v-.2h.5v-.2h.5v.3h.5v-.1h.5v.1h.5v-.2h.5v.2h1V552.2z" fill="#111"/>
<line x1="35.80" y1="551.84" x2="240.40" y2="551.84" stroke="#111" stroke-width="1.0"/>
<path d="M241.6 552.2h.5v-.3h.5v.2h1v-.1h1v-.1h.5v.2h1v.1h.5v-.2h.5v.2h1v-.3h.5v-.1h.5v.3h.5v-.1h.5v.2h.5v-.1h1.5v-.3h.5v.2h.5v.1h.5v-.2h1v.3h.5v-.1h.5v-.1h.5v-.1h.5v-.1h.5v.1h1v.1h.5v.1h.5v-.1h1v.1h.5v-.3h.5v.1h.5v.1h.5v-.3h.5v.5h.5v-.2h1v-.1h.5v.2h.5v-.3h.5v.4h.5v-.1h1v-.1h.5v-.2h.5v.4h.5v-.3h.5v.1h1v-.3h.5v.2h.5v-.1h1v.2h.5v-.1h.5v.2h1.5v-.1h.5v-.2h.5v.3h1v-.2h.5v.3h.5v-.4h.5v.1h.5v.1h.5v.2h.5v-.2h.5v-.2h.5v.2h.5v-.9h1v-.9h1v-.9h1.5v-.1h1v.6h1v1.7h.5v-.7h1v-1.3h1v-2.4h1v2.4h1v-4.4h1v-2.4h1.5v2.4h1v1.1h.5v1.8h1v2.7h1v1.2h.5v.1h1v-1.2h1v-2.3h1v-2h.5v-1.4h1v-3h1.5v3h1v.4h1v1.8h1v3h1v1.9h.5v-.5h.5v.1h1v.2h1v-.1h.5v.1h.5v-.3h.5v.2h.5v.3h.5v-.2h.5v.1h.5v-.1h1v.2h.5v-.1h1v.1h1v-.3h.5v.3h1v-.4h.5v.1h.5v.1h1v-.2h.5v.2h.5v-.1h1v.3h.5v-.2h.5v-.2h1v-.4h1v-.7h1v.7h1v.4h.5v-.1h.5v.5h.5v-.2h.5v.2h.5v-.1h1v-.3h.5v.3h.5v.1h.5v-.4h.5v.3h.5v-.1h1v-.2h.5v.1h.5v.1h.5v.2h1v-.2h.5v-.2h.5v.2h.5V552.2z" fill="#111"/>
<line x1="241.60" y1="551.84" x2="339.00" y2="551.84" stroke="#111" stroke-width="1.0"/>
<path d="M340.1 552.2v-.6h.5v-.1h1v.7h.5v-.7h1v.6h.5v-.2h.5v.1h.5v-.1h.5v.2h.5v-.5h.5v.4h1v-.3h.5v.3h.5v.2h.5v-.7h1v.3h.5v-.4h.5v.5h1v.2h.5v.1h.5v-.3h.5v-.5h.5v.1h.5v.7h.5v-.2h.5v-.5h.5v.6h.5v-.2h.5v.3h.5v-.4h.5v.1h.5v.1h.5v.1h.5v-.1h1v.2h.5v-.3h.5v.3h.5v-.3h.5v.1h.5v-.4h.5v.5h.5v-.7h1v.4h.5v.3h1v-.3h.5v.1h1v-.3h.5v-.2h.5v.6h1v.1h.5v-.1h.5v-.1h.5v.2h.5v-.5h.5v-.6h1v-.3h1v-1.7h1.5v1.7h1v.3h1v.9h.5v-.3h.5v.5h.5v-.4h.5v-.2h.5v.7h.5v-.5h.5v.3h.5v-.3h1v.4h.5v-.3h.5v-1.2h1v-2.1h1v-2.9h1v-2.8h1v-2.9h1.5v2.9h1v1.4h1v1.9h1v2.6h.5v-2.5h1.5v2.5h1v1.2h1v2.3h.5v-.1h.5v-.6h.5v.6h.5v-.2h.5v.2h1v-.1h.5v.1h.5v.1h.5v-.6h1v-.2h1v-.1h1v-1.1h1.5v1.1h1v.1h1v.7h1v-.1h.5v.2h1v-.2h.5v-.5h.5v.2h.5v.5h.5v-.5h.5v.3h1.5v.1h.5v.1h.5v-.1h.5v-.2h.5v.3h.5v-.4h.5v-.4h.5v.8h.5v-.8h.5v.5h.5v-.3h1.5v.4h1.5v.1h.5v-.3h.5v-.3h.5V552.2z" fill="#111"/>
<line x1="340.10" y1="551.84" x2="423.60" y2="551.84" stroke="#111" stroke-width="1.0"/>
<path d="M424.8 552.2v-.5h.5v-.4h.5v-.1h.5v.7h.5v-1.9h.5v1.4h.5v-.6h.5v1.4h.5v-.2h.5v-1.6h1v-1.6h1v-1.8h1.5v1.8h1v1.6h.5v-.1h.5v-.1h.5v1.5h.5v-1.8h.5v1.3h.5v-1.2h.5v.9h.5v-.4h.5v-.6h.5v-.7h1v1.3h1v-.6h.5v.6h.5v.6h.5v-5h1v-4.3h1v-6.2h1.5v6.2h1v.9h1v3.9h1v1.9h1v.6h.5v-1.9h1v1.9h1v1.5h1v.1h.5v.6h.5v.4h.5v-.9h.5v.5h.5v-.4h.5v1h.5v-.9h1v-.6h1v-1.2h1v1.2h1v.6h1v-.1h1v.4h.5v-1h.5v1h.5v-1.4h.5v2.2h.5v-2h.5v.8h.5v.9h.5v-1h.5v-.8h.5v2.2h.5v-.5h.5v-.6h.5v.4h.5v-.1h.5v.3h.5v-1.3h.5v1.4h.5v-.4h.5v-.3h.5v.6h.5v.4h.5v-1.8h.5v1.3h.5v.1h.5v.4h1v-1.8h.5v.3h.5v.7h.5v.6h.5v-1.1h.5v-.2h.5v1.6h.5v-.8h.5v.1h.5v.7h.5v-.6h.5v.6h.5v-.3h1v-1.9h.5v.5h.5v.3h.5v.3h.5v.7h.5v-.3h.5v.7h.5V552.2z" fill="#111"/>
<line x1="424.80" y1="551.84" x2="486.60" y2="551.84" stroke="#111" stroke-width="1.0"/>
<path d="M35.8 579.0v-.1h.5v-.4h.5v.2h.5v.3h.5v-.4h.5v-.1h.5v.4h1v-.3h.5v.2h.5v.2h1v-.5h.5v.4h1v-.1h.5v.2h.5v-.1h.5v-.1h.5v-.4h1v-1.3h1v-1.1h1.5v1.1h1v1.3h1v.1h.5v.5h.5v-.5h.5v.1h.5v-.1h.5v.3h.5v.2h.5v-.4h.5v-.2h.5v.1h.5v.2h.5v-.1h.5v.2h1v-.3h.5v.4h.5v-.4h.5v.4h.5v-.5h1v.3h1.5v-.1h1v-.1h.5v.5h.5v-.3h.5v.3h1v-.5h.5v.5h.5v-.3h.5v.1h.5v.2h.5v-.2h.5v-.3h.5v.4h.5v-.4h.5v.2h.5v-.1h.5v.2h.5v.2h.5v-.6h.5v.5h.5v-.4h1v.2h.5v-.3h.5v.4h1v-.3h.5v.5h.5v-.1h.5v-.4h.5v.3h1v-.4h.5v.3h.5v.3h1v-.3h.5v-.3h.5v.5h.5v-.4h.5v.2h.5v.2h.5v.1h.5v-.5h.5v-.1h.5v.4h1v-.1h1v-.2h.5v.5h.5v-.1h.5v.1h1v-.4h1v.1h.5v.2h.5v-.5h.5v.6h.5v-.3h.5v-.1h.5v.3h.5v-.3h1v.4h.5v-.1h.5v-.5h1v.3h.5v-.1h.5v.4h.5v-.4h.5v.1h.5v.1h.5v-.4h.5v.6h.5v-.2h1v-.3h.5v-.1h.5v.4h1v-.4h.5v.4h.5v.1h.5v.1h1v-.1h1v-.5h.5v.4h.5v-.2h.5v.1h.5v-1.4h1v-2.3h1v-1h1v1h1v.7h1v-3.4h1v-2.3h1v2.3h1v2.7h1v1.5h1v.9h1v1.5h.5v.1h.5v-.3h.5v.2h.5v-.1h.5v-.4h.5v.6h.5v-.5h.5v.3h.5v-.2h.5v-.1h.5v-.1h.5v.1h.5v.1h1v-.2h.5v.2h.5v.4h.5v-.4h.5v.4h1v-.1h.5v-.9h1v-2h1v-2h.5v-.5h1v-2.6h1v.1h1v3.2h1v3.3h1v1.4h.5v-.4h.5v.1h.5v-.6h1v-1h1v1h1v.5h.5v.1h1v.1h1v-.3h.5v.4h.5v-.1h.5v-.2h.5v-1.2h1v-5.9h1v-2.2h1v2.2h1v5.6h.5v-.1h1v-.1h1v-3.2h1v-3.8h1v3.8h1v-3.6h1v4.9h1v1h1v.7h.5v-.5h.5v-.3h.5v-4.5h1v-7.9h1.5v7.9h1v4.8h1v.4h.5v-2.5h1v-6h1v-4.6h1.5v4.6h1v3h1v1.9h1v3h1v.6h.5v.3h.5v-.3h.5v-.6h.5v-.3h.5v-.4h.5v.9h.5v-.3h.5v.4h.5v-2.4h1v-1.8h1v1.8h1v2.2h.5v.3h.5v.4h.5v.3h.5v-.8h.5v-.8h.5v-.3h.5v-3.8h1v-4.7h1.5v4.7h1v4.4h1v.2h.5v.4h.5v1h1v-.6h.5v-1.1h1v-3.6h1.5v3.6h2v.7h.5v.2h.5v-1.8h1v-2h1v-7.6h1.5v7.6h1v2h1v1h.5v.3h.5v-.2h.5v1.2h.5v.4h.5v-.5h.5v-.3h.5v-.3h.5v.1h.5v.5h.5v.2h.5v-2.3h1v-3h1v-5.6h1v5.6h1v1.2h1v2.8h1v.9h.5v.1h.5v.1h1.5v-.4h.5v-.2h.5v-.4h.5v-3.1h1v-5.8h1v5.8h1v2.9h.5v.3h1v.2h.5v-.6h.5v1h.5v-.5h.5v2.6h.5v.1h.5v-.2h1v-.2h.5v.1h1v-.5h1v.4h.5v.1h1v.1h.5v.3h.5v-.5h.5v.2h1v-.2h.5v.5h.5v-.5h.5v.3h.5v.1h.5v.2h1v-.3h.5v.3h.5v-.1h.5v.1h.5v-.1h.5V579.0z" fill="#d7262b"/>
<line x1="35.80" y1="578.61" x2="240.40" y2="578.61" stroke="#d7262b" stroke-width="1.0"/>
<path d="M241.6 579.0v-.2h1v.1h.5v.1h1v-.1h.5v-.1h.5v.2h1v-.2h1v.1h.5v-.1h.5v.1h.5v.1h.5v-.1h.5v-.1h.5v.1h.5v-.1h.5v.2h1v-.2h.5v.2h1v-.2h.5v.1h1v-.1h1v.1h.5v.1h1v-.1h1.5v.1h.5v-.2h.5v.2h.5v-.1h1v.1h2v-.2h.5v.2h.5v-.1h.5v.1h.5v-.2h.5v.1h.5v.1h.5v-.1h.5v-.1h.5v.1h.5v.1h1.5v-.1h.5v-.1h1v.1h.5v-.1h1v.2h1v-.1h1v.1h.5v-.2h.5v.1h.5v.1h.5v-.2h.5v.1h.5v.1h1.5v-.1h.5v-.1h.5v-.4h1v-1.2h1v-.5h.5v-.5h1v-2.3h1.5v2.3h1v1.2h1v.9h.5v-.8h1v-.5h1v.5h1v.8h.5v-.4h1v-.4h1.5v.4h1v.8h1v.3h1v-.2h.5v.1h1v-.1h.5v.1h.5v-.6h1v-.4h1v-.9h1v.4h.5v-.7h1.5v.7h1v1.1h1v.5h.5v-.1h.5v.1h.5v-.2h.5v.2h.5v-.1h1.5v-.1h.5v.1h1v-.1h.5v.2h.5v-.1h.5v.1h.5v-.1h.5v.1h1.5v-.1h2.5v.1h.5v-.1h.5v-.1h.5v.2h1v-.2h.5v.2h.5v-.1h1v.1h.5v-.2h.5v.1h1v-.1h.5v.2h1v-.1h1v-.1h.5v.1h.5v.1h.5v-.1h1v.1h.5v-.1h1v.1h.5v-.2h.5v.1h.5v.1h.5v-.1h.5v.1h.5v-.1h1v.1h.5v-.1h.5v.1h1v-.1h.5v.1h.5v-.2h.5V579.0z" fill="#d7262b"/>
<line x1="241.60" y1="578.61" x2="339.00" y2="578.61" stroke="#d7262b" stroke-width="1.0"/>
<path d="M340.1 579.0v-.1h1v.1h1.5v-.1h.5v.1h1v-.1h1.5v.1h.5v-.2h.5v.1h.5v.1h.5v-.2h.5v.1h.5v.1h1.5v-.2h.5v.2h.5v-.2h1.5v.1h1v.1h1v-.1h.5v.1h.5v-.2h.5v.2h.5v-.1h3v.1h.5v-.1h1v.1h.5v-.2h.5v.2h.5v-.2h.5v.1h.5v-.1h.5v.1h.5v-.1h.5v.1h.5v.1h.5v-.2h.5v.1h.5v.1h.5v-.1h1v-.1h1v.1h.5v-.1h.5v.2h.5v-.1h1v.1h.5v-.1h1v-.1h.5v.2h2v-.1h1.5v-.1h.5v.1h1.5v.1h1v-.1h.5v.1h.5v-.1h.5v-.1h.5v.1h.5v.1h.5v-.1h.5v-.1h.5v.1h.5v-.3h1v-1.1h1v-.8h1v.8h1v.4h1v-1.2h1v1.2h1v.4h1v.7h1v-.1h.5v.1h.5v-.1h1v.1h.5v-.1h.5v.1h1v-.1h2.5v-.1h.5v.2h.5v-.2h.5v.1h.5v.1h1v-.2h1v.2h.5v-.1h.5v-.1h.5v.1h.5v-.1h.5v.2h.5v-.1h1v-.1h1v.2h.5v-.2h1v.1h.5v-.1h1v.1h.5v.1h.5v-.1h.5v-.1h1v.1h1v.1h1v-.2h.5v.1h.5v.1h.5v-.2h.5v.2h1v-.2h.5v.1h1v-.1h.5v.1h.5v-.1h.5v.1h.5V579.0z" fill="#d7262b"/>
<line x1="340.10" y1="578.61" x2="423.60" y2="578.61" stroke="#d7262b" stroke-width="1.0"/>
<path d="M424.8 579.0v-.6h.5v.5h.5v-.1h.5v-.3h1v.5h.5v-.1h.5v-1h.5v-.3h.5v1.4h.5v-.8h.5v.8h.5v-1.1h.5v.7h.5v.3h.5v-.8h.5v-.5h.5v-1.1h1v-1.2h1.5v1.2h1v.7h.5v.9h.5v-.9h.5v-.1h.5v.5h.5v-3.7h1v-1.5h1v1.5h1v2.2h.5v-6h1v-4.9h1v-2.2h1v-4.9h1v4.9h1v.8h1.5v4.2h1v4.4h1v2.7h1v1.4h1v.8h.5v.5h.5v-.7h.5v.2h1v-1.3h1.5v1.3h.5v-.1h.5v.8h1v-.3h.5v.3h.5v.6h.5v-1h.5v1.1h.5v-.4h.5v-.4h.5v1h.5v-.4h1v.2h.5v.3h.5v-1.5h.5v-.4h.5v.3h.5v.5h1v-.7h1v-1.1h1v1.1h.5v-.1h.5v.8h1v.3h.5v.8h.5v-.9h.5v-.9h.5v1.8h.5v-1.5h.5v1.2h.5v-.7h.5v-.4h.5v.8h.5v-1.3h.5v.8h.5v-.9h1v-1.7h1v1.7h1v1h1v.3h.5v.1h.5v.1h.5v.2h.5v.1h.5v-.2h1v.4h1v-1.4h.5V579.0z" fill="#d7262b"/>
<line x1="424.80" y1="578.61" x2="486.60" y2="578.61" stroke="#d7262b" stroke-width="1.0"/>
<path d="M35.8 605.8v-.1h.5v.1h1v-.4h.5v.4h.5v-.8h.5v.6h.5v.2h.5v-.5h.5v.5h.5v-.7h.5v.5h1v-.4h.5v.5h.5v-.4h.5v.4h.5v-.3h.5v.1h.5v.2h.5v-.2h.5v.3h.5v-.3h.5v.1h.5v-.4h.5v.4h.5v-.1h.5v.1h1v.2h.5v-.2h.5v.1h.5v-.5h.5v.6h.5v-.6h.5v.6h.5v-.1h.5v.1h.5v-.3h.5v.2h.5v.1h.5v-.3h.5v.2h.5v.1h.5v-.5h.5v.4h.5v-.4h.5v.3h.5v-.5h1.5v.7h.5v-.7h.5v.1h.5v.5h.5v-.5h.5v.1h.5v.3h.5v.1h.5v-.5h.5v.4h.5v-.5h1v.5h.5v-.3h.5v-.1h.5v.5h.5v-.2h.5v-.4h.5v.2h.5v-.1h.5v.5h.5v.1h.5v-.4h.5v.2h.5v-.2h.5v.3h.5v-.1h.5v-.3h.5v.3h.5v-.2h.5v.4h.5v-.3h.5v-.4h.5v.1h.5v.3h1v.2h.5v-.1h.5v.1h.5v-.4h.5v.1h.5v-.2h.5v.5h.5v-.1h.5v-.2h.5v-.3h.5v.5h.5v.1h.5v-.3h.5v.3h1v-.1h.5v-.5h.5v-.1h.5v.7h1v-.1h.5v.1h.5v-.4h.5v.4h1v-.3h.5v-.2h.5v.5h.5v-.3h1.5v-.1h.5v.5h.5v-.3h.5v-.4h.5v.6h1.5v-.5h.5v.6h.5v-.8h.5v.6h.5v-.1h.5v.1h.5v.2h.5v-.1h.5v-.1h.5v-.1h.5v-.4h.5v.4h.5v-.4h1v.7h.5v-.7h.5v.7h.5v-.4h.5v-.3h.5v.7h.5v-.2h.5v.2h.5v-.7h.5v.4h.5v-.3h1v-.2h1v-.7h1.5v.7h1v.2h1.5v-.5h1v-.4h1.5v.4h1v.5h1v.6h.5v-.1h.5v-.1h.5v-.6h.5v.8h.5v-.4h.5v-.3h.5v.5h.5v-.1h.5v.1h.5v-.3h.5v.1h.5v.2h.5v-.1h.5v.2h.5v-.3h1v-.3h1v-.8h1.5v.8h1v-.1h1v-1.2h1v-.8h1v.8h.5v-.5h1.5v1h1v1h1v.1h1v-.3h.5v.5h.5v.2h1.5v-.7h.5v.4h.5v.3h.5v-.8h.5v.2h.5v-.1h.5v.3h.5v-.1h.5v.5h.5v-.6h1v-1.6h1v-2.1h1v-2.7h1v2.7h1v1.4h.5v-.4h.5v-1.7h1v-5.7h1v5.7h1v2.8h.5v-2.1h1v-1.7h1v1.7h1.5v-3.7h1.5v3.7h.5v-4.9h1v-8.5h1.5v8.5h1v.9h.5v-9.4h1v9.4h.5v-1.5h1v-4.7h1.5v4.7h1v4.1h.5v-.3h1v1.3h.5v-3h1v-2.5h1v2.5h1v3.5h.5v-1.8h1.5v1.8h1v.9h.5v-.7h1.5v.6h.5v-.2h.5v.2h.5v-.6h1v-2.6h1v-7.5h1v7.5h1v-1.5h1.5v2.8h1v2.4h.5v-1.4h1v-1.7h1v1.6h1v-3.3h1.5v3.3h1v2h.5v-.4h.5v.1h.5v-.1h.5v-4.4h1v-3.1h1v-8.1h1v8.1h1v-5.3h1.5v6.3h1v4.2h1v4.7h.5v-.3h.5v.7h.5v-.1h.5v-2.9h.5v-.2h.5v-2.5h1v-7.9h1v-3.4h1v3.4h1v7.9h1v.7h.5v1.5h1.5v.3h.5v.3h.5v-1.5h1v-4.8h1v4.8h1v1.3h.5v-5.8h1v-6.1h1v6.1h1v5.8h.5v-.5h.5v-.6h.5v1h.5v.8h.5v.2h.5v.1h.5v.6h.5v1h.5v.2h1.5v-.4h1v-.3h1v.3h1v.4h.5v-.3h.5v.3h1v.3h1v-.5h.5v.4h.5v.1h1.5v-.1h.5v-.1h.5v-.1h.5v.3h.5v-.6h.5v.4h.5v.1h.5V605.8z" fill="#111"/>
<line x1="35.80" y1="605.38" x2="240.40" y2="605.38" stroke="#111" stroke-width="1.0"/>
<path d="M241.6 605.8v-.1h.5v.1h.5v-.2h.5v.1h.5v-.1h.5v.1h1v-.1h.5v.2h1v-.1h.5v-.1h.5v.1h1v.1h.5v-.2h.5v.2h.5v-.1h1.5v-.1h.5v.1h.5v.1h1v-.2h.5v.1h1v.1h1.5v-.1h1v-.1h1v.2h.5v-.1h.5v-.1h1v.2h.5v-.1h1v-.1h.5v.1h.5v.1h.5v-.2h.5v.2h1v-.2h.5v.1h.5v.1h.5v-.1h.5v.1h2v-.2h.5v.2h.5v-.1h.5v.1h1v-.1h1v.1h.5v-.1h2.5v.1h.5v-.1h.5v.1h1v-.1h2v-.1h1v-.3h1v-.5h.5v-.1h1v-.4h1.5v.4h1v.8h1v.2h.5v-1.9h1v-1.9h1v-4.3h1v3.2h1.5v1.3h.5v-3.5h1.5v2.2h1.5v2.1h1v1.8h1v1h.5v-2h1v-2.2h1v-3.3h1.5v2.9h.5v-4.4h1v4.4h1v.3h.5v-2.5h1.5v2.5h1v2h1v2.3h.5v-.1h1v.1h.5v.1h1v-.1h.5v.1h.5v-.2h.5v.2h.5v-.2h.5v.2h.5v-.1h.5v.1h.5v-.2h.5v.1h1v-.1h.5v.1h.5v-.1h.5v.2h.5v-.1h.5v.1h.5v-.2h.5v.2h.5v-.1h1.5v-.1h.5v.1h1.5v.1h1v-.1h.5v-.1h1v.1h2.5v-.1h.5v.1h.5v-.1h1v.1h.5v-.1h.5v.1h.5v.1h1v-.2h1v.2h.5v-.1h2.5v.1h.5v-.1h.5v.1h.5v-.2h.5V605.8z" fill="#111"/>
<line x1="241.60" y1="605.38" x2="339.00" y2="605.38" stroke="#111" stroke-width="1.0"/>
<path d="M340.1 605.8v-.4h1.5v-.3h1v-.8h1.5v.8h1v-.3h.5v-.2h.5v.2h2v-.2h.5v.1h.5v-.2h1v.1h.5v.2h1.5v.2h.5v-.7h1.5v.7h1v.3h.5v-.2h.5v-.1h.5v-.3h1v.3h1v.2h.5v-.1h.5v-.5h1v.2h.5v-.2h.5v.2h.5v-.1h.5v.3h.5v-.2h1v-1h1.5v.7h1v.1h.5v.3h.5v.1h.5v.1h1v-.2h1v.1h.5v-.1h.5v.2h.5v-.6h1v-.7h1.5v.7h1v.6h1v.3h.5v.3h.5v.1h.5v-.4h.5v-.2h1v-.1h.5v.6h.5v.1h.5v-.4h.5v.1h.5v-.4h.5v.2h.5v.1h.5v-.1h1v.1h.5v-3h1v-1.2h1v-4h1v2.9h1v-1.5h1v1.5h1v2.8h1v-2.3h1v2.3h1v1.1h1v1.3h.5v.2h.5v.1h1v-.4h.5v-.1h.5v.6h.5v-.1h.5v-.5h.5v.7h.5v-.4h.5v.4h.5v-.1h.5v-.5h.5v.4h.5v.1h1.5v-.6h.5v.6h.5v-.4h.5v.2h.5v.3h.5v-.1h.5v.1h.5v-.3h.5v.3h.5v-.8h.5v.2h.5v.5h1v-.2h.5v.3h.5v-.4h.5v.3h.5v.1h.5v-.2h.5v-.1h.5v-.5h.5v.8h.5v-.6h1v.5h.5v-.6h.5v.6h1.5v-.6h.5v.7h.5v-.8h.5v.6h1.5v.2h.5v-.3h.5v.3h.5v-.6h.5v.3h.5V605.8z" fill="#111"/>
<line x1="340.10" y1="605.38" x2="423.60" y2="605.38" stroke="#111" stroke-width="1.0"/>
<path d="M424.8 605.8v-.9h.5v.8h.5v-.4h.5v.1h.5v.1h.5v.3h.5v-.9h.5v.9h.5v-.1h.5v-.8h.5v.4h.5v.2h.5v.2h.5v-.3h.5v.1h.5v.3h.5v-.6h.5v.5h.5v-.3h.5v-.6h.5v.2h.5v.7h.5v.1h.5v-.4h.5v-.4h.5v.6h.5v-.1h.5v-.1h.5v.3h.5v-.8h.5v.8h.5v-.1h1v-.2h.5v-.5h.5v.4h.5v.5h.5v-.5h.5v-.1h.5v.3h.5v.3h.5v-.1h1v-.5h.5v.5h1v-.3h.5v.3h1v-.2h1v.2h.5v-.4h.5v-.2h.5v.4h.5v-.4h.5v.7h.5v-.1h.5v.1h1v-.6h.5v.6h.5v-.9h.5v.2h1v-.1h.5v.6h.5v-.1h.5v-.1h.5v.3h.5v-.4h.5v-.2h.5v.1h.5v.3h.5v.2h.5v-.4h.5v.3h.5v-.1h.5v-.2h.5v.2h.5v.3h.5v-.3h.5v.1h.5v-.4h.5v.5h1v-.3h.5v-.1h.5v-.2h.5v.7h.5v-.2h.5v-.5h.5v.3h.5v.3h.5v-.4h.5v.4h.5v-.6h.5v.2h.5v.3h.5v-.6h.5v.6h.5v-.2h.5v-.2h.5v-.1h.5v.7h.5v-.8h.5v.8h.5v-.1h.5v-.8h.5v.8h.5v-.4h.5v.2h.5v-.1h.5v-.1h.5v-.2h.5v.3h.5v-.4h.5v.8h1v-.9h.5v.6h.5v-.2h.5v.5h.5v-.8h.5V605.8z" fill="#111"/>
<line x1="424.80" y1="605.38" x2="486.60" y2="605.38" stroke="#111" stroke-width="1.0"/>
<path d="M35.8 632.5v-.5h.5v.5h1v-.7h.5v.5h.5v-.4h.5v.6h1v-.1h.5v-.3h.5v.2h.5v-.1h.5v.1h.5v-.2h.5v.4h1.5v-.6h.5v.6h.5v-.4h.5v.4h.5v-.7h.5v.4h.5v-.1h.5v-.3h.5v.3h.5v-.1h1.5v.2h.5v.3h.5v-.3h.5v-.4h.5v.3h.5v-.2h.5v.5h.5v-.1h.5v-.3h.5v.2h.5v-.2h1v.4h1v-.1h.5v-.2h.5v-.1h.5v.3h.5v-.4h.5v.6h.5v-.2h.5v.2h.5v-.5h.5v.2h.5v.2h.5v-.2h.5v.1h.5v.1h.5v-.5h.5v.5h.5v-.4h.5v.2h.5v-.4h.5v.3h.5v.2h.5v-.3h.5v.1h.5v-.1h.5v.4h.5v-.5h.5v.3h1v-.1h.5v-.1h.5v.5h.5v-.2h.5v-.5h.5v.4h.5v.2h.5v-.3h.5v.3h.5v.1h.5v-.4h.5v-.3h1v.7h1v-.3h.5v.2h.5v-.6h1v.3h1v.4h.5v-.2h.5v-.4h.5v-.1h.5v.4h.5v-.3h.5v.6h.5v-.1h.5v-.4h.5v.2h.5v-.3h.5v.2h1v.3h1.5v-.3h.5v.4h.5v-.3h.5v-.1h.5v.1h.5v.2h.5v-.5h.5v.5h.5v-.6h.5v.1h.5v.5h.5v-.3h.5v.1h1.5v-.2h.5v.4h1v-.4h1v.4h.5v-.3h.5v.2h.5v.2h.5v-.4h.5v-.3h.5v.6h.5v-.6h1v.4h.5v-.2h.5v-.2h.5v.3h1v.3h.5v-.1h.5v-.6h.5v.3h1v.5h.5v-.3h.5v-.3h.5v.1h1.5v-.5h1.5v.5h1.5v.3h1v-.4h1v-.4h1.5v.3h.5v.1h.5v.4h1v-.2h.5v.2h.5v-.5h.5v.6h.5v-.2h.5v-.3h.5v.3h.5v-.4h.5v-.1h1v.6h.5v-.5h.5v.4h.5v-.3h.5v-.1h1.5v.5h1.5v.2h.5v-.3h.5v-.2h1.5v-.5h1v-.5h1.5v.5h1v.3h.5v.2h.5v-.2h1v.6h.5v.1h.5v-.1h1v-.3h.5v-.4h.5v.7h.5v-.3h.5v.1h.5v.1h.5v-.1h.5v.2h.5v-.7h.5v.2h.5v.6h.5v-.7h.5v.6h1v-.1h.5v-.1h.5v.1h.5v-.6h.5v.1h.5v-1.1h.5v-.1h.5v-.4h1v-.3h.5v.3h.5v-.5h.5v.3h.5v.3h.5v.2h.5v-.3h.5v.3h.5v-.1h.5v-.8h.5v.9h.5v-.1h.5v.3h.5v.3h.5v-.7h.5v.2h.5v-.1h.5v.2h.5v.3h.5v-.1h.5v-.1h.5v-.3h.5v-.4h.5v.7h.5v.2h.5v.4h.5v-.2h.5v.2h1v-.2h.5v-.1h.5v.2h.5v-.9h1v-1.3h1.5v1.3h.5v-.2h.5v.1h.5v.1h2v-.8h.5v.6h.5v.5h.5v-.3h.5v.2h.5v.1h.5v.1h.5v-.1h.5v.4h.5v-.3h.5v-.4h.5v.5h1v-.4h.5v.4h1.5v.1h.5v-.2h1v-.5h.5v-.2h.5v-.3h.5v.5h.5v-.1h.5v.5h.5v-1.1h1.5v1.1h1v.2h.5v-.5h.5v-.2h.5v.2h.5v-.5h.5v.2h.5v.1h.5v.3h.5v.2h.5v-.3h.5v-.2h.5v.2h.5v-.2h.5v.5h.5v.1h.5v-.1h.5v.2h.5v.3h.5v-1.3h1v-1.3h1v1.3h1v1.3h.5v-.5h.5v-.1h.5v-.1h.5v.1h.5v-.3h1v.3h.5v.1h1v-.1h.5v-.1h.5v-.3h1v-.2h.5v-.3h.5v.1h.5v.2h.5v-.1h.5v.4h.5v-.2h.5v-.5h1.5v.3h.5v-.1h.5v.8h.5v.3h.5v.2h.5v-.2h.5v-.2h.5v.1h.5v-.6h.5v.1h.5v.3h1v.2h1.5v.3h.5v.1h.5v-.3h.5v-.1h.5v.3h1v-.2h.5v.2h.5v.1h.5v-.2h.5v1h.5v.3h.5v-.2h.5v.1h.5v.3h.5v.1h.5v-.1h.5v-.2h.5v.3h.5v-.2h.5v-.2h.5v.4h1v-.1h.5v-.4h.5v.4h.5v-.7h.5v.3h.5v.2h.5v.2h.5v-.7h.5v.1h.5v.7h.5v-.2h.5v.2h.5v-.4h.5v.4h.5v-.3h.5v.1h.5V632.5z" fill="#d7262b"/>
<line x1="35.80" y1="632.15" x2="240.40" y2="632.15" stroke="#d7262b" stroke-width="1.0"/>
<path d="M241.6 632.5h1v-.1h.5v-.1h.5v.2h1v-.2h.5v.2h.5v-.2h.5v.1h.5v.1h.5v-.1h.5v-.1h.5v.1h.5v-.1h.5v.2h.5v-.1h.5v.1h.5v-.2h.5v.2h.5v-.2h.5v.1h.5v-.1h1v.1h.5v-.1h.5v.1h1.5v-.1h.5v.2h.5v-.1h.5v.1h1.5v-.1h.5v.1h2.5v-.1h1v.1h.5v-.1h1v.1h1v-.2h.5v.1h.5v.1h.5v-.1h1v-.1h.5v.2h1v-.2h.5v.1h1v-.1h.5v.1h1.5v.1h.5v-.2h.5v.1h1v-.1h.5v.2h1v-.2h.5v.1h.5v.1h.5v-.1h1v-.1h.5v.1h1v.1h.5v-.1h.5v-.1h.5v-.5h.5v-.2h.5v-.5h1v.2h1v.1h.5v.3h.5v.1h.5v-.1h.5v.1h.5v-.1h.5v-.2h1v-.3h.5v-.1h.5v.4h.5v.1h.5v.2h.5v-.1h.5v.1h.5v-.1h.5v-.3h.5v.3h.5v-.1h.5v.2h.5v-.1h1v.1h.5v-.1h1v.2h1v-.1h1.5v-.1h.5v-.2h.5v.1h.5v-.1h.5v-.1h.5v.1h1v.1h.5v.2h.5v-.1h.5v.1h1v.6h.5v-.1h.5v.2h.5v-.1h.5v-.1h1v.2h.5v-.2h2v.2h.5v-.1h1.5v.1h.5v-.1h.5v.1h1v-.2h.5v.2h.5v-.1h.5v.1h1.5v-.1h.5v-.1h.5v.2h.5v-.2h.5v.1h2v-.1h1v.1h1v-.1h.5v.2h.5v-.2h.5v.2h1v-.2h.5v.2h.5v-.2h.5v.1h1v.1h1v-.2h.5v.1h.5v-.1h.5v.2h.5v-.1h3v.1h.5v-.1h2v.1h.5v-.1h.5V632.5z" fill="#d7262b"/>
<line x1="241.60" y1="632.15" x2="339.00" y2="632.15" stroke="#d7262b" stroke-width="1.0"/>
<path d="M340.1 632.5h1v-.3h.5v.2h.5v-.3h.5v.2h1v.1h.5v.1h.5v-.5h.5v.5h.5v-.1h.5v-.2h.5v.3h.5v-.4h.5v.3h1v.1h.5v-.1h.5v-.1h.5v-.3h.5v.2h1v.2h.5v-.3h.5v.3h.5v.1h1v-.2h.5v.2h.5v-.4h1v.4h.5v-.4h.5v-.1h.5v.5h.5v-.2h.5v-.1h.5v.3h.5v-.1h.5v-.2h.5v-.1h.5v.3h1v.1h.5v-.3h.5v.3h.5v-.4h.5v.1h.5v.1h.5v.2h.5v-.3h1v.3h1.5v-.2h.5v-.1h.5v.1h.5v.1h.5v-.1h.5v.1h.5v-.1h.5v-.1h1v-.1h.5v.3h.5v.1h.5v-.2h.5v.2h.5v-.3h.5v.1h1v.2h.5v-.2h.5v-.2h.5v.2h.5v.1h.5v.1h.5v-.1h1.5v-.3h.5v.4h.5v-.1h.5v-.3h.5v.4h1v-.1h.5v-.1h.5v-.1h.5v.3h.5v-.3h1v-.2h.5v.4h1v-.2h.5v.2h.5v.1h.5v-.1h.5v.1h1v-.1h.5v.1h1v-.2h.5v-.2h1v.2h.5v-.1h.5v.3h.5v-.1h1v-.1h.5v-.1h.5v-.1h.5v.1h.5v-.2h.5v.5h.5v-.3h.5v.1h.5v.2h.5v-.2h.5v-.1h.5v.2h.5v-.1h.5v.1h.5v.1h.5v-.1h.5v.1h.5v-.1h.5v-.1h.5v-.2h.5v.1h.5v.3h.5v-.1h.5v.1h.5v-.1h.5v.1h.5v-.1h.5v.1h.5v-.2h.5v-.1h.5v.1h.5v-.1h1v-.1h.5v.4h.5v-.3h.5v.2h.5v-.2h.5v-.1h.5v-.1h.5v.1h1.5v.1h.5v.3h1v-.1h.5v.1h.5v-.2h.5v-.2h.5v-.1h.5v.3h.5v-.1h.5V632.5z" fill="#d7262b"/>
<line x1="340.10" y1="632.15" x2="423.60" y2="632.15" stroke="#d7262b" stroke-width="1.0"/>
<path d="M424.8 632.5v-.2h.5v-.5h.5v.4h1.5v.2h.5v-.9h.5v.4h.5v-.1h.5v.4h.5v.2h.5v-.3h.5v.2h.5v-.3h1v-.2h.5v.4h.5v-.6h.5v.7h.5v.2h.5v-.5h.5v.3h.5v-.1h.5v-.8h.5v.5h.5v-.2h.5v.5h.5v.1h.5v-1h.5v1.1h.5v-.6h.5v.4h.5v.2h.5v-.8h.5v.9h.5v-.6h.5v.1h.5v-.9h1v-.6h1.5v.6h1v.9h1v-.5h.5v.1h.5v.3h.5v-.1h1v-.8h1v.8h1v-.5h.5v.8h.5v-.1h.5v-.5h1v-.2h.5v1.1h.5v-.4h.5v.1h.5v.2h.5v-.2h.5v.3h.5v-.8h.5v-.4h.5v1.2h1v.1h1v-.7h.5v.6h1v-.1h.5v-.2h.5v.3h.5v-1.2h.5v.8h.5v.3h.5v-.1h.5v.3h.5v-.4h.5v.4h.5v-.4h.5v.3h1v-1.1h.5v.4h.5v-.1h.5v.3h.5v.3h1v.1h.5v-.3h.5v.5h.5v-.6h.5v.5h.5v-.6h.5v.1h.5v-.3h.5v.7h1v-.6h.5v.5h.5v-.1h.5v.1h.5v-.1h.5v.1h.5v-.8h.5v.7h.5v-.4h.5v-.1h.5v-.2h.5v1.1h.5v-.3h.5v.3h.5v-.1h.5v-.3h1v.1h.5v-.5h.5V632.5z" fill="#d7262b"/>
<line x1="424.80" y1="632.15" x2="486.60" y2="632.15" stroke="#d7262b" stroke-width="1.0"/>
<line x1="35.80" y1="257.37" x2="240.40" y2="257.37" stroke="#777" stroke-width="0.8" stroke-dasharray="1.5 1.8 0.8 2.2"/>
<line x1="241.60" y1="257.37" x2="339.00" y2="257.37" stroke="#777" stroke-width="0.8" stroke-dasharray="1.5 1.8 0.8 2.2"/>
<line x1="340.10" y1="257.37" x2="423.60" y2="257.37" stroke="#777" stroke-width="0.8" stroke-dasharray="1.5 1.8 0.8 2.2"/>
<line x1="424.80" y1="257.37" x2="486.60" y2="257.37" stroke="#777" stroke-width="0.8" stroke-dasharray="1.5 1.8 0.8 2.2"/>
<rect x="35.2" y="231.0" width="452.0" height="401.5" fill="none" stroke="#000" stroke-width="1.3"/>
<line x1="241.00" y1="231.00" x2="241.00" y2="632.50" stroke="#000" stroke-width="1.3"/>
<line x1="339.50" y1="231.00" x2="339.50" y2="632.50" stroke="#000" stroke-width="1.3"/>
<line x1="424.20" y1="231.00" x2="424.20" y2="632.50" stroke="#000" stroke-width="1.3"/>
<text x="220.80" y="223.88" font-size="8" font-weight="bold" fill="#000" stroke="#000" stroke-width="0.28">10 kb</text>
<line x1="222.80" y1="227.70" x2="238.50" y2="227.70" stroke="#000" stroke-width="1.4"/>
<text x="319.70" y="223.88" font-size="8" font-weight="bold" fill="#000" stroke="#000" stroke-width="0.28">10 kb</text>
<line x1="321.50" y1="227.70" x2="337.40" y2="227.70" stroke="#000" stroke-width="1.4"/>
<text x="402.80" y="223.88" font-size="8" font-weight="bold" fill="#000" stroke="#000" stroke-width="0.28">10 kb</text>
<line x1="403.40" y1="227.70" x2="421.50" y2="227.70" stroke="#000" stroke-width="1.4"/>
<text x="464.30" y="223.88" font-size="8" font-weight="bold" fill="#000" stroke="#000" stroke-width="0.28">5 kb</text>
<line x1="458.80" y1="227.70" x2="485.40" y2="227.70" stroke="#000" stroke-width="1.4"/>
<text x="38.00" y="240.04" font-size="7.6" font-style="italic" fill="#333" stroke="#333" stroke-width="0.28">3.0</text>
<text x="38.00" y="266.81" font-size="7.6" font-style="italic" fill="#333" stroke="#333" stroke-width="0.28">3.0</text>
<text x="38.00" y="293.58" font-size="7.6" font-style="italic" fill="#333" stroke="#333" stroke-width="0.28">3.0</text>
<text x="38.00" y="320.35" font-size="7.6" font-style="italic" fill="#333" stroke="#333" stroke-width="0.28">2.0</text>
<text x="38.00" y="347.12" font-size="7.6" font-style="italic" fill="#333" stroke="#333" stroke-width="0.28">2.0</text>
<text x="38.00" y="373.89" font-size="7.6" font-style="italic" fill="#333" stroke="#333" stroke-width="0.28">5.0</text>
<text x="38.00" y="400.66" font-size="7.6" font-style="italic" fill="#333" stroke="#333" stroke-width="0.28">5.0</text>
<text x="38.00" y="427.43" font-size="7.6" font-style="italic" fill="#333" stroke="#333" stroke-width="0.28">6.0</text>
<text x="38.00" y="454.20" font-size="7.6" font-style="italic" fill="#333" stroke="#333" stroke-width="0.28">6.0</text>
<text x="38.00" y="480.97" font-size="7.6" font-style="italic" fill="#333" stroke="#333" stroke-width="0.28">5.0</text>
<text x="38.00" y="507.74" font-size="7.6" font-style="italic" fill="#333" stroke="#333" stroke-width="0.28">5.0</text>
<text x="38.00" y="534.51" font-size="7.6" font-style="italic" fill="#333" stroke="#333" stroke-width="0.28">5.0</text>
<text x="38.00" y="561.28" font-size="7.6" font-style="italic" fill="#333" stroke="#333" stroke-width="0.28">5.0</text>
<text x="38.00" y="588.05" font-size="7.6" font-style="italic" fill="#333" stroke="#333" stroke-width="0.28">5.0</text>
<text x="38.00" y="614.82" font-size="7.6" font-style="italic" fill="#333" stroke="#333" stroke-width="0.28">5.0</text>
<text transform="translate(31.34,244.38) rotate(-90)" font-size="7.6" text-anchor="middle" fill="#231f20" stroke="#231f20" stroke-width="0.28">Input</text>
<text transform="translate(19.01,284.54) rotate(-90)" font-size="7.8" text-anchor="middle" fill="#231f20" stroke="#231f20" stroke-width="0.28">NPM1c-Ab</text>
<line x1="22.30" y1="260.77" x2="22.30" y2="309.31" stroke="#555" stroke-width="0.9"/>
<text transform="translate(31.34,271.15) rotate(-90)" font-size="7.6" text-anchor="middle" fill="#231f20" stroke="#231f20" stroke-width="0.28">DMSO</text>
<text transform="translate(31.34,297.92) rotate(-90)" font-size="7.6" text-anchor="middle" fill="#d7262b" stroke="#d7262b" stroke-width="0.28">VTP</text>
<text transform="translate(19.01,338.08) rotate(-90)" font-size="7.8" text-anchor="middle" fill="#231f20" stroke="#231f20" stroke-width="0.28">NPM1-Ab</text>
<line x1="22.30" y1="314.31" x2="22.30" y2="362.85" stroke="#555" stroke-width="0.9"/>
<text transform="translate(31.34,324.69) rotate(-90)" font-size="7.6" text-anchor="middle" fill="#231f20" stroke="#231f20" stroke-width="0.28">DMSO</text>
<text transform="translate(31.34,351.46) rotate(-90)" font-size="7.6" text-anchor="middle" fill="#d7262b" stroke="#d7262b" stroke-width="0.28">VTP</text>
<text transform="translate(19.01,391.62) rotate(-90)" font-size="7.8" text-anchor="middle" fill="#231f20" stroke="#231f20" stroke-width="0.28">CRM1</text>
<line x1="22.30" y1="367.85" x2="22.30" y2="416.39" stroke="#555" stroke-width="0.9"/>
<text transform="translate(31.34,378.24) rotate(-90)" font-size="7.6" text-anchor="middle" fill="#231f20" stroke="#231f20" stroke-width="0.28">DMSO</text>
<text transform="translate(31.34,405.00) rotate(-90)" font-size="7.6" text-anchor="middle" fill="#d7262b" stroke="#d7262b" stroke-width="0.28">VTP</text>
<text transform="translate(19.01,445.16) rotate(-90)" font-size="7.8" text-anchor="middle" fill="#231f20" stroke="#231f20" stroke-width="0.28">Pol II</text>
<line x1="22.30" y1="421.39" x2="22.30" y2="469.93" stroke="#555" stroke-width="0.9"/>
<text transform="translate(31.34,431.77) rotate(-90)" font-size="7.6" text-anchor="middle" fill="#231f20" stroke="#231f20" stroke-width="0.28">DMSO</text>
<text transform="translate(31.34,458.54) rotate(-90)" font-size="7.6" text-anchor="middle" fill="#d7262b" stroke="#d7262b" stroke-width="0.28">VTP</text>
<text transform="translate(19.01,498.70) rotate(-90)" font-size="7.8" text-anchor="middle" fill="#231f20" stroke="#231f20" stroke-width="0.28">DOT1L</text>
<line x1="22.30" y1="474.93" x2="22.30" y2="523.47" stroke="#555" stroke-width="0.9"/>
<text transform="translate(31.34,485.31) rotate(-90)" font-size="7.6" text-anchor="middle" fill="#231f20" stroke="#231f20" stroke-width="0.28">DMSO</text>
<text transform="translate(31.34,512.09) rotate(-90)" font-size="7.6" text-anchor="middle" fill="#d7262b" stroke="#d7262b" stroke-width="0.28">VTP</text>
<text transform="translate(19.01,552.24) rotate(-90)" font-size="7.8" text-anchor="middle" fill="#231f20" stroke="#231f20" stroke-width="0.28">MLL1</text>
<line x1="22.30" y1="528.47" x2="22.30" y2="577.01" stroke="#555" stroke-width="0.9"/>
<text transform="translate(31.34,538.86) rotate(-90)" font-size="7.6" text-anchor="middle" fill="#231f20" stroke="#231f20" stroke-width="0.28">DMSO</text>
<text transform="translate(31.34,565.62) rotate(-90)" font-size="7.6" text-anchor="middle" fill="#d7262b" stroke="#d7262b" stroke-width="0.28">VTP</text>
<text transform="translate(19.01,605.78) rotate(-90)" font-size="7.8" text-anchor="middle" fill="#231f20" stroke="#231f20" stroke-width="0.28">Menin</text>
<line x1="22.30" y1="582.01" x2="22.30" y2="630.55" stroke="#555" stroke-width="0.9"/>
<text transform="translate(31.34,592.39) rotate(-90)" font-size="7.6" text-anchor="middle" fill="#231f20" stroke="#231f20" stroke-width="0.28">DMSO</text>
<text transform="translate(31.34,619.16) rotate(-90)" font-size="7.6" text-anchor="middle" fill="#d7262b" stroke="#d7262b" stroke-width="0.28">VTP</text>
<line x1="40.00" y1="642.70" x2="45.50" y2="642.70" stroke="#2b3a8f" stroke-width="0.8"/>
<rect x="40.00" y="639.70" width="1.50" height="6.00" fill="#2b3a8f"/>
<rect x="42.50" y="640.70" width="3.00" height="4.00" fill="#2b3a8f"/>
<line x1="49.00" y1="642.70" x2="55.50" y2="642.70" stroke="#2b3a8f" stroke-width="0.8"/>
<rect x="49.00" y="640.70" width="1.50" height="4.00" fill="#2b3a8f"/>
<rect x="52.00" y="639.70" width="3.50" height="6.00" fill="#2b3a8f"/>
<line x1="61.00" y1="642.70" x2="100.00" y2="642.70" stroke="#2b3a8f" stroke-width="0.8"/>
<rect x="61.00" y="640.70" width="2.00" height="4.00" fill="#2b3a8f"/>
<rect x="64.50" y="639.70" width="2.50" height="6.00" fill="#2b3a8f"/>
<rect x="81.00" y="641.20" width="1.00" height="3.00" fill="#2b3a8f"/>
<rect x="87.00" y="641.20" width="1.00" height="3.00" fill="#2b3a8f"/>
<rect x="91.50" y="640.20" width="3.00" height="5.00" fill="#2b3a8f"/>
<rect x="98.00" y="639.70" width="2.00" height="6.00" fill="#2b3a8f"/>
<path d="M71.2,641.7 L72.4,642.7 L71.2,643.7" fill="none" stroke="#2b3a8f" stroke-width="0.5"/>
<path d="M75.2,641.7 L76.4,642.7 L75.2,643.7" fill="none" stroke="#2b3a8f" stroke-width="0.5"/>
<line x1="113.00" y1="642.70" x2="141.00" y2="642.70" stroke="#2b3a8f" stroke-width="0.8"/>
<rect x="114.50" y="639.70" width="1.50" height="6.00" fill="#2b3a8f"/>
<rect x="117.50" y="640.20" width="1.00" height="5.00" fill="#2b3a8f"/>
<rect x="119.50" y="640.70" width="1.50" height="4.00" fill="#2b3a8f"/>
<rect x="123.50" y="639.70" width="1.50" height="6.00" fill="#2b3a8f"/>
<rect x="126.50" y="640.20" width="1.00" height="5.00" fill="#2b3a8f"/>
<rect x="129.50" y="640.70" width="1.50" height="4.00" fill="#2b3a8f"/>
<rect x="133.50" y="640.20" width="1.50" height="5.00" fill="#2b3a8f"/>
<rect x="136.50" y="639.70" width="1.50" height="6.00" fill="#2b3a8f"/>
<rect x="139.00" y="640.20" width="2.00" height="5.00" fill="#2b3a8f"/>
<line x1="150.00" y1="642.70" x2="170.00" y2="642.70" stroke="#2b3a8f" stroke-width="0.8"/>
<rect x="150.50" y="639.70" width="1.50" height="6.00" fill="#2b3a8f"/>
<rect x="153.00" y="640.20" width="1.00" height="5.00" fill="#2b3a8f"/>
<rect x="154.80" y="639.70" width="1.20" height="6.00" fill="#2b3a8f"/>
<rect x="162.00" y="639.70" width="1.50" height="6.00" fill="#2b3a8f"/>
<rect x="164.50" y="640.20" width="1.00" height="5.00" fill="#2b3a8f"/>
<rect x="167.00" y="640.20" width="1.50" height="5.00" fill="#2b3a8f"/>
<rect x="169.00" y="640.70" width="1.00" height="4.00" fill="#2b3a8f"/>
<path d="M158.2,641.7 L159.4,642.7 L158.2,643.7" fill="none" stroke="#2b3a8f" stroke-width="0.5"/>
<line x1="179.00" y1="642.70" x2="193.20" y2="642.70" stroke="#2b3a8f" stroke-width="0.8"/>
<rect x="179.50" y="639.70" width="1.50" height="6.00" fill="#2b3a8f"/>
<rect x="182.00" y="640.20" width="2.50" height="5.00" fill="#2b3a8f"/>
<rect x="186.00" y="639.70" width="1.50" height="6.00" fill="#2b3a8f"/>
<rect x="188.00" y="640.70" width="1.00" height="4.00" fill="#2b3a8f"/>
<rect x="192.40" y="641.20" width="0.80" height="3.00" fill="#2b3a8f"/>
<line x1="201.70" y1="642.70" x2="222.00" y2="642.70" stroke="#2b3a8f" stroke-width="0.8"/>
<rect x="201.70" y="640.20" width="4.30" height="5.00" fill="#2b3a8f"/>
<rect x="207.00" y="640.70" width="2.00" height="4.00" fill="#2b3a8f"/>
<rect x="210.00" y="639.70" width="3.00" height="6.00" fill="#2b3a8f"/>
<rect x="214.00" y="640.70" width="3.00" height="4.00" fill="#2b3a8f"/>
<rect x="219.00" y="640.20" width="3.00" height="5.00" fill="#2b3a8f"/>
<text x="112.50" y="656.24" font-size="7.9" font-style="italic" fill="#231f20" stroke="#231f20" stroke-width="0.28">HOXA cluster</text>
<line x1="264.90" y1="643.10" x2="390.00" y2="643.10" stroke="#2b3a8f" stroke-width="0.8"/>
<rect x="264.90" y="640.60" width="5.90" height="5.00" fill="#2b3a8f"/>
<rect x="285.50" y="640.10" width="1.20" height="6.00" fill="#2b3a8f"/>
<rect x="288.00" y="640.10" width="1.20" height="6.00" fill="#2b3a8f"/>
<rect x="292.30" y="639.60" width="6.00" height="7.00" fill="#2b3a8f"/>
<rect x="336.40" y="640.10" width="1.20" height="6.00" fill="#2b3a8f"/>
<rect x="383.20" y="640.10" width="1.20" height="6.00" fill="#2b3a8f"/>
<rect x="386.40" y="640.10" width="1.20" height="6.00" fill="#2b3a8f"/>
<rect x="389.40" y="640.10" width="1.20" height="6.00" fill="#2b3a8f"/>
<path d="M279.6,642.1 L280.8,643.1 L279.6,644.1" fill="none" stroke="#2b3a8f" stroke-width="0.5"/>
<path d="M309.4,642.1 L310.6,643.1 L309.4,644.1" fill="none" stroke="#2b3a8f" stroke-width="0.5"/>
<path d="M319.0,642.1 L320.2,643.1 L319.0,644.1" fill="none" stroke="#2b3a8f" stroke-width="0.5"/>
<path d="M327.3,642.1 L328.5,643.1 L327.3,644.1" fill="none" stroke="#2b3a8f" stroke-width="0.5"/>
<path d="M342.8,642.1 L344.0,643.1 L342.8,644.1" fill="none" stroke="#2b3a8f" stroke-width="0.5"/>
<path d="M357.2,642.1 L358.4,643.1 L357.2,644.1" fill="none" stroke="#2b3a8f" stroke-width="0.5"/>
<path d="M369.2,642.1 L370.4,643.1 L369.2,644.1" fill="none" stroke="#2b3a8f" stroke-width="0.5"/>
<line x1="340.50" y1="642.40" x2="340.50" y2="643.80" stroke="#2b3a8f" stroke-width="0.5"/>
<text x="280.40" y="655.68" font-size="8" font-style="italic" fill="#231f20" stroke="#231f20" stroke-width="0.28">MEIS1</text>
<text x="367.00" y="655.68" font-size="8" font-style="italic" fill="#231f20" stroke="#231f20" stroke-width="0.28">IGF2BP2</text>
<line x1="425.50" y1="642.90" x2="482.50" y2="642.90" stroke="#2b3a8f" stroke-width="0.9"/>
<rect x="425.50" y="639.40" width="9.50" height="7.00" fill="#2b3a8f"/>
<rect x="438.00" y="640.40" width="1.20" height="5.00" fill="#2b3a8f"/>
<rect x="442.50" y="639.90" width="1.70" height="6.00" fill="#2b3a8f"/>
<rect x="445.50" y="639.90" width="3.20" height="6.00" fill="#2b3a8f"/>
<rect x="452.00" y="640.40" width="1.20" height="5.00" fill="#2b3a8f"/>
<rect x="458.70" y="639.40" width="3.80" height="7.00" fill="#2b3a8f"/>
<rect x="464.50" y="640.40" width="1.20" height="5.00" fill="#2b3a8f"/>
<rect x="473.70" y="640.40" width="4.30" height="5.00" fill="#2b3a8f"/>
<rect x="479.00" y="640.40" width="3.50" height="5.00" fill="#2b3a8f"/>
<path d="M468.2,641.9 L469.4,642.9 L468.2,643.9" fill="none" stroke="#2b3a8f" stroke-width="0.5"/>
<text x="441.30" y="655.68" font-size="8" font-style="italic" fill="#231f20" stroke="#231f20" stroke-width="0.28">GAPDH</text>
</svg></body></html>
